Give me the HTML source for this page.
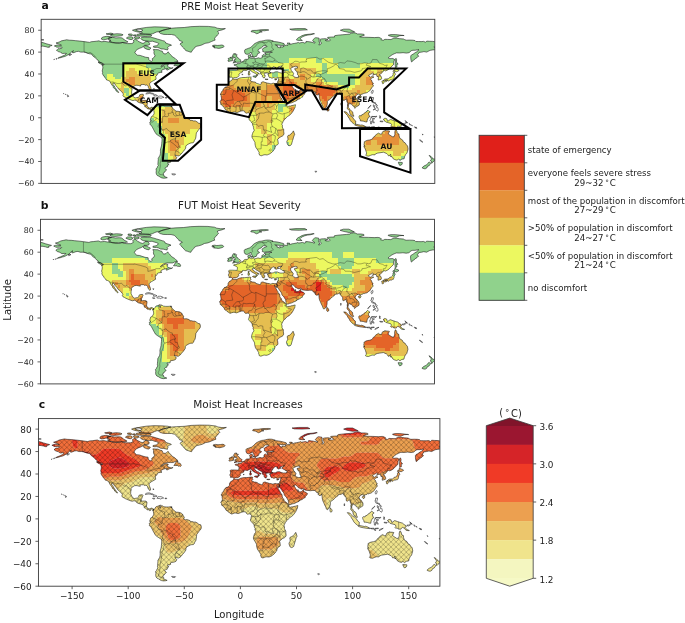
<!DOCTYPE html><html><head><meta charset="utf-8"><title>Moist Heat Severity</title><style>html,body{margin:0;padding:0;background:#fff;width:685px;height:623px;overflow:hidden}svg{display:block}text{font-family:"DejaVu Sans","Liberation Sans",sans-serif;fill:#1c1c1c}.tk{font-size:7.8px}.tk2{font-size:8.9px}.ti{font-size:10.2px}.pl{font-size:10.8px;font-weight:bold;fill:#111}.ax{font-size:10.1px}.lg{font-size:8.6px}.lg2{font-size:9.8px}.bx{font-size:7.6px;font-weight:bold;fill:#111}</style></head><body><svg width="685" height="623" viewBox="0 0 685 623"><defs><path id="land" d="M-168,65.6L-166.5,66.2L-164.5,66.6L-163.5,66.1L-161.5,66.3L-163,67L-164.5,67.6L-166.5,68.3L-164.5,68.9L-163,69.5L-161.5,70.3L-159,70.8L-156.8,71.3L-154.5,70.9L-152,70.8L-149,70.5L-145,70.1L-141,69.6L-138,69.2L-136,68.9L-134.5,69.5L-132,69.7L-129.5,70L-127.5,70.3L-125.5,69.5L-124,69.6L-122,69.8L-119,69.3L-116.5,69.2L-115,68.6L-112,68.3L-109,68L-107.5,68.2L-106,68.8L-104,68.1L-101.5,67.8L-98,67.8L-96.5,68.3L-95.5,69.5L-96.5,70.3L-95,71.5L-94,71.8L-93,71L-92,70L-90.5,69.3L-89,68.5L-87.5,68L-86,68.5L-85,69.8L-83,69.7L-82,69L-81.3,68.1L-81.5,66.8L-83.5,66.2L-86,66.3L-87,65.2L-88.5,64.2L-90.5,63.5L-92.5,62.5L-94,61.2L-94.8,59.5L-94.2,58.7L-92.5,57.2L-90,57L-88,56.3L-85,55.3L-82.3,55L-82.1,53.2L-81.2,52.2L-79.5,51.5L-78.8,52.5L-79,54L-77,55.5L-76.5,56.8L-77.3,58.3L-77.5,59.5L-77.3,60.8L-78,62.4L-76,62.3L-73.5,62.2L-71.5,61.2L-69.8,60.8L-69.3,59.3L-68.3,58.5L-67,58.4L-66,58.8L-64.5,60.3L-63.8,59.1L-62.5,57.8L-61.5,56.8L-60.7,55.7L-58.5,54.5L-57.3,53.3L-55.9,52.2L-56.9,51.4L-58.2,51.1L-60,50.2L-62.5,50.2L-65,50.2L-66.8,49.8L-68.5,49.2L-69.8,48.2L-71.2,46.9L-70,47.3L-68.2,48.5L-66.5,49.2L-64.5,48.9L-64.3,48.2L-65.3,47.8L-64.8,46.9L-64.3,46.3L-62.5,45.7L-61,45.3L-60,45.9L-61.2,45.2L-63.3,44.6L-65.3,43.6L-66.1,43.9L-65,45.2L-67,44.8L-68.5,44.3L-70.2,43.6L-70.8,42.8L-70.6,41.8L-69.9,41.8L-70.3,41.5L-71.5,41.4L-73,41.1L-74,40.6L-74.1,39.8L-74.9,38.9L-75.5,39.5L-75.1,38.4L-76,37.8L-75.7,36.9L-75.5,35.3L-76.5,34.7L-77.9,33.9L-79.2,33.2L-80.5,32.3L-81.3,31.3L-81.4,30.2L-81,29.1L-80.5,28L-80.1,26.8L-80.2,25.6L-80.9,25.2L-81.3,25.9L-81.8,26.3L-82.5,27.6L-82.7,28.7L-83.5,29.6L-84.3,30L-85.4,29.7L-86.3,30.4L-88,30.4L-89.3,30.3L-89.5,29.4L-89.2,29.1L-90.2,29.1L-91.5,29.5L-93,29.7L-94.5,29.5L-95.5,28.8L-96.8,28.1L-97.4,27.2L-97.4,25.8L-97.7,24.3L-97.8,22.5L-97.3,21.2L-96.5,19.8L-95.8,18.7L-94.6,18.1L-93.2,18.4L-91.8,18.6L-90.7,19.6L-90.4,21L-89,21.4L-87.3,21.5L-86.8,20.8L-87.4,19.6L-87.8,18.3L-88.3,17.6L-88.3,16.2L-88.8,15.8L-87.5,15.8L-85.8,15.9L-84.3,15.8L-83.3,15L-83.3,14L-83.6,12.3L-83.7,11L-83,10L-82.2,9.1L-81.4,8.8L-80.3,9.2L-79.5,9.6L-78.5,9.4L-77.4,8.7L-77.2,7.9L-77.9,7.2L-78.5,8.3L-79.5,8.9L-80.4,8.3L-80,7.5L-80.9,7.3L-81.7,8.1L-82.9,8.1L-83.6,8.6L-84.9,9.8L-85.7,9.9L-85.8,11.1L-86.6,12L-87.5,12.9L-88.5,13.2L-89.8,13.5L-91.3,13.9L-92.3,14.6L-93.5,15.7L-94.7,16.2L-96.5,15.7L-97.9,16.1L-99.4,16.7L-101.1,17.4L-102.5,18L-103.6,18.7L-105,19.3L-105.7,20.4L-105.2,21.6L-105.8,22.6L-106.9,23.8L-108,25L-109.4,26L-110.5,27.7L-111.3,28.6L-112.3,29.6L-113,31.1L-113.9,31.6L-114.8,31.8L-114.6,30.2L-113.5,29L-112.7,27.5L-111.5,25.9L-110.7,24.8L-110.2,24.2L-109.5,23.2L-110,22.9L-111,24.1L-112.1,24.8L-112.3,26L-113.5,26.8L-114.5,27.7L-114.2,28.2L-115.5,29.7L-116.3,30.9L-117.1,32.5L-117.4,33.3L-118.4,33.8L-119.2,34.2L-120.6,34.6L-120.9,35.5L-121.9,36.5L-122.4,37.2L-122.5,37.8L-123,38L-123.8,39.3L-124.3,40.3L-124.1,41.5L-124.5,42.8L-124.1,44.5L-123.9,46.2L-124.1,47L-124.7,48.4L-123.2,48.1L-122.8,49L-123.5,49.5L-124.9,50L-125.6,50.4L-127.5,51L-127.8,52.2L-129.1,53L-130.1,54.2L-130.6,54.8L-131.8,55.5L-133.3,56.8L-134.2,58.2L-135.8,58.4L-137.2,58.8L-139.5,59.7L-141.5,60L-144,60L-146,60.7L-147.8,60.5L-149.3,59.9L-151.2,59.3L-151.8,60.2L-150.5,61.2L-152,60.5L-153.3,59.3L-154,58.2L-155.5,57.6L-157,56.7L-158.5,56L-160.2,55.6L-162,55L-163.5,54.7L-164.8,54.4L-163.2,55.3L-161.6,55.9L-160.3,56.5L-158.5,57.3L-157.5,58.2L-157,58.8L-158.5,58.9L-160.5,58.7L-162,59.5L-162.5,60L-164.5,60.5L-165.3,61.2L-166.1,61.6L-165.2,62.4L-164.6,63.1L-163,63.1L-161.5,63.5L-160.8,64.2L-161.5,64.5L-163,64.6L-165,64.5L-166.3,64.6L-166.8,65.2L-168,65.6ZM-73,78.3L-70,79.8L-66,81L-62,81.8L-57,82.2L-50,82.5L-44,83.3L-36,83.6L-28,83.5L-22,82.8L-20,81.9L-16.5,81.4L-12.5,81.5L-15.5,80.3L-19,79.5L-19.5,78.4L-18.3,77.2L-19.5,76L-20.3,74.8L-21.8,73.5L-22.3,72.3L-21.8,71L-23.5,70.4L-25.3,69.6L-28,68.5L-31,68L-34,66.5L-36.5,65.8L-38.5,65.4L-40,64.7L-40.8,63.5L-42,62.2L-43,60.9L-43.5,59.9L-44.6,60.1L-46.5,60.8L-48.3,61.3L-49.5,62.5L-50.5,63.8L-51.6,64.8L-52.5,66L-53.6,67.2L-53,68.3L-51.2,69L-52.5,70L-54.3,70.6L-54.5,71.5L-55.8,72.5L-57,74L-58.6,75.4L-61.5,76.1L-65,76.1L-68.5,76.2L-71.5,77L-73,78.3ZM-65,62L-66.5,62.3L-68.5,62.8L-71,62.9L-72.7,63.8L-74.5,64.4L-76.5,64.3L-78,64.6L-77.8,65.4L-75,65.9L-73.7,66.7L-73,67.8L-74.5,68.7L-76.8,69.3L-78.7,70L-81,69.8L-84.2,70.2L-86.5,70.5L-88.5,71.4L-89.5,72.5L-88.5,73.5L-86,73.8L-83,73.6L-80.5,73.7L-77,72.8L-74.5,72L-72,71.3L-69.5,70.5L-68,70.1L-67,69.2L-66.8,68.3L-64.5,67.5L-62.2,66.8L-61.5,66.3L-63.3,65.7L-64.2,65.1L-65,64.2L-64.5,63.5L-65,62.8ZM-118.5,73.3L-115,73.5L-112,73L-108.5,73.2L-106.5,73L-105,72L-104.2,71L-102,70L-101,69.2L-103.5,68.8L-106.5,68.8L-109,68.6L-112,68.5L-115,68.9L-117.5,69.5L-118.4,70.3L-116.5,70.6L-117.5,71.2L-119,71.6L-118.5,72.5ZM-125.3,71.9L-124.8,73.2L-123.5,73.9L-120.5,74.4L-117.5,74.2L-115.5,73.5L-117.3,72.9L-119.2,72.2L-121.5,71.5L-123.5,71.2ZM-89.5,76.5L-85,76.3L-81,76.3L-78.5,76.8L-76.5,77.8L-75,78.4L-73,78.7L-71,79.3L-68.5,80.2L-65,80.9L-62,81.9L-65,82.6L-70,82.9L-77,83.1L-84,82.6L-89,81.8L-92.5,80.9L-94,80.2L-92,79.4L-89,78.6L-88,77.8L-90.5,77.2ZM-90.5,78.2L-93,78.6L-95.5,79.3L-97,80L-95,80.7L-92,81.3L-89.5,80.8L-87.5,80.2L-88.5,79.2ZM-80,74.6L-85,74.4L-89.5,74.6L-92,75L-93.2,75.6L-92.5,76.3L-89,76.6L-85,76.5L-81.5,76.3L-79.5,75.6ZM-117,75.5L-115.5,76.4L-111,76.8L-107.5,76.6L-105.5,75.9L-106.5,75.1L-109,74.7L-112.5,74.4L-115.5,74.6ZM-96.6,72L-98.2,71.4L-100.5,71.9L-102.5,72.8L-101,73.9L-98,74L-96.4,73.2ZM-90.6,73.8L-94.8,74.1L-95.4,73L-94,72.2L-92.2,72L-90.6,72.7ZM-97.2,75.1L-100.5,75.5L-100.5,76.5L-98,76.6L-96.8,75.8ZM-93.5,74.8L-96,75L-96.2,75.6L-94,75.8ZM-114.5,76.6L-116.5,77.4L-121,76.7L-119.5,76L-116.5,76.1ZM-81.5,62.2L-83.5,62.5L-86,63.6L-86.8,64.8L-85.8,65.9L-83.8,65.6L-82,64.6L-80.2,63.8ZM-24.5,65.5L-23.8,66.1L-22,66.4L-20,66.1L-18,66.2L-16,66.5L-14.5,66.2L-13.6,65.2L-14.6,64.4L-16.5,63.8L-18.5,63.4L-20.5,63.7L-22.7,63.9L-22,64.5L-23.8,64.8L-22.3,65.2ZM-59.3,47.6L-58.5,48.6L-57.6,50.2L-56.6,51.3L-55.6,51.6L-55.9,50.5L-55.3,49.8L-54,49.6L-53.4,49.2L-53,48.3L-52.7,47.5L-53.4,46.7L-53.9,47.1L-54.6,47.1L-55.4,46.9L-56,47.6L-57.7,47.6ZM-123.3,48.4L-124.7,48.6L-125.9,49.2L-127.5,50.1L-128.3,50.8L-127,50.7L-125.3,50.2L-124,49.3ZM-84.9,21.9L-84,22.7L-82.5,23.1L-81,23.1L-79.5,22.5L-78,22.2L-77,21.4L-75.7,21L-74.2,20.2L-75.5,19.9L-77.6,19.9L-77.2,20.6L-78.4,21.6L-80.3,22L-81.6,22.2L-83,22L-84,21.8ZM-74.4,18.4L-73.2,19.8L-72,19.8L-70.8,19.8L-69.5,19.3L-68.4,18.6L-69.9,18.3L-71.1,17.7L-71.8,18.1L-73.5,18.2ZM-78.3,18.4L-76.5,18.4L-76.2,17.9L-77.2,17.7L-78.3,18.2ZM-67.2,18.5L-65.6,18.4L-65.7,18L-67.2,18ZM-77.4,8.7L-76.8,8.6L-76,9.5L-75.5,10.5L-74.8,11L-73.5,11.3L-72.2,11.9L-71.3,12.4L-71.3,11.5L-71.9,10.8L-71.6,9.5L-71,9.7L-71.2,10.9L-70.2,11.4L-70.1,12L-69.4,11.5L-68.3,10.8L-66.3,10.6L-64.2,10.6L-63,10.7L-62,10.7L-61,9.8L-60.5,8.6L-59.3,7.7L-58.4,6.9L-57.3,6L-55.5,5.9L-54,5.6L-52.6,5L-51.6,4.2L-51,3L-50.3,1.8L-49.9,1L-50.7,0L-49,-0.8L-47.8,-0.6L-46.3,-1L-44.8,-1.6L-44.3,-2.6L-43,-2.4L-41.5,-2.9L-39.7,-2.9L-38,-4L-37,-4.9L-35.3,-5.3L-34.8,-7.3L-35.1,-9L-36.4,-10.5L-37.2,-11.5L-38.2,-13L-38.9,-13.8L-39.1,-15.5L-39.3,-17.5L-39.7,-19.3L-40.7,-20.8L-41,-22L-41.9,-22.9L-43.5,-23L-44.6,-23.3L-46,-24L-47.6,-24.9L-48.5,-26L-48.6,-27.8L-49.6,-29.3L-50.6,-30.7L-51.9,-32L-52.7,-33.2L-53.6,-34L-54.9,-34.9L-55.9,-34.8L-57,-34.5L-58.4,-34.1L-58.3,-34.6L-57.2,-35.6L-56.7,-36.4L-57.5,-37.9L-59,-38.5L-61.5,-38.9L-62.3,-39.3L-62.2,-40.6L-63.6,-41.1L-65,-40.9L-65.1,-41.7L-64.2,-42.3L-63.7,-42.8L-65,-43.2L-65.2,-44.8L-66.5,-45.1L-67.5,-46.3L-66.6,-47L-65.9,-47.8L-67.2,-48.7L-67.8,-49.9L-68.7,-50.3L-69.1,-51.6L-68.3,-52.3L-68.5,-53.3L-67.2,-54L-65.3,-54.8L-66.5,-55.1L-68.5,-55.3L-70.3,-55L-71.6,-54.4L-72.9,-53.5L-74.4,-52.8L-75.2,-51.7L-75.5,-50L-75.3,-48.5L-75.6,-46.8L-74.6,-45.8L-74.2,-44.5L-73.4,-43.8L-73.9,-42.7L-73.8,-41.4L-73.7,-39.8L-73.5,-38.3L-73.6,-37.2L-72.8,-35.8L-71.9,-34.2L-71.6,-32.8L-71.5,-31.1L-71.6,-29.6L-71.3,-28L-70.9,-26.8L-70.5,-25L-70.4,-23.5L-70.2,-21.5L-70.1,-19.8L-70.3,-18.3L-71.4,-17.6L-72.7,-16.8L-74.2,-15.8L-75.6,-14.7L-76.3,-13.5L-77.1,-12.1L-77.8,-10.8L-78.6,-9.2L-79.4,-7.8L-79.9,-6.9L-81.2,-6L-80.9,-5L-81.3,-4.1L-80.3,-3.4L-79.8,-2.6L-80.3,-2.7L-80.9,-2.2L-80.5,-1L-80.1,0.1L-80,0.8L-79,1.2L-78.6,1.8L-77.9,2.6L-77.3,3.8L-77.3,4.7L-77.5,6.3L-77.9,7.2L-77.3,7.9ZM-5.9,35.8L-5,35.3L-3.5,35.2L-2,35.1L-1,35.6L0.5,36.3L2,36.6L3.5,36.8L5.5,36.8L7.5,37L9.8,37.3L11.1,37L10.5,36.4L10.8,35.6L11.1,35.2L10.3,34.4L10.1,33.8L11.1,33.3L12.5,32.8L13.9,32.7L15.3,32.2L15.7,31.4L17.2,31.1L18.7,30.5L19.6,30.5L20.1,31.2L20,32.1L20.9,32.7L22,32.9L23.2,32.4L24.9,31.9L25.9,31.6L27.4,31.4L29,30.9L30,31.3L31,31.6L32.2,31.3L34.2,31.3L34.9,29.5L34.4,28.3L34.2,27.8L33.8,28.2L33.2,28.9L32.6,29.9L32.4,29.6L32.8,28.7L33.4,27.6L34,26.5L34.8,25.1L35.6,23.9L35.6,23.1L36.9,22L37.2,21L37.3,19.5L37.9,18.4L38.6,17.6L39.2,16L39.7,15.4L41.2,14.5L42.3,13.4L43.3,12.5L43.2,11.6L42.7,11.5L43.6,10.8L44.6,10.4L45.6,10.7L46.7,10.7L47.7,11.1L49,11.3L50.3,11.7L51.2,11.9L51,10.6L50.8,9.4L50,8L49.5,6.8L48.6,5.4L47.7,4.2L46.6,2.9L45.6,2.1L44.1,1.2L42.8,0L41.8,-1.2L41,-2L40.2,-2.8L39.6,-4.3L39.2,-4.9L38.8,-6.4L39.4,-7.1L39.2,-8.5L39.9,-10.1L40.5,-10.8L40.5,-12.5L40.8,-14.7L40.1,-16.1L39.4,-16.7L37.4,-17.6L36.3,-18.7L34.8,-19.8L35.3,-21.2L35.4,-22.1L35.6,-23.7L35.1,-24.5L33.8,-25.2L32.9,-26.1L32.6,-27.4L32.4,-28.5L31.5,-29.3L30.9,-30.4L30,-31.3L28.9,-32.2L27.5,-33.2L26.4,-33.6L25.8,-33.9L24.7,-34L23.6,-33.8L22.6,-33.9L21.5,-34.3L20,-34.8L19.2,-34.5L18.4,-34.1L18.4,-33.2L18,-32.6L18.2,-31.7L17.6,-30.7L17.1,-29.9L16.3,-28.6L15.6,-27.8L15.2,-27.1L14.7,-25.4L14.4,-23.9L14.4,-22.7L13.9,-21.7L13.4,-20.9L12.8,-19.7L12.2,-18.9L11.7,-17.8L11.6,-16.7L11.8,-15.8L12.2,-14.4L12.7,-13.1L13.6,-12L13.7,-11.3L13.2,-10.1L12.9,-9.2L13.2,-8.6L12.5,-7.3L12.2,-6.3L12.3,-5.7L11.9,-5L11.1,-3.9L10.1,-2.9L9.4,-2.1L8.8,-1.1L9.3,0L9.5,1L9.8,2.3L9.9,3.1L9.4,3.7L8.9,4.1L8.5,4.5L7.5,4.4L6.7,4.2L5.9,4.3L5.4,4.9L4.8,6.1L4.3,6.3L2.7,6.3L1.9,6.1L1.1,5.9L-0.5,5.3L-1.1,5L-2,4.7L-3.3,5L-4,5.2L-5,5.2L-6.6,4.7L-7.5,4.3L-8.4,4.5L-9.3,5.2L-10.8,6.2L-11.4,6.8L-12.1,7.3L-12.9,7.8L-13.2,8.9L-13.7,9.5L-14.5,10.2L-14.7,10.7L-15.1,11L-15.7,11.5L-16.1,11.6L-16.7,12.4L-16.8,13.2L-16.7,13.6L-17.1,14.4L-17.6,14.7L-17.2,14.9L-16.5,16.1L-16.1,17L-16.1,18.1L-16.3,19.1L-16.4,19.6L-16.3,20.1L-16.5,20.6L-17,21L-16.9,21.9L-16.3,22.7L-16.1,23.6L-15.4,24.4L-15.1,24.5L-14.8,25.1L-14.4,26.3L-13.8,26.6L-13.1,27.7L-12.6,28L-11.7,28.1L-10.9,28.8L-10.4,29.1L-9.6,29.9L-9.8,31.2L-9.4,32L-8.7,33.2L-7.7,33.7L-6.9,34.1L-6.2,35.1ZM49.3,-12L49.9,-13.5L50.5,-15.5L49.9,-16.5L49.5,-17.7L49,-19.5L48.5,-21L48,-22.8L47.5,-24.5L47,-25.1L45.4,-25.6L44.4,-25.1L43.7,-23.6L43.3,-22L43.5,-21.3L44.4,-19.8L44.3,-18.6L44,-17.2L44.5,-16.2L46,-15.8L47.1,-14.9L47.8,-14L48.3,-13.6L49,-12.5ZM-5.6,36L-6.3,36.5L-6.9,37.2L-7.9,37L-8.9,37L-8.8,38L-9.3,38.7L-9.4,39.4L-8.9,40.2L-8.7,41.3L-8.9,42.1L-9.3,43L-8.2,43.6L-7,43.6L-5.5,43.6L-3.8,43.5L-1.8,43.4L-1.4,44.2L-1.2,45.5L-1.2,46.2L-2.1,46.8L-2.5,47.3L-3.5,47.7L-4.5,47.9L-4.7,48.4L-4,48.7L-3,48.8L-1.9,48.7L-1.6,49.7L-1.1,49.4L0.2,49.5L1,49.9L1.6,50.3L1.7,50.9L2.5,51.1L3.5,51.5L4,51.9L4.7,52.5L4.9,53L5.8,53.4L7,53.4L8.1,53.5L8.6,53.9L8.6,55.4L8.1,56.5L8.6,57.1L9.9,57.6L10.6,57.7L10.5,57.2L10.3,56.6L10.9,56.4L10.2,55.9L9.8,55.3L9.9,54.8L10.9,54.4L11.5,54.1L12.5,54.4L13.6,54.6L14.3,53.9L16,54.3L17.5,54.8L18.7,54.4L19.6,54.4L21.2,55.2L21,56.2L21.1,57L21.6,57.5L22.6,57.8L23.5,57L24.1,57.1L24.4,58.3L23.5,58.5L23.4,59.2L24.6,59.5L26.5,59.6L28,59.5L30.2,59.9L29,60.2L27.8,60.5L26,60.4L23,59.9L22.8,60.2L21.4,60.6L21.5,61.6L21.2,62.5L21.5,63.2L22.5,63.8L24.5,64.8L25.4,65.1L25.2,65.6L24.1,65.8L22.4,65.9L21.4,65.3L21.2,64.7L20.3,63.9L19,63.4L18,62.7L17.4,62.3L17.2,61.2L17.3,60.6L18.6,60.2L18.8,59.6L18.3,59.2L16.7,58.5L16.5,57.5L16,56.6L15.8,56.1L14.5,56.1L14.2,55.4L12.9,55.4L12.7,56.1L12.4,56.6L11.9,57.5L11.5,58.3L11.1,59.1L10.6,59.8L10.2,59.2L9.3,58.8L8.3,58.1L7,58L5.6,58.6L5.3,59.3L5,60L5,61L5,61.8L5.5,62.4L7,62.9L8.5,63.5L10,64L11,64.8L12.3,65.8L13.2,67L14.5,68L15.7,68.6L17,69.2L18.8,69.9L20.5,70.1L22,70.4L24,70.9L26,71.1L28,71L29.6,70.6L31,70.2L30.2,69.8L32.5,69.6L35.5,69.2L38.5,68.5L40.8,67.8L41.2,66.8L40.3,66.3L38.5,66.1L35.5,66.4L34.2,66.6L32.7,66.8L33.3,66.2L34.8,65.9L34.8,64.6L36.5,64.2L37.2,63.8L37.7,64.4L37,65L38.5,64.8L40,64.6L40.5,65.1L39.8,65.5L41.5,66L43,66.4L44.1,66L44.3,67.2L43.8,68.4L46,68.2L46.5,67.8L45.3,67.5L46.5,67L48.5,67.7L50,67.9L52.5,68.4L53.8,68.9L54.5,68.3L56,68.6L58,68.9L59.5,68.3L61,68.9L60.8,69.8L63.5,69.5L65.3,69.2L67.2,68.8L68.3,68.2L69.2,68.8L68.2,69.3L67.2,70L66.8,70.7L67.3,71.5L68.5,72.6L69.5,73.2L71.5,73L72.7,72.7L72.6,71.3L72.8,70.2L72.6,69.2L73.6,68.4L73,67.4L72.4,66.6L73.8,66.8L74.7,67.7L74.5,68.8L73.6,69.8L73.8,71L73.3,71.5L74.8,72.1L76.8,72.2L78.5,72.3L80.7,71.6L79.5,71L78.2,70.9L79.2,70.3L82.3,70.3L83,71L82.2,72L80.6,72.6L80.5,73.5L84,73.8L86.8,73.8L86.5,74.6L87.1,75.1L90,75.5L94,75.9L98,76.2L100.5,76.5L102,77.3L104.3,77.7L106,77.4L107.5,76.6L111,76.6L113.5,76.2L113.8,75.4L112.5,75L110.5,74.3L109.5,74L112,73.6L114,73.6L118,73.5L123,73.3L126.5,73.5L128.5,73L129.5,72L128.8,71.4L131,70.8L132.5,71.7L135,71.6L138,71.5L140,72.5L141,72.8L143,72.7L146,72.3L149.5,72L150.5,71.4L152,70.9L155,71L158,70.9L159.8,70.6L160.7,69.7L163,69.7L165.5,69.6L167.8,69.8L169.5,69L170.5,70.1L173,69.9L176,69.8L178.5,69.4L180,69L180,65L177,64.7L178.7,63.5L179.2,62.3L176,62L173.5,61.6L170.5,60L168,60.5L166,60L164.5,59.8L163.5,59.8L163,58.5L162,57.8L163.2,56.2L162.5,56L161.8,55L160,54L159.5,53.2L158.5,52.8L158,52L156.7,51L156.3,52.5L156,54.5L156,56.5L156.8,57.5L158,58L160,59.5L161.5,60.3L163.5,62.3L160,61.7L158,61.7L156.5,61.3L154.5,59.5L152,59.1L149,59.5L146,59.2L143,59.3L141,58.5L139,57.5L137,56L135.5,54.7L137,54L138.5,54.2L139.7,54.2L141.3,53.3L141,52.3L140.5,51L140.5,50L140.3,48.5L139,47.3L138,46.3L136.8,45L135.3,43.8L133.2,42.8L132,43.2L131,42.6L130.7,42.3L129.8,41L128.5,40L127.5,39.7L127.5,39.2L128.4,38.6L129.3,37.2L129.5,35.8L129.2,35.2L128,34.9L126.5,34.4L126.4,35.3L126.6,36.8L126.1,37.7L125.3,37.7L125.1,38.5L124.7,39.6L123.5,39.8L122,39L121.2,38.8L121.8,39.4L122.3,40.4L121.5,40.9L120.5,40.3L119.5,39.8L118.5,39.2L117.7,38.8L118,38L118.9,37.5L119.3,37.1L120.5,37.7L121.5,37.5L122.6,37.3L122.2,36.9L121,36.6L120.2,36.1L119.3,35.1L120.3,34.4L120.8,33L120.9,32.3L121.9,31.7L121.9,30.9L121,30.6L122,29.8L121.8,28.8L121,28L120.5,27.2L119.7,26.1L119.3,25.4L118.7,24.6L117.6,24L116.5,23L115.2,22.7L114.2,22.3L113.5,22.6L113,22L111.8,21.6L110.5,21.2L110.2,20.3L109.8,21.4L108.5,21.6L107.4,21.3L106.6,20.5L105.8,19.3L105.7,18.6L106.6,17.4L107.5,16.4L108.7,15.2L109.3,13.5L109.2,11.6L108,10.8L106.8,10.3L106,9.3L105.1,8.6L104.8,9.5L105,10L104.5,10.5L103.5,10.6L102.9,11.7L102.3,12.3L101,12.7L100.9,13.5L100.1,13.4L99.9,12.5L99.2,10.8L99.3,9.3L100.3,8.3L100.5,7.2L101.3,6.9L102.2,6.2L103,5.5L103.4,4.4L103.4,3.3L103.9,2.5L104.3,1.4L103.5,1.3L102.6,2L101.3,2.9L100.7,3.9L100.4,5L100.3,6.3L99.7,6.8L99,7.8L98.3,8.3L98.4,9.5L98.7,10.5L98.5,12L98.8,13L98.1,14.5L97.7,16L97.4,16.9L96.5,16.6L95.4,15.8L94.5,16L94.3,17.5L94.4,18.8L93.5,19.6L92.8,20.6L92.2,21.3L91.9,22.3L91.3,22.6L90.6,22.3L89.7,21.9L89,21.8L88.2,21.7L86.9,21.3L86.7,20.3L85.8,19.8L85,19.3L84.1,18.3L82.3,16.6L81.5,16.3L80.7,15.6L80.2,15L80.2,13.3L80.1,12.3L79.8,11.3L79.8,10.3L79.2,10.2L78.9,9.3L78.2,8.9L77.5,8.1L77,8.4L76.6,9L76.2,10.2L75.7,11.3L75.2,12.2L74.6,13.6L74.1,14.9L73.5,16L73.1,17.5L72.9,18.9L72.8,20L72.7,21.2L72.5,22.3L72.2,21.2L71,20.8L70,21L69,22.3L69.6,22.5L70.3,22.9L68.8,23.1L68.2,23.7L67.4,24L67,24.8L66.6,25.4L65.5,25.3L64,25.3L62.4,25.1L61.5,25.2L59.6,25.4L58.4,25.6L57.3,25.8L57,26.8L56.4,27.2L55.6,26.9L54.7,26.5L53.5,26.9L52.3,27.6L51.5,27.9L50.8,28.8L50.2,29.6L49.5,30L48.9,30.3L48.4,29.9L48,29.9L47.9,29.4L48.4,28.5L48.8,27.7L49.6,26.9L50.1,26.3L50.2,25.7L50.6,25L51,24.6L51.3,26.1L51.6,25.3L51.6,24.5L52.5,24.2L53.8,24.1L54.6,24.5L55.5,25.3L56.1,26.1L56.4,26.3L56.3,25.3L56.4,24.8L57.2,23.9L58.6,23.6L59.4,22.6L59.8,22.5L59.3,21.4L58.5,20.5L57.8,19.9L57.7,18.9L56.6,18.6L55.7,17.9L55.2,17.3L53.9,16.9L52.4,16.2L52.2,15.6L49.6,14.5L48.7,14L47.5,13.6L45.9,13.3L45,12.8L43.5,12.7L43.2,13.3L42.8,14.3L42.8,15.3L42.6,16.5L41.8,17.8L40.9,19.4L39.8,20.4L39.1,21.5L38.9,22.5L38.2,24L37.5,24.5L37.1,25.2L36.6,25.9L36,26.9L35.1,28L34.6,28.1L34.8,28.9L35,29.5L34.2,31.3L34.5,31.6L34.9,32.5L35.1,33.1L35.5,33.9L35.9,34.6L35.8,35.5L36,35.9L36.2,36.6L35.6,36.6L34.7,36.8L34,36.3L33.2,36.1L32.4,36.2L31.5,36.7L30.6,36.7L30.4,36.2L29.6,36.2L28.7,36.7L27.6,36.7L27.2,37.7L26.4,38.2L26.8,38.7L26.7,39.3L26.1,39.5L26.2,40.1L27.5,40.4L29.1,41.1L30.5,41.1L31.4,41.2L32.5,41.8L33.4,42L35,42L35.5,41.7L36.9,41.2L38.3,40.9L39.5,41L40.4,41L41.5,41.5L41.7,42.1L41.5,42.7L40.3,43.1L39,44L37.6,44.7L37,45.3L38,46.2L39.2,47.2L37.5,47L35.5,46.5L35,45.7L36.5,45.4L35.5,45.1L34.5,44.6L33.6,44.4L33.5,45L32.5,45.4L33.6,45.9L32.5,46.1L31.6,46.6L30.8,46.5L30.2,45.8L29.6,45.3L28.8,44.6L28.6,43.7L27.9,43L27.9,42.6L27.5,42.4L28,41.8L28.5,41.3L29,41.2L27.5,41L26.4,40.6L26,40.8L25.5,40.9L24.5,40.9L23.7,40.7L22.9,40.6L22.6,40.2L23,39.3L22.7,38.9L24,38.2L23.1,37.4L23,36.5L22.4,36.5L21.7,36.8L21.1,37.8L21.5,38.3L20.8,38.8L20.2,39.6L19.4,40.3L19.5,41.2L19.4,41.9L18.5,42.4L17.5,43L16.4,43.5L15.5,44L14.9,44.6L14.5,45.2L13.8,44.9L13.6,45.6L13.1,45.7L12.4,45.4L12.3,44.8L12.4,44.2L13.5,43.6L14,42.7L14.8,42L16,41.9L16.2,41.6L17.3,40.9L18,40.6L18.5,40.1L18.3,39.8L17.2,40.4L16.6,40L16.5,39.6L17.1,39.1L16.6,38.4L16.1,38L15.7,37.9L15.7,38.7L16.2,38.9L15.7,40L15,40.2L14.6,40.6L14,40.9L13.1,41.3L12.2,41.8L11.3,42.4L10.6,42.9L10.3,43.7L9.7,44.1L8.8,44.4L8.1,43.9L7.5,43.8L6.6,43.2L5.5,43.2L4.5,43.4L3.4,43.3L3.1,42.5L3.2,42L2.2,41.3L0.9,40.9L0.2,40.2L-0.3,39.5L0.2,38.8L-0.5,38.3L-0.8,37.6L-1.6,37.2L-2.1,36.7L-3.4,36.7L-4.4,36.7L-5,36.4ZM-180,69L-178,68.6L-175.5,67.7L-173,67L-171.5,66.6L-170,66.2L-171.5,65.6L-172.8,65.3L-172.5,64.4L-174,64.4L-175.5,64.9L-177.5,65.3L-178.8,65.5L-180,65ZM-5.7,50.1L-4,50.4L-3,50.7L-1.5,50.7L0.5,50.8L1.4,51.2L0.9,51.8L1.7,52.6L1.3,53L0.3,53.4L-0.2,54L-0.6,54.5L-1.3,54.9L-1.6,55.6L-2.5,56L-2.8,56.4L-2.1,57.1L-1.8,57.6L-3.3,57.7L-4,57.6L-3.1,58.6L-5,58.6L-5.3,58L-5.8,57.3L-5.6,56.5L-6.3,56.3L-5.5,55.5L-4.9,55.7L-4.7,55L-5.1,54.8L-3.5,54.9L-3.3,54.3L-3,53.8L-3.1,53.3L-4.2,53.3L-4.6,52.8L-4.1,52.3L-5.2,51.8L-4.2,51.6L-3.2,51.4L-4,51.2L-4.5,50.9L-5.2,50.5ZM-6,52.2L-6,53.3L-6.1,54L-5.5,54.4L-6,55.2L-7.3,55.3L-8.3,55.1L-8.6,54.6L-10,54.2L-9.8,53.5L-9,53.2L-9.9,52.6L-10.3,51.9L-9.6,51.5L-8.2,51.8L-6.3,52.2ZM11,78.6L13.5,78.2L16,76.8L17.5,77.3L19,78.2L21,78.5L18.5,79.3L20,79.7L23,79.5L27,80.2L25,80.6L20,80.5L16,79.9L12,79.8L11,79.3ZM52,71.3L53,70.8L55.5,70.6L57.5,70.7L56,71.5L55.7,72.5L56.5,73.3L58,74.2L60,75L62.5,75.6L65,75.9L68.5,76.8L68,77L64,76.4L60,76L57,75L55.5,74L54,73.3L53,72.5L52.5,71.6ZM95,79L100,78L105,78.5L103,79.5L100,81L95,81L92,80ZM136,75L140,74L143,73.7L146,75L149,75.3L150,75.1L146,75.6L142,76L138,76L135.5,75.5ZM48,80.2L55,80L62,80.4L60,81.5L52,81.5L46,81ZM142,46L143.5,46.5L143.3,49L144.5,49L143,51L143.2,53L142.7,54.3L142.2,54L141.7,53.3L142,51.5L141.8,48.5L142,47L141.9,46ZM141,41.5L141.5,42.6L143.3,42L145.5,43.3L144.5,44.1L143,44.5L141.8,45.4L141.5,44.3L141.4,43.2L140.3,43.3L140,42.3L140.5,41.8ZM141.4,41.4L142,39.5L141,38.3L141,37L140.6,36L140.8,35.7L140,35L139.5,35.2L138.8,34.6L137.3,34.6L136.8,34.3L136,33.5L135,33.8L135,34.6L133.5,34.5L132,33.9L131,34L131.3,34.5L132.5,35.4L134,35.5L135.5,35.6L136.5,36.2L137,37L138.5,37.4L139.5,38.3L140,39.5L140,40.5L140.3,41.2ZM129.8,33.4L130.9,33.9L131.7,33.3L132,32.8L131.3,31.4L130.6,31L130.2,31.5L130.1,32.7L129.7,33ZM132.5,33.3L133,32.8L134.2,33.3L134.7,33.8L134.2,34.3L133,34.1L132.6,33.8ZM120.1,23L120.7,22L121.5,22.7L121.9,24.5L121.5,25.3L120.8,24.8L120.2,23.8ZM108.6,19.2L109.2,18.4L110.2,18.2L111,19.6L110.6,20.1L109.7,20L108.7,19.8ZM79.8,7L80,9.8L80.5,9.4L81.3,8.5L81.8,7.3L81.6,6.5L80.6,5.95L80.1,6.3ZM120.6,18.5L122.2,18.5L122.1,17L121.6,16L121.6,15.2L122,14L123.9,13.8L124.2,12.6L123.3,13L122.5,13.6L121.5,13.8L120.6,14.3L120.9,14.8L120,15.5L119.9,16.3L120.4,16.4ZM122,7L123.5,7.8L124.2,7.2L125.4,6L126.2,6.3L126.5,7.5L126,9.2L125.5,9.7L124.8,9L123.7,8.4L122.9,8.1L122.1,7.5ZM124.5,12.5L125.7,11.3L125,10.1L124.3,11.5ZM122,11.8L123.2,11L123.1,9.1L122.5,9.5L122,10.5ZM117.2,8.4L119.5,10.8L119.7,11.4L119.2,11L117.7,9.5ZM109,1.5L109.6,2L111,1.7L111.5,2.8L113,3.2L114,4.5L115.5,5.2L116.2,6.3L117,7L117.7,6.2L119.2,5.3L118.3,4.6L117.6,4.2L117.9,2.5L119,1L118,0.8L117.5,0L116.8,-1.2L116.4,-2.5L116.2,-3.9L114.6,-3.7L113.1,-3.2L111.8,-3L110.2,-2.9L110.1,-1.7L109.3,-0.5L109,0.5ZM119.4,-5.5L120.4,-5.6L120.5,-3L121.2,-2.6L121.5,-4.4L122.9,-4.7L122.2,-3.2L121.2,-1.6L123.3,-0.9L121,-0.6L120.2,0.5L121.5,1L123,0.9L124.5,0.5L125.2,1.5L124.5,1.2L122,1.1L120.6,1.3L120.1,0.6L119.8,0L119.4,-1.5L118.8,-2.8L119.4,-3.5ZM95.3,5.6L97.5,5.2L98.3,4.2L100.4,2.2L101.5,1.7L103.5,0.1L104,-1L104.5,-1.8L106,-3L105.8,-5.8L104.6,-5.9L102.3,-4L101,-2.5L100.3,-1L99,0.8L98.5,2L97,3.6L96,4.7ZM105.2,-6.8L106,-5.9L108.3,-6.3L110.5,-6.8L111.5,-6.6L112.6,-6.9L114.5,-7.8L114.3,-8.6L112,-8.3L110,-8L107.5,-7.5L106,-7ZM116.8,-8.4L119,-8.3L119,-8.8L116.8,-9ZM119.8,-8.5L123,-8.2L123,-8.6L119.8,-8.9ZM123.5,-10.3L125,-9.1L127.3,-8.4L126.5,-8.9L124.5,-10.1ZM131,-1.5L132.5,-0.4L134.2,-0.9L135,-3.3L137.5,-1.5L140,-2.4L142,-3.1L144.5,-3.8L145.8,-5L147.5,-6L147.9,-6.9L146.5,-7.5L147.2,-8.3L148.5,-9.5L150.6,-10.4L149.5,-10.5L147.5,-10.1L146,-8.2L144.3,-7.6L143.4,-8.5L143.2,-9.1L142.4,-9.2L141,-9.1L139.5,-8.1L138.4,-8.4L137.8,-7.6L138.7,-6.5L137.9,-5.2L135.3,-4.5L133.5,-4L132.8,-3.3L131.8,-2.8L132,-2ZM148.3,-5.6L150,-5.4L151.5,-4.2L152.3,-4.3L151.5,-5.5L150,-6.3L148.5,-6ZM113.7,-22L114.2,-21.8L115.5,-21L116.8,-20.6L118.8,-20.3L121,-19.5L122.3,-17.5L123.5,-17L123.6,-16.3L124.5,-15.5L125.9,-14.5L127,-14L128.1,-15L129.7,-14.9L130.2,-13.3L130.8,-12.4L132.6,-12.1L132.5,-11.5L133.7,-11.8L135.9,-12L136.8,-12.2L136.2,-13.3L135.5,-14.8L137.1,-15.9L139.2,-17.3L140.8,-17.4L141.6,-15.1L141.5,-13L142,-11L142.5,-10.7L143.5,-12.5L143.6,-14L145.3,-14.9L145.4,-16.5L146.1,-18.8L148.5,-20.3L149.5,-22.3L150.8,-22.8L151.9,-24.5L153.1,-25.8L153.6,-28.5L153.1,-30.5L152.5,-32.4L151.3,-33.7L150.4,-35.6L150,-37.5L148,-37.8L146.3,-39L144.9,-37.9L143.5,-38.8L141.6,-38.3L139.8,-37.3L139.6,-36.2L138.4,-35.7L138.5,-34.8L137.8,-35.7L137.5,-34.8L137.8,-33.2L136.4,-34.9L135.7,-34.8L135.2,-33.8L134.2,-32.8L131.3,-31.5L128,-32L126,-32.3L124,-33L123.5,-33.9L121,-33.8L119.5,-34.4L117.8,-35.1L116,-34.9L115,-34.3L115.7,-33.3L115.8,-32L115,-29.5L114.6,-28.5L113.4,-26.5L113.8,-25.5L114.2,-26.3L113.5,-24.5L113.8,-23ZM144.7,-40.7L148.3,-40.9L148.3,-42.1L147.5,-43.2L146,-43.6L145.2,-42.2ZM172.7,-34.4L174.3,-35.3L175.5,-36.5L176,-37.6L178.5,-37.7L177.9,-39.2L176.9,-39.5L176.3,-40.5L175.2,-41.6L174.6,-41.2L175,-39.9L173.8,-39.3L174.6,-38.3L174.6,-37L173.5,-35.5ZM172.7,-40.5L174,-41.3L174.2,-41.8L173.2,-43L172.8,-43.8L171.3,-44.3L170.6,-45.9L169.3,-46.6L168.3,-46.6L166.5,-46L166.7,-45.2L168.3,-44L170.5,-43L171.5,-41.8L172.1,-40.9ZM12.4,37.8L13.3,38.2L15.6,38.3L15.1,36.7L14.3,37L12.7,37.6ZM8.4,39L8.4,40.9L9.3,41.2L9.8,40.5L9.6,39.1L9,39ZM8.6,41.4L8.6,42.6L9.4,43L9.5,42L9.2,41.4ZM23.5,35.3L26.3,35.3L26.1,35L24.7,34.9L23.5,35.2ZM32.3,34.7L32.5,35.1L34,35.3L34.6,35.7L34,35L33.8,34.9L33,34.6ZM11,55.4L12.6,55.6L12.3,56.1L11.2,55.9ZM178.8,71.2L180,71.6L180,70.9ZM-180,71.6L-177.5,71.2L-180,70.9ZM-155.9,19.1L-155,19.5L-155.1,20.1L-155.9,20.2L-156,19.6ZM-156.7,20.9L-156,20.8L-156.3,20.6ZM-158.3,21.6L-157.7,21.3L-158.1,21.3ZM-159.8,22.1L-159.3,22.2L-159.4,21.9ZM-61.3,-51.3L-59.5,-51.3L-57.8,-51.5L-58.5,-52.3L-60.5,-52.2ZM68.8,-49.1L70.2,-48.8L70.5,-49.4L69.5,-49.7ZM164,-20.2L164.8,-20.4L167,-22.2L166.5,-22.4L164.4,-20.8ZM159.5,-8.3L160.8,-9.2L160.5,-9.5L159.3,-8.6ZM156.6,-6.6L157.5,-7.3L157.2,-7.5ZM160.8,-8.4L161.5,-9.7L161.2,-9.8L160.6,-8.8ZM166.6,-14.8L167.2,-15.6L166.8,-15.7ZM177.3,-17.4L178.5,-17.5L178.3,-18.2L177.4,-18ZM150.8,-2.6L152.4,-3.8L153.1,-4.8L152.7,-4.7L151.3,-3.2ZM154.6,-5.2L155.9,-6.4L155.3,-6.8L154.7,-5.8ZM127.6,1.8L128.5,1.5L128.2,0.5L128.7,-0.3L127.7,-0.4L127.9,1ZM128,-3L130.8,-3.2L130.5,-3.8L128.2,-3.5ZM119,-9.5L120.8,-9.9L120.6,-10.3L119.2,-9.8ZM114.4,-8.1L115.7,-8.3L115.2,-8.8ZM115.9,-8.3L116.7,-8.4L116.4,-8.9ZM92.7,13.6L93,12.3L92.6,11.5L92.4,12.5ZM2.4,39.5L3.4,39.8L3.2,39.3ZM-166.5,53.9L-165.5,54.1L-166.3,53.5ZM-168.5,53.2L-167.8,53.5L-168.3,52.9ZM-154.5,58L-152.3,57.9L-153.4,57.1L-154.4,56.8ZM-78,26.7L-77,26.6L-77.5,25.9ZM-61.9,10.8L-61,10.8L-61,10.1L-61.9,10.1ZM108.6,19.2L108.6,19.2L108.6,19.2Z"/><path id="water" d="M46.9,44.8L47.5,43L48.6,41.8L49.5,40.5L49.2,39.5L48.9,38.4L49.9,37.5L51.6,36.8L53.9,36.9L53.9,38.7L53,39.5L53,40.7L52.7,42L51.3,43.1L51,44.4L50.3,44.6L51.3,45.3L53,45.3L53,46.7L51.5,47.1L49.5,46.6L48.8,46.2L47.5,45.7Z"/><path id="bord" d="M-123,49L-95,49L-95,49.3L-89.5,48L-84.5,46.5L-82.5,45.3L-82.5,42.5L-79,43.3L-76.5,44.2L-75,45L-71.5,45L-70,46.5L-69.2,47.4L-68,47.3L-67.8,45.5L-67,44.8M-141,69.6L-141,60.3L-137.5,59L-135.5,59.7L-133.5,58.4L-131,56.2L-130,55M-117.1,32.5L-114.7,32.7L-111,31.3L-108.2,31.3L-106.5,31.8L-104.5,29.6L-103,29L-101.5,29.8L-99.5,27.5L-97.2,25.9M-92.2,14.5L-92,16L-91,16.1L-91.4,17.2L-89.1,17.8L-88.3,18.5M-89.1,17.8L-89.2,15.9L-88.2,15.7M-90,13.7L-89.3,14.4L-89.2,15.1M-87.3,13L-86,13.9L-85,14.9L-83.2,15M-85.7,11.1L-83.7,10.9M-82.9,8.1L-82.6,9.6M-77.9,7.2L-77.3,8.6M-72.2,11.9L-72.5,11.1L-73,9.3L-72.4,8L-72,7.4L-70,7L-67.5,6.2L-67.8,4.5L-67.3,3.3L-67.8,2L-67,1.2M-67,1.2L-69.5,1.1L-69.8,-4.2M-69.8,-4.2L-70.5,-3.8L-72,-2.4L-73.5,-1.2L-75.2,-0.1L-77,0.5L-78.8,1.4M-75.2,-0.1L-75.5,-1.5L-78.3,-3.4L-79.4,-4.4L-80.3,-3.4M-69.8,-4.2L-72.9,-5.3L-73.3,-7.3L-74,-7.5L-72.5,-9.5L-70.5,-9.5L-70.6,-11L-69.5,-11M-69.5,-11L-68.7,-12.5L-69,-14.5L-69.3,-15.5L-69.4,-17.4L-69.8,-17.9L-70.4,-18.3M-69.4,-17.4L-68.5,-19L-68.2,-21.5L-67.1,-22.9M-67.1,-22.9L-68.3,-24.5L-68.6,-27L-69.8,-30L-70.2,-33L-70.5,-36L-71.2,-39L-71.8,-42L-71.6,-44L-72,-46L-72.3,-48L-73.2,-50L-72.3,-51.8L-69,-52.3M-67.1,-22.9L-65,-22.1L-62.8,-22L-62.3,-20.5L-59,-19.3L-58.2,-19.8L-57.6,-18.2M-69.5,-11L-68,-10.7L-66,-9.8L-65.3,-10.9L-63,-12.6L-61.7,-13.5L-60.4,-13.6L-60.2,-15.5L-58.3,-16.3L-58.4,-17.3L-57.6,-18.2M-62.3,-22L-60,-23.5L-58,-25.3L-57.6,-25.4L-55.8,-27.5L-54.6,-25.6M-57.6,-18.2L-58,-20.4L-57.8,-22.1L-55.8,-22.3L-55.3,-24L-54.6,-25.6M-54.6,-25.6L-53.8,-27.1L-55.7,-28.5L-57.6,-30.2L-56,-30.9L-53.6,-32.5L-53.4,-33.7M-57.6,-30.2L-58.2,-32.5L-58.4,-34M-60.7,8.5L-61,7.3L-60.5,6.8L-61.1,5.9L-60.7,5.2L-60.2,5.2M-60.2,5.2L-62.8,4L-64.6,4.1L-64,2L-65.5,0.9L-67,1.2M-60.2,5.2L-59.9,4.3L-59.6,2.6L-58.2,1.5L-56.5,1.9M-57.1,5.9L-58,4L-56.5,1.9M-54,5.7L-54.5,4.3L-54,2.3M-56.5,1.9L-54,2.3L-52.5,2.2L-51.6,4.2M-1.8,35L-1.7,33.5L-3.5,31.6L-5.5,29.8L-8.7,28.7M-13.2,27.7L-8.7,27.7M-8.7,27.3L-8.7,26L-12,26L-12,23.5L-13,21.3L-17,21.3M-8.7,27.3L-4.8,25L1.2,21L3.2,19L4.3,19.1M8.6,36.9L8.2,35L7.5,33.5L9.5,30.3M9.5,30.3L10,27.5L9.7,26.5L10.5,24.5L11.9,23.5M4.3,19.1L7.5,20.8L11.9,23.5M9.5,30.3L11.5,33.1M25,31.7L25,22M25,22L25,20L24,20L24,19.5L15.5,23.4L14.2,22.6L11.9,23.5M25,22L31.3,22L36.9,22M-4.8,25L-6.5,21L-5.4,16.3L-11.5,15.6L-12.2,14.7M-16.5,16.2L-14.5,16.6L-12.2,14.7L-11.4,12.4M-16.7,12.4L-13.7,12.6L-11.4,12.4M-11.4,12.4L-10,11.7L-8.6,10.8L-8,10.2L-7.9,8.5M-5.4,10.4L-4.5,12L-2,14.8L0.2,15L1.3,15.3L3.6,15.6L4.3,16.9L4.3,19.1M-8.6,10.8L-8.5,7.7L-7.5,4.4M-11.5,6.9L-10.3,8.4L-9.5,8.5L-8,8.5M-13.2,9L-11.2,10L-10.3,8.4M-3.2,5.1L-2.8,7.5L-2.7,9.5L-5.4,10.4M1.2,6.1L0.5,8.5L0,11M1.6,6.2L1.6,9L0.8,11M2.7,6.4L2.8,9L3.6,11.7M-2.7,9.5L-2.8,11L0,11L2.4,11.9L0.9,13.5L0.2,15M3.6,11.7L4,13.5L7,13L10,13.3L12.5,13.1L13.6,13.5M13.6,13.5L15.5,16L15.5,20.8L15.5,23.4M8.5,4.6L9.2,6.5L11.7,7L12.9,8.7L13.8,11L14.6,12.2L14,13M14,13L15,10.5L15.5,9.9L14.5,8.5L15.5,7.5L18.5,8.8L21,9.5L22.9,10.9M22.9,10.9L22,13L22.6,14.9L23.9,15.6L24,19.5M15.5,7.5L14.5,5L16,2.2M9.8,2.3L11.3,2.2L13.3,2.2L16,2.2M16,2.2L17.5,3.7L18.6,4.2L20.5,4.3L22.5,4.2L24.5,5.1L27.4,5.2M22.9,10.9L23.6,8.7L24.2,8.7L25.3,7.7L27.4,5.2M23.6,8.7L26.5,9.6L28,9.4L30,10.3L32,12.2L33.2,12.2L34,10M38.6,18L36.5,14.3L35.2,12L34.6,10.9L34,10M34,10L34.1,8.6L33,7.8L35,5.1M35,5.1L34,4.2L30.8,3.5L27.4,5.2M36.5,14.3L38,14.5L40,14.5L42.3,12.5M42.3,12.5L41.8,11L42.8,11L43.7,9.3L47.9,8L45,5L42,4L41,3.9M41,3.9L41,-1.7M35,5.1L36,4.4L38.1,3.6L39.5,3.4L41,3.9M34,4.2L35,1.8L34.1,0.2L34,-1M34,-1L37.7,-3L39.2,-4.7M30.8,3.5L29.7,0.5L29.6,-1.4M29.6,-1.4L30.5,-1L34,-1M29,-2.8L30.5,-2.4L30.8,-3.4L29.3,-4.4M29.6,-1.4L29,-2.8L29.3,-4.4L29.5,-6.5L30.5,-8.2M30.5,-8.2L28.5,-8.5L28.9,-11.5L29.8,-13.4L27.4,-12.5L24,-11.3L22.2,-11M12.2,-6L16.2,-6L17.6,-8L19.5,-7L21.8,-7.3L22,-9.7L22.2,-11M12.2,-5L15,-4.2L16,-2.4L17.5,-0.7L18,2L18.6,4.2M13.3,2.2L13.2,1.2L14.4,-2.3L11.2,-3.9M22.2,-11L24,-13L22,-16.3L23.3,-17.5M11.8,-17.3L13.5,-17L18.5,-17.4L21,-18L23.3,-17.5L25.3,-17.8M30.5,-8.2L33,-9.4L33.2,-11L32.7,-13.7L30.2,-15.5M30.2,-15.5L28.5,-16.5L25.3,-17.8M40.5,-10.5L37.5,-11.6L35,-11.5L34.6,-11.5L35.3,-14.4L35.2,-16.5L33.2,-14L32.7,-13.7M33.5,-9.5L34.6,-11.5M30.2,-15.5L32.9,-16.6L32.8,-19L31.8,-22.3M25.3,-17.8L26,-19.5L27.5,-20.9L29,-22.2L31.3,-22.4M21,-18L21,-22L20,-22L20,-24.8M20,-24.8L23,-25.3L25.6,-25.5L27,-23.5L29,-22.2M20,-24.8L20,-28.4L16.5,-28.6M31.3,-22.4L32,-25L32.9,-26.8M27,-29.7L28.5,-28.6L29.5,-29.5L28,-30.7L27,-29.7M-1.8,43.4L0.5,42.7L3.2,42.4M-8.9,41.9L-6.6,41.9L-6.9,40.2L-7.3,38.9L-7.4,37.2M2.5,51.1L4.2,50L6.1,49.5L8.2,49L7.6,47.6L6.8,46.4L7.7,45.1L7.5,43.8M3.4,51.4L5.8,51.8L6.2,51.5L7,53.3M6.1,49.5L6,50.8L6.2,51.5M8.6,54.9L9.9,54.8M14.2,53.9L14.6,52.5L15,51M12.1,50.3L13.8,48.8L13,47.5L10.5,47.5L9.6,47.5M6.8,46.4L9,45.9L10.5,46.5L9.6,47.5L7.6,47.6M10.5,46.5L12.5,47L13.7,46.5L13.6,45.6M12.1,50.3L15,51L16.5,50.3L18.8,49.5L22.6,49.1M13.8,48.8L15,49L17,48.6L18.8,49.5M17,48.6L17,48L16.3,46.8M17,48L18.8,47.8L20.5,48.5L22.1,48.4M13.6,45.5L15.7,46.3L16.3,46.8L18.9,45.9M18.9,45.9L20.3,46.2L22.1,48.4M22.6,49.1L24,50.5L23.6,52L23.5,53.9L22.8,54.4M22.1,48.4L24.9,47.8L26.6,48.3L28.2,46.5L28.2,45.5L29.6,45.3M20.3,46.2L22.6,44.2L25,43.7L27.5,44L28.6,43.7M15.7,44.8L19,45L19.5,43.5L18.5,42.5M22.6,44.2L23,43L22.4,42.3L20.6,41.9L19.4,41.9M20.6,41.9L20.6,40.9L20.2,39.6M20.6,40.9L22.9,41.3L26.3,41.7L28,42M21,56.1L26.6,55.7M24.3,57.9L27.4,57.5M23.5,53.9L26.6,55.7L28.2,56.1M28,59.4L27.6,57.8L27.4,57.5L28.2,56.1M23.6,51.5L26,51.9L30.6,51.3L31.8,52.1M31.8,52.1L32.7,53.4L31,54.5L28.2,56.1M31.8,52.1L34.4,51.8L35.4,50.6L38,50L40,49.6L39.7,47.8L38.2,47.1M30,69.7L28.9,69.1L29.5,67.7L30,66L29.6,64.5L30.7,63L31.5,62.3L27.8,60.5M24.1,65.8L23.7,67.2L21,69M21,69L25,68.6L26.5,69.9L28.9,69.1M11.1,59.1L12.5,60.5L12.2,61.8L12,63.5L14,64.5L15.5,66.2L17,68L18.5,68.5L21,69M-7.3,55.3L-8.2,54.5L-6.3,54.1M41.5,41.5L43.5,41.1L44.8,39.7L44.2,37.2M36.2,36.6L36.7,36.8L38.2,36.9L40,36.8L42.3,37.1L44.2,37.2M42.3,37.1L41.3,36L41,34.4L38.8,33.4M38.8,33.4L36,32.7L35.5,32.7L35.5,31.2L35,29.5M35.1,33.1L36.5,34.6M38.8,33.4L39.3,32.2L37,31.5L38,30.5L36.5,29.5L35,29.4M39.3,32.2L42,31.1L44.7,29.2L46.5,29.1L47.7,28.5M46.5,29.1L47.9,30M44.2,37.2L45.5,35.9L46,35L45.4,34L46.1,33L47.4,32.4L48,30.5M42.8,16.4L44,17.4L46.5,17.3L49,18.6L52,19L55.7,22L55.2,22.7L52,23L51,24.6M52.2,15.6L53,17L52,19M55.2,22.7L56,24L56.3,24.9M44.8,39.7L46.5,38.9L48,38.6L48.9,38.4M53.9,37.3L56,38L57.3,38L59.4,37.5L61,36.6M61,36.6L61.2,35L60.6,33.7L60.9,31.5L61.8,31.3L62.7,29.4L61.5,28L62.8,27.2L61.8,25.5L61.6,25.2M62.7,29.4L66.5,29.9L67.3,31.3L69.3,31.9L70.1,33.7L71,34.5L71.5,36L74.5,37M61,36.6L62.3,35.3L64.5,37L65.7,37.6L67.8,37.2L70,37.6L71.5,37.9L74.5,37.3M68.2,23.7L70,24.3L71,24.5L70.5,26.5L69.6,27.2L71.8,28.6L73.3,29.9L74.6,31.1L75.3,32.4L74.5,34.5L77.8,35.5M77.8,35.5L79.5,32.6L78.8,31.2L80.2,30.3L81.1,30.2L84,28.5L86,27.9L88.1,27.9M80.2,28.8L83,27.4L85,26.6L88.1,26.5L88.1,27.9M88.8,27.1L92,27.8L94.5,29.2L97,28.3L97.4,28.3M88.1,26.5L89,25.3L88.2,24.3L88.7,23.2L89,21.8M89.9,25.2L92.4,25L92.4,24.2L91.5,23L92.6,22L92.2,21.2M92.6,22L93.3,24L94.5,25.5L95.1,26.6L97,27.6L97.4,28.3M97.4,28.3L98.5,27.5L98.3,25.5L97.7,24.1L98.9,24.1L99.5,22.1L101.2,21.4M101.2,21.4L100.1,20.4L98.3,19.7L97.3,18.5L98.6,16.3L98.2,15L99.1,13.8L98.5,10.5M100.1,20.4L101,17.5L102.7,17.8L104.7,16.5L105.5,14.5M105.5,14.3L103,14.3L102.6,12.5M105.5,14.5L107.5,14.5L106.2,11L104.5,10.4M101.2,21.4L102.1,22.4L104.1,20.9L105.2,18.6L107.5,16.2L107.5,14.5M102.1,22.4L103.9,22.5L106,22.8L108,21.6M87.8,49.1L90.8,46.5L91,45L95.5,44.3L96.5,42.7L100.8,42.6L105,41.5L110.4,42.8L111.8,43.7L112,45L115.5,45.4L118,46.5L119.7,46.7L117.4,47.7L116,47.7L115.5,48.1L116.7,49.8M87.8,49.1L92,50.5L96,49.9L98,52L102,51.5L106,50.3L108,49.3L111,49.4L114,50.2L116.7,49.8M116.7,49.8L117.9,49.5L119.8,50L121.3,53.3L125.5,53.1L127.5,49.8L130.7,48.9L132.5,47.7L134.7,48.3L134,47L133,45L131.2,44.9L131.1,42.9L130.6,42.4M130.6,42.4L129,42L128,41.5L126.5,41.6L124.4,40M126.1,37.7L127.5,38.3L128.4,38.6M87.8,49.1L85.8,47.3L82.5,45.5L80.2,44.9L80.2,42.2L76.5,40.5L73.5,39.5L74.9,37.4L75.5,36.9L77.8,35.5M87.8,49.1L85,49.5L81,50.8L77.8,53.2L76.5,54.2L73.5,53.5L70.5,55.2L65.5,54.6L61,53.9L61.4,52.9L60.5,52L61.5,51.3L59.9,51L57,51L55,50.6L53,51.5L50.8,51.7L48.6,50L47,49.2L46.8,48.5L47.2,47.6L49.1,46.4M52.9,42.1L56,41.3L56,45L58.5,45.6L61,44.4L62,43.5L64.9,43.7L66,42.9L66.5,41.9L68.1,40.7L69,41.4L70.9,42.2L73.5,42.5L76,43L79.2,42.8L80.2,42.2M56,41.3L57.9,42.2L59.5,42L61,41.2L62.4,39.9L64.4,38.9L66.5,37.4M68.1,40.7L70.5,41L73,40.3L73.5,39.5M67.8,37.2L68.5,39.5L70.5,41M40,43.4L42,43.2L44,42.7L46,41.8L48.5,41.8M43.5,41.1L46.5,41.1M141,-2.6L141,-9.1"/><clipPath id="landclip"><path d="M-168,65.6L-166.5,66.2L-164.5,66.6L-163.5,66.1L-161.5,66.3L-163,67L-164.5,67.6L-166.5,68.3L-164.5,68.9L-163,69.5L-161.5,70.3L-159,70.8L-156.8,71.3L-154.5,70.9L-152,70.8L-149,70.5L-145,70.1L-141,69.6L-138,69.2L-136,68.9L-134.5,69.5L-132,69.7L-129.5,70L-127.5,70.3L-125.5,69.5L-124,69.6L-122,69.8L-119,69.3L-116.5,69.2L-115,68.6L-112,68.3L-109,68L-107.5,68.2L-106,68.8L-104,68.1L-101.5,67.8L-98,67.8L-96.5,68.3L-95.5,69.5L-96.5,70.3L-95,71.5L-94,71.8L-93,71L-92,70L-90.5,69.3L-89,68.5L-87.5,68L-86,68.5L-85,69.8L-83,69.7L-82,69L-81.3,68.1L-81.5,66.8L-83.5,66.2L-86,66.3L-87,65.2L-88.5,64.2L-90.5,63.5L-92.5,62.5L-94,61.2L-94.8,59.5L-94.2,58.7L-92.5,57.2L-90,57L-88,56.3L-85,55.3L-82.3,55L-82.1,53.2L-81.2,52.2L-79.5,51.5L-78.8,52.5L-79,54L-77,55.5L-76.5,56.8L-77.3,58.3L-77.5,59.5L-77.3,60.8L-78,62.4L-76,62.3L-73.5,62.2L-71.5,61.2L-69.8,60.8L-69.3,59.3L-68.3,58.5L-67,58.4L-66,58.8L-64.5,60.3L-63.8,59.1L-62.5,57.8L-61.5,56.8L-60.7,55.7L-58.5,54.5L-57.3,53.3L-55.9,52.2L-56.9,51.4L-58.2,51.1L-60,50.2L-62.5,50.2L-65,50.2L-66.8,49.8L-68.5,49.2L-69.8,48.2L-71.2,46.9L-70,47.3L-68.2,48.5L-66.5,49.2L-64.5,48.9L-64.3,48.2L-65.3,47.8L-64.8,46.9L-64.3,46.3L-62.5,45.7L-61,45.3L-60,45.9L-61.2,45.2L-63.3,44.6L-65.3,43.6L-66.1,43.9L-65,45.2L-67,44.8L-68.5,44.3L-70.2,43.6L-70.8,42.8L-70.6,41.8L-69.9,41.8L-70.3,41.5L-71.5,41.4L-73,41.1L-74,40.6L-74.1,39.8L-74.9,38.9L-75.5,39.5L-75.1,38.4L-76,37.8L-75.7,36.9L-75.5,35.3L-76.5,34.7L-77.9,33.9L-79.2,33.2L-80.5,32.3L-81.3,31.3L-81.4,30.2L-81,29.1L-80.5,28L-80.1,26.8L-80.2,25.6L-80.9,25.2L-81.3,25.9L-81.8,26.3L-82.5,27.6L-82.7,28.7L-83.5,29.6L-84.3,30L-85.4,29.7L-86.3,30.4L-88,30.4L-89.3,30.3L-89.5,29.4L-89.2,29.1L-90.2,29.1L-91.5,29.5L-93,29.7L-94.5,29.5L-95.5,28.8L-96.8,28.1L-97.4,27.2L-97.4,25.8L-97.7,24.3L-97.8,22.5L-97.3,21.2L-96.5,19.8L-95.8,18.7L-94.6,18.1L-93.2,18.4L-91.8,18.6L-90.7,19.6L-90.4,21L-89,21.4L-87.3,21.5L-86.8,20.8L-87.4,19.6L-87.8,18.3L-88.3,17.6L-88.3,16.2L-88.8,15.8L-87.5,15.8L-85.8,15.9L-84.3,15.8L-83.3,15L-83.3,14L-83.6,12.3L-83.7,11L-83,10L-82.2,9.1L-81.4,8.8L-80.3,9.2L-79.5,9.6L-78.5,9.4L-77.4,8.7L-77.2,7.9L-77.9,7.2L-78.5,8.3L-79.5,8.9L-80.4,8.3L-80,7.5L-80.9,7.3L-81.7,8.1L-82.9,8.1L-83.6,8.6L-84.9,9.8L-85.7,9.9L-85.8,11.1L-86.6,12L-87.5,12.9L-88.5,13.2L-89.8,13.5L-91.3,13.9L-92.3,14.6L-93.5,15.7L-94.7,16.2L-96.5,15.7L-97.9,16.1L-99.4,16.7L-101.1,17.4L-102.5,18L-103.6,18.7L-105,19.3L-105.7,20.4L-105.2,21.6L-105.8,22.6L-106.9,23.8L-108,25L-109.4,26L-110.5,27.7L-111.3,28.6L-112.3,29.6L-113,31.1L-113.9,31.6L-114.8,31.8L-114.6,30.2L-113.5,29L-112.7,27.5L-111.5,25.9L-110.7,24.8L-110.2,24.2L-109.5,23.2L-110,22.9L-111,24.1L-112.1,24.8L-112.3,26L-113.5,26.8L-114.5,27.7L-114.2,28.2L-115.5,29.7L-116.3,30.9L-117.1,32.5L-117.4,33.3L-118.4,33.8L-119.2,34.2L-120.6,34.6L-120.9,35.5L-121.9,36.5L-122.4,37.2L-122.5,37.8L-123,38L-123.8,39.3L-124.3,40.3L-124.1,41.5L-124.5,42.8L-124.1,44.5L-123.9,46.2L-124.1,47L-124.7,48.4L-123.2,48.1L-122.8,49L-123.5,49.5L-124.9,50L-125.6,50.4L-127.5,51L-127.8,52.2L-129.1,53L-130.1,54.2L-130.6,54.8L-131.8,55.5L-133.3,56.8L-134.2,58.2L-135.8,58.4L-137.2,58.8L-139.5,59.7L-141.5,60L-144,60L-146,60.7L-147.8,60.5L-149.3,59.9L-151.2,59.3L-151.8,60.2L-150.5,61.2L-152,60.5L-153.3,59.3L-154,58.2L-155.5,57.6L-157,56.7L-158.5,56L-160.2,55.6L-162,55L-163.5,54.7L-164.8,54.4L-163.2,55.3L-161.6,55.9L-160.3,56.5L-158.5,57.3L-157.5,58.2L-157,58.8L-158.5,58.9L-160.5,58.7L-162,59.5L-162.5,60L-164.5,60.5L-165.3,61.2L-166.1,61.6L-165.2,62.4L-164.6,63.1L-163,63.1L-161.5,63.5L-160.8,64.2L-161.5,64.5L-163,64.6L-165,64.5L-166.3,64.6L-166.8,65.2L-168,65.6ZM-73,78.3L-70,79.8L-66,81L-62,81.8L-57,82.2L-50,82.5L-44,83.3L-36,83.6L-28,83.5L-22,82.8L-20,81.9L-16.5,81.4L-12.5,81.5L-15.5,80.3L-19,79.5L-19.5,78.4L-18.3,77.2L-19.5,76L-20.3,74.8L-21.8,73.5L-22.3,72.3L-21.8,71L-23.5,70.4L-25.3,69.6L-28,68.5L-31,68L-34,66.5L-36.5,65.8L-38.5,65.4L-40,64.7L-40.8,63.5L-42,62.2L-43,60.9L-43.5,59.9L-44.6,60.1L-46.5,60.8L-48.3,61.3L-49.5,62.5L-50.5,63.8L-51.6,64.8L-52.5,66L-53.6,67.2L-53,68.3L-51.2,69L-52.5,70L-54.3,70.6L-54.5,71.5L-55.8,72.5L-57,74L-58.6,75.4L-61.5,76.1L-65,76.1L-68.5,76.2L-71.5,77L-73,78.3ZM-65,62L-66.5,62.3L-68.5,62.8L-71,62.9L-72.7,63.8L-74.5,64.4L-76.5,64.3L-78,64.6L-77.8,65.4L-75,65.9L-73.7,66.7L-73,67.8L-74.5,68.7L-76.8,69.3L-78.7,70L-81,69.8L-84.2,70.2L-86.5,70.5L-88.5,71.4L-89.5,72.5L-88.5,73.5L-86,73.8L-83,73.6L-80.5,73.7L-77,72.8L-74.5,72L-72,71.3L-69.5,70.5L-68,70.1L-67,69.2L-66.8,68.3L-64.5,67.5L-62.2,66.8L-61.5,66.3L-63.3,65.7L-64.2,65.1L-65,64.2L-64.5,63.5L-65,62.8ZM-118.5,73.3L-115,73.5L-112,73L-108.5,73.2L-106.5,73L-105,72L-104.2,71L-102,70L-101,69.2L-103.5,68.8L-106.5,68.8L-109,68.6L-112,68.5L-115,68.9L-117.5,69.5L-118.4,70.3L-116.5,70.6L-117.5,71.2L-119,71.6L-118.5,72.5ZM-125.3,71.9L-124.8,73.2L-123.5,73.9L-120.5,74.4L-117.5,74.2L-115.5,73.5L-117.3,72.9L-119.2,72.2L-121.5,71.5L-123.5,71.2ZM-89.5,76.5L-85,76.3L-81,76.3L-78.5,76.8L-76.5,77.8L-75,78.4L-73,78.7L-71,79.3L-68.5,80.2L-65,80.9L-62,81.9L-65,82.6L-70,82.9L-77,83.1L-84,82.6L-89,81.8L-92.5,80.9L-94,80.2L-92,79.4L-89,78.6L-88,77.8L-90.5,77.2ZM-90.5,78.2L-93,78.6L-95.5,79.3L-97,80L-95,80.7L-92,81.3L-89.5,80.8L-87.5,80.2L-88.5,79.2ZM-80,74.6L-85,74.4L-89.5,74.6L-92,75L-93.2,75.6L-92.5,76.3L-89,76.6L-85,76.5L-81.5,76.3L-79.5,75.6ZM-117,75.5L-115.5,76.4L-111,76.8L-107.5,76.6L-105.5,75.9L-106.5,75.1L-109,74.7L-112.5,74.4L-115.5,74.6ZM-96.6,72L-98.2,71.4L-100.5,71.9L-102.5,72.8L-101,73.9L-98,74L-96.4,73.2ZM-90.6,73.8L-94.8,74.1L-95.4,73L-94,72.2L-92.2,72L-90.6,72.7ZM-97.2,75.1L-100.5,75.5L-100.5,76.5L-98,76.6L-96.8,75.8ZM-93.5,74.8L-96,75L-96.2,75.6L-94,75.8ZM-114.5,76.6L-116.5,77.4L-121,76.7L-119.5,76L-116.5,76.1ZM-81.5,62.2L-83.5,62.5L-86,63.6L-86.8,64.8L-85.8,65.9L-83.8,65.6L-82,64.6L-80.2,63.8ZM-24.5,65.5L-23.8,66.1L-22,66.4L-20,66.1L-18,66.2L-16,66.5L-14.5,66.2L-13.6,65.2L-14.6,64.4L-16.5,63.8L-18.5,63.4L-20.5,63.7L-22.7,63.9L-22,64.5L-23.8,64.8L-22.3,65.2ZM-59.3,47.6L-58.5,48.6L-57.6,50.2L-56.6,51.3L-55.6,51.6L-55.9,50.5L-55.3,49.8L-54,49.6L-53.4,49.2L-53,48.3L-52.7,47.5L-53.4,46.7L-53.9,47.1L-54.6,47.1L-55.4,46.9L-56,47.6L-57.7,47.6ZM-123.3,48.4L-124.7,48.6L-125.9,49.2L-127.5,50.1L-128.3,50.8L-127,50.7L-125.3,50.2L-124,49.3ZM-77.4,8.7L-76.8,8.6L-76,9.5L-75.5,10.5L-74.8,11L-73.5,11.3L-72.2,11.9L-71.3,12.4L-71.3,11.5L-71.9,10.8L-71.6,9.5L-71,9.7L-71.2,10.9L-70.2,11.4L-70.1,12L-69.4,11.5L-68.3,10.8L-66.3,10.6L-64.2,10.6L-63,10.7L-62,10.7L-61,9.8L-60.5,8.6L-59.3,7.7L-58.4,6.9L-57.3,6L-55.5,5.9L-54,5.6L-52.6,5L-51.6,4.2L-51,3L-50.3,1.8L-49.9,1L-50.7,0L-49,-0.8L-47.8,-0.6L-46.3,-1L-44.8,-1.6L-44.3,-2.6L-43,-2.4L-41.5,-2.9L-39.7,-2.9L-38,-4L-37,-4.9L-35.3,-5.3L-34.8,-7.3L-35.1,-9L-36.4,-10.5L-37.2,-11.5L-38.2,-13L-38.9,-13.8L-39.1,-15.5L-39.3,-17.5L-39.7,-19.3L-40.7,-20.8L-41,-22L-41.9,-22.9L-43.5,-23L-44.6,-23.3L-46,-24L-47.6,-24.9L-48.5,-26L-48.6,-27.8L-49.6,-29.3L-50.6,-30.7L-51.9,-32L-52.7,-33.2L-53.6,-34L-54.9,-34.9L-55.9,-34.8L-57,-34.5L-58.4,-34.1L-58.3,-34.6L-57.2,-35.6L-56.7,-36.4L-57.5,-37.9L-59,-38.5L-61.5,-38.9L-62.3,-39.3L-62.2,-40.6L-63.6,-41.1L-65,-40.9L-65.1,-41.7L-64.2,-42.3L-63.7,-42.8L-65,-43.2L-65.2,-44.8L-66.5,-45.1L-67.5,-46.3L-66.6,-47L-65.9,-47.8L-67.2,-48.7L-67.8,-49.9L-68.7,-50.3L-69.1,-51.6L-68.3,-52.3L-68.5,-53.3L-67.2,-54L-65.3,-54.8L-66.5,-55.1L-68.5,-55.3L-70.3,-55L-71.6,-54.4L-72.9,-53.5L-74.4,-52.8L-75.2,-51.7L-75.5,-50L-75.3,-48.5L-75.6,-46.8L-74.6,-45.8L-74.2,-44.5L-73.4,-43.8L-73.9,-42.7L-73.8,-41.4L-73.7,-39.8L-73.5,-38.3L-73.6,-37.2L-72.8,-35.8L-71.9,-34.2L-71.6,-32.8L-71.5,-31.1L-71.6,-29.6L-71.3,-28L-70.9,-26.8L-70.5,-25L-70.4,-23.5L-70.2,-21.5L-70.1,-19.8L-70.3,-18.3L-71.4,-17.6L-72.7,-16.8L-74.2,-15.8L-75.6,-14.7L-76.3,-13.5L-77.1,-12.1L-77.8,-10.8L-78.6,-9.2L-79.4,-7.8L-79.9,-6.9L-81.2,-6L-80.9,-5L-81.3,-4.1L-80.3,-3.4L-79.8,-2.6L-80.3,-2.7L-80.9,-2.2L-80.5,-1L-80.1,0.1L-80,0.8L-79,1.2L-78.6,1.8L-77.9,2.6L-77.3,3.8L-77.3,4.7L-77.5,6.3L-77.9,7.2L-77.3,7.9ZM-5.9,35.8L-5,35.3L-3.5,35.2L-2,35.1L-1,35.6L0.5,36.3L2,36.6L3.5,36.8L5.5,36.8L7.5,37L9.8,37.3L11.1,37L10.5,36.4L10.8,35.6L11.1,35.2L10.3,34.4L10.1,33.8L11.1,33.3L12.5,32.8L13.9,32.7L15.3,32.2L15.7,31.4L17.2,31.1L18.7,30.5L19.6,30.5L20.1,31.2L20,32.1L20.9,32.7L22,32.9L23.2,32.4L24.9,31.9L25.9,31.6L27.4,31.4L29,30.9L30,31.3L31,31.6L32.2,31.3L34.2,31.3L34.9,29.5L34.4,28.3L34.2,27.8L33.8,28.2L33.2,28.9L32.6,29.9L32.4,29.6L32.8,28.7L33.4,27.6L34,26.5L34.8,25.1L35.6,23.9L35.6,23.1L36.9,22L37.2,21L37.3,19.5L37.9,18.4L38.6,17.6L39.2,16L39.7,15.4L41.2,14.5L42.3,13.4L43.3,12.5L43.2,11.6L42.7,11.5L43.6,10.8L44.6,10.4L45.6,10.7L46.7,10.7L47.7,11.1L49,11.3L50.3,11.7L51.2,11.9L51,10.6L50.8,9.4L50,8L49.5,6.8L48.6,5.4L47.7,4.2L46.6,2.9L45.6,2.1L44.1,1.2L42.8,0L41.8,-1.2L41,-2L40.2,-2.8L39.6,-4.3L39.2,-4.9L38.8,-6.4L39.4,-7.1L39.2,-8.5L39.9,-10.1L40.5,-10.8L40.5,-12.5L40.8,-14.7L40.1,-16.1L39.4,-16.7L37.4,-17.6L36.3,-18.7L34.8,-19.8L35.3,-21.2L35.4,-22.1L35.6,-23.7L35.1,-24.5L33.8,-25.2L32.9,-26.1L32.6,-27.4L32.4,-28.5L31.5,-29.3L30.9,-30.4L30,-31.3L28.9,-32.2L27.5,-33.2L26.4,-33.6L25.8,-33.9L24.7,-34L23.6,-33.8L22.6,-33.9L21.5,-34.3L20,-34.8L19.2,-34.5L18.4,-34.1L18.4,-33.2L18,-32.6L18.2,-31.7L17.6,-30.7L17.1,-29.9L16.3,-28.6L15.6,-27.8L15.2,-27.1L14.7,-25.4L14.4,-23.9L14.4,-22.7L13.9,-21.7L13.4,-20.9L12.8,-19.7L12.2,-18.9L11.7,-17.8L11.6,-16.7L11.8,-15.8L12.2,-14.4L12.7,-13.1L13.6,-12L13.7,-11.3L13.2,-10.1L12.9,-9.2L13.2,-8.6L12.5,-7.3L12.2,-6.3L12.3,-5.7L11.9,-5L11.1,-3.9L10.1,-2.9L9.4,-2.1L8.8,-1.1L9.3,0L9.5,1L9.8,2.3L9.9,3.1L9.4,3.7L8.9,4.1L8.5,4.5L7.5,4.4L6.7,4.2L5.9,4.3L5.4,4.9L4.8,6.1L4.3,6.3L2.7,6.3L1.9,6.1L1.1,5.9L-0.5,5.3L-1.1,5L-2,4.7L-3.3,5L-4,5.2L-5,5.2L-6.6,4.7L-7.5,4.3L-8.4,4.5L-9.3,5.2L-10.8,6.2L-11.4,6.8L-12.1,7.3L-12.9,7.8L-13.2,8.9L-13.7,9.5L-14.5,10.2L-14.7,10.7L-15.1,11L-15.7,11.5L-16.1,11.6L-16.7,12.4L-16.8,13.2L-16.7,13.6L-17.1,14.4L-17.6,14.7L-17.2,14.9L-16.5,16.1L-16.1,17L-16.1,18.1L-16.3,19.1L-16.4,19.6L-16.3,20.1L-16.5,20.6L-17,21L-16.9,21.9L-16.3,22.7L-16.1,23.6L-15.4,24.4L-15.1,24.5L-14.8,25.1L-14.4,26.3L-13.8,26.6L-13.1,27.7L-12.6,28L-11.7,28.1L-10.9,28.8L-10.4,29.1L-9.6,29.9L-9.8,31.2L-9.4,32L-8.7,33.2L-7.7,33.7L-6.9,34.1L-6.2,35.1ZM49.3,-12L49.9,-13.5L50.5,-15.5L49.9,-16.5L49.5,-17.7L49,-19.5L48.5,-21L48,-22.8L47.5,-24.5L47,-25.1L45.4,-25.6L44.4,-25.1L43.7,-23.6L43.3,-22L43.5,-21.3L44.4,-19.8L44.3,-18.6L44,-17.2L44.5,-16.2L46,-15.8L47.1,-14.9L47.8,-14L48.3,-13.6L49,-12.5ZM-5.6,36L-6.3,36.5L-6.9,37.2L-7.9,37L-8.9,37L-8.8,38L-9.3,38.7L-9.4,39.4L-8.9,40.2L-8.7,41.3L-8.9,42.1L-9.3,43L-8.2,43.6L-7,43.6L-5.5,43.6L-3.8,43.5L-1.8,43.4L-1.4,44.2L-1.2,45.5L-1.2,46.2L-2.1,46.8L-2.5,47.3L-3.5,47.7L-4.5,47.9L-4.7,48.4L-4,48.7L-3,48.8L-1.9,48.7L-1.6,49.7L-1.1,49.4L0.2,49.5L1,49.9L1.6,50.3L1.7,50.9L2.5,51.1L3.5,51.5L4,51.9L4.7,52.5L4.9,53L5.8,53.4L7,53.4L8.1,53.5L8.6,53.9L8.6,55.4L8.1,56.5L8.6,57.1L9.9,57.6L10.6,57.7L10.5,57.2L10.3,56.6L10.9,56.4L10.2,55.9L9.8,55.3L9.9,54.8L10.9,54.4L11.5,54.1L12.5,54.4L13.6,54.6L14.3,53.9L16,54.3L17.5,54.8L18.7,54.4L19.6,54.4L21.2,55.2L21,56.2L21.1,57L21.6,57.5L22.6,57.8L23.5,57L24.1,57.1L24.4,58.3L23.5,58.5L23.4,59.2L24.6,59.5L26.5,59.6L28,59.5L30.2,59.9L29,60.2L27.8,60.5L26,60.4L23,59.9L22.8,60.2L21.4,60.6L21.5,61.6L21.2,62.5L21.5,63.2L22.5,63.8L24.5,64.8L25.4,65.1L25.2,65.6L24.1,65.8L22.4,65.9L21.4,65.3L21.2,64.7L20.3,63.9L19,63.4L18,62.7L17.4,62.3L17.2,61.2L17.3,60.6L18.6,60.2L18.8,59.6L18.3,59.2L16.7,58.5L16.5,57.5L16,56.6L15.8,56.1L14.5,56.1L14.2,55.4L12.9,55.4L12.7,56.1L12.4,56.6L11.9,57.5L11.5,58.3L11.1,59.1L10.6,59.8L10.2,59.2L9.3,58.8L8.3,58.1L7,58L5.6,58.6L5.3,59.3L5,60L5,61L5,61.8L5.5,62.4L7,62.9L8.5,63.5L10,64L11,64.8L12.3,65.8L13.2,67L14.5,68L15.7,68.6L17,69.2L18.8,69.9L20.5,70.1L22,70.4L24,70.9L26,71.1L28,71L29.6,70.6L31,70.2L30.2,69.8L32.5,69.6L35.5,69.2L38.5,68.5L40.8,67.8L41.2,66.8L40.3,66.3L38.5,66.1L35.5,66.4L34.2,66.6L32.7,66.8L33.3,66.2L34.8,65.9L34.8,64.6L36.5,64.2L37.2,63.8L37.7,64.4L37,65L38.5,64.8L40,64.6L40.5,65.1L39.8,65.5L41.5,66L43,66.4L44.1,66L44.3,67.2L43.8,68.4L46,68.2L46.5,67.8L45.3,67.5L46.5,67L48.5,67.7L50,67.9L52.5,68.4L53.8,68.9L54.5,68.3L56,68.6L58,68.9L59.5,68.3L61,68.9L60.8,69.8L63.5,69.5L65.3,69.2L67.2,68.8L68.3,68.2L69.2,68.8L68.2,69.3L67.2,70L66.8,70.7L67.3,71.5L68.5,72.6L69.5,73.2L71.5,73L72.7,72.7L72.6,71.3L72.8,70.2L72.6,69.2L73.6,68.4L73,67.4L72.4,66.6L73.8,66.8L74.7,67.7L74.5,68.8L73.6,69.8L73.8,71L73.3,71.5L74.8,72.1L76.8,72.2L78.5,72.3L80.7,71.6L79.5,71L78.2,70.9L79.2,70.3L82.3,70.3L83,71L82.2,72L80.6,72.6L80.5,73.5L84,73.8L86.8,73.8L86.5,74.6L87.1,75.1L90,75.5L94,75.9L98,76.2L100.5,76.5L102,77.3L104.3,77.7L106,77.4L107.5,76.6L111,76.6L113.5,76.2L113.8,75.4L112.5,75L110.5,74.3L109.5,74L112,73.6L114,73.6L118,73.5L123,73.3L126.5,73.5L128.5,73L129.5,72L128.8,71.4L131,70.8L132.5,71.7L135,71.6L138,71.5L140,72.5L141,72.8L143,72.7L146,72.3L149.5,72L150.5,71.4L152,70.9L155,71L158,70.9L159.8,70.6L160.7,69.7L163,69.7L165.5,69.6L167.8,69.8L169.5,69L170.5,70.1L173,69.9L176,69.8L178.5,69.4L180,69L180,65L177,64.7L178.7,63.5L179.2,62.3L176,62L173.5,61.6L170.5,60L168,60.5L166,60L164.5,59.8L163.5,59.8L163,58.5L162,57.8L163.2,56.2L162.5,56L161.8,55L160,54L159.5,53.2L158.5,52.8L158,52L156.7,51L156.3,52.5L156,54.5L156,56.5L156.8,57.5L158,58L160,59.5L161.5,60.3L163.5,62.3L160,61.7L158,61.7L156.5,61.3L154.5,59.5L152,59.1L149,59.5L146,59.2L143,59.3L141,58.5L139,57.5L137,56L135.5,54.7L137,54L138.5,54.2L139.7,54.2L141.3,53.3L141,52.3L140.5,51L140.5,50L140.3,48.5L139,47.3L138,46.3L136.8,45L135.3,43.8L133.2,42.8L132,43.2L131,42.6L130.7,42.3L129.8,41L128.5,40L127.5,39.7L127.5,39.2L128.4,38.6L129.3,37.2L129.5,35.8L129.2,35.2L128,34.9L126.5,34.4L126.4,35.3L126.6,36.8L126.1,37.7L125.3,37.7L125.1,38.5L124.7,39.6L123.5,39.8L122,39L121.2,38.8L121.8,39.4L122.3,40.4L121.5,40.9L120.5,40.3L119.5,39.8L118.5,39.2L117.7,38.8L118,38L118.9,37.5L119.3,37.1L120.5,37.7L121.5,37.5L122.6,37.3L122.2,36.9L121,36.6L120.2,36.1L119.3,35.1L120.3,34.4L120.8,33L120.9,32.3L121.9,31.7L121.9,30.9L121,30.6L122,29.8L121.8,28.8L121,28L120.5,27.2L119.7,26.1L119.3,25.4L118.7,24.6L117.6,24L116.5,23L115.2,22.7L114.2,22.3L113.5,22.6L113,22L111.8,21.6L110.5,21.2L110.2,20.3L109.8,21.4L108.5,21.6L107.4,21.3L106.6,20.5L105.8,19.3L105.7,18.6L106.6,17.4L107.5,16.4L108.7,15.2L109.3,13.5L109.2,11.6L108,10.8L106.8,10.3L106,9.3L105.1,8.6L104.8,9.5L105,10L104.5,10.5L103.5,10.6L102.9,11.7L102.3,12.3L101,12.7L100.9,13.5L100.1,13.4L99.9,12.5L99.2,10.8L99.3,9.3L100.3,8.3L100.5,7.2L101.3,6.9L102.2,6.2L103,5.5L103.4,4.4L103.4,3.3L103.9,2.5L104.3,1.4L103.5,1.3L102.6,2L101.3,2.9L100.7,3.9L100.4,5L100.3,6.3L99.7,6.8L99,7.8L98.3,8.3L98.4,9.5L98.7,10.5L98.5,12L98.8,13L98.1,14.5L97.7,16L97.4,16.9L96.5,16.6L95.4,15.8L94.5,16L94.3,17.5L94.4,18.8L93.5,19.6L92.8,20.6L92.2,21.3L91.9,22.3L91.3,22.6L90.6,22.3L89.7,21.9L89,21.8L88.2,21.7L86.9,21.3L86.7,20.3L85.8,19.8L85,19.3L84.1,18.3L82.3,16.6L81.5,16.3L80.7,15.6L80.2,15L80.2,13.3L80.1,12.3L79.8,11.3L79.8,10.3L79.2,10.2L78.9,9.3L78.2,8.9L77.5,8.1L77,8.4L76.6,9L76.2,10.2L75.7,11.3L75.2,12.2L74.6,13.6L74.1,14.9L73.5,16L73.1,17.5L72.9,18.9L72.8,20L72.7,21.2L72.5,22.3L72.2,21.2L71,20.8L70,21L69,22.3L69.6,22.5L70.3,22.9L68.8,23.1L68.2,23.7L67.4,24L67,24.8L66.6,25.4L65.5,25.3L64,25.3L62.4,25.1L61.5,25.2L59.6,25.4L58.4,25.6L57.3,25.8L57,26.8L56.4,27.2L55.6,26.9L54.7,26.5L53.5,26.9L52.3,27.6L51.5,27.9L50.8,28.8L50.2,29.6L49.5,30L48.9,30.3L48.4,29.9L48,29.9L47.9,29.4L48.4,28.5L48.8,27.7L49.6,26.9L50.1,26.3L50.2,25.7L50.6,25L51,24.6L51.3,26.1L51.6,25.3L51.6,24.5L52.5,24.2L53.8,24.1L54.6,24.5L55.5,25.3L56.1,26.1L56.4,26.3L56.3,25.3L56.4,24.8L57.2,23.9L58.6,23.6L59.4,22.6L59.8,22.5L59.3,21.4L58.5,20.5L57.8,19.9L57.7,18.9L56.6,18.6L55.7,17.9L55.2,17.3L53.9,16.9L52.4,16.2L52.2,15.6L49.6,14.5L48.7,14L47.5,13.6L45.9,13.3L45,12.8L43.5,12.7L43.2,13.3L42.8,14.3L42.8,15.3L42.6,16.5L41.8,17.8L40.9,19.4L39.8,20.4L39.1,21.5L38.9,22.5L38.2,24L37.5,24.5L37.1,25.2L36.6,25.9L36,26.9L35.1,28L34.6,28.1L34.8,28.9L35,29.5L34.2,31.3L34.5,31.6L34.9,32.5L35.1,33.1L35.5,33.9L35.9,34.6L35.8,35.5L36,35.9L36.2,36.6L35.6,36.6L34.7,36.8L34,36.3L33.2,36.1L32.4,36.2L31.5,36.7L30.6,36.7L30.4,36.2L29.6,36.2L28.7,36.7L27.6,36.7L27.2,37.7L26.4,38.2L26.8,38.7L26.7,39.3L26.1,39.5L26.2,40.1L27.5,40.4L29.1,41.1L30.5,41.1L31.4,41.2L32.5,41.8L33.4,42L35,42L35.5,41.7L36.9,41.2L38.3,40.9L39.5,41L40.4,41L41.5,41.5L41.7,42.1L41.5,42.7L40.3,43.1L39,44L37.6,44.7L37,45.3L38,46.2L39.2,47.2L37.5,47L35.5,46.5L35,45.7L36.5,45.4L35.5,45.1L34.5,44.6L33.6,44.4L33.5,45L32.5,45.4L33.6,45.9L32.5,46.1L31.6,46.6L30.8,46.5L30.2,45.8L29.6,45.3L28.8,44.6L28.6,43.7L27.9,43L27.9,42.6L27.5,42.4L28,41.8L28.5,41.3L29,41.2L27.5,41L26.4,40.6L26,40.8L25.5,40.9L24.5,40.9L23.7,40.7L22.9,40.6L22.6,40.2L23,39.3L22.7,38.9L24,38.2L23.1,37.4L23,36.5L22.4,36.5L21.7,36.8L21.1,37.8L21.5,38.3L20.8,38.8L20.2,39.6L19.4,40.3L19.5,41.2L19.4,41.9L18.5,42.4L17.5,43L16.4,43.5L15.5,44L14.9,44.6L14.5,45.2L13.8,44.9L13.6,45.6L13.1,45.7L12.4,45.4L12.3,44.8L12.4,44.2L13.5,43.6L14,42.7L14.8,42L16,41.9L16.2,41.6L17.3,40.9L18,40.6L18.5,40.1L18.3,39.8L17.2,40.4L16.6,40L16.5,39.6L17.1,39.1L16.6,38.4L16.1,38L15.7,37.9L15.7,38.7L16.2,38.9L15.7,40L15,40.2L14.6,40.6L14,40.9L13.1,41.3L12.2,41.8L11.3,42.4L10.6,42.9L10.3,43.7L9.7,44.1L8.8,44.4L8.1,43.9L7.5,43.8L6.6,43.2L5.5,43.2L4.5,43.4L3.4,43.3L3.1,42.5L3.2,42L2.2,41.3L0.9,40.9L0.2,40.2L-0.3,39.5L0.2,38.8L-0.5,38.3L-0.8,37.6L-1.6,37.2L-2.1,36.7L-3.4,36.7L-4.4,36.7L-5,36.4ZM-180,69L-178,68.6L-175.5,67.7L-173,67L-171.5,66.6L-170,66.2L-171.5,65.6L-172.8,65.3L-172.5,64.4L-174,64.4L-175.5,64.9L-177.5,65.3L-178.8,65.5L-180,65ZM-5.7,50.1L-4,50.4L-3,50.7L-1.5,50.7L0.5,50.8L1.4,51.2L0.9,51.8L1.7,52.6L1.3,53L0.3,53.4L-0.2,54L-0.6,54.5L-1.3,54.9L-1.6,55.6L-2.5,56L-2.8,56.4L-2.1,57.1L-1.8,57.6L-3.3,57.7L-4,57.6L-3.1,58.6L-5,58.6L-5.3,58L-5.8,57.3L-5.6,56.5L-6.3,56.3L-5.5,55.5L-4.9,55.7L-4.7,55L-5.1,54.8L-3.5,54.9L-3.3,54.3L-3,53.8L-3.1,53.3L-4.2,53.3L-4.6,52.8L-4.1,52.3L-5.2,51.8L-4.2,51.6L-3.2,51.4L-4,51.2L-4.5,50.9L-5.2,50.5ZM-6,52.2L-6,53.3L-6.1,54L-5.5,54.4L-6,55.2L-7.3,55.3L-8.3,55.1L-8.6,54.6L-10,54.2L-9.8,53.5L-9,53.2L-9.9,52.6L-10.3,51.9L-9.6,51.5L-8.2,51.8L-6.3,52.2ZM11,78.6L13.5,78.2L16,76.8L17.5,77.3L19,78.2L21,78.5L18.5,79.3L20,79.7L23,79.5L27,80.2L25,80.6L20,80.5L16,79.9L12,79.8L11,79.3ZM52,71.3L53,70.8L55.5,70.6L57.5,70.7L56,71.5L55.7,72.5L56.5,73.3L58,74.2L60,75L62.5,75.6L65,75.9L68.5,76.8L68,77L64,76.4L60,76L57,75L55.5,74L54,73.3L53,72.5L52.5,71.6ZM95,79L100,78L105,78.5L103,79.5L100,81L95,81L92,80ZM136,75L140,74L143,73.7L146,75L149,75.3L150,75.1L146,75.6L142,76L138,76L135.5,75.5ZM48,80.2L55,80L62,80.4L60,81.5L52,81.5L46,81ZM142,46L143.5,46.5L143.3,49L144.5,49L143,51L143.2,53L142.7,54.3L142.2,54L141.7,53.3L142,51.5L141.8,48.5L142,47L141.9,46ZM141,41.5L141.5,42.6L143.3,42L145.5,43.3L144.5,44.1L143,44.5L141.8,45.4L141.5,44.3L141.4,43.2L140.3,43.3L140,42.3L140.5,41.8ZM141.4,41.4L142,39.5L141,38.3L141,37L140.6,36L140.8,35.7L140,35L139.5,35.2L138.8,34.6L137.3,34.6L136.8,34.3L136,33.5L135,33.8L135,34.6L133.5,34.5L132,33.9L131,34L131.3,34.5L132.5,35.4L134,35.5L135.5,35.6L136.5,36.2L137,37L138.5,37.4L139.5,38.3L140,39.5L140,40.5L140.3,41.2ZM129.8,33.4L130.9,33.9L131.7,33.3L132,32.8L131.3,31.4L130.6,31L130.2,31.5L130.1,32.7L129.7,33ZM132.5,33.3L133,32.8L134.2,33.3L134.7,33.8L134.2,34.3L133,34.1L132.6,33.8ZM108.6,19.2L109.2,18.4L110.2,18.2L111,19.6L110.6,20.1L109.7,20L108.7,19.8ZM79.8,7L80,9.8L80.5,9.4L81.3,8.5L81.8,7.3L81.6,6.5L80.6,5.95L80.1,6.3ZM109,1.5L109.6,2L111,1.7L111.5,2.8L113,3.2L114,4.5L115.5,5.2L116.2,6.3L117,7L117.7,6.2L119.2,5.3L118.3,4.6L117.6,4.2L117.9,2.5L119,1L118,0.8L117.5,0L116.8,-1.2L116.4,-2.5L116.2,-3.9L114.6,-3.7L113.1,-3.2L111.8,-3L110.2,-2.9L110.1,-1.7L109.3,-0.5L109,0.5ZM95.3,5.6L97.5,5.2L98.3,4.2L100.4,2.2L101.5,1.7L103.5,0.1L104,-1L104.5,-1.8L106,-3L105.8,-5.8L104.6,-5.9L102.3,-4L101,-2.5L100.3,-1L99,0.8L98.5,2L97,3.6L96,4.7ZM105.2,-6.8L106,-5.9L108.3,-6.3L110.5,-6.8L111.5,-6.6L112.6,-6.9L114.5,-7.8L114.3,-8.6L112,-8.3L110,-8L107.5,-7.5L106,-7ZM131,-1.5L132.5,-0.4L134.2,-0.9L135,-3.3L137.5,-1.5L140,-2.4L142,-3.1L144.5,-3.8L145.8,-5L147.5,-6L147.9,-6.9L146.5,-7.5L147.2,-8.3L148.5,-9.5L150.6,-10.4L149.5,-10.5L147.5,-10.1L146,-8.2L144.3,-7.6L143.4,-8.5L143.2,-9.1L142.4,-9.2L141,-9.1L139.5,-8.1L138.4,-8.4L137.8,-7.6L138.7,-6.5L137.9,-5.2L135.3,-4.5L133.5,-4L132.8,-3.3L131.8,-2.8L132,-2ZM113.7,-22L114.2,-21.8L115.5,-21L116.8,-20.6L118.8,-20.3L121,-19.5L122.3,-17.5L123.5,-17L123.6,-16.3L124.5,-15.5L125.9,-14.5L127,-14L128.1,-15L129.7,-14.9L130.2,-13.3L130.8,-12.4L132.6,-12.1L132.5,-11.5L133.7,-11.8L135.9,-12L136.8,-12.2L136.2,-13.3L135.5,-14.8L137.1,-15.9L139.2,-17.3L140.8,-17.4L141.6,-15.1L141.5,-13L142,-11L142.5,-10.7L143.5,-12.5L143.6,-14L145.3,-14.9L145.4,-16.5L146.1,-18.8L148.5,-20.3L149.5,-22.3L150.8,-22.8L151.9,-24.5L153.1,-25.8L153.6,-28.5L153.1,-30.5L152.5,-32.4L151.3,-33.7L150.4,-35.6L150,-37.5L148,-37.8L146.3,-39L144.9,-37.9L143.5,-38.8L141.6,-38.3L139.8,-37.3L139.6,-36.2L138.4,-35.7L138.5,-34.8L137.8,-35.7L137.5,-34.8L137.8,-33.2L136.4,-34.9L135.7,-34.8L135.2,-33.8L134.2,-32.8L131.3,-31.5L128,-32L126,-32.3L124,-33L123.5,-33.9L121,-33.8L119.5,-34.4L117.8,-35.1L116,-34.9L115,-34.3L115.7,-33.3L115.8,-32L115,-29.5L114.6,-28.5L113.4,-26.5L113.8,-25.5L114.2,-26.3L113.5,-24.5L113.8,-23ZM144.7,-40.7L148.3,-40.9L148.3,-42.1L147.5,-43.2L146,-43.6L145.2,-42.2ZM172.7,-34.4L174.3,-35.3L175.5,-36.5L176,-37.6L178.5,-37.7L177.9,-39.2L176.9,-39.5L176.3,-40.5L175.2,-41.6L174.6,-41.2L175,-39.9L173.8,-39.3L174.6,-38.3L174.6,-37L173.5,-35.5ZM172.7,-40.5L174,-41.3L174.2,-41.8L173.2,-43L172.8,-43.8L171.3,-44.3L170.6,-45.9L169.3,-46.6L168.3,-46.6L166.5,-46L166.7,-45.2L168.3,-44L170.5,-43L171.5,-41.8L172.1,-40.9ZM12.4,37.8L13.3,38.2L15.6,38.3L15.1,36.7L14.3,37L12.7,37.6ZM8.4,39L8.4,40.9L9.3,41.2L9.8,40.5L9.6,39.1L9,39ZM8.6,41.4L8.6,42.6L9.4,43L9.5,42L9.2,41.4ZM23.5,35.3L26.3,35.3L26.1,35L24.7,34.9L23.5,35.2ZM32.3,34.7L32.5,35.1L34,35.3L34.6,35.7L34,35L33.8,34.9L33,34.6ZM11,55.4L12.6,55.6L12.3,56.1L11.2,55.9Z"/></clipPath><clipPath id="hclip"><path d="M-168,65.6L-166.5,66.2L-164.5,66.6L-163.5,66.1L-161.5,66.3L-163,67L-164.5,67.6L-166.5,68.3L-164.5,68.9L-163,69.5L-161.5,70.3L-159,70.8L-156.8,71.3L-154.5,70.9L-152,70.8L-149,70.5L-145,70.1L-141,69.6L-138,69.2L-136,68.9L-134.5,69.5L-132,69.7L-129.5,70L-127.5,70.3L-125.5,69.5L-124,69.6L-122,69.8L-119,69.3L-116.5,69.2L-115,68.6L-112,68.3L-109,68L-107.5,68.2L-106,68.8L-104,68.1L-101.5,67.8L-98,67.8L-96.5,68.3L-95.5,69.5L-96.5,70.3L-95,71.5L-94,71.8L-93,71L-92,70L-90.5,69.3L-89,68.5L-87.5,68L-86,68.5L-85,69.8L-83,69.7L-82,69L-81.3,68.1L-81.5,66.8L-83.5,66.2L-86,66.3L-87,65.2L-88.5,64.2L-90.5,63.5L-92.5,62.5L-94,61.2L-94.8,59.5L-94.2,58.7L-92.5,57.2L-90,57L-88,56.3L-85,55.3L-82.3,55L-82.1,53.2L-81.2,52.2L-79.5,51.5L-78.8,52.5L-79,54L-77,55.5L-76.5,56.8L-77.3,58.3L-77.5,59.5L-77.3,60.8L-78,62.4L-76,62.3L-73.5,62.2L-71.5,61.2L-69.8,60.8L-69.3,59.3L-68.3,58.5L-67,58.4L-66,58.8L-64.5,60.3L-63.8,59.1L-62.5,57.8L-61.5,56.8L-60.7,55.7L-58.5,54.5L-57.3,53.3L-55.9,52.2L-56.9,51.4L-58.2,51.1L-60,50.2L-62.5,50.2L-65,50.2L-66.8,49.8L-68.5,49.2L-69.8,48.2L-71.2,46.9L-70,47.3L-68.2,48.5L-66.5,49.2L-64.5,48.9L-64.3,48.2L-65.3,47.8L-64.8,46.9L-64.3,46.3L-62.5,45.7L-61,45.3L-60,45.9L-61.2,45.2L-63.3,44.6L-65.3,43.6L-66.1,43.9L-65,45.2L-67,44.8L-68.5,44.3L-70.2,43.6L-70.8,42.8L-70.6,41.8L-69.9,41.8L-70.3,41.5L-71.5,41.4L-73,41.1L-74,40.6L-74.1,39.8L-74.9,38.9L-75.5,39.5L-75.1,38.4L-76,37.8L-75.7,36.9L-75.5,35.3L-76.5,34.7L-77.9,33.9L-79.2,33.2L-80.5,32.3L-81.3,31.3L-81.4,30.2L-81,29.1L-80.5,28L-80.1,26.8L-80.2,25.6L-80.9,25.2L-81.3,25.9L-81.8,26.3L-82.5,27.6L-82.7,28.7L-83.5,29.6L-84.3,30L-85.4,29.7L-86.3,30.4L-88,30.4L-89.3,30.3L-89.5,29.4L-89.2,29.1L-90.2,29.1L-91.5,29.5L-93,29.7L-94.5,29.5L-95.5,28.8L-96.8,28.1L-97.4,27.2L-97.4,25.8L-97.7,24.3L-97.8,22.5L-97.3,21.2L-96.5,19.8L-95.8,18.7L-94.6,18.1L-93.2,18.4L-91.8,18.6L-90.7,19.6L-90.4,21L-89,21.4L-87.3,21.5L-86.8,20.8L-87.4,19.6L-87.8,18.3L-88.3,17.6L-88.3,16.2L-88.8,15.8L-87.5,15.8L-85.8,15.9L-84.3,15.8L-83.3,15L-83.3,14L-83.6,12.3L-83.7,11L-83,10L-82.2,9.1L-81.4,8.8L-80.3,9.2L-79.5,9.6L-78.5,9.4L-77.4,8.7L-77.2,7.9L-77.9,7.2L-78.5,8.3L-79.5,8.9L-80.4,8.3L-80,7.5L-80.9,7.3L-81.7,8.1L-82.9,8.1L-83.6,8.6L-84.9,9.8L-85.7,9.9L-85.8,11.1L-86.6,12L-87.5,12.9L-88.5,13.2L-89.8,13.5L-91.3,13.9L-92.3,14.6L-93.5,15.7L-94.7,16.2L-96.5,15.7L-97.9,16.1L-99.4,16.7L-101.1,17.4L-102.5,18L-103.6,18.7L-105,19.3L-105.7,20.4L-105.2,21.6L-105.8,22.6L-106.9,23.8L-108,25L-109.4,26L-110.5,27.7L-111.3,28.6L-112.3,29.6L-113,31.1L-113.9,31.6L-114.8,31.8L-114.6,30.2L-113.5,29L-112.7,27.5L-111.5,25.9L-110.7,24.8L-110.2,24.2L-109.5,23.2L-110,22.9L-111,24.1L-112.1,24.8L-112.3,26L-113.5,26.8L-114.5,27.7L-114.2,28.2L-115.5,29.7L-116.3,30.9L-117.1,32.5L-117.4,33.3L-118.4,33.8L-119.2,34.2L-120.6,34.6L-120.9,35.5L-121.9,36.5L-122.4,37.2L-122.5,37.8L-123,38L-123.8,39.3L-124.3,40.3L-124.1,41.5L-124.5,42.8L-124.1,44.5L-123.9,46.2L-124.1,47L-124.7,48.4L-123.2,48.1L-122.8,49L-123.5,49.5L-124.9,50L-125.6,50.4L-127.5,51L-127.8,52.2L-129.1,53L-130.1,54.2L-130.6,54.8L-131.8,55.5L-133.3,56.8L-134.2,58.2L-135.8,58.4L-137.2,58.8L-139.5,59.7L-141.5,60L-144,60L-146,60.7L-147.8,60.5L-149.3,59.9L-151.2,59.3L-151.8,60.2L-150.5,61.2L-152,60.5L-153.3,59.3L-154,58.2L-155.5,57.6L-157,56.7L-158.5,56L-160.2,55.6L-162,55L-163.5,54.7L-164.8,54.4L-163.2,55.3L-161.6,55.9L-160.3,56.5L-158.5,57.3L-157.5,58.2L-157,58.8L-158.5,58.9L-160.5,58.7L-162,59.5L-162.5,60L-164.5,60.5L-165.3,61.2L-166.1,61.6L-165.2,62.4L-164.6,63.1L-163,63.1L-161.5,63.5L-160.8,64.2L-161.5,64.5L-163,64.6L-165,64.5L-166.3,64.6L-166.8,65.2L-168,65.6ZM-73,78.3L-70,79.8L-66,81L-62,81.8L-57,82.2L-50,82.5L-44,83.3L-36,83.6L-28,83.5L-22,82.8L-20,81.9L-16.5,81.4L-12.5,81.5L-15.5,80.3L-19,79.5L-19.5,78.4L-18.3,77.2L-19.5,76L-20.3,74.8L-21.8,73.5L-22.3,72.3L-21.8,71L-23.5,70.4L-25.3,69.6L-28,68.5L-31,68L-34,66.5L-36.5,65.8L-38.5,65.4L-40,64.7L-40.8,63.5L-42,62.2L-43,60.9L-43.5,59.9L-44.6,60.1L-46.5,60.8L-48.3,61.3L-49.5,62.5L-50.5,63.8L-51.6,64.8L-52.5,66L-53.6,67.2L-53,68.3L-51.2,69L-52.5,70L-54.3,70.6L-54.5,71.5L-55.8,72.5L-57,74L-58.6,75.4L-61.5,76.1L-65,76.1L-68.5,76.2L-71.5,77L-73,78.3ZM-65,62L-66.5,62.3L-68.5,62.8L-71,62.9L-72.7,63.8L-74.5,64.4L-76.5,64.3L-78,64.6L-77.8,65.4L-75,65.9L-73.7,66.7L-73,67.8L-74.5,68.7L-76.8,69.3L-78.7,70L-81,69.8L-84.2,70.2L-86.5,70.5L-88.5,71.4L-89.5,72.5L-88.5,73.5L-86,73.8L-83,73.6L-80.5,73.7L-77,72.8L-74.5,72L-72,71.3L-69.5,70.5L-68,70.1L-67,69.2L-66.8,68.3L-64.5,67.5L-62.2,66.8L-61.5,66.3L-63.3,65.7L-64.2,65.1L-65,64.2L-64.5,63.5L-65,62.8ZM-118.5,73.3L-115,73.5L-112,73L-108.5,73.2L-106.5,73L-105,72L-104.2,71L-102,70L-101,69.2L-103.5,68.8L-106.5,68.8L-109,68.6L-112,68.5L-115,68.9L-117.5,69.5L-118.4,70.3L-116.5,70.6L-117.5,71.2L-119,71.6L-118.5,72.5ZM-125.3,71.9L-124.8,73.2L-123.5,73.9L-120.5,74.4L-117.5,74.2L-115.5,73.5L-117.3,72.9L-119.2,72.2L-121.5,71.5L-123.5,71.2ZM-89.5,76.5L-85,76.3L-81,76.3L-78.5,76.8L-76.5,77.8L-75,78.4L-73,78.7L-71,79.3L-68.5,80.2L-65,80.9L-62,81.9L-65,82.6L-70,82.9L-77,83.1L-84,82.6L-89,81.8L-92.5,80.9L-94,80.2L-92,79.4L-89,78.6L-88,77.8L-90.5,77.2ZM-90.5,78.2L-93,78.6L-95.5,79.3L-97,80L-95,80.7L-92,81.3L-89.5,80.8L-87.5,80.2L-88.5,79.2ZM-80,74.6L-85,74.4L-89.5,74.6L-92,75L-93.2,75.6L-92.5,76.3L-89,76.6L-85,76.5L-81.5,76.3L-79.5,75.6ZM-117,75.5L-115.5,76.4L-111,76.8L-107.5,76.6L-105.5,75.9L-106.5,75.1L-109,74.7L-112.5,74.4L-115.5,74.6ZM-96.6,72L-98.2,71.4L-100.5,71.9L-102.5,72.8L-101,73.9L-98,74L-96.4,73.2ZM-90.6,73.8L-94.8,74.1L-95.4,73L-94,72.2L-92.2,72L-90.6,72.7ZM-97.2,75.1L-100.5,75.5L-100.5,76.5L-98,76.6L-96.8,75.8ZM-93.5,74.8L-96,75L-96.2,75.6L-94,75.8ZM-114.5,76.6L-116.5,77.4L-121,76.7L-119.5,76L-116.5,76.1ZM-81.5,62.2L-83.5,62.5L-86,63.6L-86.8,64.8L-85.8,65.9L-83.8,65.6L-82,64.6L-80.2,63.8ZM-24.5,65.5L-23.8,66.1L-22,66.4L-20,66.1L-18,66.2L-16,66.5L-14.5,66.2L-13.6,65.2L-14.6,64.4L-16.5,63.8L-18.5,63.4L-20.5,63.7L-22.7,63.9L-22,64.5L-23.8,64.8L-22.3,65.2ZM-59.3,47.6L-58.5,48.6L-57.6,50.2L-56.6,51.3L-55.6,51.6L-55.9,50.5L-55.3,49.8L-54,49.6L-53.4,49.2L-53,48.3L-52.7,47.5L-53.4,46.7L-53.9,47.1L-54.6,47.1L-55.4,46.9L-56,47.6L-57.7,47.6ZM-123.3,48.4L-124.7,48.6L-125.9,49.2L-127.5,50.1L-128.3,50.8L-127,50.7L-125.3,50.2L-124,49.3ZM-77.4,8.7L-76.8,8.6L-76,9.5L-75.5,10.5L-74.8,11L-73.5,11.3L-72.2,11.9L-71.3,12.4L-71.3,11.5L-71.9,10.8L-71.6,9.5L-71,9.7L-71.2,10.9L-70.2,11.4L-70.1,12L-69.4,11.5L-68.3,10.8L-66.3,10.6L-64.2,10.6L-63,10.7L-62,10.7L-61,9.8L-60.5,8.6L-59.3,7.7L-58.4,6.9L-57.3,6L-55.5,5.9L-54,5.6L-52.6,5L-51.6,4.2L-51,3L-50.3,1.8L-49.9,1L-50.7,0L-49,-0.8L-47.8,-0.6L-46.3,-1L-44.8,-1.6L-44.3,-2.6L-43,-2.4L-41.5,-2.9L-39.7,-2.9L-38,-4L-37,-4.9L-35.3,-5.3L-34.8,-7.3L-35.1,-9L-36.4,-10.5L-37.2,-11.5L-38.2,-13L-38.9,-13.8L-39.1,-15.5L-39.3,-17.5L-39.7,-19.3L-40.7,-20.8L-41,-22L-41.9,-22.9L-43.5,-23L-44.6,-23.3L-46,-24L-47.6,-24.9L-48.5,-26L-48.6,-27.8L-49.6,-29.3L-50.6,-30.7L-51.9,-32L-52.7,-33.2L-53.6,-34L-54.9,-34.9L-55.9,-34.8L-57,-34.5L-58.4,-34.1L-58.3,-34.6L-57.2,-35.6L-56.7,-36.4L-57.5,-37.9L-59,-38.5L-61.5,-38.9L-62.3,-39.3L-62.2,-40.6L-63.6,-41.1L-65,-40.9L-65.1,-41.7L-64.2,-42.3L-63.7,-42.8L-65,-43.2L-65.2,-44.8L-66.5,-45.1L-67.5,-46.3L-66.6,-47L-65.9,-47.8L-67.2,-48.7L-67.8,-49.9L-68.7,-50.3L-69.1,-51.6L-68.3,-52.3L-68.5,-53.3L-67.2,-54L-65.3,-54.8L-66.5,-55.1L-68.5,-55.3L-70.3,-55L-71.6,-54.4L-72.9,-53.5L-74.4,-52.8L-75.2,-51.7L-75.5,-50L-75.3,-48.5L-75.6,-46.8L-74.6,-45.8L-74.2,-44.5L-73.4,-43.8L-73.9,-42.7L-73.8,-41.4L-73.7,-39.8L-73.5,-38.3L-73.6,-37.2L-72.8,-35.8L-71.9,-34.2L-71.6,-32.8L-71.5,-31.1L-71.6,-29.6L-71.3,-28L-70.9,-26.8L-70.5,-25L-70.4,-23.5L-70.2,-21.5L-70.1,-19.8L-70.3,-18.3L-71.4,-17.6L-72.7,-16.8L-74.2,-15.8L-75.6,-14.7L-76.3,-13.5L-77.1,-12.1L-77.8,-10.8L-78.6,-9.2L-79.4,-7.8L-79.9,-6.9L-81.2,-6L-80.9,-5L-81.3,-4.1L-80.3,-3.4L-79.8,-2.6L-80.3,-2.7L-80.9,-2.2L-80.5,-1L-80.1,0.1L-80,0.8L-79,1.2L-78.6,1.8L-77.9,2.6L-77.3,3.8L-77.3,4.7L-77.5,6.3L-77.9,7.2L-77.3,7.9ZM-5.9,35.8L-5,35.3L-3.5,35.2L-2,35.1L-1,35.6L0.5,36.3L2,36.6L3.5,36.8L5.5,36.8L7.5,37L9.8,37.3L11.1,37L10.5,36.4L10.8,35.6L11.1,35.2L10.3,34.4L10.1,33.8L11.1,33.3L12.5,32.8L13.9,32.7L15.3,32.2L15.7,31.4L17.2,31.1L18.7,30.5L19.6,30.5L20.1,31.2L20,32.1L20.9,32.7L22,32.9L23.2,32.4L24.9,31.9L25.9,31.6L27.4,31.4L29,30.9L30,31.3L31,31.6L32.2,31.3L34.2,31.3L34.9,29.5L34.4,28.3L34.2,27.8L33.8,28.2L33.2,28.9L32.6,29.9L32.4,29.6L32.8,28.7L33.4,27.6L34,26.5L34.8,25.1L35.6,23.9L35.6,23.1L36.9,22L37.2,21L37.3,19.5L37.9,18.4L38.6,17.6L39.2,16L39.7,15.4L41.2,14.5L42.3,13.4L43.3,12.5L43.2,11.6L42.7,11.5L43.6,10.8L44.6,10.4L45.6,10.7L46.7,10.7L47.7,11.1L49,11.3L50.3,11.7L51.2,11.9L51,10.6L50.8,9.4L50,8L49.5,6.8L48.6,5.4L47.7,4.2L46.6,2.9L45.6,2.1L44.1,1.2L42.8,0L41.8,-1.2L41,-2L40.2,-2.8L39.6,-4.3L39.2,-4.9L38.8,-6.4L39.4,-7.1L39.2,-8.5L39.9,-10.1L40.5,-10.8L40.5,-12.5L40.8,-14.7L40.1,-16.1L39.4,-16.7L37.4,-17.6L36.3,-18.7L34.8,-19.8L35.3,-21.2L35.4,-22.1L35.6,-23.7L35.1,-24.5L33.8,-25.2L32.9,-26.1L32.6,-27.4L32.4,-28.5L31.5,-29.3L30.9,-30.4L30,-31.3L28.9,-32.2L27.5,-33.2L26.4,-33.6L25.8,-33.9L24.7,-34L23.6,-33.8L22.6,-33.9L21.5,-34.3L20,-34.8L19.2,-34.5L18.4,-34.1L18.4,-33.2L18,-32.6L18.2,-31.7L17.6,-30.7L17.1,-29.9L16.3,-28.6L15.6,-27.8L15.2,-27.1L14.7,-25.4L14.4,-23.9L14.4,-22.7L13.9,-21.7L13.4,-20.9L12.8,-19.7L12.2,-18.9L11.7,-17.8L11.6,-16.7L11.8,-15.8L12.2,-14.4L12.7,-13.1L13.6,-12L13.7,-11.3L13.2,-10.1L12.9,-9.2L13.2,-8.6L12.5,-7.3L12.2,-6.3L12.3,-5.7L11.9,-5L11.1,-3.9L10.1,-2.9L9.4,-2.1L8.8,-1.1L9.3,0L9.5,1L9.8,2.3L9.9,3.1L9.4,3.7L8.9,4.1L8.5,4.5L7.5,4.4L6.7,4.2L5.9,4.3L5.4,4.9L4.8,6.1L4.3,6.3L2.7,6.3L1.9,6.1L1.1,5.9L-0.5,5.3L-1.1,5L-2,4.7L-3.3,5L-4,5.2L-5,5.2L-6.6,4.7L-7.5,4.3L-8.4,4.5L-9.3,5.2L-10.8,6.2L-11.4,6.8L-12.1,7.3L-12.9,7.8L-13.2,8.9L-13.7,9.5L-14.5,10.2L-14.7,10.7L-15.1,11L-15.7,11.5L-16.1,11.6L-16.7,12.4L-16.8,13.2L-16.7,13.6L-17.1,14.4L-17.6,14.7L-17.2,14.9L-16.5,16.1L-16.1,17L-16.1,18.1L-16.3,19.1L-16.4,19.6L-16.3,20.1L-16.5,20.6L-17,21L-16.9,21.9L-16.3,22.7L-16.1,23.6L-15.4,24.4L-15.1,24.5L-14.8,25.1L-14.4,26.3L-13.8,26.6L-13.1,27.7L-12.6,28L-11.7,28.1L-10.9,28.8L-10.4,29.1L-9.6,29.9L-9.8,31.2L-9.4,32L-8.7,33.2L-7.7,33.7L-6.9,34.1L-6.2,35.1ZM49.3,-12L49.9,-13.5L50.5,-15.5L49.9,-16.5L49.5,-17.7L49,-19.5L48.5,-21L48,-22.8L47.5,-24.5L47,-25.1L45.4,-25.6L44.4,-25.1L43.7,-23.6L43.3,-22L43.5,-21.3L44.4,-19.8L44.3,-18.6L44,-17.2L44.5,-16.2L46,-15.8L47.1,-14.9L47.8,-14L48.3,-13.6L49,-12.5ZM-5.6,36L-6.3,36.5L-6.9,37.2L-7.9,37L-8.9,37L-8.8,38L-9.3,38.7L-9.4,39.4L-8.9,40.2L-8.7,41.3L-8.9,42.1L-9.3,43L-8.2,43.6L-7,43.6L-5.5,43.6L-3.8,43.5L-1.8,43.4L-1.4,44.2L-1.2,45.5L-1.2,46.2L-2.1,46.8L-2.5,47.3L-3.5,47.7L-4.5,47.9L-4.7,48.4L-4,48.7L-3,48.8L-1.9,48.7L-1.6,49.7L-1.1,49.4L0.2,49.5L1,49.9L1.6,50.3L1.7,50.9L2.5,51.1L3.5,51.5L4,51.9L4.7,52.5L4.9,53L5.8,53.4L7,53.4L8.1,53.5L8.6,53.9L8.6,55.4L8.1,56.5L8.6,57.1L9.9,57.6L10.6,57.7L10.5,57.2L10.3,56.6L10.9,56.4L10.2,55.9L9.8,55.3L9.9,54.8L10.9,54.4L11.5,54.1L12.5,54.4L13.6,54.6L14.3,53.9L16,54.3L17.5,54.8L18.7,54.4L19.6,54.4L21.2,55.2L21,56.2L21.1,57L21.6,57.5L22.6,57.8L23.5,57L24.1,57.1L24.4,58.3L23.5,58.5L23.4,59.2L24.6,59.5L26.5,59.6L28,59.5L30.2,59.9L29,60.2L27.8,60.5L26,60.4L23,59.9L22.8,60.2L21.4,60.6L21.5,61.6L21.2,62.5L21.5,63.2L22.5,63.8L24.5,64.8L25.4,65.1L25.2,65.6L24.1,65.8L22.4,65.9L21.4,65.3L21.2,64.7L20.3,63.9L19,63.4L18,62.7L17.4,62.3L17.2,61.2L17.3,60.6L18.6,60.2L18.8,59.6L18.3,59.2L16.7,58.5L16.5,57.5L16,56.6L15.8,56.1L14.5,56.1L14.2,55.4L12.9,55.4L12.7,56.1L12.4,56.6L11.9,57.5L11.5,58.3L11.1,59.1L10.6,59.8L10.2,59.2L9.3,58.8L8.3,58.1L7,58L5.6,58.6L5.3,59.3L5,60L5,61L5,61.8L5.5,62.4L7,62.9L8.5,63.5L10,64L11,64.8L12.3,65.8L13.2,67L14.5,68L15.7,68.6L17,69.2L18.8,69.9L20.5,70.1L22,70.4L24,70.9L26,71.1L28,71L29.6,70.6L31,70.2L30.2,69.8L32.5,69.6L35.5,69.2L38.5,68.5L40.8,67.8L41.2,66.8L40.3,66.3L38.5,66.1L35.5,66.4L34.2,66.6L32.7,66.8L33.3,66.2L34.8,65.9L34.8,64.6L36.5,64.2L37.2,63.8L37.7,64.4L37,65L38.5,64.8L40,64.6L40.5,65.1L39.8,65.5L41.5,66L43,66.4L44.1,66L44.3,67.2L43.8,68.4L46,68.2L46.5,67.8L45.3,67.5L46.5,67L48.5,67.7L50,67.9L52.5,68.4L53.8,68.9L54.5,68.3L56,68.6L58,68.9L59.5,68.3L61,68.9L60.8,69.8L63.5,69.5L65.3,69.2L67.2,68.8L68.3,68.2L69.2,68.8L68.2,69.3L67.2,70L66.8,70.7L67.3,71.5L68.5,72.6L69.5,73.2L71.5,73L72.7,72.7L72.6,71.3L72.8,70.2L72.6,69.2L73.6,68.4L73,67.4L72.4,66.6L73.8,66.8L74.7,67.7L74.5,68.8L73.6,69.8L73.8,71L73.3,71.5L74.8,72.1L76.8,72.2L78.5,72.3L80.7,71.6L79.5,71L78.2,70.9L79.2,70.3L82.3,70.3L83,71L82.2,72L80.6,72.6L80.5,73.5L84,73.8L86.8,73.8L86.5,74.6L87.1,75.1L90,75.5L94,75.9L98,76.2L100.5,76.5L102,77.3L104.3,77.7L106,77.4L107.5,76.6L111,76.6L113.5,76.2L113.8,75.4L112.5,75L110.5,74.3L109.5,74L112,73.6L114,73.6L118,73.5L123,73.3L126.5,73.5L128.5,73L129.5,72L128.8,71.4L131,70.8L132.5,71.7L135,71.6L138,71.5L140,72.5L141,72.8L143,72.7L146,72.3L149.5,72L150.5,71.4L152,70.9L155,71L158,70.9L159.8,70.6L160.7,69.7L163,69.7L165.5,69.6L167.8,69.8L169.5,69L170.5,70.1L173,69.9L176,69.8L178.5,69.4L180,69L180,65L177,64.7L178.7,63.5L179.2,62.3L176,62L173.5,61.6L170.5,60L168,60.5L166,60L164.5,59.8L163.5,59.8L163,58.5L162,57.8L163.2,56.2L162.5,56L161.8,55L160,54L159.5,53.2L158.5,52.8L158,52L156.7,51L156.3,52.5L156,54.5L156,56.5L156.8,57.5L158,58L160,59.5L161.5,60.3L163.5,62.3L160,61.7L158,61.7L156.5,61.3L154.5,59.5L152,59.1L149,59.5L146,59.2L143,59.3L141,58.5L139,57.5L137,56L135.5,54.7L137,54L138.5,54.2L139.7,54.2L141.3,53.3L141,52.3L140.5,51L140.5,50L140.3,48.5L139,47.3L138,46.3L136.8,45L135.3,43.8L133.2,42.8L132,43.2L131,42.6L130.7,42.3L129.8,41L128.5,40L127.5,39.7L127.5,39.2L128.4,38.6L129.3,37.2L129.5,35.8L129.2,35.2L128,34.9L126.5,34.4L126.4,35.3L126.6,36.8L126.1,37.7L125.3,37.7L125.1,38.5L124.7,39.6L123.5,39.8L122,39L121.2,38.8L121.8,39.4L122.3,40.4L121.5,40.9L120.5,40.3L119.5,39.8L118.5,39.2L117.7,38.8L118,38L118.9,37.5L119.3,37.1L120.5,37.7L121.5,37.5L122.6,37.3L122.2,36.9L121,36.6L120.2,36.1L119.3,35.1L120.3,34.4L120.8,33L120.9,32.3L121.9,31.7L121.9,30.9L121,30.6L122,29.8L121.8,28.8L121,28L120.5,27.2L119.7,26.1L119.3,25.4L118.7,24.6L117.6,24L116.5,23L115.2,22.7L114.2,22.3L113.5,22.6L113,22L111.8,21.6L110.5,21.2L110.2,20.3L109.8,21.4L108.5,21.6L107.4,21.3L106.6,20.5L105.8,19.3L105.7,18.6L106.6,17.4L107.5,16.4L108.7,15.2L109.3,13.5L109.2,11.6L108,10.8L106.8,10.3L106,9.3L105.1,8.6L104.8,9.5L105,10L104.5,10.5L103.5,10.6L102.9,11.7L102.3,12.3L101,12.7L100.9,13.5L100.1,13.4L99.9,12.5L99.2,10.8L99.3,9.3L100.3,8.3L100.5,7.2L101.3,6.9L102.2,6.2L103,5.5L103.4,4.4L103.4,3.3L103.9,2.5L104.3,1.4L103.5,1.3L102.6,2L101.3,2.9L100.7,3.9L100.4,5L100.3,6.3L99.7,6.8L99,7.8L98.3,8.3L98.4,9.5L98.7,10.5L98.5,12L98.8,13L98.1,14.5L97.7,16L97.4,16.9L96.5,16.6L95.4,15.8L94.5,16L94.3,17.5L94.4,18.8L93.5,19.6L92.8,20.6L92.2,21.3L91.9,22.3L91.3,22.6L90.6,22.3L89.7,21.9L89,21.8L88.2,21.7L86.9,21.3L86.7,20.3L85.8,19.8L85,19.3L84.1,18.3L82.3,16.6L81.5,16.3L80.7,15.6L80.2,15L80.2,13.3L80.1,12.3L79.8,11.3L79.8,10.3L79.2,10.2L78.9,9.3L78.2,8.9L77.5,8.1L77,8.4L76.6,9L76.2,10.2L75.7,11.3L75.2,12.2L74.6,13.6L74.1,14.9L73.5,16L73.1,17.5L72.9,18.9L72.8,20L72.7,21.2L72.5,22.3L72.2,21.2L71,20.8L70,21L69,22.3L69.6,22.5L70.3,22.9L68.8,23.1L68.2,23.7L67.4,24L67,24.8L66.6,25.4L65.5,25.3L64,25.3L62.4,25.1L61.5,25.2L59.6,25.4L58.4,25.6L57.3,25.8L57,26.8L56.4,27.2L55.6,26.9L54.7,26.5L53.5,26.9L52.3,27.6L51.5,27.9L50.8,28.8L50.2,29.6L49.5,30L48.9,30.3L48.4,29.9L48,29.9L47.9,29.4L48.4,28.5L48.8,27.7L49.6,26.9L50.1,26.3L50.2,25.7L50.6,25L51,24.6L51.3,26.1L51.6,25.3L51.6,24.5L52.5,24.2L53.8,24.1L54.6,24.5L55.5,25.3L56.1,26.1L56.4,26.3L56.3,25.3L56.4,24.8L57.2,23.9L58.6,23.6L59.4,22.6L59.8,22.5L59.3,21.4L58.5,20.5L57.8,19.9L57.7,18.9L56.6,18.6L55.7,17.9L55.2,17.3L53.9,16.9L52.4,16.2L52.2,15.6L49.6,14.5L48.7,14L47.5,13.6L45.9,13.3L45,12.8L43.5,12.7L43.2,13.3L42.8,14.3L42.8,15.3L42.6,16.5L41.8,17.8L40.9,19.4L39.8,20.4L39.1,21.5L38.9,22.5L38.2,24L37.5,24.5L37.1,25.2L36.6,25.9L36,26.9L35.1,28L34.6,28.1L34.8,28.9L35,29.5L34.2,31.3L34.5,31.6L34.9,32.5L35.1,33.1L35.5,33.9L35.9,34.6L35.8,35.5L36,35.9L36.2,36.6L35.6,36.6L34.7,36.8L34,36.3L33.2,36.1L32.4,36.2L31.5,36.7L30.6,36.7L30.4,36.2L29.6,36.2L28.7,36.7L27.6,36.7L27.2,37.7L26.4,38.2L26.8,38.7L26.7,39.3L26.1,39.5L26.2,40.1L27.5,40.4L29.1,41.1L30.5,41.1L31.4,41.2L32.5,41.8L33.4,42L35,42L35.5,41.7L36.9,41.2L38.3,40.9L39.5,41L40.4,41L41.5,41.5L41.7,42.1L41.5,42.7L40.3,43.1L39,44L37.6,44.7L37,45.3L38,46.2L39.2,47.2L37.5,47L35.5,46.5L35,45.7L36.5,45.4L35.5,45.1L34.5,44.6L33.6,44.4L33.5,45L32.5,45.4L33.6,45.9L32.5,46.1L31.6,46.6L30.8,46.5L30.2,45.8L29.6,45.3L28.8,44.6L28.6,43.7L27.9,43L27.9,42.6L27.5,42.4L28,41.8L28.5,41.3L29,41.2L27.5,41L26.4,40.6L26,40.8L25.5,40.9L24.5,40.9L23.7,40.7L22.9,40.6L22.6,40.2L23,39.3L22.7,38.9L24,38.2L23.1,37.4L23,36.5L22.4,36.5L21.7,36.8L21.1,37.8L21.5,38.3L20.8,38.8L20.2,39.6L19.4,40.3L19.5,41.2L19.4,41.9L18.5,42.4L17.5,43L16.4,43.5L15.5,44L14.9,44.6L14.5,45.2L13.8,44.9L13.6,45.6L13.1,45.7L12.4,45.4L12.3,44.8L12.4,44.2L13.5,43.6L14,42.7L14.8,42L16,41.9L16.2,41.6L17.3,40.9L18,40.6L18.5,40.1L18.3,39.8L17.2,40.4L16.6,40L16.5,39.6L17.1,39.1L16.6,38.4L16.1,38L15.7,37.9L15.7,38.7L16.2,38.9L15.7,40L15,40.2L14.6,40.6L14,40.9L13.1,41.3L12.2,41.8L11.3,42.4L10.6,42.9L10.3,43.7L9.7,44.1L8.8,44.4L8.1,43.9L7.5,43.8L6.6,43.2L5.5,43.2L4.5,43.4L3.4,43.3L3.1,42.5L3.2,42L2.2,41.3L0.9,40.9L0.2,40.2L-0.3,39.5L0.2,38.8L-0.5,38.3L-0.8,37.6L-1.6,37.2L-2.1,36.7L-3.4,36.7L-4.4,36.7L-5,36.4ZM-180,69L-178,68.6L-175.5,67.7L-173,67L-171.5,66.6L-170,66.2L-171.5,65.6L-172.8,65.3L-172.5,64.4L-174,64.4L-175.5,64.9L-177.5,65.3L-178.8,65.5L-180,65ZM-5.7,50.1L-4,50.4L-3,50.7L-1.5,50.7L0.5,50.8L1.4,51.2L0.9,51.8L1.7,52.6L1.3,53L0.3,53.4L-0.2,54L-0.6,54.5L-1.3,54.9L-1.6,55.6L-2.5,56L-2.8,56.4L-2.1,57.1L-1.8,57.6L-3.3,57.7L-4,57.6L-3.1,58.6L-5,58.6L-5.3,58L-5.8,57.3L-5.6,56.5L-6.3,56.3L-5.5,55.5L-4.9,55.7L-4.7,55L-5.1,54.8L-3.5,54.9L-3.3,54.3L-3,53.8L-3.1,53.3L-4.2,53.3L-4.6,52.8L-4.1,52.3L-5.2,51.8L-4.2,51.6L-3.2,51.4L-4,51.2L-4.5,50.9L-5.2,50.5ZM-6,52.2L-6,53.3L-6.1,54L-5.5,54.4L-6,55.2L-7.3,55.3L-8.3,55.1L-8.6,54.6L-10,54.2L-9.8,53.5L-9,53.2L-9.9,52.6L-10.3,51.9L-9.6,51.5L-8.2,51.8L-6.3,52.2ZM11,78.6L13.5,78.2L16,76.8L17.5,77.3L19,78.2L21,78.5L18.5,79.3L20,79.7L23,79.5L27,80.2L25,80.6L20,80.5L16,79.9L12,79.8L11,79.3ZM52,71.3L53,70.8L55.5,70.6L57.5,70.7L56,71.5L55.7,72.5L56.5,73.3L58,74.2L60,75L62.5,75.6L65,75.9L68.5,76.8L68,77L64,76.4L60,76L57,75L55.5,74L54,73.3L53,72.5L52.5,71.6ZM113.7,-22L114.2,-21.8L115.5,-21L116.8,-20.6L118.8,-20.3L121,-19.5L122.3,-17.5L123.5,-17L123.6,-16.3L124.5,-15.5L125.9,-14.5L127,-14L128.1,-15L129.7,-14.9L130.2,-13.3L130.8,-12.4L132.6,-12.1L132.5,-11.5L133.7,-11.8L135.9,-12L136.8,-12.2L136.2,-13.3L135.5,-14.8L137.1,-15.9L139.2,-17.3L140.8,-17.4L141.6,-15.1L141.5,-13L142,-11L142.5,-10.7L143.5,-12.5L143.6,-14L145.3,-14.9L145.4,-16.5L146.1,-18.8L148.5,-20.3L149.5,-22.3L150.8,-22.8L151.9,-24.5L153.1,-25.8L153.6,-28.5L153.1,-30.5L152.5,-32.4L151.3,-33.7L150.4,-35.6L150,-37.5L148,-37.8L146.3,-39L144.9,-37.9L143.5,-38.8L141.6,-38.3L139.8,-37.3L139.6,-36.2L138.4,-35.7L138.5,-34.8L137.8,-35.7L137.5,-34.8L137.8,-33.2L136.4,-34.9L135.7,-34.8L135.2,-33.8L134.2,-32.8L131.3,-31.5L128,-32L126,-32.3L124,-33L123.5,-33.9L121,-33.8L119.5,-34.4L117.8,-35.1L116,-34.9L115,-34.3L115.7,-33.3L115.8,-32L115,-29.5L114.6,-28.5L113.4,-26.5L113.8,-25.5L114.2,-26.3L113.5,-24.5L113.8,-23ZM144.7,-40.7L148.3,-40.9L148.3,-42.1L147.5,-43.2L146,-43.6L145.2,-42.2ZM12.4,37.8L13.3,38.2L15.6,38.3L15.1,36.7L14.3,37L12.7,37.6ZM8.4,39L8.4,40.9L9.3,41.2L9.8,40.5L9.6,39.1L9,39ZM8.6,41.4L8.6,42.6L9.4,43L9.5,42L9.2,41.4ZM23.5,35.3L26.3,35.3L26.1,35L24.7,34.9L23.5,35.2ZM32.3,34.7L32.5,35.1L34,35.3L34.6,35.7L34,35L33.8,34.9L33,34.6ZM11,55.4L12.6,55.6L12.3,56.1L11.2,55.9Z"/></clipPath><pattern id="hatch" patternUnits="userSpaceOnUse" width="4.55" height="4.55"><path d="M-0.2,-0.2L4.75,4.75M-0.2,4.75L4.75,-0.2" stroke="#000" stroke-opacity="0.5" stroke-width="0.42" fill="none"/></pattern></defs><clipPath id="axa"><rect x="41.15" y="19.30" width="393.65" height="164.10"/></clipPath><g clip-path="url(#axa)"><g transform="translate(239.150,117.742) scale(1.1,-1.0938)"><g clip-path="url(#landclip)"><g shape-rendering="crispEdges"><path fill="#90d28c" d="M-85.05 84.95h20.1v2.6h-20.1zM-52.55 84.95h35.1v2.6h-35.1zM-100.05 82.45h90.1v2.6h-90.1zM14.95 82.45h15.1v2.6h-15.1zM42.45 82.45h22.6v2.6h-22.6zM89.95 82.45h15.1v2.6h-15.1zM-100.05 79.95h90.1v2.6h-90.1zM7.45 79.95h22.6v2.6h-22.6zM42.45 79.95h22.6v2.6h-22.6zM89.95 79.95h17.6v2.6h-17.6zM-125.05 77.45h115.1v2.6h-115.1zM7.45 77.45h22.6v2.6h-22.6zM42.45 77.45h30.1v2.6h-30.1zM84.95 77.45h32.6v2.6h-32.6zM132.45 77.45h20.1v2.6h-20.1zM-127.55 74.95h112.6v2.6h-112.6zM7.45 74.95h20.1v2.6h-20.1zM49.95 74.95h25.1v2.6h-25.1zM77.45 74.95h75.1v2.6h-75.1zM-180.05 72.45h5.1v2.6h-5.1zM-165.05 72.45h22.6v2.6h-22.6zM-132.55 72.45h117.6v2.6h-117.6zM12.45 72.45h22.6v2.6h-22.6zM47.45 72.45h115.1v2.6h-115.1zM174.95 72.45h5.1v2.6h-5.1zM-180.05 69.95h7.6v2.6h-7.6zM-170.05 69.95h152.6v2.6h-152.6zM9.95 69.95h170.1v2.6h-170.1zM-180.05 67.45h170.1v2.6h-170.1zM7.45 67.45h172.6v2.6h-172.6zM-180.05 64.95h170.1v2.6h-170.1zM2.45 64.95h177.6v2.6h-177.6zM-180.05 62.45h150.1v2.6h-150.1zM-27.55 62.45h17.6v2.6h-17.6zM2.45 62.45h177.6v2.6h-177.6zM-177.55 59.95h117.6v2.6h-117.6zM-55.05 59.95h17.6v2.6h-17.6zM-27.55 59.95h27.6v2.6h-27.6zM2.45 59.95h177.6v2.6h-177.6zM-170.05 57.45h112.6v2.6h-112.6zM-52.55 57.45h15.1v2.6h-15.1zM-10.05 57.45h190.1v2.6h-190.1zM-172.55 54.95h25.1v2.6h-25.1zM-142.55 54.95h90.1v2.6h-90.1zM-12.55 54.95h180.1v2.6h-180.1zM-172.55 52.45h22.6v2.6h-22.6zM-137.55 52.45h85.1v2.6h-85.1zM-12.55 52.45h57.6v2.6h-57.6zM69.95 52.45h5.1v2.6h-5.1zM84.95 52.45h62.6v2.6h-62.6zM152.45 52.45h15.1v2.6h-15.1zM-172.55 49.95h12.6v2.6h-12.6zM-135.05 49.95h85.1v2.6h-85.1zM-12.55 49.95h57.6v2.6h-57.6zM69.95 49.95h5.1v2.6h-5.1zM84.95 49.95h62.6v2.6h-62.6zM152.45 49.95h12.6v2.6h-12.6zM-132.55 47.45h27.6v2.6h-27.6zM-85.05 47.45h35.1v2.6h-35.1zM-12.55 47.45h37.6v2.6h-37.6zM74.95 47.45h5.1v2.6h-5.1zM89.95 47.45h20.1v2.6h-20.1zM139.95 47.45h7.6v2.6h-7.6zM152.45 47.45h10.1v2.6h-10.1zM-130.05 44.95h25.1v2.6h-25.1zM-85.05 44.95h35.1v2.6h-35.1zM-12.55 44.95h37.6v2.6h-37.6zM74.95 44.95h5.1v2.6h-5.1zM89.95 44.95h20.1v2.6h-20.1zM139.95 44.95h10.1v2.6h-10.1zM-127.55 42.45h22.6v2.6h-22.6zM-80.05 42.45h30.1v2.6h-30.1zM-12.55 42.45h10.1v2.6h-10.1zM29.95 42.45h5.1v2.6h-5.1zM39.95 42.45h5.1v2.6h-5.1zM74.95 42.45h5.1v2.6h-5.1zM144.95 42.45h5.1v2.6h-5.1zM-127.55 39.95h22.6v2.6h-22.6zM-80.05 39.95h20.1v2.6h-20.1zM29.95 39.95h5.1v2.6h-5.1zM74.95 39.95h5.1v2.6h-5.1zM144.95 39.95h5.1v2.6h-5.1zM-127.55 37.45h7.6v2.6h-7.6zM-115.05 37.45h10.1v2.6h-10.1zM-75.05 37.45h7.6v2.6h-7.6zM9.95 37.45h5.1v2.6h-5.1zM29.95 37.45h5.1v2.6h-5.1zM69.95 37.45h35.1v2.6h-35.1zM-127.55 34.95h7.6v2.6h-7.6zM-112.55 34.95h5.1v2.6h-5.1zM-75.05 34.95h5.1v2.6h-5.1zM74.95 34.95h30.1v2.6h-30.1zM-125.05 32.45h5.1v2.6h-5.1zM-77.55 32.45h5.1v2.6h-5.1zM77.45 32.45h27.6v2.6h-27.6zM-125.05 29.95h5.1v2.6h-5.1zM-77.55 29.95h5.1v2.6h-5.1zM89.95 29.95h15.1v2.6h-15.1zM-120.05 27.45h7.6v2.6h-7.6zM94.95 27.45h5.1v2.6h-5.1zM-120.05 24.95h10.1v2.6h-10.1zM-105.05 24.95h5.1v2.6h-5.1zM-160.05 22.45h7.6v2.6h-7.6zM-117.55 22.45h7.6v2.6h-7.6zM-105.05 22.45h5.1v2.6h-5.1zM-82.55 22.45h12.6v2.6h-12.6zM-160.05 19.95h7.6v2.6h-7.6zM-115.05 19.95h5.1v2.6h-5.1zM-102.55 19.95h2.6v2.6h-2.6zM-82.55 19.95h20.1v2.6h-20.1zM114.95 19.95h5.1v2.6h-5.1zM-160.05 17.45h7.6v2.6h-7.6zM-110.05 17.45h2.6v2.6h-2.6zM-80.05 17.45h17.6v2.6h-17.6zM112.45 17.45h7.6v2.6h-7.6zM-160.05 14.95h7.6v2.6h-7.6zM-110.05 14.95h5.1v2.6h-5.1zM-80.05 14.95h17.6v2.6h-17.6zM57.45 14.95h5.1v2.6h-5.1zM112.45 14.95h2.6v2.6h-2.6zM117.45 14.95h2.6v2.6h-2.6zM-80.05 12.45h22.6v2.6h-22.6zM54.95 12.45h2.6v2.6h-2.6zM114.95 12.45h5.1v2.6h-5.1zM-77.55 9.95h20.1v2.6h-20.1zM34.95 9.95h7.6v2.6h-7.6zM69.95 9.95h2.6v2.6h-2.6zM114.95 9.95h5.1v2.6h-5.1zM34.95 7.45h5.1v2.6h-5.1zM107.45 7.45h12.6v2.6h-12.6zM34.95 4.95h5.1v2.6h-5.1zM104.95 4.95h12.6v2.6h-12.6zM-7.55 2.45h5.1v2.6h-5.1zM104.95 2.45h5.1v2.6h-5.1zM-10.05 -0.05h7.6v2.6h-7.6zM-85.05 -2.55h7.6v2.6h-7.6zM149.95 -2.55h5.1v2.6h-5.1zM-85.05 -5.05h10.1v2.6h-10.1zM4.95 -5.05h5.1v2.6h-5.1zM149.95 -5.05h10.1v2.6h-10.1zM-85.05 -7.55h12.6v2.6h-12.6zM7.45 -7.55h2.6v2.6h-2.6zM154.95 -7.55h10.1v2.6h-10.1zM-85.05 -10.05h15.1v2.6h-15.1zM7.45 -10.05h2.6v2.6h-2.6zM99.95 -10.05h5.1v2.6h-5.1zM154.95 -10.05h10.1v2.6h-10.1zM-82.55 -12.55h12.6v2.6h-12.6zM122.45 -12.55h5.1v2.6h-5.1zM147.45 -12.55h5.1v2.6h-5.1zM154.95 -12.55h10.1v2.6h-10.1zM-82.55 -15.05h12.6v2.6h-12.6zM147.45 -15.05h5.1v2.6h-5.1zM162.45 -15.05h7.6v2.6h-7.6zM-80.05 -17.55h12.6v2.6h-12.6zM162.45 -17.55h7.6v2.6h-7.6zM174.95 -17.55h5.1v2.6h-5.1zM-77.55 -20.05h10.1v2.6h-10.1zM159.95 -20.05h10.1v2.6h-10.1zM174.95 -20.05h5.1v2.6h-5.1zM-75.05 -22.55h7.6v2.6h-7.6zM159.95 -22.55h10.1v2.6h-10.1zM174.95 -22.55h5.1v2.6h-5.1zM-75.05 -25.05h7.6v2.6h-7.6zM39.95 -25.05h5.1v2.6h-5.1zM159.95 -25.05h10.1v2.6h-10.1zM-75.05 -27.55h7.6v2.6h-7.6zM29.95 -27.55h22.6v2.6h-22.6zM-75.05 -30.05h7.6v2.6h-7.6zM29.95 -30.05h7.6v2.6h-7.6zM39.95 -30.05h10.1v2.6h-10.1zM-75.05 -32.55h7.6v2.6h-7.6zM169.95 -32.55h7.6v2.6h-7.6zM-77.55 -35.05h12.6v2.6h-12.6zM169.95 -35.05h10.1v2.6h-10.1zM-77.55 -37.55h12.6v2.6h-12.6zM147.45 -37.55h7.6v2.6h-7.6zM169.95 -37.55h10.1v2.6h-10.1zM-77.55 -40.05h12.6v2.6h-12.6zM144.95 -40.05h10.1v2.6h-10.1zM167.45 -40.05h12.6v2.6h-12.6zM-77.55 -42.55h20.1v2.6h-20.1zM139.95 -42.55h12.6v2.6h-12.6zM164.95 -42.55h15.1v2.6h-15.1zM-80.05 -45.05h22.6v2.6h-22.6zM139.95 -45.05h12.6v2.6h-12.6zM162.45 -45.05h17.6v2.6h-17.6zM-80.05 -47.55h20.1v2.6h-20.1zM64.95 -47.55h10.1v2.6h-10.1zM142.45 -47.55h10.1v2.6h-10.1zM162.45 -47.55h15.1v2.6h-15.1zM-80.05 -50.05h25.1v2.6h-25.1zM64.95 -50.05h10.1v2.6h-10.1zM162.45 -50.05h12.6v2.6h-12.6zM-80.05 -52.55h25.1v2.6h-25.1zM64.95 -52.55h10.1v2.6h-10.1zM-80.05 -55.05h25.1v2.6h-25.1zM-77.55 -57.55h15.1v2.6h-15.1zM-72.55 -60.05h7.6v2.6h-7.6z"/><path fill="#ecf860" d="M44.95 52.45h25.1v2.6h-25.1zM74.95 52.45h10.1v2.6h-10.1zM44.95 49.95h25.1v2.6h-25.1zM74.95 49.95h10.1v2.6h-10.1zM-105.05 47.45h20.1v2.6h-20.1zM24.95 47.45h20.1v2.6h-20.1zM54.95 47.45h20.1v2.6h-20.1zM79.95 47.45h10.1v2.6h-10.1zM109.95 47.45h30.1v2.6h-30.1zM-105.05 44.95h20.1v2.6h-20.1zM24.95 44.95h20.1v2.6h-20.1zM54.95 44.95h20.1v2.6h-20.1zM79.95 44.95h10.1v2.6h-10.1zM109.95 44.95h30.1v2.6h-30.1zM-105.05 42.45h5.1v2.6h-5.1zM-95.05 42.45h15.1v2.6h-15.1zM-2.55 42.45h32.6v2.6h-32.6zM34.95 42.45h5.1v2.6h-5.1zM44.95 42.45h5.1v2.6h-5.1zM69.95 42.45h5.1v2.6h-5.1zM79.95 42.45h35.1v2.6h-35.1zM119.95 42.45h5.1v2.6h-5.1zM129.95 42.45h15.1v2.6h-15.1zM-105.05 39.95h2.6v2.6h-2.6zM-92.55 39.95h12.6v2.6h-12.6zM-12.55 39.95h42.6v2.6h-42.6zM34.95 39.95h15.1v2.6h-15.1zM69.95 39.95h5.1v2.6h-5.1zM79.95 39.95h32.6v2.6h-32.6zM122.45 39.95h2.6v2.6h-2.6zM129.95 39.95h15.1v2.6h-15.1zM-120.05 37.45h5.1v2.6h-5.1zM-105.05 37.45h2.6v2.6h-2.6zM-80.05 37.45h5.1v2.6h-5.1zM-12.55 37.45h22.6v2.6h-22.6zM14.95 37.45h15.1v2.6h-15.1zM34.95 37.45h15.1v2.6h-15.1zM64.95 37.45h5.1v2.6h-5.1zM104.95 37.45h5.1v2.6h-5.1zM129.95 37.45h17.6v2.6h-17.6zM-120.05 34.95h7.6v2.6h-7.6zM-107.55 34.95h2.6v2.6h-2.6zM-80.05 34.95h5.1v2.6h-5.1zM-10.05 34.95h47.6v2.6h-47.6zM44.95 34.95h5.1v2.6h-5.1zM64.95 34.95h10.1v2.6h-10.1zM104.95 34.95h5.1v2.6h-5.1zM127.45 34.95h17.6v2.6h-17.6zM-120.05 32.45h15.1v2.6h-15.1zM-80.05 32.45h2.6v2.6h-2.6zM12.45 32.45h10.1v2.6h-10.1zM64.95 32.45h5.1v2.6h-5.1zM74.95 32.45h2.6v2.6h-2.6zM104.95 32.45h5.1v2.6h-5.1zM124.95 32.45h20.1v2.6h-20.1zM-120.05 29.95h12.6v2.6h-12.6zM-80.05 29.95h2.6v2.6h-2.6zM14.95 29.95h5.1v2.6h-5.1zM77.45 29.95h12.6v2.6h-12.6zM104.95 29.95h5.1v2.6h-5.1zM124.95 29.95h17.6v2.6h-17.6zM-112.55 27.45h5.1v2.6h-5.1zM-105.05 27.45h5.1v2.6h-5.1zM89.95 27.45h5.1v2.6h-5.1zM99.95 27.45h5.1v2.6h-5.1zM127.45 27.45h7.6v2.6h-7.6zM-100.05 24.95h2.6v2.6h-2.6zM92.45 24.95h10.1v2.6h-10.1zM-100.05 22.45h10.1v2.6h-10.1zM-85.05 22.45h2.6v2.6h-2.6zM114.95 22.45h5.1v2.6h-5.1zM-110.05 19.95h7.6v2.6h-7.6zM-100.05 19.95h10.1v2.6h-10.1zM-85.05 19.95h2.6v2.6h-2.6zM112.45 19.95h2.6v2.6h-2.6zM-107.55 17.45h15.1v2.6h-15.1zM-82.55 17.45h2.6v2.6h-2.6zM54.95 17.45h7.6v2.6h-7.6zM87.45 17.45h2.6v2.6h-2.6zM109.95 17.45h2.6v2.6h-2.6zM-105.05 14.95h10.1v2.6h-10.1zM54.95 14.95h2.6v2.6h-2.6zM84.95 14.95h7.6v2.6h-7.6zM109.95 14.95h2.6v2.6h-2.6zM-105.05 12.45h5.1v2.6h-5.1zM34.95 12.45h10.1v2.6h-10.1zM49.95 12.45h5.1v2.6h-5.1zM69.95 12.45h5.1v2.6h-5.1zM89.95 12.45h5.1v2.6h-5.1zM-80.05 9.95h2.6v2.6h-2.6zM-57.55 9.95h2.6v2.6h-2.6zM32.45 9.95h2.6v2.6h-2.6zM42.45 9.95h2.6v2.6h-2.6zM49.95 9.95h5.1v2.6h-5.1zM72.45 9.95h2.6v2.6h-2.6zM89.95 9.95h5.1v2.6h-5.1zM-80.05 7.45h12.6v2.6h-12.6zM32.45 7.45h2.6v2.6h-2.6zM39.95 7.45h5.1v2.6h-5.1zM72.45 7.45h2.6v2.6h-2.6zM89.95 7.45h5.1v2.6h-5.1zM104.95 7.45h2.6v2.6h-2.6zM-80.05 4.95h10.1v2.6h-10.1zM29.95 4.95h5.1v2.6h-5.1zM39.95 4.95h5.1v2.6h-5.1zM72.45 4.95h2.6v2.6h-2.6zM92.45 4.95h2.6v2.6h-2.6zM117.45 4.95h2.6v2.6h-2.6zM-80.05 2.45h10.1v2.6h-10.1zM-10.05 2.45h2.6v2.6h-2.6zM-2.55 2.45h2.6v2.6h-2.6zM9.95 2.45h5.1v2.6h-5.1zM29.95 2.45h15.1v2.6h-15.1zM109.95 2.45h2.6v2.6h-2.6zM-82.55 -0.05h12.6v2.6h-12.6zM-12.55 -0.05h2.6v2.6h-2.6zM7.45 -0.05h7.6v2.6h-7.6zM29.95 -0.05h15.1v2.6h-15.1zM104.95 -0.05h5.1v2.6h-5.1zM134.95 -0.05h7.6v2.6h-7.6zM-77.55 -2.55h5.1v2.6h-5.1zM4.95 -2.55h10.1v2.6h-10.1zM29.95 -2.55h10.1v2.6h-10.1zM129.95 -2.55h20.1v2.6h-20.1zM-75.05 -5.05h2.6v2.6h-2.6zM9.95 -5.05h5.1v2.6h-5.1zM29.95 -5.05h10.1v2.6h-10.1zM129.95 -5.05h20.1v2.6h-20.1zM-72.55 -7.55h2.6v2.6h-2.6zM-35.05 -7.55h2.6v2.6h-2.6zM9.95 -7.55h5.1v2.6h-5.1zM24.95 -7.55h15.1v2.6h-15.1zM99.95 -7.55h5.1v2.6h-5.1zM129.95 -7.55h25.1v2.6h-25.1zM-35.05 -10.05h2.6v2.6h-2.6zM9.95 -10.05h5.1v2.6h-5.1zM24.95 -10.05h15.1v2.6h-15.1zM142.45 -10.05h12.6v2.6h-12.6zM-45.05 -12.55h12.6v2.6h-12.6zM7.45 -12.55h12.6v2.6h-12.6zM24.95 -12.55h10.1v2.6h-10.1zM119.95 -12.55h2.6v2.6h-2.6zM127.45 -12.55h2.6v2.6h-2.6zM144.95 -12.55h2.6v2.6h-2.6zM-70.05 -15.05h2.6v2.6h-2.6zM-45.05 -15.05h12.6v2.6h-12.6zM7.45 -15.05h12.6v2.6h-12.6zM24.95 -15.05h10.1v2.6h-10.1zM119.95 -15.05h10.1v2.6h-10.1zM144.95 -15.05h2.6v2.6h-2.6zM-67.55 -17.55h2.6v2.6h-2.6zM-50.05 -17.55h15.1v2.6h-15.1zM7.45 -17.55h17.6v2.6h-17.6zM29.95 -17.55h5.1v2.6h-5.1zM-67.55 -20.05h2.6v2.6h-2.6zM-50.05 -20.05h15.1v2.6h-15.1zM7.45 -20.05h17.6v2.6h-17.6zM29.95 -20.05h5.1v2.6h-5.1zM-67.55 -22.55h2.6v2.6h-2.6zM-50.05 -22.55h15.1v2.6h-15.1zM7.45 -22.55h17.6v2.6h-17.6zM29.95 -22.55h5.1v2.6h-5.1zM39.95 -22.55h12.6v2.6h-12.6zM-67.55 -25.05h2.6v2.6h-2.6zM-50.05 -25.05h12.6v2.6h-12.6zM9.95 -25.05h15.1v2.6h-15.1zM29.95 -25.05h10.1v2.6h-10.1zM44.95 -25.05h7.6v2.6h-7.6zM-67.55 -27.55h2.6v2.6h-2.6zM-52.55 -27.55h15.1v2.6h-15.1zM9.95 -27.55h20.1v2.6h-20.1zM-67.55 -30.05h2.6v2.6h-2.6zM-55.05 -30.05h10.1v2.6h-10.1zM9.95 -30.05h20.1v2.6h-20.1zM-67.55 -32.55h2.6v2.6h-2.6zM-55.05 -32.55h10.1v2.6h-10.1zM12.45 -32.55h22.6v2.6h-22.6zM109.95 -32.55h30.1v2.6h-30.1zM149.95 -32.55h7.6v2.6h-7.6zM-65.05 -35.05h2.6v2.6h-2.6zM-55.05 -35.05h7.6v2.6h-7.6zM14.95 -35.05h20.1v2.6h-20.1zM112.45 -35.05h27.6v2.6h-27.6zM147.45 -35.05h10.1v2.6h-10.1zM-65.05 -37.55h5.1v2.6h-5.1zM14.95 -37.55h17.6v2.6h-17.6zM112.45 -37.55h15.1v2.6h-15.1zM129.95 -37.55h17.6v2.6h-17.6zM-65.05 -40.05h7.6v2.6h-7.6zM134.95 -40.05h10.1v2.6h-10.1zM-57.55 -42.55h2.6v2.6h-2.6zM137.45 -42.55h2.6v2.6h-2.6z"/><path fill="#e5be50" d="M44.95 47.45h10.1v2.6h-10.1zM44.95 44.95h10.1v2.6h-10.1zM-100.05 42.45h5.1v2.6h-5.1zM49.95 42.45h20.1v2.6h-20.1zM114.95 42.45h5.1v2.6h-5.1zM124.95 42.45h5.1v2.6h-5.1zM-102.55 39.95h10.1v2.6h-10.1zM49.95 39.95h20.1v2.6h-20.1zM112.45 39.95h10.1v2.6h-10.1zM124.95 39.95h5.1v2.6h-5.1zM-102.55 37.45h22.6v2.6h-22.6zM49.95 37.45h5.1v2.6h-5.1zM59.95 37.45h5.1v2.6h-5.1zM109.95 37.45h20.1v2.6h-20.1zM-105.05 34.95h5.1v2.6h-5.1zM-95.05 34.95h15.1v2.6h-15.1zM-12.55 34.95h2.6v2.6h-2.6zM37.45 34.95h7.6v2.6h-7.6zM49.95 34.95h5.1v2.6h-5.1zM59.95 34.95h5.1v2.6h-5.1zM109.95 34.95h5.1v2.6h-5.1zM119.95 34.95h7.6v2.6h-7.6zM-105.05 32.45h2.6v2.6h-2.6zM-95.05 32.45h15.1v2.6h-15.1zM-12.55 32.45h25.1v2.6h-25.1zM22.45 32.45h20.1v2.6h-20.1zM49.95 32.45h15.1v2.6h-15.1zM69.95 32.45h5.1v2.6h-5.1zM109.95 32.45h5.1v2.6h-5.1zM122.45 32.45h2.6v2.6h-2.6zM-107.55 29.95h7.6v2.6h-7.6zM-95.05 29.95h15.1v2.6h-15.1zM-15.05 29.95h30.1v2.6h-30.1zM19.95 29.95h20.1v2.6h-20.1zM52.45 29.95h17.6v2.6h-17.6zM74.95 29.95h2.6v2.6h-2.6zM109.95 29.95h5.1v2.6h-5.1zM122.45 29.95h2.6v2.6h-2.6zM-107.55 27.45h2.6v2.6h-2.6zM-100.05 27.45h22.6v2.6h-22.6zM-5.05 27.45h30.1v2.6h-30.1zM54.95 27.45h5.1v2.6h-5.1zM84.95 27.45h5.1v2.6h-5.1zM104.95 27.45h20.1v2.6h-20.1zM-110.05 24.95h5.1v2.6h-5.1zM-97.55 24.95h20.1v2.6h-20.1zM-2.55 24.95h27.6v2.6h-27.6zM57.45 24.95h2.6v2.6h-2.6zM89.95 24.95h2.6v2.6h-2.6zM102.45 24.95h22.6v2.6h-22.6zM-110.05 22.45h5.1v2.6h-5.1zM-90.05 22.45h5.1v2.6h-5.1zM9.95 22.45h10.1v2.6h-10.1zM89.95 22.45h17.6v2.6h-17.6zM109.95 22.45h5.1v2.6h-5.1zM119.95 22.45h5.1v2.6h-5.1zM-90.05 19.95h5.1v2.6h-5.1zM9.95 19.95h10.1v2.6h-10.1zM57.45 19.95h7.6v2.6h-7.6zM89.95 19.95h15.1v2.6h-15.1zM107.45 19.95h5.1v2.6h-5.1zM119.95 19.95h5.1v2.6h-5.1zM-92.55 17.45h2.6v2.6h-2.6zM-85.05 17.45h2.6v2.6h-2.6zM9.95 17.45h10.1v2.6h-10.1zM24.95 17.45h5.1v2.6h-5.1zM64.95 17.45h2.6v2.6h-2.6zM84.95 17.45h2.6v2.6h-2.6zM89.95 17.45h5.1v2.6h-5.1zM104.95 17.45h5.1v2.6h-5.1zM119.95 17.45h5.1v2.6h-5.1zM-95.05 14.95h5.1v2.6h-5.1zM-85.05 14.95h5.1v2.6h-5.1zM9.95 14.95h10.1v2.6h-10.1zM24.95 14.95h5.1v2.6h-5.1zM34.95 14.95h5.1v2.6h-5.1zM49.95 14.95h5.1v2.6h-5.1zM69.95 14.95h2.6v2.6h-2.6zM82.45 14.95h2.6v2.6h-2.6zM92.45 14.95h2.6v2.6h-2.6zM104.95 14.95h5.1v2.6h-5.1zM119.95 14.95h7.6v2.6h-7.6zM-100.05 12.45h20.1v2.6h-20.1zM-20.05 12.45h2.6v2.6h-2.6zM9.95 12.45h5.1v2.6h-5.1zM19.95 12.45h5.1v2.6h-5.1zM29.95 12.45h5.1v2.6h-5.1zM44.95 12.45h5.1v2.6h-5.1zM84.95 12.45h2.6v2.6h-2.6zM94.95 12.45h2.6v2.6h-2.6zM104.95 12.45h7.6v2.6h-7.6zM119.95 12.45h10.1v2.6h-10.1zM-95.05 9.95h15.1v2.6h-15.1zM-20.05 9.95h5.1v2.6h-5.1zM9.95 9.95h5.1v2.6h-5.1zM19.95 9.95h5.1v2.6h-5.1zM27.45 9.95h5.1v2.6h-5.1zM44.95 9.95h5.1v2.6h-5.1zM74.95 9.95h2.6v2.6h-2.6zM94.95 9.95h2.6v2.6h-2.6zM102.45 9.95h10.1v2.6h-10.1zM119.95 9.95h10.1v2.6h-10.1zM-90.05 7.45h10.1v2.6h-10.1zM-67.55 7.45h17.6v2.6h-17.6zM-20.05 7.45h52.6v2.6h-52.6zM44.95 7.45h2.6v2.6h-2.6zM49.95 7.45h5.1v2.6h-5.1zM74.95 7.45h2.6v2.6h-2.6zM94.95 7.45h10.1v2.6h-10.1zM119.95 7.45h10.1v2.6h-10.1zM-87.55 4.95h7.6v2.6h-7.6zM-70.05 4.95h22.6v2.6h-22.6zM-17.55 4.95h47.6v2.6h-47.6zM44.95 4.95h2.6v2.6h-2.6zM74.95 4.95h2.6v2.6h-2.6zM94.95 4.95h10.1v2.6h-10.1zM119.95 4.95h10.1v2.6h-10.1zM-82.55 2.45h2.6v2.6h-2.6zM-70.05 2.45h22.6v2.6h-22.6zM-15.05 2.45h5.1v2.6h-5.1zM-0.05 2.45h10.1v2.6h-10.1zM14.95 2.45h15.1v2.6h-15.1zM44.95 2.45h7.6v2.6h-7.6zM92.45 2.45h12.6v2.6h-12.6zM112.45 2.45h20.1v2.6h-20.1zM-85.05 -0.05h2.6v2.6h-2.6zM-70.05 -0.05h30.1v2.6h-30.1zM2.45 -0.05h5.1v2.6h-5.1zM14.95 -0.05h15.1v2.6h-15.1zM44.95 -0.05h7.6v2.6h-7.6zM92.45 -0.05h12.6v2.6h-12.6zM109.95 -0.05h25.1v2.6h-25.1zM-72.55 -2.55h7.6v2.6h-7.6zM-55.05 -2.55h22.6v2.6h-22.6zM14.95 -2.55h15.1v2.6h-15.1zM39.95 -2.55h10.1v2.6h-10.1zM94.95 -2.55h35.1v2.6h-35.1zM-72.55 -5.05h7.6v2.6h-7.6zM-55.05 -5.05h22.6v2.6h-22.6zM14.95 -5.05h15.1v2.6h-15.1zM39.95 -5.05h5.1v2.6h-5.1zM97.45 -5.05h32.6v2.6h-32.6zM-70.05 -7.55h35.1v2.6h-35.1zM14.95 -7.55h10.1v2.6h-10.1zM39.95 -7.55h5.1v2.6h-5.1zM97.45 -7.55h2.6v2.6h-2.6zM104.95 -7.55h25.1v2.6h-25.1zM-70.05 -10.05h35.1v2.6h-35.1zM14.95 -10.05h10.1v2.6h-10.1zM39.95 -10.05h12.6v2.6h-12.6zM104.95 -10.05h37.6v2.6h-37.6zM-70.05 -12.55h25.1v2.6h-25.1zM19.95 -12.55h5.1v2.6h-5.1zM34.95 -12.55h20.1v2.6h-20.1zM104.95 -12.55h15.1v2.6h-15.1zM129.95 -12.55h15.1v2.6h-15.1zM-67.55 -15.05h22.6v2.6h-22.6zM19.95 -15.05h5.1v2.6h-5.1zM34.95 -15.05h20.1v2.6h-20.1zM129.95 -15.05h2.6v2.6h-2.6zM142.45 -15.05h2.6v2.6h-2.6zM-65.05 -17.55h15.1v2.6h-15.1zM24.95 -17.55h5.1v2.6h-5.1zM34.95 -17.55h20.1v2.6h-20.1zM119.95 -17.55h10.1v2.6h-10.1zM144.95 -17.55h5.1v2.6h-5.1zM-65.05 -20.05h15.1v2.6h-15.1zM24.95 -20.05h5.1v2.6h-5.1zM34.95 -20.05h20.1v2.6h-20.1zM144.95 -20.05h7.6v2.6h-7.6zM-65.05 -22.55h2.6v2.6h-2.6zM-55.05 -22.55h5.1v2.6h-5.1zM24.95 -22.55h5.1v2.6h-5.1zM34.95 -22.55h5.1v2.6h-5.1zM109.95 -22.55h5.1v2.6h-5.1zM119.95 -22.55h5.1v2.6h-5.1zM144.95 -22.55h10.1v2.6h-10.1zM-65.05 -25.05h2.6v2.6h-2.6zM-55.05 -25.05h5.1v2.6h-5.1zM24.95 -25.05h5.1v2.6h-5.1zM109.95 -25.05h5.1v2.6h-5.1zM119.95 -25.05h5.1v2.6h-5.1zM144.95 -25.05h12.6v2.6h-12.6zM-65.05 -27.55h2.6v2.6h-2.6zM-55.05 -27.55h2.6v2.6h-2.6zM109.95 -27.55h47.6v2.6h-47.6zM-65.05 -30.05h2.6v2.6h-2.6zM-57.55 -30.05h2.6v2.6h-2.6zM109.95 -30.05h47.6v2.6h-47.6zM-65.05 -32.55h10.1v2.6h-10.1zM139.95 -32.55h10.1v2.6h-10.1zM-62.55 -35.05h7.6v2.6h-7.6zM139.95 -35.05h7.6v2.6h-7.6zM-60.05 -37.55h10.1v2.6h-10.1zM-57.55 -40.05h5.1v2.6h-5.1z"/><path fill="#e5903a" d="M54.95 37.45h5.1v2.6h-5.1zM-100.05 34.95h5.1v2.6h-5.1zM54.95 34.95h5.1v2.6h-5.1zM114.95 34.95h5.1v2.6h-5.1zM-102.55 32.45h7.6v2.6h-7.6zM42.45 32.45h7.6v2.6h-7.6zM114.95 32.45h7.6v2.6h-7.6zM-100.05 29.95h5.1v2.6h-5.1zM-17.55 29.95h2.6v2.6h-2.6zM39.95 29.95h5.1v2.6h-5.1zM49.95 29.95h2.6v2.6h-2.6zM69.95 29.95h5.1v2.6h-5.1zM114.95 29.95h7.6v2.6h-7.6zM-17.55 27.45h12.6v2.6h-12.6zM24.95 27.45h15.1v2.6h-15.1zM49.95 27.45h5.1v2.6h-5.1zM59.95 27.45h12.6v2.6h-12.6zM74.95 27.45h10.1v2.6h-10.1zM-20.05 24.95h17.6v2.6h-17.6zM24.95 24.95h15.1v2.6h-15.1zM52.45 24.95h5.1v2.6h-5.1zM59.95 24.95h10.1v2.6h-10.1zM84.95 24.95h5.1v2.6h-5.1zM-20.05 22.45h5.1v2.6h-5.1zM2.45 22.45h7.6v2.6h-7.6zM19.95 22.45h20.1v2.6h-20.1zM54.95 22.45h15.1v2.6h-15.1zM87.45 22.45h2.6v2.6h-2.6zM107.45 22.45h2.6v2.6h-2.6zM-20.05 19.95h5.1v2.6h-5.1zM4.95 19.95h5.1v2.6h-5.1zM19.95 19.95h20.1v2.6h-20.1zM54.95 19.95h2.6v2.6h-2.6zM64.95 19.95h5.1v2.6h-5.1zM84.95 19.95h5.1v2.6h-5.1zM104.95 19.95h2.6v2.6h-2.6zM-90.05 17.45h5.1v2.6h-5.1zM7.45 17.45h2.6v2.6h-2.6zM19.95 17.45h5.1v2.6h-5.1zM29.95 17.45h10.1v2.6h-10.1zM44.95 17.45h10.1v2.6h-10.1zM67.45 17.45h7.6v2.6h-7.6zM79.95 17.45h5.1v2.6h-5.1zM94.95 17.45h10.1v2.6h-10.1zM-90.05 14.95h5.1v2.6h-5.1zM-20.05 14.95h2.6v2.6h-2.6zM7.45 14.95h2.6v2.6h-2.6zM19.95 14.95h5.1v2.6h-5.1zM29.95 14.95h5.1v2.6h-5.1zM39.95 14.95h10.1v2.6h-10.1zM72.45 14.95h5.1v2.6h-5.1zM79.95 14.95h2.6v2.6h-2.6zM94.95 14.95h10.1v2.6h-10.1zM-17.55 12.45h2.6v2.6h-2.6zM-5.05 12.45h15.1v2.6h-15.1zM14.95 12.45h5.1v2.6h-5.1zM24.95 12.45h5.1v2.6h-5.1zM74.95 12.45h10.1v2.6h-10.1zM97.45 12.45h7.6v2.6h-7.6zM-15.05 9.95h2.6v2.6h-2.6zM-7.55 9.95h17.6v2.6h-17.6zM14.95 9.95h5.1v2.6h-5.1zM24.95 9.95h2.6v2.6h-2.6zM77.45 9.95h7.6v2.6h-7.6zM97.45 9.95h5.1v2.6h-5.1zM47.45 7.45h2.6v2.6h-2.6zM77.45 7.45h7.6v2.6h-7.6zM47.45 4.95h7.6v2.6h-7.6zM77.45 4.95h7.6v2.6h-7.6zM77.45 2.45h7.6v2.6h-7.6zM-65.05 -2.55h10.1v2.6h-10.1zM-65.05 -5.05h10.1v2.6h-10.1zM132.45 -15.05h10.1v2.6h-10.1zM117.45 -17.55h2.6v2.6h-2.6zM129.95 -17.55h15.1v2.6h-15.1zM109.95 -20.05h35.1v2.6h-35.1zM-62.55 -22.55h7.6v2.6h-7.6zM114.95 -22.55h5.1v2.6h-5.1zM124.95 -22.55h20.1v2.6h-20.1zM-62.55 -25.05h7.6v2.6h-7.6zM114.95 -25.05h5.1v2.6h-5.1zM124.95 -25.05h20.1v2.6h-20.1zM-62.55 -27.55h7.6v2.6h-7.6zM-62.55 -30.05h5.1v2.6h-5.1z"/><path fill="#e46428" d="M44.95 29.95h5.1v2.6h-5.1zM39.95 27.45h10.1v2.6h-10.1zM72.45 27.45h2.6v2.6h-2.6zM39.95 24.95h12.6v2.6h-12.6zM69.95 24.95h15.1v2.6h-15.1zM-15.05 22.45h17.6v2.6h-17.6zM39.95 22.45h15.1v2.6h-15.1zM69.95 22.45h17.6v2.6h-17.6zM-15.05 19.95h20.1v2.6h-20.1zM39.95 19.95h15.1v2.6h-15.1zM69.95 19.95h15.1v2.6h-15.1zM-20.05 17.45h27.6v2.6h-27.6zM39.95 17.45h5.1v2.6h-5.1zM74.95 17.45h5.1v2.6h-5.1zM-17.55 14.95h25.1v2.6h-25.1zM77.45 14.95h2.6v2.6h-2.6zM-15.05 12.45h10.1v2.6h-10.1zM-12.55 9.95h5.1v2.6h-5.1z"/></g></g><use href="#water" fill="#fff"/><use href="#bord" fill="none" stroke="#1a1a1a" stroke-width="0.382" stroke-opacity="0.85"/><use href="#land" fill="none" stroke="#111" stroke-width="0.500"/><use href="#water" fill="none" stroke="#111" stroke-width="0.500"/></g></g><clipPath id="axb"><rect x="40.50" y="219.30" width="394.00" height="164.60"/></clipPath><g clip-path="url(#axb)"><g transform="translate(238.752,318.012) scale(1.1014,-1.0968)"><g clip-path="url(#landclip)"><g shape-rendering="crispEdges"><path fill="#90d28c" d="M-85.05 84.95h20.1v2.6h-20.1zM-52.55 84.95h35.1v2.6h-35.1zM-100.05 82.45h90.1v2.6h-90.1zM14.95 82.45h15.1v2.6h-15.1zM42.45 82.45h22.6v2.6h-22.6zM89.95 82.45h15.1v2.6h-15.1zM-100.05 79.95h90.1v2.6h-90.1zM7.45 79.95h22.6v2.6h-22.6zM42.45 79.95h22.6v2.6h-22.6zM89.95 79.95h17.6v2.6h-17.6zM-125.05 77.45h115.1v2.6h-115.1zM7.45 77.45h22.6v2.6h-22.6zM42.45 77.45h30.1v2.6h-30.1zM84.95 77.45h32.6v2.6h-32.6zM132.45 77.45h20.1v2.6h-20.1zM-127.55 74.95h112.6v2.6h-112.6zM7.45 74.95h20.1v2.6h-20.1zM49.95 74.95h25.1v2.6h-25.1zM77.45 74.95h75.1v2.6h-75.1zM-180.05 72.45h5.1v2.6h-5.1zM-165.05 72.45h22.6v2.6h-22.6zM-132.55 72.45h117.6v2.6h-117.6zM12.45 72.45h22.6v2.6h-22.6zM47.45 72.45h115.1v2.6h-115.1zM174.95 72.45h5.1v2.6h-5.1zM-180.05 69.95h7.6v2.6h-7.6zM-170.05 69.95h152.6v2.6h-152.6zM9.95 69.95h170.1v2.6h-170.1zM-180.05 67.45h170.1v2.6h-170.1zM7.45 67.45h172.6v2.6h-172.6zM-180.05 64.95h170.1v2.6h-170.1zM2.45 64.95h177.6v2.6h-177.6zM-180.05 62.45h150.1v2.6h-150.1zM-27.55 62.45h17.6v2.6h-17.6zM2.45 62.45h177.6v2.6h-177.6zM-177.55 59.95h117.6v2.6h-117.6zM-55.05 59.95h17.6v2.6h-17.6zM-27.55 59.95h27.6v2.6h-27.6zM2.45 59.95h177.6v2.6h-177.6zM-170.05 57.45h112.6v2.6h-112.6zM-52.55 57.45h15.1v2.6h-15.1zM-10.05 57.45h55.1v2.6h-55.1zM84.95 57.45h10.1v2.6h-10.1zM104.95 57.45h75.1v2.6h-75.1zM-172.55 54.95h25.1v2.6h-25.1zM-142.55 54.95h90.1v2.6h-90.1zM-12.55 54.95h57.6v2.6h-57.6zM84.95 54.95h10.1v2.6h-10.1zM104.95 54.95h62.6v2.6h-62.6zM-172.55 52.45h22.6v2.6h-22.6zM-137.55 52.45h22.6v2.6h-22.6zM-85.05 52.45h32.6v2.6h-32.6zM-12.55 52.45h12.6v2.6h-12.6zM89.95 52.45h15.1v2.6h-15.1zM124.95 52.45h22.6v2.6h-22.6zM152.45 52.45h15.1v2.6h-15.1zM-172.55 49.95h12.6v2.6h-12.6zM-135.05 49.95h20.1v2.6h-20.1zM-82.55 49.95h32.6v2.6h-32.6zM-12.55 49.95h12.6v2.6h-12.6zM89.95 49.95h15.1v2.6h-15.1zM124.95 49.95h22.6v2.6h-22.6zM152.45 49.95h12.6v2.6h-12.6zM-132.55 47.45h7.6v2.6h-7.6zM-115.05 47.45h5.1v2.6h-5.1zM-65.05 47.45h15.1v2.6h-15.1zM-12.55 47.45h7.6v2.6h-7.6zM89.95 47.45h15.1v2.6h-15.1zM139.95 47.45h7.6v2.6h-7.6zM152.45 47.45h10.1v2.6h-10.1zM-130.05 44.95h5.1v2.6h-5.1zM-115.05 44.95h5.1v2.6h-5.1zM-65.05 44.95h15.1v2.6h-15.1zM-12.55 44.95h7.6v2.6h-7.6zM92.45 44.95h10.1v2.6h-10.1zM139.95 44.95h10.1v2.6h-10.1zM-127.55 42.45h2.6v2.6h-2.6zM-115.05 42.45h7.6v2.6h-7.6zM-65.05 42.45h15.1v2.6h-15.1zM139.95 42.45h10.1v2.6h-10.1zM-127.55 39.95h2.6v2.6h-2.6zM-115.05 39.95h10.1v2.6h-10.1zM-65.05 39.95h5.1v2.6h-5.1zM32.45 39.95h2.6v2.6h-2.6zM74.95 39.95h5.1v2.6h-5.1zM139.95 39.95h10.1v2.6h-10.1zM-110.05 37.45h5.1v2.6h-5.1zM-72.55 37.45h5.1v2.6h-5.1zM72.45 37.45h30.1v2.6h-30.1zM139.95 37.45h7.6v2.6h-7.6zM-72.55 34.95h2.6v2.6h-2.6zM79.95 34.95h25.1v2.6h-25.1zM142.45 34.95h2.6v2.6h-2.6zM-125.05 32.45h5.1v2.6h-5.1zM-75.05 32.45h2.6v2.6h-2.6zM82.45 32.45h22.6v2.6h-22.6zM-125.05 29.95h5.1v2.6h-5.1zM-75.05 29.95h2.6v2.6h-2.6zM84.95 29.95h17.6v2.6h-17.6zM-120.05 27.45h2.6v2.6h-2.6zM94.95 27.45h5.1v2.6h-5.1zM-120.05 24.95h5.1v2.6h-5.1zM-160.05 22.45h7.6v2.6h-7.6zM-117.55 22.45h5.1v2.6h-5.1zM-75.05 22.45h5.1v2.6h-5.1zM-160.05 19.95h7.6v2.6h-7.6zM-115.05 19.95h5.1v2.6h-5.1zM-102.55 19.95h2.6v2.6h-2.6zM-80.05 19.95h17.6v2.6h-17.6zM-160.05 17.45h7.6v2.6h-7.6zM-110.05 17.45h2.6v2.6h-2.6zM-77.55 17.45h15.1v2.6h-15.1zM-160.05 14.95h7.6v2.6h-7.6zM-110.05 14.95h5.1v2.6h-5.1zM-77.55 14.95h15.1v2.6h-15.1zM57.45 14.95h5.1v2.6h-5.1zM-77.55 12.45h20.1v2.6h-20.1zM54.95 12.45h2.6v2.6h-2.6zM-77.55 9.95h5.1v2.6h-5.1zM69.95 9.95h2.6v2.6h-2.6zM-10.05 -0.05h7.6v2.6h-7.6zM149.95 -2.55h5.1v2.6h-5.1zM-85.05 -5.05h5.1v2.6h-5.1zM7.45 -5.05h2.6v2.6h-2.6zM149.95 -5.05h10.1v2.6h-10.1zM-85.05 -7.55h10.1v2.6h-10.1zM7.45 -7.55h2.6v2.6h-2.6zM154.95 -7.55h10.1v2.6h-10.1zM-85.05 -10.05h12.6v2.6h-12.6zM154.95 -10.05h10.1v2.6h-10.1zM-82.55 -12.55h10.1v2.6h-10.1zM147.45 -12.55h5.1v2.6h-5.1zM154.95 -12.55h10.1v2.6h-10.1zM-82.55 -15.05h10.1v2.6h-10.1zM147.45 -15.05h5.1v2.6h-5.1zM162.45 -15.05h7.6v2.6h-7.6zM-80.05 -17.55h10.1v2.6h-10.1zM162.45 -17.55h7.6v2.6h-7.6zM174.95 -17.55h5.1v2.6h-5.1zM-77.55 -20.05h10.1v2.6h-10.1zM159.95 -20.05h10.1v2.6h-10.1zM174.95 -20.05h5.1v2.6h-5.1zM-75.05 -22.55h7.6v2.6h-7.6zM159.95 -22.55h10.1v2.6h-10.1zM174.95 -22.55h5.1v2.6h-5.1zM-75.05 -25.05h7.6v2.6h-7.6zM42.45 -25.05h2.6v2.6h-2.6zM159.95 -25.05h10.1v2.6h-10.1zM-75.05 -27.55h7.6v2.6h-7.6zM42.45 -27.55h10.1v2.6h-10.1zM-75.05 -30.05h7.6v2.6h-7.6zM29.95 -30.05h2.6v2.6h-2.6zM42.45 -30.05h7.6v2.6h-7.6zM-75.05 -32.55h5.1v2.6h-5.1zM169.95 -32.55h7.6v2.6h-7.6zM-77.55 -35.05h7.6v2.6h-7.6zM169.95 -35.05h10.1v2.6h-10.1zM-77.55 -37.55h7.6v2.6h-7.6zM152.45 -37.55h2.6v2.6h-2.6zM169.95 -37.55h10.1v2.6h-10.1zM-77.55 -40.05h7.6v2.6h-7.6zM149.95 -40.05h5.1v2.6h-5.1zM167.45 -40.05h12.6v2.6h-12.6zM-77.55 -42.55h20.1v2.6h-20.1zM139.95 -42.55h12.6v2.6h-12.6zM164.95 -42.55h15.1v2.6h-15.1zM-80.05 -45.05h22.6v2.6h-22.6zM139.95 -45.05h12.6v2.6h-12.6zM162.45 -45.05h17.6v2.6h-17.6zM-80.05 -47.55h20.1v2.6h-20.1zM64.95 -47.55h10.1v2.6h-10.1zM142.45 -47.55h10.1v2.6h-10.1zM162.45 -47.55h15.1v2.6h-15.1zM-80.05 -50.05h25.1v2.6h-25.1zM64.95 -50.05h10.1v2.6h-10.1zM162.45 -50.05h12.6v2.6h-12.6zM-80.05 -52.55h25.1v2.6h-25.1zM64.95 -52.55h10.1v2.6h-10.1zM-80.05 -55.05h25.1v2.6h-25.1zM-77.55 -57.55h15.1v2.6h-15.1zM-72.55 -60.05h7.6v2.6h-7.6z"/><path fill="#ecf860" d="M44.95 57.45h40.1v2.6h-40.1zM94.95 57.45h10.1v2.6h-10.1zM44.95 54.95h40.1v2.6h-40.1zM94.95 54.95h10.1v2.6h-10.1zM-115.05 52.45h30.1v2.6h-30.1zM-0.05 52.45h45.1v2.6h-45.1zM64.95 52.45h25.1v2.6h-25.1zM104.95 52.45h20.1v2.6h-20.1zM-115.05 49.95h32.6v2.6h-32.6zM-0.05 49.95h42.6v2.6h-42.6zM64.95 49.95h25.1v2.6h-25.1zM104.95 49.95h20.1v2.6h-20.1zM-125.05 47.45h10.1v2.6h-10.1zM-110.05 47.45h5.1v2.6h-5.1zM-82.55 47.45h17.6v2.6h-17.6zM-5.05 47.45h20.1v2.6h-20.1zM69.95 47.45h20.1v2.6h-20.1zM104.95 47.45h35.1v2.6h-35.1zM-125.05 44.95h10.1v2.6h-10.1zM-110.05 44.95h5.1v2.6h-5.1zM-80.05 44.95h15.1v2.6h-15.1zM-5.05 44.95h20.1v2.6h-20.1zM69.95 44.95h22.6v2.6h-22.6zM102.45 44.95h37.6v2.6h-37.6zM-125.05 42.45h10.1v2.6h-10.1zM-107.55 42.45h2.6v2.6h-2.6zM-75.05 42.45h10.1v2.6h-10.1zM-12.55 42.45h22.6v2.6h-22.6zM29.95 42.45h10.1v2.6h-10.1zM49.95 42.45h5.1v2.6h-5.1zM72.45 42.45h10.1v2.6h-10.1zM92.45 42.45h10.1v2.6h-10.1zM109.95 42.45h10.1v2.6h-10.1zM129.95 42.45h10.1v2.6h-10.1zM-125.05 39.95h10.1v2.6h-10.1zM-105.05 39.95h2.6v2.6h-2.6zM-75.05 39.95h10.1v2.6h-10.1zM2.45 39.95h7.6v2.6h-7.6zM29.95 39.95h2.6v2.6h-2.6zM34.95 39.95h5.1v2.6h-5.1zM49.95 39.95h5.1v2.6h-5.1zM72.45 39.95h2.6v2.6h-2.6zM79.95 39.95h2.6v2.6h-2.6zM92.45 39.95h10.1v2.6h-10.1zM109.95 39.95h7.6v2.6h-7.6zM129.95 39.95h10.1v2.6h-10.1zM-127.55 37.45h17.6v2.6h-17.6zM-105.05 37.45h2.6v2.6h-2.6zM-75.05 37.45h2.6v2.6h-2.6zM4.95 37.45h5.1v2.6h-5.1zM14.95 37.45h5.1v2.6h-5.1zM29.95 37.45h10.1v2.6h-10.1zM69.95 37.45h2.6v2.6h-2.6zM102.45 37.45h2.6v2.6h-2.6zM137.45 37.45h2.6v2.6h-2.6zM-127.55 34.95h25.1v2.6h-25.1zM-75.05 34.95h2.6v2.6h-2.6zM4.95 34.95h5.1v2.6h-5.1zM14.95 34.95h5.1v2.6h-5.1zM29.95 34.95h7.6v2.6h-7.6zM72.45 34.95h7.6v2.6h-7.6zM139.95 34.95h2.6v2.6h-2.6zM-120.05 32.45h5.1v2.6h-5.1zM-80.05 32.45h5.1v2.6h-5.1zM79.95 32.45h2.6v2.6h-2.6zM124.95 32.45h5.1v2.6h-5.1zM142.45 32.45h2.6v2.6h-2.6zM-120.05 29.95h5.1v2.6h-5.1zM-80.05 29.95h5.1v2.6h-5.1zM82.45 29.95h2.6v2.6h-2.6zM102.45 29.95h2.6v2.6h-2.6zM124.95 29.95h5.1v2.6h-5.1zM-117.55 27.45h2.6v2.6h-2.6zM84.95 27.45h10.1v2.6h-10.1zM99.95 27.45h5.1v2.6h-5.1zM-115.05 24.95h2.6v2.6h-2.6zM-105.05 24.95h5.1v2.6h-5.1zM87.45 24.95h15.1v2.6h-15.1zM-112.55 22.45h2.6v2.6h-2.6zM-105.05 22.45h15.1v2.6h-15.1zM-85.05 22.45h10.1v2.6h-10.1zM-110.05 19.95h7.6v2.6h-7.6zM-100.05 19.95h10.1v2.6h-10.1zM-85.05 19.95h5.1v2.6h-5.1zM-107.55 17.45h7.6v2.6h-7.6zM-80.05 17.45h2.6v2.6h-2.6zM57.45 17.45h5.1v2.6h-5.1zM87.45 17.45h2.6v2.6h-2.6zM109.95 17.45h10.1v2.6h-10.1zM-105.05 14.95h5.1v2.6h-5.1zM-80.05 14.95h2.6v2.6h-2.6zM54.95 14.95h2.6v2.6h-2.6zM87.45 14.95h2.6v2.6h-2.6zM109.95 14.95h5.1v2.6h-5.1zM117.45 14.95h2.6v2.6h-2.6zM-105.05 12.45h5.1v2.6h-5.1zM-80.05 12.45h2.6v2.6h-2.6zM49.95 12.45h5.1v2.6h-5.1zM69.95 12.45h2.6v2.6h-2.6zM89.95 12.45h5.1v2.6h-5.1zM114.95 12.45h5.1v2.6h-5.1zM-80.05 9.95h2.6v2.6h-2.6zM-72.55 9.95h17.6v2.6h-17.6zM39.95 9.95h5.1v2.6h-5.1zM49.95 9.95h5.1v2.6h-5.1zM72.45 9.95h2.6v2.6h-2.6zM89.95 9.95h5.1v2.6h-5.1zM114.95 9.95h5.1v2.6h-5.1zM-80.05 7.45h7.6v2.6h-7.6zM37.45 7.45h7.6v2.6h-7.6zM72.45 7.45h2.6v2.6h-2.6zM89.95 7.45h5.1v2.6h-5.1zM114.95 7.45h5.1v2.6h-5.1zM-77.55 4.95h2.6v2.6h-2.6zM34.95 4.95h7.6v2.6h-7.6zM72.45 4.95h2.6v2.6h-2.6zM92.45 4.95h2.6v2.6h-2.6zM114.95 4.95h5.1v2.6h-5.1zM-77.55 2.45h2.6v2.6h-2.6zM-10.05 2.45h10.1v2.6h-10.1zM34.95 2.45h5.1v2.6h-5.1zM-80.05 -0.05h5.1v2.6h-5.1zM-12.55 -0.05h2.6v2.6h-2.6zM34.95 -0.05h5.1v2.6h-5.1zM134.95 -0.05h7.6v2.6h-7.6zM-85.05 -2.55h10.1v2.6h-10.1zM4.95 -2.55h5.1v2.6h-5.1zM29.95 -2.55h10.1v2.6h-10.1zM132.45 -2.55h17.6v2.6h-17.6zM-80.05 -5.05h5.1v2.6h-5.1zM4.95 -5.05h2.6v2.6h-2.6zM29.95 -5.05h10.1v2.6h-10.1zM132.45 -5.05h17.6v2.6h-17.6zM-75.05 -7.55h5.1v2.6h-5.1zM29.95 -7.55h10.1v2.6h-10.1zM99.95 -7.55h5.1v2.6h-5.1zM132.45 -7.55h12.6v2.6h-12.6zM149.95 -7.55h5.1v2.6h-5.1zM-72.55 -10.05h2.6v2.6h-2.6zM7.45 -10.05h5.1v2.6h-5.1zM29.95 -10.05h10.1v2.6h-10.1zM99.95 -10.05h5.1v2.6h-5.1zM147.45 -10.05h7.6v2.6h-7.6zM-72.55 -12.55h2.6v2.6h-2.6zM7.45 -12.55h12.6v2.6h-12.6zM29.95 -12.55h5.1v2.6h-5.1zM119.95 -12.55h10.1v2.6h-10.1zM144.95 -12.55h2.6v2.6h-2.6zM-72.55 -15.05h2.6v2.6h-2.6zM7.45 -15.05h12.6v2.6h-12.6zM29.95 -15.05h5.1v2.6h-5.1zM122.45 -15.05h5.1v2.6h-5.1zM144.95 -15.05h2.6v2.6h-2.6zM-70.05 -17.55h2.6v2.6h-2.6zM7.45 -17.55h7.6v2.6h-7.6zM49.95 -17.55h5.1v2.6h-5.1zM-67.55 -20.05h2.6v2.6h-2.6zM7.45 -20.05h7.6v2.6h-7.6zM49.95 -20.05h5.1v2.6h-5.1zM-67.55 -22.55h2.6v2.6h-2.6zM7.45 -22.55h12.6v2.6h-12.6zM39.95 -22.55h12.6v2.6h-12.6zM-67.55 -25.05h2.6v2.6h-2.6zM9.95 -25.05h10.1v2.6h-10.1zM39.95 -25.05h2.6v2.6h-2.6zM44.95 -25.05h7.6v2.6h-7.6zM-67.55 -27.55h2.6v2.6h-2.6zM24.95 -27.55h10.1v2.6h-10.1zM39.95 -27.55h2.6v2.6h-2.6zM-67.55 -30.05h2.6v2.6h-2.6zM24.95 -30.05h5.1v2.6h-5.1zM32.45 -30.05h5.1v2.6h-5.1zM39.95 -30.05h2.6v2.6h-2.6zM-70.05 -32.55h5.1v2.6h-5.1zM12.45 -32.55h22.6v2.6h-22.6zM-70.05 -35.05h5.1v2.6h-5.1zM14.95 -35.05h20.1v2.6h-20.1zM112.45 -35.05h17.6v2.6h-17.6zM-70.05 -37.55h5.1v2.6h-5.1zM14.95 -37.55h17.6v2.6h-17.6zM112.45 -37.55h15.1v2.6h-15.1zM134.95 -37.55h17.6v2.6h-17.6zM-70.05 -40.05h7.6v2.6h-7.6zM134.95 -40.05h15.1v2.6h-15.1zM-57.55 -42.55h2.6v2.6h-2.6zM137.45 -42.55h2.6v2.6h-2.6z"/><path fill="#e5be50" d="M44.95 52.45h20.1v2.6h-20.1zM42.45 49.95h22.6v2.6h-22.6zM-105.05 47.45h22.6v2.6h-22.6zM14.95 47.45h32.6v2.6h-32.6zM49.95 47.45h20.1v2.6h-20.1zM-105.05 44.95h25.1v2.6h-25.1zM14.95 44.95h30.1v2.6h-30.1zM49.95 44.95h20.1v2.6h-20.1zM-105.05 42.45h5.1v2.6h-5.1zM-95.05 42.45h20.1v2.6h-20.1zM9.95 42.45h20.1v2.6h-20.1zM39.95 42.45h5.1v2.6h-5.1zM47.45 42.45h2.6v2.6h-2.6zM54.95 42.45h2.6v2.6h-2.6zM64.95 42.45h7.6v2.6h-7.6zM82.45 42.45h10.1v2.6h-10.1zM102.45 42.45h7.6v2.6h-7.6zM119.95 42.45h10.1v2.6h-10.1zM-102.55 39.95h2.6v2.6h-2.6zM-95.05 39.95h20.1v2.6h-20.1zM-12.55 39.95h15.1v2.6h-15.1zM9.95 39.95h20.1v2.6h-20.1zM39.95 39.95h10.1v2.6h-10.1zM54.95 39.95h2.6v2.6h-2.6zM64.95 39.95h7.6v2.6h-7.6zM82.45 39.95h10.1v2.6h-10.1zM102.45 39.95h7.6v2.6h-7.6zM117.45 39.95h12.6v2.6h-12.6zM-102.55 37.45h2.6v2.6h-2.6zM-85.05 37.45h5.1v2.6h-5.1zM-77.55 37.45h2.6v2.6h-2.6zM-12.55 37.45h17.6v2.6h-17.6zM9.95 37.45h5.1v2.6h-5.1zM19.95 37.45h10.1v2.6h-10.1zM39.95 37.45h20.1v2.6h-20.1zM64.95 37.45h5.1v2.6h-5.1zM104.95 37.45h32.6v2.6h-32.6zM-102.55 34.95h2.6v2.6h-2.6zM-85.05 34.95h10.1v2.6h-10.1zM2.45 34.95h2.6v2.6h-2.6zM9.95 34.95h5.1v2.6h-5.1zM19.95 34.95h10.1v2.6h-10.1zM37.45 34.95h12.6v2.6h-12.6zM54.95 34.95h5.1v2.6h-5.1zM64.95 34.95h7.6v2.6h-7.6zM104.95 34.95h10.1v2.6h-10.1zM119.95 34.95h20.1v2.6h-20.1zM-115.05 32.45h12.6v2.6h-12.6zM-82.55 32.45h2.6v2.6h-2.6zM4.95 32.45h5.1v2.6h-5.1zM14.95 32.45h5.1v2.6h-5.1zM24.95 32.45h12.6v2.6h-12.6zM77.45 32.45h2.6v2.6h-2.6zM104.95 32.45h5.1v2.6h-5.1zM122.45 32.45h2.6v2.6h-2.6zM129.95 32.45h12.6v2.6h-12.6zM-115.05 29.95h2.6v2.6h-2.6zM-110.05 29.95h7.6v2.6h-7.6zM-82.55 29.95h2.6v2.6h-2.6zM27.45 29.95h5.1v2.6h-5.1zM79.95 29.95h2.6v2.6h-2.6zM104.95 29.95h5.1v2.6h-5.1zM122.45 29.95h2.6v2.6h-2.6zM129.95 29.95h12.6v2.6h-12.6zM-115.05 27.45h5.1v2.6h-5.1zM-107.55 27.45h7.6v2.6h-7.6zM-80.05 27.45h2.6v2.6h-2.6zM82.45 27.45h2.6v2.6h-2.6zM104.95 27.45h10.1v2.6h-10.1zM119.95 27.45h5.1v2.6h-5.1zM127.45 27.45h7.6v2.6h-7.6zM-112.55 24.95h7.6v2.6h-7.6zM-100.05 24.95h10.1v2.6h-10.1zM-85.05 24.95h7.6v2.6h-7.6zM84.95 24.95h2.6v2.6h-2.6zM102.45 24.95h12.6v2.6h-12.6zM119.95 24.95h5.1v2.6h-5.1zM-110.05 22.45h5.1v2.6h-5.1zM-90.05 22.45h5.1v2.6h-5.1zM87.45 22.45h20.1v2.6h-20.1zM-90.05 19.95h5.1v2.6h-5.1zM87.45 19.95h17.6v2.6h-17.6zM109.95 19.95h10.1v2.6h-10.1zM-100.05 17.45h10.1v2.6h-10.1zM-85.05 17.45h5.1v2.6h-5.1zM54.95 17.45h2.6v2.6h-2.6zM84.95 17.45h2.6v2.6h-2.6zM89.95 17.45h2.6v2.6h-2.6zM107.45 17.45h2.6v2.6h-2.6zM119.95 17.45h2.6v2.6h-2.6zM-100.05 14.95h5.1v2.6h-5.1zM-82.55 14.95h2.6v2.6h-2.6zM49.95 14.95h5.1v2.6h-5.1zM84.95 14.95h2.6v2.6h-2.6zM89.95 14.95h5.1v2.6h-5.1zM107.45 14.95h2.6v2.6h-2.6zM119.95 14.95h2.6v2.6h-2.6zM-100.05 12.45h5.1v2.6h-5.1zM-82.55 12.45h2.6v2.6h-2.6zM37.45 12.45h7.6v2.6h-7.6zM47.45 12.45h2.6v2.6h-2.6zM72.45 12.45h2.6v2.6h-2.6zM84.95 12.45h2.6v2.6h-2.6zM94.95 12.45h2.6v2.6h-2.6zM109.95 12.45h2.6v2.6h-2.6zM119.95 12.45h2.6v2.6h-2.6zM-82.55 9.95h2.6v2.6h-2.6zM34.95 9.95h5.1v2.6h-5.1zM44.95 9.95h5.1v2.6h-5.1zM94.95 9.95h2.6v2.6h-2.6zM119.95 9.95h2.6v2.6h-2.6zM-82.55 7.45h2.6v2.6h-2.6zM-72.55 7.45h17.6v2.6h-17.6zM34.95 7.45h2.6v2.6h-2.6zM44.95 7.45h10.1v2.6h-10.1zM74.95 7.45h2.6v2.6h-2.6zM94.95 7.45h2.6v2.6h-2.6zM112.45 7.45h2.6v2.6h-2.6zM119.95 7.45h2.6v2.6h-2.6zM-82.55 4.95h5.1v2.6h-5.1zM-75.05 4.95h5.1v2.6h-5.1zM-15.05 4.95h15.1v2.6h-15.1zM32.45 4.95h2.6v2.6h-2.6zM42.45 4.95h7.6v2.6h-7.6zM74.95 4.95h2.6v2.6h-2.6zM94.95 4.95h2.6v2.6h-2.6zM112.45 4.95h2.6v2.6h-2.6zM119.95 4.95h2.6v2.6h-2.6zM-82.55 2.45h5.1v2.6h-5.1zM-75.05 2.45h5.1v2.6h-5.1zM-15.05 2.45h5.1v2.6h-5.1zM-0.05 2.45h2.6v2.6h-2.6zM4.95 2.45h30.1v2.6h-30.1zM39.95 2.45h7.6v2.6h-7.6zM92.45 2.45h2.6v2.6h-2.6zM114.95 2.45h5.1v2.6h-5.1zM-85.05 -0.05h5.1v2.6h-5.1zM-75.05 -0.05h5.1v2.6h-5.1zM4.95 -0.05h30.1v2.6h-30.1zM39.95 -0.05h5.1v2.6h-5.1zM132.45 -0.05h2.6v2.6h-2.6zM-75.05 -2.55h2.6v2.6h-2.6zM-40.05 -2.55h7.6v2.6h-7.6zM9.95 -2.55h20.1v2.6h-20.1zM39.95 -2.55h10.1v2.6h-10.1zM129.95 -2.55h2.6v2.6h-2.6zM-75.05 -5.05h5.1v2.6h-5.1zM-40.05 -5.05h7.6v2.6h-7.6zM9.95 -5.05h20.1v2.6h-20.1zM39.95 -5.05h5.1v2.6h-5.1zM99.95 -5.05h5.1v2.6h-5.1zM127.45 -5.05h5.1v2.6h-5.1zM-70.05 -7.55h2.6v2.6h-2.6zM-40.05 -7.55h7.6v2.6h-7.6zM9.95 -7.55h20.1v2.6h-20.1zM39.95 -7.55h5.1v2.6h-5.1zM97.45 -7.55h2.6v2.6h-2.6zM104.95 -7.55h2.6v2.6h-2.6zM127.45 -7.55h5.1v2.6h-5.1zM144.95 -7.55h5.1v2.6h-5.1zM-70.05 -10.05h2.6v2.6h-2.6zM-40.05 -10.05h7.6v2.6h-7.6zM12.45 -10.05h17.6v2.6h-17.6zM39.95 -10.05h12.6v2.6h-12.6zM104.95 -10.05h2.6v2.6h-2.6zM119.95 -10.05h27.6v2.6h-27.6zM-70.05 -12.55h2.6v2.6h-2.6zM-50.05 -12.55h17.6v2.6h-17.6zM19.95 -12.55h10.1v2.6h-10.1zM34.95 -12.55h20.1v2.6h-20.1zM104.95 -12.55h2.6v2.6h-2.6zM117.45 -12.55h2.6v2.6h-2.6zM129.95 -12.55h2.6v2.6h-2.6zM142.45 -12.55h2.6v2.6h-2.6zM-70.05 -15.05h5.1v2.6h-5.1zM-50.05 -15.05h17.6v2.6h-17.6zM19.95 -15.05h10.1v2.6h-10.1zM34.95 -15.05h20.1v2.6h-20.1zM119.95 -15.05h2.6v2.6h-2.6zM127.45 -15.05h2.6v2.6h-2.6zM-67.55 -17.55h2.6v2.6h-2.6zM-50.05 -17.55h15.1v2.6h-15.1zM14.95 -17.55h35.1v2.6h-35.1zM144.95 -17.55h5.1v2.6h-5.1zM-50.05 -20.05h15.1v2.6h-15.1zM14.95 -20.05h35.1v2.6h-35.1zM144.95 -20.05h7.6v2.6h-7.6zM-50.05 -22.55h15.1v2.6h-15.1zM19.95 -22.55h15.1v2.6h-15.1zM37.45 -22.55h2.6v2.6h-2.6zM144.95 -22.55h10.1v2.6h-10.1zM-50.05 -25.05h12.6v2.6h-12.6zM19.95 -25.05h20.1v2.6h-20.1zM144.95 -25.05h12.6v2.6h-12.6zM-65.05 -27.55h2.6v2.6h-2.6zM-50.05 -27.55h12.6v2.6h-12.6zM9.95 -27.55h15.1v2.6h-15.1zM34.95 -27.55h5.1v2.6h-5.1zM144.95 -27.55h12.6v2.6h-12.6zM-65.05 -30.05h2.6v2.6h-2.6zM-50.05 -30.05h5.1v2.6h-5.1zM9.95 -30.05h15.1v2.6h-15.1zM109.95 -30.05h12.6v2.6h-12.6zM144.95 -30.05h12.6v2.6h-12.6zM-65.05 -32.55h2.6v2.6h-2.6zM-55.05 -32.55h10.1v2.6h-10.1zM109.95 -32.55h47.6v2.6h-47.6zM-65.05 -35.05h2.6v2.6h-2.6zM-55.05 -35.05h7.6v2.6h-7.6zM129.95 -35.05h27.6v2.6h-27.6zM-65.05 -37.55h15.1v2.6h-15.1zM129.95 -37.55h5.1v2.6h-5.1zM-62.55 -40.05h10.1v2.6h-10.1z"/><path fill="#e5903a" d="M47.45 47.45h2.6v2.6h-2.6zM44.95 44.95h5.1v2.6h-5.1zM-100.05 42.45h5.1v2.6h-5.1zM44.95 42.45h2.6v2.6h-2.6zM57.45 42.45h7.6v2.6h-7.6zM-100.05 39.95h5.1v2.6h-5.1zM57.45 39.95h7.6v2.6h-7.6zM-100.05 37.45h2.6v2.6h-2.6zM-95.05 37.45h10.1v2.6h-10.1zM-80.05 37.45h2.6v2.6h-2.6zM59.95 37.45h5.1v2.6h-5.1zM-100.05 34.95h2.6v2.6h-2.6zM-95.05 34.95h10.1v2.6h-10.1zM-12.55 34.95h15.1v2.6h-15.1zM49.95 34.95h5.1v2.6h-5.1zM59.95 34.95h5.1v2.6h-5.1zM114.95 34.95h5.1v2.6h-5.1zM-102.55 32.45h2.6v2.6h-2.6zM-90.05 32.45h7.6v2.6h-7.6zM-12.55 32.45h17.6v2.6h-17.6zM9.95 32.45h5.1v2.6h-5.1zM19.95 32.45h5.1v2.6h-5.1zM37.45 32.45h32.6v2.6h-32.6zM72.45 32.45h5.1v2.6h-5.1zM109.95 32.45h12.6v2.6h-12.6zM-112.55 29.95h2.6v2.6h-2.6zM-102.55 29.95h5.1v2.6h-5.1zM-90.05 29.95h7.6v2.6h-7.6zM-17.55 29.95h45.1v2.6h-45.1zM32.45 29.95h10.1v2.6h-10.1zM52.45 29.95h15.1v2.6h-15.1zM77.45 29.95h2.6v2.6h-2.6zM109.95 29.95h12.6v2.6h-12.6zM-110.05 27.45h2.6v2.6h-2.6zM-100.05 27.45h20.1v2.6h-20.1zM-17.55 27.45h7.6v2.6h-7.6zM32.45 27.45h7.6v2.6h-7.6zM59.95 27.45h5.1v2.6h-5.1zM79.95 27.45h2.6v2.6h-2.6zM114.95 27.45h5.1v2.6h-5.1zM-90.05 24.95h5.1v2.6h-5.1zM-20.05 24.95h10.1v2.6h-10.1zM34.95 24.95h5.1v2.6h-5.1zM82.45 24.95h2.6v2.6h-2.6zM114.95 24.95h5.1v2.6h-5.1zM34.95 22.45h7.6v2.6h-7.6zM84.95 22.45h2.6v2.6h-2.6zM107.45 22.45h17.6v2.6h-17.6zM34.95 19.95h10.1v2.6h-10.1zM84.95 19.95h2.6v2.6h-2.6zM104.95 19.95h5.1v2.6h-5.1zM119.95 19.95h5.1v2.6h-5.1zM-90.05 17.45h5.1v2.6h-5.1zM34.95 17.45h5.1v2.6h-5.1zM44.95 17.45h10.1v2.6h-10.1zM64.95 17.45h2.6v2.6h-2.6zM82.45 17.45h2.6v2.6h-2.6zM92.45 17.45h15.1v2.6h-15.1zM122.45 17.45h2.6v2.6h-2.6zM-95.05 14.95h12.6v2.6h-12.6zM34.95 14.95h15.1v2.6h-15.1zM69.95 14.95h5.1v2.6h-5.1zM82.45 14.95h2.6v2.6h-2.6zM94.95 14.95h12.6v2.6h-12.6zM122.45 14.95h5.1v2.6h-5.1zM-95.05 12.45h12.6v2.6h-12.6zM-20.05 12.45h5.1v2.6h-5.1zM34.95 12.45h2.6v2.6h-2.6zM44.95 12.45h2.6v2.6h-2.6zM74.95 12.45h2.6v2.6h-2.6zM79.95 12.45h5.1v2.6h-5.1zM97.45 12.45h12.6v2.6h-12.6zM122.45 12.45h7.6v2.6h-7.6zM-95.05 9.95h12.6v2.6h-12.6zM-20.05 9.95h7.6v2.6h-7.6zM32.45 9.95h2.6v2.6h-2.6zM74.95 9.95h2.6v2.6h-2.6zM79.95 9.95h5.1v2.6h-5.1zM97.45 9.95h15.1v2.6h-15.1zM122.45 9.95h7.6v2.6h-7.6zM-90.05 7.45h7.6v2.6h-7.6zM-55.05 7.45h5.1v2.6h-5.1zM-20.05 7.45h55.1v2.6h-55.1zM77.45 7.45h7.6v2.6h-7.6zM97.45 7.45h15.1v2.6h-15.1zM122.45 7.45h7.6v2.6h-7.6zM-87.55 4.95h5.1v2.6h-5.1zM-70.05 4.95h22.6v2.6h-22.6zM-17.55 4.95h2.6v2.6h-2.6zM-0.05 4.95h32.6v2.6h-32.6zM49.95 4.95h5.1v2.6h-5.1zM77.45 4.95h7.6v2.6h-7.6zM97.45 4.95h15.1v2.6h-15.1zM122.45 4.95h7.6v2.6h-7.6zM-70.05 2.45h22.6v2.6h-22.6zM2.45 2.45h2.6v2.6h-2.6zM47.45 2.45h5.1v2.6h-5.1zM77.45 2.45h7.6v2.6h-7.6zM94.95 2.45h20.1v2.6h-20.1zM119.95 2.45h12.6v2.6h-12.6zM-70.05 -0.05h30.1v2.6h-30.1zM2.45 -0.05h2.6v2.6h-2.6zM44.95 -0.05h7.6v2.6h-7.6zM92.45 -0.05h40.1v2.6h-40.1zM-72.55 -2.55h7.6v2.6h-7.6zM-50.05 -2.55h10.1v2.6h-10.1zM94.95 -2.55h35.1v2.6h-35.1zM-70.05 -5.05h5.1v2.6h-5.1zM-50.05 -5.05h10.1v2.6h-10.1zM97.45 -5.05h2.6v2.6h-2.6zM104.95 -5.05h22.6v2.6h-22.6zM-67.55 -7.55h7.6v2.6h-7.6zM-55.05 -7.55h15.1v2.6h-15.1zM107.45 -7.55h20.1v2.6h-20.1zM-67.55 -10.05h7.6v2.6h-7.6zM-55.05 -10.05h15.1v2.6h-15.1zM107.45 -10.05h12.6v2.6h-12.6zM-67.55 -12.55h17.6v2.6h-17.6zM107.45 -12.55h10.1v2.6h-10.1zM132.45 -12.55h10.1v2.6h-10.1zM-65.05 -15.05h15.1v2.6h-15.1zM129.95 -15.05h5.1v2.6h-5.1zM139.95 -15.05h5.1v2.6h-5.1zM-65.05 -17.55h2.6v2.6h-2.6zM-55.05 -17.55h5.1v2.6h-5.1zM119.95 -17.55h10.1v2.6h-10.1zM142.45 -17.55h2.6v2.6h-2.6zM-65.05 -20.05h2.6v2.6h-2.6zM-55.05 -20.05h5.1v2.6h-5.1zM109.95 -20.05h5.1v2.6h-5.1zM-65.05 -22.55h2.6v2.6h-2.6zM-55.05 -22.55h5.1v2.6h-5.1zM34.95 -22.55h2.6v2.6h-2.6zM109.95 -22.55h5.1v2.6h-5.1zM-65.05 -25.05h2.6v2.6h-2.6zM-55.05 -25.05h5.1v2.6h-5.1zM109.95 -25.05h5.1v2.6h-5.1zM142.45 -25.05h2.6v2.6h-2.6zM-62.55 -27.55h2.6v2.6h-2.6zM-55.05 -27.55h5.1v2.6h-5.1zM109.95 -27.55h15.1v2.6h-15.1zM139.95 -27.55h5.1v2.6h-5.1zM-62.55 -30.05h2.6v2.6h-2.6zM-55.05 -30.05h5.1v2.6h-5.1zM122.45 -30.05h10.1v2.6h-10.1zM137.45 -30.05h7.6v2.6h-7.6zM-62.55 -32.55h7.6v2.6h-7.6zM-62.55 -35.05h7.6v2.6h-7.6z"/><path fill="#e46428" d="M-97.55 37.45h2.6v2.6h-2.6zM-97.55 34.95h2.6v2.6h-2.6zM-100.05 32.45h10.1v2.6h-10.1zM69.95 32.45h2.6v2.6h-2.6zM-97.55 29.95h7.6v2.6h-7.6zM42.45 29.95h10.1v2.6h-10.1zM67.45 29.95h2.6v2.6h-2.6zM74.95 29.95h2.6v2.6h-2.6zM-10.05 27.45h42.6v2.6h-42.6zM39.95 27.45h20.1v2.6h-20.1zM64.95 27.45h5.1v2.6h-5.1zM74.95 27.45h5.1v2.6h-5.1zM-10.05 24.95h45.1v2.6h-45.1zM39.95 24.95h7.6v2.6h-7.6zM49.95 24.95h20.1v2.6h-20.1zM74.95 24.95h7.6v2.6h-7.6zM-20.05 22.45h55.1v2.6h-55.1zM42.45 22.45h7.6v2.6h-7.6zM62.45 22.45h22.6v2.6h-22.6zM-20.05 19.95h55.1v2.6h-55.1zM44.95 19.95h40.1v2.6h-40.1zM-20.05 17.45h55.1v2.6h-55.1zM39.95 17.45h5.1v2.6h-5.1zM67.45 17.45h15.1v2.6h-15.1zM-20.05 14.95h55.1v2.6h-55.1zM74.95 14.95h7.6v2.6h-7.6zM-15.05 12.45h50.1v2.6h-50.1zM77.45 12.45h2.6v2.6h-2.6zM-12.55 9.95h45.1v2.6h-45.1zM77.45 9.95h2.6v2.6h-2.6zM-65.05 -2.55h15.1v2.6h-15.1zM-65.05 -5.05h15.1v2.6h-15.1zM-60.05 -7.55h5.1v2.6h-5.1zM-60.05 -10.05h5.1v2.6h-5.1zM134.95 -15.05h5.1v2.6h-5.1zM-62.55 -17.55h7.6v2.6h-7.6zM117.45 -17.55h2.6v2.6h-2.6zM129.95 -17.55h12.6v2.6h-12.6zM-62.55 -20.05h7.6v2.6h-7.6zM114.95 -20.05h30.1v2.6h-30.1zM-62.55 -22.55h7.6v2.6h-7.6zM114.95 -22.55h30.1v2.6h-30.1zM-62.55 -25.05h7.6v2.6h-7.6zM114.95 -25.05h27.6v2.6h-27.6zM-60.05 -27.55h5.1v2.6h-5.1zM124.95 -27.55h15.1v2.6h-15.1zM-60.05 -30.05h5.1v2.6h-5.1zM132.45 -30.05h5.1v2.6h-5.1z"/><path fill="#e0201a" d="M69.95 29.95h5.1v2.6h-5.1zM69.95 27.45h5.1v2.6h-5.1zM47.45 24.95h2.6v2.6h-2.6zM69.95 24.95h5.1v2.6h-5.1zM49.95 22.45h12.6v2.6h-12.6z"/></g></g><use href="#water" fill="#fff"/><use href="#bord" fill="none" stroke="#1a1a1a" stroke-width="0.381" stroke-opacity="0.85"/><use href="#land" fill="none" stroke="#111" stroke-width="0.499"/><use href="#water" fill="none" stroke="#111" stroke-width="0.499"/></g></g><clipPath id="axc"><rect x="38.44" y="418.60" width="401.46" height="167.60"/></clipPath><g clip-path="url(#axc)"><g transform="translate(240.400,518.880) scale(1.122,-1.122)"><g clip-path="url(#landclip)"><path d="M-148.0,-60.0L-147.0,-60.0L-146.0,-60.0L-145.0,-60.0L-144.0,-60.0L-143.0,-60.0L-142.0,-60.0L-141.0,-60.0L-140.0,-60.0L-139.0,-60.0L-138.0,-60.0L-137.0,-60.0L-136.0,-60.0L-135.0,-60.0L-134.0,-60.0L-133.0,-60.0L-132.0,-60.0L-131.0,-60.0L-130.0,-60.0L-129.0,-60.0L-128.0,-60.0L-127.0,-60.0L-126.0,-60.0L-125.0,-60.0L-124.0,-60.0L-123.0,-60.0L-122.0,-60.0L-121.0,-60.0L-120.0,-60.0L-119.0,-60.0L-118.0,-60.0L-117.0,-60.0L-116.0,-60.0L-115.0,-60.0L-114.0,-60.0L-113.0,-60.0L-112.0,-60.0L-111.0,-60.0L-110.0,-60.0L-109.0,-60.0L-108.0,-60.0L-107.0,-60.0L-106.0,-60.0L-105.0,-60.0L-104.0,-60.0L-103.0,-60.0L-102.0,-60.0L-101.0,-60.0L-100.0,-60.0L-99.0,-60.0L-98.0,-60.0L-97.0,-60.0L-96.0,-60.0L-95.0,-60.0L-94.0,-60.0L-93.0,-60.0L-92.0,-60.0L-91.0,-60.0L-90.0,-60.0L-89.0,-60.0L-88.0,-60.0L-87.0,-60.0L-86.0,-60.0L-85.0,-60.0L-84.0,-60.0L-83.0,-60.0L-82.0,-60.0L-81.0,-60.0L-80.0,-60.0L-79.0,-60.0L-78.0,-60.0L-77.0,-60.0L-76.0,-60.0L-75.0,-60.0L-74.0,-60.0L-73.0,-60.0L-72.0,-60.0L-71.0,-60.0L-70.0,-60.0L-69.0,-60.0L-68.0,-60.0L-67.0,-60.0L-66.0,-60.0L-65.0,-60.0L-64.0,-60.0L-63.0,-60.0L-62.0,-60.0L-61.0,-60.0L-60.0,-60.0L-59.0,-60.0L-58.0,-60.0L-57.0,-60.0L-56.0,-60.0L-55.0,-60.0L-54.0,-60.0L-53.0,-60.0L-52.0,-60.0L-51.0,-60.0L-50.0,-60.0L-49.0,-60.0L-48.0,-60.0L-47.0,-60.0L-46.0,-60.0L-45.0,-60.0L-44.0,-60.0L-43.0,-60.0L-42.0,-60.0L-41.0,-60.0L-40.0,-60.0L-39.0,-60.0L-38.0,-60.0L-37.0,-60.0L-36.0,-60.0L-35.0,-60.0L-34.0,-60.0L-33.0,-60.0L-32.0,-60.0L-31.0,-60.0L-30.0,-60.0L-29.0,-60.0L-28.0,-60.0L-27.0,-60.0L-27.0,-60.0L-27.0,-59.0L-27.0,-58.0L-27.0,-57.0L-27.0,-57.0L-28.0,-57.0L-29.0,-57.0L-30.0,-57.0L-31.0,-57.0L-32.0,-57.0L-33.0,-57.0L-34.0,-57.0L-35.0,-57.0L-36.0,-57.0L-37.0,-57.0L-38.0,-57.0L-39.0,-57.0L-40.0,-57.0L-41.0,-57.0L-42.0,-56.0L-42.0,-55.0L-42.0,-54.0L-42.0,-53.0L-42.0,-52.0L-42.0,-52.0L-43.0,-52.0L-44.0,-52.0L-45.0,-52.0L-46.0,-52.0L-47.0,-52.0L-48.0,-52.0L-48.0,-52.0L-48.0,-53.0L-48.0,-54.0L-48.0,-55.0L-48.0,-56.0L-49.0,-57.0L-50.0,-57.0L-51.0,-57.0L-52.0,-57.0L-53.0,-57.0L-54.0,-57.0L-55.0,-57.0L-56.0,-57.0L-57.0,-57.0L-58.0,-57.0L-59.0,-57.0L-60.0,-57.0L-61.0,-57.0L-62.0,-57.0L-63.0,-57.0L-64.0,-57.0L-65.0,-57.0L-66.0,-57.0L-67.0,-57.0L-68.0,-57.0L-69.0,-57.0L-70.0,-57.0L-71.0,-57.0L-72.0,-56.0L-72.0,-55.0L-72.0,-54.0L-72.0,-53.0L-72.0,-52.0L-72.0,-52.0L-73.0,-52.0L-74.0,-52.0L-75.0,-52.0L-76.0,-52.0L-77.0,-52.0L-78.0,-52.0L-79.0,-52.0L-80.0,-52.0L-81.0,-52.0L-82.0,-52.0L-83.0,-52.0L-84.0,-52.0L-85.0,-52.0L-86.0,-52.0L-87.0,-52.0L-88.0,-52.0L-89.0,-52.0L-90.0,-52.0L-91.0,-52.0L-92.0,-52.0L-93.0,-52.0L-94.0,-52.0L-95.0,-52.0L-96.0,-52.0L-97.0,-52.0L-98.0,-52.0L-99.0,-52.0L-100.0,-52.0L-101.0,-52.0L-102.0,-52.0L-103.0,-52.0L-104.0,-52.0L-105.0,-52.0L-106.0,-52.0L-107.0,-52.0L-108.0,-52.0L-109.0,-52.0L-110.0,-52.0L-111.0,-52.0L-112.0,-52.0L-113.0,-52.0L-114.0,-52.0L-115.0,-52.0L-116.0,-52.0L-117.0,-52.0L-118.0,-52.0L-119.0,-52.0L-120.0,-52.0L-121.0,-52.0L-122.0,-52.0L-123.0,-52.0L-123.0,-52.0L-123.0,-53.0L-123.0,-54.0L-123.0,-55.0L-123.0,-56.0L-124.0,-57.0L-125.0,-57.0L-126.0,-57.0L-127.0,-57.0L-128.0,-57.0L-129.0,-57.0L-130.0,-57.0L-131.0,-57.0L-132.0,-57.0L-133.0,-57.0L-134.0,-57.0L-135.0,-57.0L-136.0,-57.0L-137.0,-57.0L-138.0,-57.0L-139.0,-57.0L-140.0,-57.0L-141.0,-57.0L-142.0,-57.0L-143.0,-57.0L-144.0,-57.0L-145.0,-57.0L-146.0,-57.0L-147.0,-57.0L-148.0,-57.0L-148.0,-57.0L-148.0,-58.0L-148.0,-59.0L-148.0,-60.0Z" fill="#f4f6c0" stroke="#f4f6c0" stroke-width="0.15"/><path d="M-179.0,-60.0L-178.0,-60.0L-177.0,-60.0L-176.0,-60.0L-175.0,-60.0L-174.0,-60.0L-173.0,-60.0L-172.0,-60.0L-171.0,-60.0L-170.0,-60.0L-169.0,-60.0L-168.0,-60.0L-167.0,-60.0L-166.0,-60.0L-165.0,-60.0L-164.0,-60.0L-163.0,-60.0L-162.0,-60.0L-161.0,-60.0L-160.0,-60.0L-159.0,-60.0L-158.0,-60.0L-157.0,-60.0L-156.0,-60.0L-155.0,-60.0L-154.0,-60.0L-153.0,-60.0L-152.0,-60.0L-151.0,-60.0L-150.0,-60.0L-149.0,-60.0L-148.0,-60.0L-148.0,-59.0L-148.0,-58.0L-148.0,-57.0L-148.0,-57.0L-147.0,-57.0L-146.0,-57.0L-145.0,-57.0L-144.0,-57.0L-143.0,-57.0L-142.0,-57.0L-141.0,-57.0L-140.0,-57.0L-139.0,-57.0L-138.0,-57.0L-137.0,-57.0L-136.0,-57.0L-135.0,-57.0L-134.0,-57.0L-133.0,-57.0L-132.0,-57.0L-131.0,-57.0L-130.0,-57.0L-129.0,-57.0L-128.0,-57.0L-127.0,-57.0L-126.0,-57.0L-125.0,-57.0L-124.0,-57.0L-123.0,-56.0L-123.0,-55.0L-123.0,-54.0L-123.0,-53.0L-123.0,-52.0L-123.0,-52.0L-122.0,-52.0L-121.0,-52.0L-120.0,-52.0L-119.0,-52.0L-118.0,-52.0L-117.0,-52.0L-116.0,-52.0L-115.0,-52.0L-114.0,-52.0L-113.0,-52.0L-112.0,-52.0L-111.0,-52.0L-110.0,-52.0L-109.0,-52.0L-108.0,-52.0L-107.0,-52.0L-106.0,-52.0L-105.0,-52.0L-104.0,-52.0L-103.0,-52.0L-102.0,-52.0L-101.0,-52.0L-100.0,-52.0L-99.0,-52.0L-98.0,-52.0L-97.0,-52.0L-96.0,-52.0L-95.0,-52.0L-94.0,-52.0L-93.0,-52.0L-92.0,-52.0L-91.0,-52.0L-90.0,-52.0L-89.0,-52.0L-88.0,-52.0L-87.0,-52.0L-86.0,-52.0L-85.0,-52.0L-84.0,-52.0L-83.0,-52.0L-82.0,-52.0L-81.0,-52.0L-80.0,-52.0L-79.0,-52.0L-78.0,-52.0L-77.0,-52.0L-76.0,-52.0L-75.0,-52.0L-74.0,-52.0L-73.0,-52.0L-72.0,-52.0L-72.0,-52.0L-72.0,-53.0L-72.0,-54.0L-72.0,-55.0L-72.0,-56.0L-71.0,-57.0L-70.0,-57.0L-69.0,-57.0L-68.0,-57.0L-67.0,-57.0L-66.0,-57.0L-65.0,-57.0L-64.0,-57.0L-63.0,-57.0L-62.0,-57.0L-61.0,-57.0L-60.0,-57.0L-59.0,-57.0L-58.0,-57.0L-57.0,-57.0L-56.0,-57.0L-55.0,-57.0L-54.0,-57.0L-53.0,-57.0L-52.0,-57.0L-51.0,-57.0L-50.0,-57.0L-49.0,-57.0L-48.0,-56.0L-48.0,-55.0L-48.0,-54.0L-48.0,-53.0L-48.0,-52.0L-48.0,-52.0L-47.0,-52.0L-46.0,-52.0L-45.0,-52.0L-44.0,-52.0L-43.0,-52.0L-42.0,-52.0L-42.0,-52.0L-42.0,-53.0L-42.0,-54.0L-42.0,-55.0L-42.0,-56.0L-41.0,-57.0L-40.0,-57.0L-39.0,-57.0L-38.0,-57.0L-37.0,-57.0L-36.0,-57.0L-35.0,-57.0L-34.0,-57.0L-33.0,-57.0L-32.0,-57.0L-31.0,-57.0L-30.0,-57.0L-29.0,-57.0L-28.0,-57.0L-27.0,-57.0L-27.0,-57.0L-27.0,-58.0L-27.0,-59.0L-27.0,-60.0L-26.0,-60.0L-25.0,-60.0L-24.0,-60.0L-23.0,-60.0L-22.0,-60.0L-21.0,-60.0L-20.0,-60.0L-19.0,-60.0L-18.0,-60.0L-17.0,-60.0L-16.0,-60.0L-15.0,-60.0L-14.0,-60.0L-13.1,-60.0L-13.2,-59.0L-13.2,-58.0L-13.3,-57.0L-13.5,-56.0L-13.9,-55.0L-14.0,-54.7L-14.4,-54.0L-15.0,-53.2L-15.2,-53.0L-15.7,-52.0L-15.3,-51.0L-15.0,-50.6L-14.7,-50.0L-14.3,-49.0L-14.1,-48.0L-14.0,-47.5L-13.9,-47.0L-13.9,-46.0L-13.9,-45.0L-13.9,-44.0L-13.9,-43.0L-13.9,-42.0L-13.9,-41.0L-13.9,-40.0L-13.8,-39.0L-13.7,-38.0L-13.2,-37.0L-13.0,-36.8L-12.2,-36.0L-12.0,-35.8L-11.3,-35.0L-11.0,-34.5L-10.8,-34.0L-10.6,-33.0L-10.5,-32.0L-10.4,-31.0L-10.4,-30.0L-10.4,-29.0L-10.5,-28.0L-10.6,-27.0L-10.9,-26.0L-11.0,-25.6L-11.2,-25.0L-11.7,-24.0L-12.0,-23.3L-12.2,-23.0L-12.6,-22.0L-12.8,-21.0L-12.9,-20.0L-13.0,-19.6L-13.2,-19.0L-13.7,-18.0L-14.0,-17.6L-15.0,-17.1L-15.4,-17.0L-16.0,-16.7L-17.0,-16.3L-17.9,-16.0L-18.0,-15.9L-19.0,-15.1L-19.6,-15.0L-20.0,-14.0L-20.0,-13.8L-20.1,-13.0L-20.4,-12.0L-20.8,-11.0L-21.0,-10.6L-22.0,-10.0L-22.1,-10.0L-23.0,-9.7L-24.0,-9.1L-24.7,-9.0L-25.0,-8.6L-26.0,-8.0L-27.0,-8.0L-27.0,-7.0L-27.0,-7.0L-28.0,-7.0L-28.0,-7.0L-28.0,-8.0L-29.0,-8.7L-29.0,-9.0L-30.0,-9.6L-30.1,-10.0L-31.0,-10.4L-31.4,-11.0L-32.0,-11.1L-33.0,-11.6L-34.0,-12.0L-34.0,-12.0L-35.0,-12.2L-36.0,-12.4L-37.0,-12.7L-37.6,-13.0L-38.0,-13.2L-39.0,-14.0L-39.0,-14.0L-40.0,-15.0L-40.0,-15.0L-41.0,-16.0L-41.0,-16.0L-41.8,-17.0L-42.0,-17.2L-42.5,-18.0L-43.0,-18.6L-43.3,-19.0L-44.0,-19.8L-44.1,-20.0L-45.0,-20.9L-45.1,-21.0L-46.0,-21.8L-46.2,-22.0L-47.0,-23.0L-47.0,-23.0L-47.4,-24.0L-47.5,-25.0L-47.6,-26.0L-48.0,-26.5L-49.0,-27.0L-49.0,-27.0L-50.0,-27.2L-51.0,-27.3L-52.0,-27.4L-53.0,-27.6L-54.0,-27.7L-55.0,-27.8L-56.0,-28.0L-56.0,-28.0L-57.0,-28.4L-58.0,-28.9L-58.6,-29.0L-59.0,-29.6L-60.0,-30.0L-60.0,-30.0L-61.0,-30.1L-62.0,-30.2L-63.0,-30.2L-64.0,-30.1L-64.4,-30.0L-65.0,-29.9L-65.5,-29.0L-66.0,-28.7L-66.2,-28.0L-66.6,-27.0L-67.0,-26.1L-67.0,-26.0L-67.2,-25.0L-67.4,-24.0L-67.8,-23.0L-68.0,-22.8L-68.5,-22.0L-69.0,-21.4L-69.3,-21.0L-69.9,-20.0L-70.0,-19.7L-70.3,-19.0L-70.7,-18.0L-71.0,-17.5L-71.3,-17.0L-72.0,-16.0L-72.0,-16.0L-73.0,-15.3L-74.0,-15.1L-75.0,-15.0L-76.0,-15.0L-77.0,-15.0L-78.0,-15.0L-79.0,-15.0L-80.0,-15.0L-81.0,-15.0L-82.0,-15.1L-83.0,-15.4L-83.8,-16.0L-84.0,-16.1L-84.7,-17.0L-85.0,-17.5L-85.3,-18.0L-86.0,-18.9L-86.2,-19.0L-87.0,-19.6L-88.0,-19.9L-89.0,-20.0L-90.0,-20.0L-90.0,-20.0L-91.0,-20.0L-92.0,-20.1L-93.0,-20.4L-93.8,-21.0L-94.0,-21.1L-94.7,-22.0L-95.0,-22.5L-95.3,-23.0L-96.0,-23.9L-96.2,-24.0L-97.0,-24.6L-98.0,-24.9L-99.0,-25.0L-100.0,-25.0L-101.0,-25.0L-102.0,-25.0L-103.0,-25.0L-104.0,-25.0L-105.0,-25.0L-106.0,-25.0L-107.0,-25.0L-108.0,-25.0L-109.0,-25.0L-110.0,-24.0L-109.8,-23.0L-109.5,-22.0L-109.0,-21.2L-108.8,-21.0L-108.0,-20.3L-107.5,-20.0L-107.0,-19.7L-106.1,-19.0L-106.0,-18.9L-105.3,-18.0L-105.0,-17.5L-104.7,-17.0L-104.0,-16.1L-103.9,-16.0L-103.0,-15.3L-102.5,-15.0L-102.0,-14.7L-101.1,-14.0L-101.0,-13.9L-100.3,-13.0L-100.0,-12.5L-99.7,-12.0L-99.0,-11.1L-98.9,-11.0L-98.0,-10.3L-97.5,-10.0L-97.0,-9.7L-96.1,-9.0L-96.0,-8.9L-95.3,-8.0L-95.0,-7.5L-94.7,-7.0L-94.0,-6.1L-93.9,-6.0L-93.0,-5.3L-92.7,-5.0L-92.0,-4.4L-91.7,-4.0L-91.1,-3.0L-91.0,-2.8L-90.6,-2.0L-90.1,-1.0L-90.0,-0.9L-89.1,0.0L-89.0,0.1L-88.0,0.6L-87.0,0.8L-86.0,0.9L-85.0,0.9L-84.0,0.9L-83.0,1.0L-82.8,1.0L-82.0,1.3L-81.0,1.9L-80.8,2.0L-80.0,3.0L-80.0,3.1L-79.6,4.0L-79.2,5.0L-79.0,5.3L-78.6,6.0L-78.0,6.9L-77.9,7.0L-77.1,8.0L-77.0,8.1L-76.4,9.0L-76.0,9.7L-75.9,10.0L-75.4,11.0L-75.1,12.0L-75.0,12.2L-74.6,13.0L-74.0,13.8L-73.8,14.0L-73.0,14.5L-72.0,14.9L-71.0,15.0L-70.0,15.0L-69.0,15.0L-68.0,15.0L-67.0,15.0L-66.0,14.9L-65.0,14.4L-64.0,14.0L-63.6,14.0L-63.0,13.0L-63.0,12.0L-63.0,12.0L-62.0,12.0L-61.0,12.0L-60.0,12.0L-59.0,12.0L-58.0,12.0L-57.0,12.0L-56.0,12.0L-55.0,12.0L-54.0,12.0L-53.0,12.0L-52.0,12.0L-51.0,12.0L-50.0,12.0L-49.0,12.0L-48.0,12.0L-47.0,12.0L-46.0,12.0L-45.0,12.0L-44.0,12.0L-43.0,11.0L-43.0,10.0L-43.0,9.0L-43.0,8.0L-43.0,7.0L-43.0,7.0L-42.0,7.0L-42.0,7.0L-42.0,8.0L-42.0,9.0L-42.0,10.0L-42.0,11.0L-42.0,12.0L-42.0,13.0L-42.0,13.0L-43.0,13.0L-44.0,13.0L-45.0,13.0L-46.0,13.0L-47.0,14.0L-47.0,15.0L-47.0,16.0L-47.0,17.0L-47.0,18.0L-47.0,19.0L-47.0,20.0L-47.0,21.0L-47.0,22.0L-47.0,23.0L-47.0,23.0L-48.0,23.0L-49.0,23.0L-50.0,23.0L-51.0,23.0L-52.0,23.0L-53.0,23.0L-54.0,23.1L-54.3,24.0L-55.0,24.1L-55.4,25.0L-56.0,25.1L-56.6,26.0L-57.0,26.1L-58.0,26.9L-58.0,27.0L-59.0,27.5L-59.7,28.0L-60.0,28.1L-61.0,28.5L-62.0,28.9L-62.2,29.0L-63.0,29.3L-64.0,29.9L-64.2,30.0L-65.0,30.8L-65.1,31.0L-65.8,32.0L-66.0,32.3L-66.5,33.0L-67.0,33.5L-67.8,34.0L-68.0,34.1L-69.0,34.5L-70.0,35.0L-70.0,35.0L-71.0,35.6L-71.6,36.0L-72.0,36.4L-73.0,37.0L-73.2,37.0L-74.0,37.2L-75.0,37.2L-76.0,37.2L-77.0,37.2L-78.0,37.2L-79.0,37.1L-80.0,37.1L-81.0,37.1L-82.0,37.0L-83.0,37.0L-84.0,37.0L-84.2,37.0L-85.0,37.0L-86.0,36.9L-87.0,36.8L-88.0,36.6L-89.0,36.2L-89.5,36.0L-90.0,35.8L-91.0,35.4L-92.0,35.1L-92.2,35.0L-93.0,34.7L-94.0,34.2L-94.4,34.0L-95.0,33.7L-96.0,33.1L-96.3,33.0L-97.0,32.6L-98.0,32.3L-99.0,32.2L-100.0,32.1L-101.0,32.1L-101.5,32.0L-102.0,31.9L-103.0,31.5L-103.9,31.0L-104.0,30.9L-105.0,30.0L-105.0,30.0L-106.0,29.0L-106.0,29.0L-107.0,28.2L-107.3,28.0L-108.0,27.6L-109.0,27.4L-110.0,27.2L-110.9,27.0L-111.0,26.9L-112.0,26.1L-112.1,26.0L-112.5,25.0L-112.9,24.0L-113.0,23.9L-113.9,23.0L-114.0,22.9L-115.0,22.5L-116.0,22.1L-116.1,22.0L-117.0,21.1L-117.1,21.0L-117.5,20.0L-117.9,19.0L-118.0,18.9L-118.9,18.0L-119.0,17.9L-120.0,17.5L-121.0,17.1L-121.1,17.0L-122.0,16.1L-122.1,16.0L-122.5,15.0L-122.9,14.0L-123.0,13.9L-123.9,13.0L-124.0,12.9L-125.0,12.5L-126.0,12.1L-126.1,12.0L-127.0,11.1L-127.1,11.0L-127.5,10.0L-127.9,9.0L-128.0,8.9L-128.9,8.0L-129.0,7.9L-130.0,7.5L-131.0,7.1L-131.1,7.0L-132.0,6.1L-132.1,6.0L-132.5,5.0L-132.9,4.0L-133.0,3.9L-133.9,3.0L-134.0,2.9L-135.0,2.5L-136.0,2.1L-136.1,2.0L-137.0,1.1L-137.1,1.0L-137.5,0.0L-137.9,-1.0L-138.0,-1.1L-138.9,-2.0L-139.0,-2.1L-140.0,-2.5L-141.0,-2.9L-141.1,-3.0L-142.0,-3.9L-142.1,-4.0L-142.5,-5.0L-142.9,-6.0L-143.0,-6.1L-143.9,-7.0L-144.0,-7.1L-145.0,-7.5L-146.0,-7.9L-146.1,-8.0L-147.0,-8.9L-147.1,-9.0L-147.5,-10.0L-147.9,-11.0L-148.0,-11.1L-148.9,-12.0L-149.0,-12.1L-150.0,-12.5L-151.0,-12.9L-151.1,-13.0L-152.0,-13.9L-152.1,-14.0L-152.5,-15.0L-152.9,-16.0L-153.0,-16.1L-153.9,-17.0L-154.0,-17.1L-155.0,-17.5L-156.0,-17.9L-156.1,-18.0L-157.0,-18.9L-157.1,-19.0L-157.5,-20.0L-157.9,-21.0L-158.0,-21.1L-158.9,-22.0L-159.0,-22.1L-160.0,-22.5L-161.0,-22.9L-161.1,-23.0L-162.0,-23.9L-162.1,-24.0L-162.5,-25.0L-162.9,-26.0L-163.0,-26.1L-163.9,-27.0L-164.0,-27.1L-165.0,-27.5L-166.0,-27.9L-166.1,-28.0L-167.0,-28.9L-167.1,-29.0L-167.5,-30.0L-167.9,-31.0L-168.0,-31.1L-168.9,-32.0L-169.0,-32.1L-170.0,-32.5L-171.0,-32.9L-171.1,-33.0L-172.0,-33.9L-172.1,-34.0L-172.5,-35.0L-172.9,-36.0L-173.0,-36.1L-173.9,-37.0L-174.0,-37.1L-175.0,-37.5L-176.0,-37.8L-177.0,-37.7L-177.7,-37.0L-178.0,-36.8L-178.6,-36.0L-179.0,-35.4L-179.3,-35.0L-180.0,-34.0L-180.0,-33.9L-180.0,-34.0L-180.0,-35.0L-180.0,-36.0L-180.0,-37.0L-180.0,-38.0L-180.0,-39.0L-180.0,-40.0L-180.0,-41.0L-180.0,-42.0L-180.0,-43.0L-180.0,-44.0L-180.0,-45.0L-180.0,-46.0L-180.0,-47.0L-180.0,-48.0L-180.0,-49.0L-180.0,-50.0L-180.0,-51.0L-180.0,-52.0L-180.0,-53.0L-180.0,-54.0L-180.0,-55.0L-180.0,-56.0L-180.0,-57.0L-180.0,-58.0L-180.0,-59.0L-180.0,-60.0ZM-113.7,-29.0L-114.0,-28.7L-114.4,-28.0L-114.4,-27.0L-114.0,-26.3L-113.7,-26.0L-113.0,-25.5L-112.0,-25.2L-111.0,-25.1L-110.1,-26.0L-110.2,-27.0L-110.5,-28.0L-111.0,-28.7L-111.3,-29.0L-112.0,-29.4L-113.0,-29.4ZM60.0,-60.0L61.0,-60.0L62.0,-60.0L63.0,-60.0L64.0,-60.0L65.0,-60.0L66.0,-60.0L67.0,-60.0L68.0,-60.0L69.0,-60.0L70.0,-60.0L71.0,-60.0L72.0,-60.0L73.0,-60.0L74.0,-60.0L75.0,-60.0L76.0,-60.0L77.0,-60.0L78.0,-60.0L79.0,-60.0L79.4,-60.0L79.4,-59.0L79.4,-58.0L79.4,-57.0L79.4,-56.0L79.4,-55.0L79.4,-54.0L79.4,-53.0L79.4,-52.0L79.4,-51.0L79.4,-50.0L79.4,-49.0L79.4,-48.0L79.4,-47.0L79.4,-46.0L79.4,-45.0L79.4,-44.0L79.4,-43.0L79.4,-42.0L79.4,-41.0L79.4,-40.0L79.4,-39.0L79.4,-38.0L79.4,-37.0L79.4,-36.0L79.4,-35.0L79.4,-34.0L79.5,-33.0L79.8,-32.0L80.0,-31.7L80.6,-31.0L81.0,-30.7L82.0,-30.2L82.6,-30.0L83.0,-29.9L84.0,-29.5L85.0,-29.1L85.3,-29.0L86.0,-28.6L87.0,-28.1L87.2,-28.0L88.0,-27.7L89.0,-27.5L90.0,-27.5L91.0,-27.5L92.0,-27.5L93.0,-27.5L94.0,-27.5L95.0,-27.5L96.0,-27.5L97.0,-27.5L98.0,-27.5L99.0,-27.5L100.0,-27.5L101.0,-27.5L102.0,-27.5L103.0,-27.5L104.0,-27.5L105.0,-27.5L106.0,-27.5L107.0,-27.5L108.0,-27.5L109.0,-27.5L110.0,-27.5L111.0,-27.5L112.0,-27.5L113.0,-27.5L114.0,-27.5L115.0,-27.5L116.0,-27.5L117.0,-27.7L117.6,-28.0L118.0,-28.2L119.0,-29.0L119.0,-29.0L120.0,-30.0L120.0,-30.0L121.0,-31.0L121.0,-31.0L121.8,-32.0L122.0,-32.4L122.3,-33.0L122.5,-34.0L122.5,-35.0L122.5,-36.0L122.5,-37.0L122.5,-38.0L122.5,-39.0L122.5,-40.0L122.5,-41.0L122.5,-42.0L122.5,-43.0L122.5,-44.0L122.5,-45.0L122.5,-46.0L122.3,-47.0L122.0,-47.8L121.9,-48.0L121.4,-49.0L121.0,-49.7L120.9,-50.0L120.5,-51.0L120.2,-52.0L120.1,-53.0L120.0,-54.0L120.0,-55.0L120.0,-56.0L120.0,-57.0L120.0,-57.0L120.0,-58.0L120.0,-59.0L120.0,-60.0L120.0,-60.0L121.0,-60.0L122.0,-60.0L123.0,-60.0L124.0,-60.0L125.0,-60.0L126.0,-60.0L127.0,-60.0L128.0,-60.0L129.0,-60.0L130.0,-60.0L131.0,-60.0L132.0,-60.0L133.0,-60.0L134.0,-60.0L135.0,-60.0L136.0,-60.0L137.0,-60.0L138.0,-60.0L139.0,-60.0L140.0,-60.0L141.0,-60.0L142.0,-60.0L143.0,-60.0L144.0,-60.0L145.0,-60.0L146.0,-60.0L147.0,-60.0L148.0,-60.0L149.0,-60.0L150.0,-60.0L151.0,-60.0L152.0,-60.0L153.0,-60.0L154.0,-60.0L155.0,-60.0L156.0,-60.0L157.0,-60.0L158.0,-60.0L159.0,-60.0L160.0,-60.0L161.0,-60.0L162.0,-60.0L163.0,-60.0L164.0,-60.0L165.0,-60.0L166.0,-60.0L167.0,-60.0L168.0,-60.0L169.0,-60.0L170.0,-60.0L171.0,-60.0L172.0,-60.0L173.0,-60.0L174.0,-60.0L175.0,-60.0L176.0,-60.0L177.0,-60.0L178.0,-60.0L179.0,-60.0L180.0,-60.0L180.0,-59.0L180.0,-58.0L180.0,-57.0L180.0,-56.0L180.0,-55.0L180.0,-54.0L180.0,-53.0L180.0,-52.0L180.0,-51.0L180.0,-50.0L180.0,-49.0L180.0,-48.0L180.0,-47.0L180.0,-46.0L180.0,-45.0L180.0,-44.0L180.0,-43.0L180.0,-42.0L180.0,-41.0L180.0,-40.0L180.0,-39.0L180.0,-38.0L180.0,-37.0L180.0,-36.0L180.0,-35.0L180.0,-34.0L180.0,-33.0L180.0,-32.0L180.0,-31.0L180.0,-30.0L180.0,-29.0L180.0,-28.0L180.0,-27.0L180.0,-26.0L180.0,-25.0L180.0,-24.0L180.0,-23.0L180.0,-22.0L180.0,-21.0L180.0,-20.0L180.0,-19.0L180.0,-18.0L180.0,-17.4L179.8,-17.0L179.1,-16.0L179.0,-15.8L178.7,-15.0L178.4,-14.0L178.3,-13.0L178.2,-12.0L178.2,-11.0L178.2,-10.0L178.2,-9.0L178.2,-8.0L178.2,-7.0L178.2,-6.0L178.2,-5.0L178.2,-4.0L178.2,-3.0L178.2,-2.0L178.2,-1.0L178.2,0.0L178.2,1.0L178.2,2.0L178.2,3.0L178.2,4.0L178.2,5.0L178.2,6.0L178.2,7.0L178.2,8.0L178.2,9.0L178.2,10.0L178.2,11.0L178.2,12.0L178.2,13.0L178.2,14.0L178.2,15.0L178.1,16.0L178.0,16.6L177.9,17.0L177.0,17.8L176.4,18.0L176.0,18.1L175.0,18.1L174.0,18.1L173.0,18.1L172.0,18.2L171.0,18.4L170.0,18.6L169.0,19.0L168.9,19.0L168.0,19.4L167.0,19.8L166.0,20.0L165.0,20.0L164.0,20.0L163.0,20.0L162.0,20.0L161.0,20.0L160.0,20.0L159.0,20.0L158.0,20.0L157.0,20.0L156.0,20.0L155.0,20.0L154.0,20.0L153.0,19.9L152.0,19.6L151.2,19.0L151.0,18.9L150.3,18.0L150.0,17.5L149.7,17.0L149.0,16.2L148.7,16.0L148.0,15.6L147.0,15.6L146.3,16.0L146.0,16.2L145.3,17.0L145.0,17.5L144.7,18.0L144.0,18.9L143.8,19.0L143.0,19.6L142.0,19.9L141.0,20.0L140.0,20.0L139.9,20.0L139.0,20.0L138.0,20.1L137.0,20.2L136.0,20.5L135.0,20.9L134.7,21.0L134.0,21.4L133.0,21.9L132.8,22.0L132.0,22.4L131.0,22.6L130.0,22.8L129.0,23.0L129.0,23.0L128.0,23.4L127.0,23.9L126.4,24.0L126.0,24.6L125.0,24.9L124.0,24.4L123.9,24.0L123.0,23.3L122.9,23.0L122.0,22.3L121.8,22.0L121.0,21.5L120.3,21.0L120.0,20.9L119.0,20.5L118.0,20.1L117.5,20.0L117.0,19.9L116.0,19.5L115.0,19.1L114.7,19.0L114.0,18.6L113.1,18.0L113.0,17.8L112.0,17.0L112.0,17.0L111.0,16.0L111.0,16.0L110.0,15.0L109.6,15.0L109.0,14.9L108.0,14.7L107.0,14.4L106.0,14.1L105.2,14.0L105.0,13.7L104.0,13.0L103.0,13.0L102.0,13.0L101.0,13.0L100.0,13.0L99.0,13.0L98.0,13.0L97.0,13.0L96.0,13.0L95.0,13.0L94.0,13.0L93.0,13.0L92.0,13.0L91.0,13.0L90.0,13.0L89.0,13.0L88.0,13.0L87.0,13.0L86.0,13.0L85.0,13.0L84.0,13.0L83.0,14.0L83.0,15.0L83.0,16.0L83.0,17.0L83.0,18.0L83.0,18.0L82.0,18.0L81.0,18.0L80.0,18.0L79.0,18.0L78.0,18.0L77.0,18.0L77.0,18.0L77.0,17.0L77.0,16.0L77.0,15.0L77.0,14.0L77.0,13.0L77.0,12.0L77.0,11.0L77.0,10.0L77.0,9.0L76.0,8.0L75.0,8.0L74.0,8.0L73.0,8.0L72.0,8.0L72.0,8.0L72.0,7.0L72.0,6.0L72.0,5.0L72.0,4.0L72.0,3.0L72.0,2.0L71.0,1.1L71.0,1.0L70.0,0.8L69.0,0.5L68.0,0.5L67.0,0.5L66.0,0.5L65.0,0.5L64.0,0.5L63.0,0.5L62.0,0.5L61.0,0.5L60.0,0.5L59.0,0.5L58.0,0.5L57.0,0.5L56.0,0.5L55.0,0.5L54.0,0.5L53.0,0.7L52.1,1.0L52.0,1.0L51.0,1.9L51.0,2.0L50.3,3.0L50.0,3.5L49.6,4.0L49.0,4.6L48.3,5.0L48.0,5.2L47.0,5.4L46.0,5.5L45.0,5.5L44.0,5.5L43.0,5.5L42.0,5.5L41.0,5.5L40.0,5.5L39.0,5.5L38.0,5.6L37.0,6.0L37.0,6.0L36.0,6.7L35.7,7.0L35.0,7.5L34.4,8.0L34.0,8.2L33.0,8.6L32.0,8.9L31.0,9.0L30.0,9.0L29.0,9.0L28.8,9.0L28.0,9.1L27.0,9.2L26.0,9.5L25.0,9.7L24.0,9.9L23.1,10.0L23.0,10.0L22.0,10.0L21.9,10.0L21.0,9.9L20.0,9.7L19.0,9.5L18.0,9.3L17.0,9.4L16.0,9.8L15.5,10.0L15.0,10.2L14.0,10.7L13.2,11.0L13.0,11.1L12.0,11.2L11.0,11.2L10.0,11.1L9.4,11.0L9.0,10.9L8.0,10.6L7.0,10.2L6.5,10.0L6.0,9.8L5.0,9.5L4.0,9.2L3.0,9.0L2.8,9.0L2.0,8.8L1.0,8.4L0.3,8.0L0.0,7.6L-0.3,7.0L-0.5,6.0L-0.5,5.0L-0.5,4.0L-0.7,3.0L-1.0,2.1L-1.0,2.0L-1.9,1.0L-2.0,1.0L-3.0,0.3L-3.5,0.0L-4.0,-0.4L-4.6,-1.0L-5.0,-1.5L-5.3,-2.0L-5.9,-3.0L-6.0,-3.1L-6.9,-4.0L-7.0,-4.1L-8.0,-4.7L-8.5,-5.0L-9.0,-5.4L-9.6,-6.0L-10.0,-6.6L-10.2,-7.0L-10.4,-8.0L-10.5,-9.0L-10.5,-10.0L-10.5,-11.0L-10.4,-12.0L-10.0,-12.8L-9.9,-13.0L-9.0,-13.5L-8.0,-13.7L-7.0,-13.6L-6.0,-13.2L-5.6,-13.0L-5.0,-12.5L-4.3,-12.0L-4.0,-11.7L-3.0,-11.0L-3.0,-11.0L-2.0,-10.6L-1.0,-10.5L0.0,-10.5L1.0,-10.5L2.0,-10.5L3.0,-10.5L4.0,-10.5L5.0,-10.5L6.0,-10.5L7.0,-10.5L8.0,-10.5L9.0,-10.5L10.0,-10.5L11.0,-10.5L12.0,-10.5L13.0,-10.5L14.0,-10.5L15.0,-10.5L16.0,-10.5L17.0,-10.7L17.7,-11.0L18.0,-11.1L19.0,-11.7L19.4,-12.0L20.0,-12.3L21.0,-12.7L22.0,-13.0L22.0,-13.0L23.0,-13.1L24.0,-13.2L25.0,-13.2L26.0,-13.2L27.0,-13.2L28.0,-13.1L29.0,-13.1L30.0,-13.1L31.0,-13.2L32.0,-13.2L33.0,-13.3L34.0,-13.6L34.8,-14.0L35.0,-14.1L35.9,-15.0L36.0,-15.2L36.4,-16.0L36.8,-17.0L37.0,-17.9L37.0,-18.0L37.5,-19.0L38.0,-19.8L38.3,-20.0L39.0,-20.4L40.0,-20.5L41.0,-20.5L42.0,-20.7L42.9,-21.0L43.0,-21.0L44.0,-22.0L44.0,-22.1L44.3,-23.0L44.5,-24.0L44.5,-25.0L44.5,-26.0L44.5,-27.0L44.5,-28.0L44.5,-29.0L44.5,-30.0L44.5,-31.0L44.5,-32.0L44.5,-33.0L44.5,-34.0L44.5,-35.0L44.5,-36.0L44.6,-37.0L44.8,-38.0L45.0,-38.4L45.4,-39.0L46.0,-39.6L46.5,-40.0L47.0,-40.3L48.0,-40.9L48.1,-41.0L49.0,-41.9L49.1,-42.0L49.7,-43.0L50.0,-43.5L50.4,-44.0L51.0,-44.6L51.5,-45.0L52.0,-45.3L53.0,-46.0L53.1,-46.0L54.0,-47.0L54.0,-47.1L54.3,-48.0L54.5,-49.0L54.5,-50.0L54.5,-51.0L54.6,-52.0L54.8,-53.0L55.0,-53.4L55.4,-54.0L56.0,-54.6L56.5,-55.0L57.0,-55.3L58.0,-56.0L58.1,-56.0L59.0,-57.0L59.0,-57.1L59.3,-58.0L59.5,-59.0L59.5,-60.0ZM-53.0,56.9L-52.0,56.5L-51.0,56.4L-50.0,56.3L-49.0,56.4L-48.0,56.4L-47.0,56.6L-46.0,57.0L-46.0,57.0L-45.2,58.0L-45.0,59.0L-45.0,60.0L-45.0,61.0L-45.2,62.0L-45.9,63.0L-46.0,63.1L-47.0,63.8L-47.3,64.0L-48.0,64.3L-49.0,64.9L-49.2,65.0L-50.0,65.9L-50.1,66.0L-50.6,67.0L-50.8,68.0L-50.9,69.0L-50.9,70.0L-50.9,71.0L-50.8,72.0L-50.8,73.0L-50.7,74.0L-50.5,75.0L-50.3,76.0L-50.2,77.0L-50.1,78.0L-50.0,79.0L-50.0,80.0L-50.0,81.0L-50.0,82.0L-50.0,82.0L-50.0,83.0L-50.0,84.0L-50.0,85.0L-50.0,86.0L-49.0,87.0L-48.0,87.0L-47.0,87.0L-46.0,87.0L-45.0,87.0L-44.0,87.0L-43.0,87.0L-42.0,87.0L-42.0,87.0L-42.0,88.0L-42.0,89.0L-42.0,90.0L-42.0,90.0L-43.0,90.0L-44.0,90.0L-45.0,90.0L-46.0,90.0L-47.0,90.0L-48.0,90.0L-49.0,90.0L-50.0,90.0L-51.0,90.0L-52.0,90.0L-53.0,90.0L-54.0,90.0L-55.0,90.0L-56.0,90.0L-57.0,90.0L-58.0,90.0L-59.0,90.0L-60.0,90.0L-61.0,90.0L-62.0,90.0L-63.0,90.0L-64.0,90.0L-65.0,90.0L-66.0,90.0L-67.0,90.0L-68.0,90.0L-68.0,90.0L-68.0,89.0L-68.0,88.0L-68.0,87.0L-68.0,87.0L-67.2,86.0L-67.2,85.0L-67.2,84.0L-67.2,83.0L-67.2,82.0L-67.2,81.0L-67.2,80.0L-67.0,79.0L-67.0,79.0L-66.2,78.0L-66.0,77.9L-65.0,77.1L-64.9,77.0L-64.0,76.0L-64.0,75.9L-63.5,75.0L-63.2,74.0L-63.0,73.0L-63.0,72.4L-63.0,72.0L-63.0,71.7L-63.0,71.0L-63.1,70.0L-63.3,69.0L-63.5,68.0L-63.6,67.0L-63.8,66.0L-63.9,65.0L-63.9,64.0L-63.9,63.0L-63.5,62.0L-63.0,61.5L-62.0,61.0L-61.9,61.0L-61.0,60.9L-60.0,60.9L-59.0,60.9L-58.0,60.8L-57.0,60.6L-56.0,60.1L-55.9,60.0L-55.0,59.2L-54.9,59.0L-54.2,58.0L-54.0,57.8L-53.2,57.0ZM-27.0,76.0L-26.0,75.9L-25.0,75.9L-24.0,75.9L-23.1,76.0L-23.0,76.0L-22.0,76.5L-21.4,77.0L-21.0,77.6L-20.7,78.0L-20.1,79.0L-20.0,79.2L-19.2,80.0L-19.0,80.1L-18.0,80.7L-17.6,81.0L-17.0,81.4L-16.4,82.0L-16.0,82.6L-15.7,83.0L-15.1,84.0L-15.0,84.2L-14.2,85.0L-14.0,85.1L-13.0,85.8L-12.7,86.0L-12.0,86.7L-11.8,87.0L-11.5,88.0L-11.4,89.0L-11.3,90.0L-12.0,90.0L-13.0,90.0L-14.0,90.0L-15.0,90.0L-16.0,90.0L-17.0,90.0L-18.0,90.0L-19.0,90.0L-20.0,90.0L-21.0,90.0L-22.0,90.0L-23.0,90.0L-24.0,90.0L-25.0,90.0L-26.0,90.0L-27.0,90.0L-28.0,90.0L-29.0,90.0L-30.0,90.0L-30.0,90.0L-30.0,89.0L-30.0,88.0L-30.0,87.0L-30.0,86.0L-30.0,85.0L-30.0,84.0L-30.0,83.0L-30.0,82.0L-30.0,81.0L-30.0,80.8L-30.0,80.0L-30.0,79.0L-29.7,78.0L-29.0,77.0L-29.0,77.0L-28.0,76.3L-27.0,76.0Z" fill="#f0e48c" stroke="#f0e48c" stroke-width="0.15"/><path d="M-13.0,-60.0L-12.0,-60.0L-11.0,-60.0L-10.0,-60.0L-9.0,-60.0L-8.0,-60.0L-7.0,-60.0L-6.0,-60.0L-5.0,-60.0L-4.0,-60.0L-3.0,-60.0L-2.0,-60.0L-1.0,-60.0L0.0,-60.0L1.0,-60.0L2.0,-60.0L3.0,-60.0L4.0,-60.0L5.0,-60.0L6.0,-60.0L7.0,-60.0L8.0,-60.0L9.0,-60.0L10.0,-60.0L11.0,-60.0L12.0,-60.0L13.0,-60.0L14.0,-60.0L15.0,-60.0L16.0,-60.0L17.0,-60.0L18.0,-60.0L19.0,-60.0L20.0,-60.0L21.0,-60.0L22.0,-60.0L23.0,-60.0L24.0,-60.0L25.0,-60.0L26.0,-60.0L27.0,-60.0L28.0,-60.0L29.0,-60.0L30.0,-60.0L31.0,-60.0L32.0,-60.0L33.0,-60.0L34.0,-60.0L35.0,-60.0L36.0,-60.0L37.0,-60.0L38.0,-60.0L39.0,-60.0L40.0,-60.0L41.0,-60.0L42.0,-60.0L43.0,-60.0L44.0,-60.0L45.0,-60.0L46.0,-60.0L47.0,-60.0L48.0,-60.0L49.0,-60.0L50.0,-60.0L51.0,-60.0L52.0,-60.0L53.0,-60.0L54.0,-60.0L55.0,-60.0L56.0,-60.0L57.0,-60.0L58.0,-60.0L59.0,-60.0L59.5,-60.0L59.5,-59.0L59.3,-58.0L59.0,-57.1L59.0,-57.0L58.1,-56.0L58.0,-56.0L57.0,-55.3L56.5,-55.0L56.0,-54.6L55.4,-54.0L55.0,-53.4L54.8,-53.0L54.6,-52.0L54.5,-51.0L54.5,-50.0L54.5,-49.0L54.3,-48.0L54.0,-47.1L54.0,-47.0L53.1,-46.0L53.0,-46.0L52.0,-45.3L51.5,-45.0L51.0,-44.6L50.4,-44.0L50.0,-43.5L49.7,-43.0L49.1,-42.0L49.0,-41.9L48.1,-41.0L48.0,-40.9L47.0,-40.3L46.5,-40.0L46.0,-39.6L45.4,-39.0L45.0,-38.4L44.8,-38.0L44.6,-37.0L44.5,-36.0L44.5,-35.0L44.5,-34.0L44.5,-33.0L44.5,-32.0L44.5,-31.0L44.5,-30.0L44.5,-29.0L44.5,-28.0L44.5,-27.0L44.5,-26.0L44.5,-25.0L44.5,-24.0L44.3,-23.0L44.0,-22.1L44.0,-22.0L43.0,-21.0L42.9,-21.0L42.0,-20.7L41.0,-20.5L40.0,-20.5L39.0,-20.4L38.3,-20.0L38.0,-19.8L37.5,-19.0L37.0,-18.0L37.0,-17.9L36.8,-17.0L36.4,-16.0L36.0,-15.2L35.9,-15.0L35.0,-14.1L34.8,-14.0L34.0,-13.6L33.0,-13.3L32.0,-13.2L31.0,-13.2L30.0,-13.1L29.0,-13.1L28.0,-13.1L27.0,-13.2L26.0,-13.2L25.0,-13.2L24.0,-13.2L23.0,-13.1L22.0,-13.0L22.0,-13.0L21.0,-12.7L20.0,-12.3L19.4,-12.0L19.0,-11.7L18.0,-11.1L17.7,-11.0L17.0,-10.7L16.0,-10.5L15.0,-10.5L14.0,-10.5L13.0,-10.5L12.0,-10.5L11.0,-10.5L10.0,-10.5L9.0,-10.5L8.0,-10.5L7.0,-10.5L6.0,-10.5L5.0,-10.5L4.0,-10.5L3.0,-10.5L2.0,-10.5L1.0,-10.5L0.0,-10.5L-1.0,-10.5L-2.0,-10.6L-3.0,-11.0L-3.0,-11.0L-4.0,-11.7L-4.3,-12.0L-5.0,-12.5L-5.6,-13.0L-6.0,-13.2L-7.0,-13.6L-8.0,-13.7L-9.0,-13.5L-9.9,-13.0L-10.0,-12.8L-10.4,-12.0L-10.5,-11.0L-10.5,-10.0L-10.5,-9.0L-10.4,-8.0L-10.2,-7.0L-10.0,-6.6L-9.6,-6.0L-9.0,-5.4L-8.5,-5.0L-8.0,-4.7L-7.0,-4.1L-6.9,-4.0L-6.0,-3.1L-5.9,-3.0L-5.3,-2.0L-5.0,-1.5L-4.6,-1.0L-4.0,-0.4L-3.5,0.0L-3.0,0.3L-2.0,1.0L-1.9,1.0L-1.0,2.0L-1.0,2.1L-0.7,3.0L-0.5,4.0L-0.5,5.0L-0.5,6.0L-0.3,7.0L0.0,7.6L0.3,8.0L1.0,8.4L2.0,8.8L2.8,9.0L3.0,9.0L4.0,9.2L5.0,9.5L6.0,9.8L6.5,10.0L7.0,10.2L8.0,10.6L9.0,10.9L9.4,11.0L10.0,11.1L11.0,11.2L12.0,11.2L13.0,11.1L13.2,11.0L14.0,10.7L15.0,10.2L15.5,10.0L16.0,9.8L17.0,9.4L18.0,9.3L19.0,9.5L20.0,9.7L21.0,9.9L21.9,10.0L22.0,10.0L23.0,10.0L23.1,10.0L24.0,9.9L25.0,9.7L26.0,9.5L27.0,9.2L28.0,9.1L28.8,9.0L29.0,9.0L30.0,9.0L31.0,9.0L32.0,8.9L33.0,8.6L34.0,8.2L34.4,8.0L35.0,7.5L35.7,7.0L36.0,6.7L37.0,6.0L37.0,6.0L38.0,5.6L39.0,5.5L40.0,5.5L41.0,5.5L42.0,5.5L43.0,5.5L44.0,5.5L45.0,5.5L46.0,5.5L47.0,5.4L48.0,5.2L48.3,5.0L49.0,4.6L49.6,4.0L50.0,3.5L50.3,3.0L51.0,2.0L51.0,1.9L52.0,1.0L52.1,1.0L53.0,0.7L54.0,0.5L55.0,0.5L56.0,0.5L57.0,0.5L58.0,0.5L59.0,0.5L60.0,0.5L61.0,0.5L62.0,0.5L63.0,0.5L64.0,0.5L65.0,0.5L66.0,0.5L67.0,0.5L68.0,0.5L69.0,0.5L70.0,0.8L71.0,1.0L71.0,1.1L72.0,2.0L72.0,3.0L72.0,4.0L72.0,5.0L72.0,6.0L72.0,7.0L72.0,8.0L72.0,8.0L73.0,8.0L74.0,8.0L75.0,8.0L76.0,8.0L77.0,9.0L77.0,10.0L77.0,11.0L77.0,12.0L77.0,13.0L77.0,14.0L77.0,15.0L77.0,16.0L77.0,17.0L77.0,18.0L77.0,18.0L78.0,18.0L79.0,18.0L80.0,18.0L81.0,18.0L82.0,18.0L83.0,18.0L83.0,18.0L83.0,17.0L83.0,16.0L83.0,15.0L83.0,14.0L84.0,13.0L85.0,13.0L86.0,13.0L87.0,13.0L88.0,13.0L89.0,13.0L90.0,13.0L91.0,13.0L92.0,13.0L93.0,13.0L94.0,13.0L95.0,13.0L96.0,13.0L97.0,13.0L98.0,13.0L99.0,13.0L100.0,13.0L101.0,13.0L102.0,13.0L103.0,13.0L104.0,13.0L105.0,13.7L105.2,14.0L106.0,14.1L107.0,14.4L108.0,14.7L109.0,14.9L109.6,15.0L110.0,15.0L111.0,16.0L111.0,16.0L112.0,17.0L112.0,17.0L113.0,17.8L113.1,18.0L114.0,18.6L114.7,19.0L115.0,19.1L116.0,19.5L117.0,19.9L117.5,20.0L118.0,20.1L119.0,20.5L120.0,20.9L120.3,21.0L121.0,21.5L121.8,22.0L122.0,22.3L122.9,23.0L123.0,23.3L123.9,24.0L124.0,24.4L125.0,24.9L126.0,24.6L126.4,24.0L127.0,23.9L128.0,23.4L129.0,23.0L129.0,23.0L130.0,22.8L131.0,22.6L132.0,22.4L132.8,22.0L133.0,21.9L134.0,21.4L134.7,21.0L135.0,20.9L136.0,20.5L137.0,20.2L138.0,20.1L139.0,20.0L139.9,20.0L140.0,20.0L141.0,20.0L142.0,19.9L143.0,19.6L143.8,19.0L144.0,18.9L144.7,18.0L145.0,17.5L145.3,17.0L146.0,16.2L146.3,16.0L147.0,15.6L148.0,15.6L148.7,16.0L149.0,16.2L149.7,17.0L150.0,17.5L150.3,18.0L151.0,18.9L151.2,19.0L152.0,19.6L153.0,19.9L154.0,20.0L155.0,20.0L156.0,20.0L157.0,20.0L158.0,20.0L159.0,20.0L160.0,20.0L161.0,20.0L162.0,20.0L163.0,20.0L164.0,20.0L165.0,20.0L166.0,20.0L167.0,19.8L168.0,19.4L168.9,19.0L169.0,19.0L170.0,18.6L171.0,18.4L172.0,18.2L173.0,18.1L174.0,18.1L175.0,18.1L176.0,18.1L176.4,18.0L177.0,17.8L177.9,17.0L178.0,16.6L178.1,16.0L178.2,15.0L178.2,14.0L178.2,13.0L178.2,12.0L178.2,11.0L178.2,10.0L178.2,9.0L178.2,8.0L178.2,7.0L178.2,6.0L178.2,5.0L178.2,4.0L178.2,3.0L178.2,2.0L178.2,1.0L178.2,0.0L178.2,-1.0L178.2,-2.0L178.2,-3.0L178.2,-4.0L178.2,-5.0L178.2,-6.0L178.2,-7.0L178.2,-8.0L178.2,-9.0L178.2,-10.0L178.2,-11.0L178.2,-12.0L178.3,-13.0L178.4,-14.0L178.7,-15.0L179.0,-15.8L179.1,-16.0L179.8,-17.0L180.0,-17.4L180.0,-17.0L180.0,-16.0L180.0,-15.0L180.0,-14.0L180.0,-13.0L180.0,-12.0L180.0,-11.0L180.0,-10.0L180.0,-9.0L180.0,-8.0L180.0,-7.0L180.0,-6.0L180.0,-5.0L180.0,-4.0L180.0,-3.0L180.0,-2.0L180.0,-1.0L180.0,0.0L180.0,1.0L180.0,2.0L180.0,3.0L180.0,4.0L180.0,5.0L180.0,6.0L180.0,7.0L180.0,8.0L180.0,9.0L180.0,10.0L180.0,11.0L180.0,12.0L180.0,13.0L180.0,14.0L180.0,15.0L180.0,16.0L180.0,17.0L180.0,18.0L180.0,18.0L179.0,18.8L178.8,19.0L178.0,19.5L177.0,19.8L176.0,19.9L175.0,19.9L174.0,19.9L173.0,20.0L172.7,20.0L172.0,20.1L171.0,20.5L170.2,21.0L170.0,21.1L169.0,22.0L169.0,22.0L168.0,23.0L168.0,23.0L167.0,23.5L166.0,23.8L165.3,24.0L165.0,24.1L164.0,24.4L163.0,24.7L162.4,25.0L162.0,25.3L161.0,26.0L161.0,26.0L160.1,27.0L160.0,27.2L159.3,28.0L159.0,28.3L158.3,29.0L158.0,29.2L157.0,29.8L156.0,30.0L155.0,30.0L154.9,30.0L154.0,30.0L153.0,30.1L152.0,30.4L151.2,31.0L151.0,31.1L150.3,32.0L150.0,32.5L149.7,33.0L149.0,33.9L148.9,34.0L148.0,34.6L147.2,35.0L147.0,35.1L146.0,35.4L145.0,35.9L144.7,36.0L144.0,36.4L143.0,36.9L142.8,37.0L142.0,37.3L141.0,37.4L140.0,37.3L139.0,37.3L138.0,37.2L137.0,37.2L136.0,37.2L135.0,37.2L134.0,37.2L133.0,37.1L132.7,37.0L132.0,36.8L131.0,36.3L130.4,36.0L130.0,35.8L129.0,35.5L128.0,35.2L127.0,35.1L126.0,35.0L125.0,35.0L125.0,35.0L124.0,35.0L123.0,35.0L122.0,35.0L121.0,35.0L120.0,35.0L119.0,35.0L118.0,34.9L117.0,34.6L116.0,34.2L115.6,34.0L115.0,33.7L114.0,33.2L113.6,33.0L113.0,32.7L112.0,32.3L111.0,32.1L110.4,32.0L110.0,31.9L109.0,31.6L108.0,31.0L108.0,31.0L107.5,30.0L107.1,29.0L107.0,28.9L106.0,28.1L105.9,28.0L105.0,27.8L104.0,27.7L103.0,27.5L102.0,27.5L101.0,27.4L100.0,27.3L99.0,27.3L98.0,27.2L97.0,27.2L96.0,27.2L95.0,27.2L94.0,27.2L93.0,27.3L92.0,27.6L91.1,28.0L91.0,28.0L90.0,28.4L89.0,28.7L88.0,29.0L88.0,29.0L87.0,29.2L86.0,29.3L85.0,29.5L84.0,29.7L83.0,29.8L82.0,29.9L81.0,30.0L80.0,30.0L79.0,30.0L78.0,30.0L77.0,30.0L76.0,30.0L75.0,30.0L74.0,30.0L73.0,29.9L72.0,29.6L71.1,29.0L71.0,28.9L70.2,28.0L70.0,27.7L69.5,27.0L69.0,26.4L68.6,26.0L68.0,25.4L67.5,25.0L67.0,24.6L66.4,24.0L66.0,23.6L65.6,23.0L65.2,22.0L65.0,21.0L65.0,20.0L65.0,19.8L65.0,19.0L64.9,18.0L64.8,17.0L64.7,16.0L64.5,15.0L64.4,14.0L64.3,13.0L64.3,12.0L64.5,11.0L64.6,10.0L64.8,9.0L64.8,8.0L64.6,7.0L64.0,6.0L64.0,6.0L63.0,5.3L62.0,5.3L61.0,5.8L60.8,6.0L60.0,7.0L60.0,7.0L59.4,8.0L59.0,8.6L58.6,9.0L58.0,9.4L57.0,9.9L56.7,10.0L56.0,10.4L55.0,11.0L55.0,11.0L54.0,11.9L53.9,12.0L53.0,12.9L52.9,13.0L52.0,13.4L51.0,13.6L50.0,13.6L49.0,13.6L48.0,13.6L47.0,13.6L46.0,13.6L45.0,13.6L44.0,13.6L43.0,13.6L42.0,13.7L41.0,13.8L40.0,13.9L39.4,14.0L39.0,14.1L38.0,14.2L37.0,14.3L36.0,14.4L35.0,14.4L34.0,14.4L33.0,14.3L32.0,14.2L31.0,14.1L30.5,14.0L30.0,13.9L29.0,13.8L28.0,13.7L27.0,13.7L26.0,13.6L25.0,13.7L24.0,13.7L23.0,13.7L22.0,13.7L21.0,13.7L20.0,13.7L19.0,13.7L18.0,13.7L17.0,13.8L16.3,14.0L16.0,14.0L15.0,14.3L14.0,14.5L13.0,14.6L12.0,14.7L11.0,14.7L10.0,14.7L9.0,14.7L8.0,14.7L7.0,14.6L6.0,14.5L5.0,14.3L4.0,14.1L3.6,14.0L3.0,13.9L2.0,13.9L1.3,14.0L1.0,14.1L0.0,14.3L-1.0,14.5L-2.0,14.6L-3.0,14.8L-4.0,14.9L-4.5,15.0L-5.0,15.1L-6.0,15.3L-7.0,15.5L-8.0,15.7L-9.0,16.0L-9.1,16.0L-10.0,16.3L-11.0,16.6L-11.9,17.0L-12.0,17.0L-13.0,17.3L-14.0,17.5L-15.0,17.5L-16.0,17.6L-17.0,17.7L-18.0,17.7L-19.0,17.7L-20.0,17.7L-21.0,17.7L-22.0,17.7L-23.0,17.7L-24.0,17.7L-25.0,17.7L-26.0,17.7L-27.0,17.7L-28.0,17.7L-29.0,17.7L-30.0,17.7L-31.0,17.8L-32.0,18.0L-32.0,18.0L-33.0,18.6L-33.4,19.0L-34.0,19.4L-35.0,20.0L-35.0,20.0L-36.0,20.4L-37.0,20.8L-37.3,21.0L-38.0,21.5L-38.5,22.0L-39.0,23.0L-39.0,23.1L-39.1,24.0L-39.1,25.0L-39.1,26.0L-39.2,27.0L-39.4,28.0L-39.9,29.0L-40.0,29.1L-40.9,30.0L-41.0,30.1L-42.0,30.6L-43.0,30.8L-44.0,30.9L-45.0,30.9L-46.0,30.9L-47.0,30.9L-48.0,30.9L-49.0,30.9L-50.0,30.9L-51.0,30.9L-52.0,30.9L-53.0,30.9L-54.0,30.9L-55.0,30.9L-56.0,30.9L-57.0,30.9L-57.4,31.0L-58.0,31.1L-59.0,31.4L-60.0,31.8L-60.5,32.0L-61.0,32.3L-62.0,32.9L-62.1,33.0L-62.9,34.0L-63.0,34.1L-63.7,35.0L-64.0,35.4L-64.6,36.0L-65.0,36.3L-65.8,37.0L-66.0,37.2L-66.8,38.0L-67.0,38.4L-67.3,39.0L-67.5,40.0L-67.8,41.0L-68.0,41.4L-68.7,42.0L-69.0,42.1L-70.0,42.3L-71.0,42.4L-72.0,42.5L-73.0,42.5L-74.0,42.5L-75.0,42.5L-76.0,42.5L-77.0,42.4L-78.0,42.2L-78.6,42.0L-79.0,41.9L-80.0,41.5L-81.0,41.2L-81.8,41.0L-82.0,41.0L-83.0,40.7L-84.0,40.5L-85.0,40.4L-86.0,40.2L-87.0,40.1L-87.5,40.0L-88.0,39.9L-89.0,39.8L-90.0,39.6L-91.0,39.5L-92.0,39.2L-92.9,39.0L-93.0,39.0L-94.0,38.6L-95.0,38.3L-95.8,38.0L-96.0,37.9L-97.0,37.5L-98.0,37.2L-98.4,37.0L-99.0,36.8L-100.0,36.5L-101.0,36.2L-101.7,36.0L-102.0,35.9L-103.0,35.6L-104.0,35.3L-105.0,35.0L-105.0,35.0L-106.0,34.7L-107.0,34.4L-108.0,34.2L-109.0,34.2L-110.0,34.1L-111.0,34.1L-112.0,34.1L-113.0,34.1L-114.0,34.1L-115.0,34.1L-116.0,34.1L-117.0,34.1L-117.9,34.0L-118.0,34.0L-119.0,33.8L-120.0,33.7L-121.0,33.5L-122.0,33.4L-123.0,33.4L-124.0,33.4L-125.0,33.3L-126.0,33.3L-127.0,33.1L-127.3,33.0L-128.0,32.4L-128.3,32.0L-128.8,31.0L-129.0,30.7L-129.5,30.0L-130.0,29.5L-130.8,29.0L-131.0,28.9L-132.0,28.6L-133.0,28.4L-134.0,28.4L-135.0,28.3L-136.0,28.3L-137.0,28.1L-137.3,28.0L-138.0,27.4L-138.3,27.0L-138.8,26.0L-139.0,25.7L-139.5,25.0L-140.0,24.5L-140.8,24.0L-141.0,23.9L-142.0,23.6L-143.0,23.4L-144.0,23.4L-145.0,23.3L-146.0,23.3L-147.0,23.2L-147.5,23.0L-148.0,22.7L-148.6,22.0L-149.0,21.4L-149.2,21.0L-150.0,20.0L-150.0,20.0L-151.0,19.2L-151.4,19.0L-152.0,18.7L-153.0,18.0L-153.0,18.0L-153.7,17.0L-154.0,16.4L-154.2,16.0L-155.0,15.0L-155.0,15.0L-156.0,14.2L-156.4,14.0L-157.0,13.7L-157.9,13.0L-158.0,12.9L-158.5,12.0L-158.6,11.0L-158.7,10.0L-158.7,9.0L-158.7,8.0L-158.9,7.0L-159.0,6.7L-159.3,6.0L-160.0,5.0L-160.0,5.0L-161.0,4.2L-161.4,4.0L-162.0,3.7L-163.0,3.0L-163.0,3.0L-163.7,2.0L-164.0,1.4L-164.2,1.0L-165.0,0.0L-165.0,-0.0L-166.0,-0.8L-166.4,-1.0L-167.0,-1.3L-167.9,-2.0L-168.0,-2.1L-168.5,-3.0L-168.6,-4.0L-168.7,-5.0L-168.7,-6.0L-168.7,-7.0L-168.9,-8.0L-169.0,-8.3L-169.3,-9.0L-170.0,-10.0L-170.0,-10.0L-171.0,-10.8L-171.4,-11.0L-172.0,-11.3L-173.0,-12.0L-173.0,-12.0L-173.7,-13.0L-174.0,-13.6L-174.2,-14.0L-175.0,-15.0L-175.0,-15.0L-176.0,-15.7L-177.0,-15.9L-178.0,-15.6L-178.7,-15.0L-179.0,-14.7L-179.6,-14.0L-180.0,-13.5L-180.0,-14.0L-180.0,-15.0L-180.0,-16.0L-180.0,-17.0L-180.0,-18.0L-180.0,-19.0L-180.0,-20.0L-180.0,-21.0L-180.0,-22.0L-180.0,-23.0L-180.0,-24.0L-180.0,-25.0L-180.0,-26.0L-180.0,-27.0L-180.0,-28.0L-180.0,-29.0L-180.0,-30.0L-180.0,-31.0L-180.0,-32.0L-180.0,-33.0L-180.0,-33.9L-180.0,-34.0L-179.3,-35.0L-179.0,-35.4L-178.6,-36.0L-178.0,-36.8L-177.7,-37.0L-177.0,-37.7L-176.0,-37.8L-175.0,-37.5L-174.0,-37.1L-173.9,-37.0L-173.0,-36.1L-172.9,-36.0L-172.5,-35.0L-172.1,-34.0L-172.0,-33.9L-171.1,-33.0L-171.0,-32.9L-170.0,-32.5L-169.0,-32.1L-168.9,-32.0L-168.0,-31.1L-167.9,-31.0L-167.5,-30.0L-167.1,-29.0L-167.0,-28.9L-166.1,-28.0L-166.0,-27.9L-165.0,-27.5L-164.0,-27.1L-163.9,-27.0L-163.0,-26.1L-162.9,-26.0L-162.5,-25.0L-162.1,-24.0L-162.0,-23.9L-161.1,-23.0L-161.0,-22.9L-160.0,-22.5L-159.0,-22.1L-158.9,-22.0L-158.0,-21.1L-157.9,-21.0L-157.5,-20.0L-157.1,-19.0L-157.0,-18.9L-156.1,-18.0L-156.0,-17.9L-155.0,-17.5L-154.0,-17.1L-153.9,-17.0L-153.0,-16.1L-152.9,-16.0L-152.5,-15.0L-152.1,-14.0L-152.0,-13.9L-151.1,-13.0L-151.0,-12.9L-150.0,-12.5L-149.0,-12.1L-148.9,-12.0L-148.0,-11.1L-147.9,-11.0L-147.5,-10.0L-147.1,-9.0L-147.0,-8.9L-146.1,-8.0L-146.0,-7.9L-145.0,-7.5L-144.0,-7.1L-143.9,-7.0L-143.0,-6.1L-142.9,-6.0L-142.5,-5.0L-142.1,-4.0L-142.0,-3.9L-141.1,-3.0L-141.0,-2.9L-140.0,-2.5L-139.0,-2.1L-138.9,-2.0L-138.0,-1.1L-137.9,-1.0L-137.5,0.0L-137.1,1.0L-137.0,1.1L-136.1,2.0L-136.0,2.1L-135.0,2.5L-134.0,2.9L-133.9,3.0L-133.0,3.9L-132.9,4.0L-132.5,5.0L-132.1,6.0L-132.0,6.1L-131.1,7.0L-131.0,7.1L-130.0,7.5L-129.0,7.9L-128.9,8.0L-128.0,8.9L-127.9,9.0L-127.5,10.0L-127.1,11.0L-127.0,11.1L-126.1,12.0L-126.0,12.1L-125.0,12.5L-124.0,12.9L-123.9,13.0L-123.0,13.9L-122.9,14.0L-122.5,15.0L-122.1,16.0L-122.0,16.1L-121.1,17.0L-121.0,17.1L-120.0,17.5L-119.0,17.9L-118.9,18.0L-118.0,18.9L-117.9,19.0L-117.5,20.0L-117.1,21.0L-117.0,21.1L-116.1,22.0L-116.0,22.1L-115.0,22.5L-114.0,22.9L-113.9,23.0L-113.0,23.9L-112.9,24.0L-112.5,25.0L-112.1,26.0L-112.0,26.1L-111.0,26.9L-110.9,27.0L-110.0,27.2L-109.0,27.4L-108.0,27.6L-107.3,28.0L-107.0,28.2L-106.0,29.0L-106.0,29.0L-105.0,30.0L-105.0,30.0L-104.0,30.9L-103.9,31.0L-103.0,31.5L-102.0,31.9L-101.5,32.0L-101.0,32.1L-100.0,32.1L-99.0,32.2L-98.0,32.3L-97.0,32.6L-96.3,33.0L-96.0,33.1L-95.0,33.7L-94.4,34.0L-94.0,34.2L-93.0,34.7L-92.2,35.0L-92.0,35.1L-91.0,35.4L-90.0,35.8L-89.5,36.0L-89.0,36.2L-88.0,36.6L-87.0,36.8L-86.0,36.9L-85.0,37.0L-84.2,37.0L-84.0,37.0L-83.0,37.0L-82.0,37.0L-81.0,37.1L-80.0,37.1L-79.0,37.1L-78.0,37.2L-77.0,37.2L-76.0,37.2L-75.0,37.2L-74.0,37.2L-73.2,37.0L-73.0,37.0L-72.0,36.4L-71.6,36.0L-71.0,35.6L-70.0,35.0L-70.0,35.0L-69.0,34.5L-68.0,34.1L-67.8,34.0L-67.0,33.5L-66.5,33.0L-66.0,32.3L-65.8,32.0L-65.1,31.0L-65.0,30.8L-64.2,30.0L-64.0,29.9L-63.0,29.3L-62.2,29.0L-62.0,28.9L-61.0,28.5L-60.0,28.1L-59.7,28.0L-59.0,27.5L-58.0,27.0L-58.0,26.9L-57.0,26.1L-56.6,26.0L-56.0,25.1L-55.4,25.0L-55.0,24.1L-54.3,24.0L-54.0,23.1L-53.0,23.0L-52.0,23.0L-51.0,23.0L-50.0,23.0L-49.0,23.0L-48.0,23.0L-47.0,23.0L-47.0,23.0L-47.0,22.0L-47.0,21.0L-47.0,20.0L-47.0,19.0L-47.0,18.0L-47.0,17.0L-47.0,16.0L-47.0,15.0L-47.0,14.0L-46.0,13.0L-45.0,13.0L-44.0,13.0L-43.0,13.0L-42.0,13.0L-42.0,13.0L-42.0,12.0L-42.0,11.0L-42.0,10.0L-42.0,9.0L-42.0,8.0L-42.0,7.0L-42.0,7.0L-43.0,7.0L-43.0,7.0L-43.0,8.0L-43.0,9.0L-43.0,10.0L-43.0,11.0L-44.0,12.0L-45.0,12.0L-46.0,12.0L-47.0,12.0L-48.0,12.0L-49.0,12.0L-50.0,12.0L-51.0,12.0L-52.0,12.0L-53.0,12.0L-54.0,12.0L-55.0,12.0L-56.0,12.0L-57.0,12.0L-58.0,12.0L-59.0,12.0L-60.0,12.0L-61.0,12.0L-62.0,12.0L-63.0,12.0L-63.0,12.0L-63.0,13.0L-63.6,14.0L-64.0,14.0L-65.0,14.4L-66.0,14.9L-67.0,15.0L-68.0,15.0L-69.0,15.0L-70.0,15.0L-71.0,15.0L-72.0,14.9L-73.0,14.5L-73.8,14.0L-74.0,13.8L-74.6,13.0L-75.0,12.2L-75.1,12.0L-75.4,11.0L-75.9,10.0L-76.0,9.7L-76.4,9.0L-77.0,8.1L-77.1,8.0L-77.9,7.0L-78.0,6.9L-78.6,6.0L-79.0,5.3L-79.2,5.0L-79.6,4.0L-80.0,3.1L-80.0,3.0L-80.8,2.0L-81.0,1.9L-82.0,1.3L-82.8,1.0L-83.0,1.0L-84.0,0.9L-85.0,0.9L-86.0,0.9L-87.0,0.8L-88.0,0.6L-89.0,0.1L-89.1,0.0L-90.0,-0.9L-90.1,-1.0L-90.6,-2.0L-91.0,-2.8L-91.1,-3.0L-91.7,-4.0L-92.0,-4.4L-92.7,-5.0L-93.0,-5.3L-93.9,-6.0L-94.0,-6.1L-94.7,-7.0L-95.0,-7.5L-95.3,-8.0L-96.0,-8.9L-96.1,-9.0L-97.0,-9.7L-97.5,-10.0L-98.0,-10.3L-98.9,-11.0L-99.0,-11.1L-99.7,-12.0L-100.0,-12.5L-100.3,-13.0L-101.0,-13.9L-101.1,-14.0L-102.0,-14.7L-102.5,-15.0L-103.0,-15.3L-103.9,-16.0L-104.0,-16.1L-104.7,-17.0L-105.0,-17.5L-105.3,-18.0L-106.0,-18.9L-106.1,-19.0L-107.0,-19.7L-107.5,-20.0L-108.0,-20.3L-108.8,-21.0L-109.0,-21.2L-109.5,-22.0L-109.8,-23.0L-110.0,-24.0L-109.0,-25.0L-108.0,-25.0L-107.0,-25.0L-106.0,-25.0L-105.0,-25.0L-104.0,-25.0L-103.0,-25.0L-102.0,-25.0L-101.0,-25.0L-100.0,-25.0L-99.0,-25.0L-98.0,-24.9L-97.0,-24.6L-96.2,-24.0L-96.0,-23.9L-95.3,-23.0L-95.0,-22.5L-94.7,-22.0L-94.0,-21.1L-93.8,-21.0L-93.0,-20.4L-92.0,-20.1L-91.0,-20.0L-90.0,-20.0L-90.0,-20.0L-89.0,-20.0L-88.0,-19.9L-87.0,-19.6L-86.2,-19.0L-86.0,-18.9L-85.3,-18.0L-85.0,-17.5L-84.7,-17.0L-84.0,-16.1L-83.8,-16.0L-83.0,-15.4L-82.0,-15.1L-81.0,-15.0L-80.0,-15.0L-79.0,-15.0L-78.0,-15.0L-77.0,-15.0L-76.0,-15.0L-75.0,-15.0L-74.0,-15.1L-73.0,-15.3L-72.0,-16.0L-72.0,-16.0L-71.3,-17.0L-71.0,-17.5L-70.7,-18.0L-70.3,-19.0L-70.0,-19.7L-69.9,-20.0L-69.3,-21.0L-69.0,-21.4L-68.5,-22.0L-68.0,-22.8L-67.8,-23.0L-67.4,-24.0L-67.2,-25.0L-67.0,-26.0L-67.0,-26.1L-66.6,-27.0L-66.2,-28.0L-66.0,-28.7L-65.5,-29.0L-65.0,-29.9L-64.4,-30.0L-64.0,-30.1L-63.0,-30.2L-62.0,-30.2L-61.0,-30.1L-60.0,-30.0L-60.0,-30.0L-59.0,-29.6L-58.6,-29.0L-58.0,-28.9L-57.0,-28.4L-56.0,-28.0L-56.0,-28.0L-55.0,-27.8L-54.0,-27.7L-53.0,-27.6L-52.0,-27.4L-51.0,-27.3L-50.0,-27.2L-49.0,-27.0L-49.0,-27.0L-48.0,-26.5L-47.6,-26.0L-47.5,-25.0L-47.4,-24.0L-47.0,-23.0L-47.0,-23.0L-46.2,-22.0L-46.0,-21.8L-45.1,-21.0L-45.0,-20.9L-44.1,-20.0L-44.0,-19.8L-43.3,-19.0L-43.0,-18.6L-42.5,-18.0L-42.0,-17.2L-41.8,-17.0L-41.0,-16.0L-41.0,-16.0L-40.0,-15.0L-40.0,-15.0L-39.0,-14.0L-39.0,-14.0L-38.0,-13.2L-37.6,-13.0L-37.0,-12.7L-36.0,-12.4L-35.0,-12.2L-34.0,-12.0L-34.0,-12.0L-33.0,-11.6L-32.0,-11.1L-31.4,-11.0L-31.0,-10.4L-30.1,-10.0L-30.0,-9.6L-29.0,-9.0L-29.0,-8.7L-28.0,-8.0L-28.0,-7.0L-28.0,-7.0L-27.0,-7.0L-27.0,-7.0L-27.0,-8.0L-26.0,-8.0L-25.0,-8.6L-24.7,-9.0L-24.0,-9.1L-23.0,-9.7L-22.1,-10.0L-22.0,-10.0L-21.0,-10.6L-20.8,-11.0L-20.4,-12.0L-20.1,-13.0L-20.0,-13.8L-20.0,-14.0L-19.6,-15.0L-19.0,-15.1L-18.0,-15.9L-17.9,-16.0L-17.0,-16.3L-16.0,-16.7L-15.4,-17.0L-15.0,-17.1L-14.0,-17.6L-13.7,-18.0L-13.2,-19.0L-13.0,-19.6L-12.9,-20.0L-12.8,-21.0L-12.6,-22.0L-12.2,-23.0L-12.0,-23.3L-11.7,-24.0L-11.2,-25.0L-11.0,-25.6L-10.9,-26.0L-10.6,-27.0L-10.5,-28.0L-10.4,-29.0L-10.4,-30.0L-10.4,-31.0L-10.5,-32.0L-10.6,-33.0L-10.8,-34.0L-11.0,-34.5L-11.3,-35.0L-12.0,-35.8L-12.2,-36.0L-13.0,-36.8L-13.2,-37.0L-13.7,-38.0L-13.8,-39.0L-13.9,-40.0L-13.9,-41.0L-13.9,-42.0L-13.9,-43.0L-13.9,-44.0L-13.9,-45.0L-13.9,-46.0L-13.9,-47.0L-14.0,-47.5L-14.1,-48.0L-14.3,-49.0L-14.7,-50.0L-15.0,-50.6L-15.3,-51.0L-15.7,-52.0L-15.2,-53.0L-15.0,-53.2L-14.4,-54.0L-14.0,-54.7L-13.9,-55.0L-13.5,-56.0L-13.3,-57.0L-13.2,-58.0L-13.2,-59.0L-13.1,-60.0ZM15.9,-27.0L15.0,-26.6L14.5,-26.0L14.4,-25.0L14.4,-24.0L14.4,-23.0L14.4,-22.0L14.4,-21.0L14.4,-20.0L14.4,-19.0L14.6,-18.0L15.0,-17.3L15.2,-17.0L16.0,-16.4L16.8,-16.0L17.0,-15.9L18.0,-15.8L19.0,-15.8L20.0,-15.9L20.8,-16.0L21.0,-16.0L22.0,-16.1L23.0,-16.2L24.0,-16.2L25.0,-16.2L26.0,-16.2L27.0,-16.2L28.0,-16.2L29.0,-16.2L30.0,-16.2L31.0,-16.2L32.0,-16.4L33.0,-16.9L33.1,-17.0L33.7,-18.0L34.0,-19.0L34.0,-19.3L34.1,-20.0L34.2,-21.0L34.2,-22.0L34.0,-22.6L33.9,-23.0L33.0,-24.0L33.0,-24.0L32.0,-24.6L31.3,-25.0L31.0,-25.2L30.0,-25.8L29.6,-26.0L29.0,-26.4L28.0,-27.0L28.0,-27.0L27.0,-27.4L26.0,-27.5L25.0,-27.5L24.0,-27.4L23.0,-27.3L22.0,-27.3L21.0,-27.3L20.0,-27.3L19.0,-27.3L18.0,-27.3L17.0,-27.2L16.0,-27.0ZM-63.3,-21.0L-64.0,-20.7L-65.0,-20.1L-65.1,-20.0L-66.0,-19.2L-66.2,-19.0L-66.9,-18.0L-67.0,-17.9L-67.6,-17.0L-68.0,-16.3L-68.2,-16.0L-68.9,-15.0L-69.0,-14.9L-69.6,-14.0L-70.0,-13.4L-70.3,-13.0L-70.8,-12.0L-71.0,-11.3L-71.1,-11.0L-71.5,-10.0L-71.9,-9.0L-72.0,-8.8L-72.5,-8.0L-73.0,-7.2L-73.2,-7.0L-74.0,-6.0L-74.0,-6.0L-75.0,-5.0L-75.0,-5.0L-76.0,-4.0L-76.0,-3.9L-76.7,-3.0L-76.7,-2.0L-76.0,-1.1L-75.9,-1.0L-75.0,-0.0L-75.0,0.0L-74.0,1.0L-73.9,1.0L-73.0,1.6L-72.0,1.8L-71.0,1.5L-70.0,1.2L-69.1,1.0L-69.0,1.0L-68.0,0.8L-67.0,0.8L-66.0,0.7L-65.0,0.7L-64.0,0.7L-63.0,0.7L-62.0,0.7L-61.0,0.7L-60.0,0.7L-59.0,0.7L-58.0,0.7L-57.0,0.7L-56.0,0.7L-55.0,0.7L-54.0,0.7L-53.0,0.6L-52.0,0.4L-51.1,0.0L-51.0,-0.1L-50.0,-0.6L-49.5,-1.0L-49.0,-1.3L-48.1,-2.0L-48.0,-2.2L-47.0,-3.0L-47.0,-3.0L-46.0,-4.0L-46.0,-4.0L-45.0,-5.0L-45.0,-5.0L-44.1,-6.0L-44.0,-6.1L-43.4,-7.0L-43.3,-8.0L-43.7,-9.0L-44.0,-9.6L-44.2,-10.0L-44.6,-11.0L-44.9,-12.0L-45.0,-12.2L-45.3,-13.0L-45.8,-14.0L-46.0,-14.5L-46.3,-15.0L-46.8,-16.0L-47.0,-16.3L-47.4,-17.0L-48.0,-17.7L-48.3,-18.0L-49.0,-18.6L-49.5,-19.0L-50.0,-19.4L-51.0,-19.9L-51.1,-20.0L-52.0,-20.4L-53.0,-20.7L-54.0,-20.9L-54.9,-21.0L-55.0,-21.0L-56.0,-21.1L-57.0,-21.2L-58.0,-21.3L-59.0,-21.3L-60.0,-21.4L-61.0,-21.4L-62.0,-21.3L-63.0,-21.1ZM80.0,-60.0L81.0,-60.0L82.0,-60.0L83.0,-60.0L84.0,-60.0L85.0,-60.0L86.0,-60.0L87.0,-60.0L88.0,-60.0L89.0,-60.0L90.0,-60.0L91.0,-60.0L92.0,-60.0L93.0,-60.0L94.0,-60.0L95.0,-60.0L96.0,-60.0L97.0,-60.0L98.0,-60.0L99.0,-60.0L100.0,-60.0L101.0,-60.0L102.0,-60.0L103.0,-60.0L104.0,-60.0L105.0,-60.0L106.0,-60.0L107.0,-60.0L108.0,-60.0L109.0,-60.0L110.0,-60.0L111.0,-60.0L112.0,-60.0L113.0,-60.0L114.0,-60.0L115.0,-60.0L116.0,-60.0L117.0,-60.0L118.0,-60.0L119.0,-60.0L120.0,-60.0L120.0,-59.0L120.0,-58.0L120.0,-57.0L120.0,-57.0L120.0,-56.0L120.0,-55.0L120.0,-54.0L120.1,-53.0L120.2,-52.0L120.5,-51.0L120.9,-50.0L121.0,-49.7L121.4,-49.0L121.9,-48.0L122.0,-47.8L122.3,-47.0L122.5,-46.0L122.5,-45.0L122.5,-44.0L122.5,-43.0L122.5,-42.0L122.5,-41.0L122.5,-40.0L122.5,-39.0L122.5,-38.0L122.5,-37.0L122.5,-36.0L122.5,-35.0L122.5,-34.0L122.3,-33.0L122.0,-32.4L121.8,-32.0L121.0,-31.0L121.0,-31.0L120.0,-30.0L120.0,-30.0L119.0,-29.0L119.0,-29.0L118.0,-28.2L117.6,-28.0L117.0,-27.7L116.0,-27.5L115.0,-27.5L114.0,-27.5L113.0,-27.5L112.0,-27.5L111.0,-27.5L110.0,-27.5L109.0,-27.5L108.0,-27.5L107.0,-27.5L106.0,-27.5L105.0,-27.5L104.0,-27.5L103.0,-27.5L102.0,-27.5L101.0,-27.5L100.0,-27.5L99.0,-27.5L98.0,-27.5L97.0,-27.5L96.0,-27.5L95.0,-27.5L94.0,-27.5L93.0,-27.5L92.0,-27.5L91.0,-27.5L90.0,-27.5L89.0,-27.5L88.0,-27.7L87.2,-28.0L87.0,-28.1L86.0,-28.6L85.3,-29.0L85.0,-29.1L84.0,-29.5L83.0,-29.9L82.6,-30.0L82.0,-30.2L81.0,-30.7L80.6,-31.0L80.0,-31.7L79.8,-32.0L79.5,-33.0L79.4,-34.0L79.4,-35.0L79.4,-36.0L79.4,-37.0L79.4,-38.0L79.4,-39.0L79.4,-40.0L79.4,-41.0L79.4,-42.0L79.4,-43.0L79.4,-44.0L79.4,-45.0L79.4,-46.0L79.4,-47.0L79.4,-48.0L79.4,-49.0L79.4,-50.0L79.4,-51.0L79.4,-52.0L79.4,-53.0L79.4,-54.0L79.4,-55.0L79.4,-56.0L79.4,-57.0L79.4,-58.0L79.4,-59.0L79.4,-60.0ZM-113.0,-29.4L-112.0,-29.4L-111.3,-29.0L-111.0,-28.7L-110.5,-28.0L-110.2,-27.0L-110.1,-26.0L-111.0,-25.1L-112.0,-25.2L-113.0,-25.5L-113.7,-26.0L-114.0,-26.3L-114.4,-27.0L-114.4,-28.0L-114.0,-28.7L-113.7,-29.0ZM-38.0,40.5L-37.0,40.3L-36.0,40.4L-35.0,40.5L-34.0,40.7L-33.0,40.9L-32.6,41.0L-32.0,41.2L-31.0,41.8L-30.8,42.0L-30.0,42.8L-29.8,43.0L-29.0,43.9L-28.9,44.0L-28.0,44.7L-27.5,45.0L-27.0,45.3L-26.1,46.0L-26.0,46.1L-25.4,47.0L-25.0,47.8L-24.9,48.0L-24.6,49.0L-24.1,50.0L-24.0,50.3L-23.6,51.0L-23.1,52.0L-23.0,52.2L-22.6,53.0L-22.4,54.0L-22.2,55.0L-22.0,56.0L-22.0,56.0L-21.6,57.0L-21.1,58.0L-21.0,58.6L-20.4,59.0L-20.1,60.0L-21.0,60.5L-21.2,61.0L-22.0,61.4L-22.4,62.0L-23.0,62.3L-23.7,63.0L-24.0,63.2L-24.8,64.0L-25.0,64.1L-25.9,65.0L-26.0,65.2L-26.8,66.0L-27.0,66.4L-27.6,67.0L-28.0,67.6L-29.0,67.9L-30.0,67.8L-31.0,67.7L-32.0,67.6L-33.0,67.5L-34.0,67.5L-35.0,67.5L-36.0,67.5L-37.0,67.5L-38.0,67.6L-39.0,67.7L-40.0,67.8L-41.0,68.0L-41.0,68.0L-42.0,68.4L-43.0,68.9L-43.3,69.0L-44.0,69.8L-44.4,70.0L-44.0,70.5L-43.9,71.0L-43.0,71.7L-42.9,72.0L-42.0,72.7L-41.8,73.0L-41.0,73.5L-40.3,74.0L-40.0,74.1L-39.0,74.5L-38.0,74.8L-37.0,74.9L-36.0,75.0L-35.0,75.0L-34.0,75.0L-33.0,74.8L-32.0,74.5L-31.1,74.0L-31.0,73.9L-30.0,73.3L-29.4,73.0L-29.0,72.6L-28.0,72.0L-27.8,72.0L-27.0,71.7L-26.0,71.8L-25.3,72.0L-25.0,72.0L-24.0,72.2L-23.0,72.3L-22.0,72.4L-21.0,72.5L-20.0,72.6L-19.0,72.8L-18.3,73.0L-18.0,73.1L-17.0,73.7L-16.1,74.0L-16.0,74.2L-15.0,74.9L-14.0,75.0L-13.0,75.0L-12.5,75.0L-12.0,75.1L-11.0,75.6L-10.9,76.0L-10.5,77.0L-10.2,78.0L-10.1,79.0L-10.0,79.4L-10.0,80.0L-9.5,81.0L-9.0,81.8L-9.0,82.0L-8.8,83.0L-8.7,84.0L-8.7,85.0L-8.7,86.0L-8.7,87.0L-8.7,88.0L-8.7,89.0L-8.7,90.0L-9.0,90.0L-10.0,90.0L-11.0,90.0L-11.3,90.0L-11.4,89.0L-11.5,88.0L-11.8,87.0L-12.0,86.7L-12.7,86.0L-13.0,85.8L-14.0,85.1L-14.2,85.0L-15.0,84.2L-15.1,84.0L-15.7,83.0L-16.0,82.6L-16.4,82.0L-17.0,81.4L-17.6,81.0L-18.0,80.7L-19.0,80.1L-19.2,80.0L-20.0,79.2L-20.1,79.0L-20.7,78.0L-21.0,77.6L-21.4,77.0L-22.0,76.5L-23.0,76.0L-23.1,76.0L-24.0,75.9L-25.0,75.9L-26.0,75.9L-27.0,76.0L-27.0,76.0L-28.0,76.3L-29.0,77.0L-29.0,77.0L-29.7,78.0L-30.0,79.0L-30.0,80.0L-30.0,80.8L-30.0,81.0L-30.0,82.0L-30.0,83.0L-30.0,84.0L-30.0,85.0L-30.0,86.0L-30.0,87.0L-30.0,88.0L-30.0,89.0L-30.0,90.0L-31.0,90.0L-32.0,90.0L-33.0,90.0L-34.0,90.0L-35.0,90.0L-36.0,90.0L-37.0,90.0L-38.0,90.0L-39.0,90.0L-40.0,90.0L-41.0,90.0L-42.0,90.0L-42.0,89.0L-42.0,88.0L-42.0,87.0L-42.0,87.0L-43.0,87.0L-44.0,87.0L-45.0,87.0L-46.0,87.0L-47.0,87.0L-48.0,87.0L-49.0,87.0L-50.0,86.0L-50.0,85.0L-50.0,84.0L-50.0,83.0L-50.0,82.0L-50.0,82.0L-50.0,81.0L-50.0,80.0L-50.0,79.0L-50.1,78.0L-50.2,77.0L-50.3,76.0L-50.5,75.0L-50.7,74.0L-50.8,73.0L-50.8,72.0L-50.9,71.0L-50.9,70.0L-50.9,69.0L-50.8,68.0L-50.6,67.0L-50.1,66.0L-50.0,65.9L-49.2,65.0L-49.0,64.9L-48.0,64.3L-47.3,64.0L-47.0,63.8L-46.0,63.1L-45.9,63.0L-45.2,62.0L-45.0,61.0L-45.0,60.0L-45.0,59.0L-45.2,58.0L-46.0,57.0L-46.0,57.0L-47.0,56.6L-48.0,56.4L-49.0,56.4L-50.0,56.3L-51.0,56.4L-52.0,56.5L-53.0,56.9L-53.2,57.0L-54.0,57.8L-54.2,58.0L-54.9,59.0L-55.0,59.2L-55.9,60.0L-56.0,60.1L-57.0,60.6L-58.0,60.8L-59.0,60.9L-60.0,60.9L-61.0,60.9L-61.9,61.0L-62.0,61.0L-63.0,61.5L-63.5,62.0L-63.9,63.0L-63.9,64.0L-63.9,65.0L-63.8,66.0L-63.6,67.0L-63.5,68.0L-63.3,69.0L-63.1,70.0L-63.0,71.0L-63.0,71.7L-63.0,72.0L-63.0,72.4L-63.0,73.0L-63.2,74.0L-63.5,75.0L-64.0,75.9L-64.0,76.0L-64.9,77.0L-65.0,77.1L-66.0,77.9L-66.2,78.0L-67.0,79.0L-67.0,79.0L-67.2,80.0L-67.2,81.0L-67.2,82.0L-67.2,83.0L-67.2,84.0L-67.2,85.0L-67.2,86.0L-68.0,87.0L-68.0,87.0L-68.0,88.0L-68.0,89.0L-68.0,90.0L-69.0,90.0L-70.0,90.0L-71.0,90.0L-72.0,90.0L-73.0,90.0L-74.0,90.0L-75.0,90.0L-76.0,90.0L-77.0,90.0L-78.0,90.0L-79.0,90.0L-80.0,90.0L-81.0,90.0L-82.0,90.0L-83.0,90.0L-84.0,90.0L-85.0,90.0L-86.0,90.0L-87.0,90.0L-88.0,90.0L-89.0,90.0L-90.0,90.0L-91.0,90.0L-92.0,90.0L-93.0,90.0L-94.0,90.0L-95.0,90.0L-96.0,90.0L-97.0,90.0L-98.0,90.0L-99.0,90.0L-100.0,90.0L-101.0,90.0L-102.0,90.0L-103.0,90.0L-104.0,90.0L-105.0,90.0L-106.0,90.0L-106.1,90.0L-106.0,89.9L-105.9,89.0L-105.4,88.0L-105.1,87.0L-105.0,86.0L-105.0,86.0L-104.8,85.0L-104.0,84.4L-103.8,84.0L-103.0,83.4L-102.7,83.0L-102.0,82.3L-101.6,82.0L-101.0,81.2L-100.6,81.0L-100.0,80.2L-99.7,80.0L-99.0,79.8L-98.0,79.0L-98.0,79.0L-97.0,78.7L-96.0,78.3L-95.0,78.1L-94.5,78.0L-94.0,77.9L-93.0,77.9L-92.0,77.8L-91.0,77.8L-90.0,77.8L-89.0,77.8L-88.0,77.8L-87.0,77.8L-86.0,77.7L-85.0,77.7L-84.0,77.6L-83.0,77.6L-82.0,77.6L-81.0,77.7L-80.0,77.8L-79.0,77.9L-78.0,77.9L-77.0,77.9L-76.0,77.9L-75.0,77.9L-74.0,77.9L-73.0,77.8L-72.0,77.6L-71.0,77.2L-70.6,77.0L-70.0,76.8L-69.0,76.5L-68.0,76.2L-67.5,76.0L-67.0,75.8L-66.0,75.1L-65.9,75.0L-65.1,74.0L-65.0,73.8L-64.7,73.0L-64.6,72.0L-64.7,71.0L-65.0,70.0L-65.0,70.0L-65.4,69.0L-65.8,68.0L-66.0,67.6L-66.3,67.0L-66.7,66.0L-67.0,65.0L-67.0,64.8L-67.3,64.0L-67.6,63.0L-67.8,62.0L-67.8,61.0L-67.7,60.0L-67.4,59.0L-67.0,58.2L-66.9,58.0L-66.0,57.4L-65.0,57.0L-64.8,57.0L-64.0,56.7L-63.0,56.3L-62.0,56.3L-61.0,56.5L-60.0,56.7L-59.0,56.8L-58.0,56.6L-57.1,56.0L-57.0,55.9L-56.0,55.1L-55.9,55.0L-55.0,54.5L-54.0,54.1L-53.6,54.0L-53.0,53.8L-52.0,53.7L-51.0,53.7L-50.0,53.7L-49.0,53.6L-48.0,53.6L-47.0,53.4L-46.0,53.0L-46.0,53.0L-45.2,52.0L-45.0,51.0L-45.0,50.0L-45.0,49.9L-45.0,49.0L-44.9,48.0L-44.6,47.0L-44.0,46.2L-43.9,46.0L-43.0,45.3L-42.5,45.0L-42.0,44.7L-41.1,44.0L-41.0,43.9L-40.3,43.0L-40.0,42.5L-39.7,42.0L-39.0,41.1L-38.8,41.0Z" fill="#ecc66c" stroke="#ecc66c" stroke-width="0.15"/><path d="M16.0,-27.0L17.0,-27.2L18.0,-27.3L19.0,-27.3L20.0,-27.3L21.0,-27.3L22.0,-27.3L23.0,-27.3L24.0,-27.4L25.0,-27.5L26.0,-27.5L27.0,-27.4L28.0,-27.0L28.0,-27.0L29.0,-26.4L29.6,-26.0L30.0,-25.8L31.0,-25.2L31.3,-25.0L32.0,-24.6L33.0,-24.0L33.0,-24.0L33.9,-23.0L34.0,-22.6L34.2,-22.0L34.2,-21.0L34.1,-20.0L34.0,-19.3L34.0,-19.0L33.7,-18.0L33.1,-17.0L33.0,-16.9L32.0,-16.4L31.0,-16.2L30.0,-16.2L29.0,-16.2L28.0,-16.2L27.0,-16.2L26.0,-16.2L25.0,-16.2L24.0,-16.2L23.0,-16.2L22.0,-16.1L21.0,-16.0L20.8,-16.0L20.0,-15.9L19.0,-15.8L18.0,-15.8L17.0,-15.9L16.8,-16.0L16.0,-16.4L15.2,-17.0L15.0,-17.3L14.6,-18.0L14.4,-19.0L14.4,-20.0L14.4,-21.0L14.4,-22.0L14.4,-23.0L14.4,-24.0L14.4,-25.0L14.5,-26.0L15.0,-26.6L15.9,-27.0ZM-63.0,-21.1L-62.0,-21.3L-61.0,-21.4L-60.0,-21.4L-59.0,-21.3L-58.0,-21.3L-57.0,-21.2L-56.0,-21.1L-55.0,-21.0L-54.9,-21.0L-54.0,-20.9L-53.0,-20.7L-52.0,-20.4L-51.1,-20.0L-51.0,-19.9L-50.0,-19.4L-49.5,-19.0L-49.0,-18.6L-48.3,-18.0L-48.0,-17.7L-47.4,-17.0L-47.0,-16.3L-46.8,-16.0L-46.3,-15.0L-46.0,-14.5L-45.8,-14.0L-45.3,-13.0L-45.0,-12.2L-44.9,-12.0L-44.6,-11.0L-44.2,-10.0L-44.0,-9.6L-43.7,-9.0L-43.3,-8.0L-43.4,-7.0L-44.0,-6.1L-44.1,-6.0L-45.0,-5.0L-45.0,-5.0L-46.0,-4.0L-46.0,-4.0L-47.0,-3.0L-47.0,-3.0L-48.0,-2.2L-48.1,-2.0L-49.0,-1.3L-49.5,-1.0L-50.0,-0.6L-51.0,-0.1L-51.1,0.0L-52.0,0.4L-53.0,0.6L-54.0,0.7L-55.0,0.7L-56.0,0.7L-57.0,0.7L-58.0,0.7L-59.0,0.7L-60.0,0.7L-61.0,0.7L-62.0,0.7L-63.0,0.7L-64.0,0.7L-65.0,0.7L-66.0,0.7L-67.0,0.8L-68.0,0.8L-69.0,1.0L-69.1,1.0L-70.0,1.2L-71.0,1.5L-72.0,1.8L-73.0,1.6L-73.9,1.0L-74.0,1.0L-75.0,0.0L-75.0,-0.0L-75.9,-1.0L-76.0,-1.1L-76.7,-2.0L-76.7,-3.0L-76.0,-3.9L-76.0,-4.0L-75.0,-5.0L-75.0,-5.0L-74.0,-6.0L-74.0,-6.0L-73.2,-7.0L-73.0,-7.2L-72.5,-8.0L-72.0,-8.8L-71.9,-9.0L-71.5,-10.0L-71.1,-11.0L-71.0,-11.3L-70.8,-12.0L-70.3,-13.0L-70.0,-13.4L-69.6,-14.0L-69.0,-14.9L-68.9,-15.0L-68.2,-16.0L-68.0,-16.3L-67.6,-17.0L-67.0,-17.9L-66.9,-18.0L-66.2,-19.0L-66.0,-19.2L-65.1,-20.0L-65.0,-20.1L-64.0,-20.7L-63.3,-21.0ZM-63.6,-18.0L-64.0,-17.4L-64.3,-17.0L-64.6,-16.0L-64.9,-15.0L-65.0,-14.6L-65.2,-14.0L-65.7,-13.0L-66.0,-12.3L-66.1,-12.0L-66.3,-11.0L-66.4,-10.0L-66.4,-9.0L-66.4,-8.0L-66.3,-7.0L-66.0,-6.0L-66.0,-6.0L-65.5,-5.0L-65.0,-4.6L-64.0,-4.0L-63.9,-4.0L-63.0,-3.8L-62.0,-3.7L-61.0,-3.7L-60.0,-3.7L-59.0,-3.7L-58.0,-3.7L-57.0,-3.8L-56.1,-4.0L-56.0,-4.0L-55.0,-4.6L-54.5,-5.0L-54.0,-5.9L-54.0,-6.0L-53.7,-7.0L-53.5,-8.0L-53.5,-9.0L-53.5,-10.0L-53.5,-11.0L-53.5,-12.0L-53.5,-13.0L-53.5,-14.0L-53.5,-15.0L-53.7,-16.0L-54.0,-16.7L-54.2,-17.0L-55.0,-17.5L-56.0,-18.0L-56.0,-18.0L-57.0,-18.3L-58.0,-18.5L-59.0,-18.6L-60.0,-18.8L-61.0,-18.9L-62.0,-18.8L-63.0,-18.4ZM-178.0,-15.6L-177.0,-15.9L-176.0,-15.7L-175.0,-15.0L-175.0,-15.0L-174.2,-14.0L-174.0,-13.6L-173.7,-13.0L-173.0,-12.0L-173.0,-12.0L-172.0,-11.3L-171.4,-11.0L-171.0,-10.8L-170.0,-10.0L-170.0,-10.0L-169.3,-9.0L-169.0,-8.3L-168.9,-8.0L-168.7,-7.0L-168.7,-6.0L-168.7,-5.0L-168.6,-4.0L-168.5,-3.0L-168.0,-2.1L-167.9,-2.0L-167.0,-1.3L-166.4,-1.0L-166.0,-0.8L-165.0,-0.0L-165.0,0.0L-164.2,1.0L-164.0,1.4L-163.7,2.0L-163.0,3.0L-163.0,3.0L-162.0,3.7L-161.4,4.0L-161.0,4.2L-160.0,5.0L-160.0,5.0L-159.3,6.0L-159.0,6.7L-158.9,7.0L-158.7,8.0L-158.7,9.0L-158.7,10.0L-158.6,11.0L-158.5,12.0L-158.0,12.9L-157.9,13.0L-157.0,13.7L-156.4,14.0L-156.0,14.2L-155.0,15.0L-155.0,15.0L-154.2,16.0L-154.0,16.4L-153.7,17.0L-153.0,18.0L-153.0,18.0L-152.0,18.7L-151.4,19.0L-151.0,19.2L-150.0,20.0L-150.0,20.0L-149.2,21.0L-149.0,21.4L-148.6,22.0L-148.0,22.7L-147.5,23.0L-147.0,23.2L-146.0,23.3L-145.0,23.3L-144.0,23.4L-143.0,23.4L-142.0,23.6L-141.0,23.9L-140.8,24.0L-140.0,24.5L-139.5,25.0L-139.0,25.7L-138.8,26.0L-138.3,27.0L-138.0,27.4L-137.3,28.0L-137.0,28.1L-136.0,28.3L-135.0,28.3L-134.0,28.4L-133.0,28.4L-132.0,28.6L-131.0,28.9L-130.8,29.0L-130.0,29.5L-129.5,30.0L-129.0,30.7L-128.8,31.0L-128.3,32.0L-128.0,32.4L-127.3,33.0L-127.0,33.1L-126.0,33.3L-125.0,33.3L-124.0,33.4L-123.0,33.4L-122.0,33.4L-121.0,33.5L-120.0,33.7L-119.0,33.8L-118.0,34.0L-117.9,34.0L-117.0,34.1L-116.0,34.1L-115.0,34.1L-114.0,34.1L-113.0,34.1L-112.0,34.1L-111.0,34.1L-110.0,34.1L-109.0,34.2L-108.0,34.2L-107.0,34.4L-106.0,34.7L-105.0,35.0L-105.0,35.0L-104.0,35.3L-103.0,35.6L-102.0,35.9L-101.7,36.0L-101.0,36.2L-100.0,36.5L-99.0,36.8L-98.4,37.0L-98.0,37.2L-97.0,37.5L-96.0,37.9L-95.8,38.0L-95.0,38.3L-94.0,38.6L-93.0,39.0L-92.9,39.0L-92.0,39.2L-91.0,39.5L-90.0,39.6L-89.0,39.8L-88.0,39.9L-87.5,40.0L-87.0,40.1L-86.0,40.2L-85.0,40.4L-84.0,40.5L-83.0,40.7L-82.0,41.0L-81.8,41.0L-81.0,41.2L-80.0,41.5L-79.0,41.9L-78.6,42.0L-78.0,42.2L-77.0,42.4L-76.0,42.5L-75.0,42.5L-74.0,42.5L-73.0,42.5L-72.0,42.5L-71.0,42.4L-70.0,42.3L-69.0,42.1L-68.7,42.0L-68.0,41.4L-67.8,41.0L-67.5,40.0L-67.3,39.0L-67.0,38.4L-66.8,38.0L-66.0,37.2L-65.8,37.0L-65.0,36.3L-64.6,36.0L-64.0,35.4L-63.7,35.0L-63.0,34.1L-62.9,34.0L-62.1,33.0L-62.0,32.9L-61.0,32.3L-60.5,32.0L-60.0,31.8L-59.0,31.4L-58.0,31.1L-57.4,31.0L-57.0,30.9L-56.0,30.9L-55.0,30.9L-54.0,30.9L-53.0,30.9L-52.0,30.9L-51.0,30.9L-50.0,30.9L-49.0,30.9L-48.0,30.9L-47.0,30.9L-46.0,30.9L-45.0,30.9L-44.0,30.9L-43.0,30.8L-42.0,30.6L-41.0,30.1L-40.9,30.0L-40.0,29.1L-39.9,29.0L-39.4,28.0L-39.2,27.0L-39.1,26.0L-39.1,25.0L-39.1,24.0L-39.0,23.1L-39.0,23.0L-38.5,22.0L-38.0,21.5L-37.3,21.0L-37.0,20.8L-36.0,20.4L-35.0,20.0L-35.0,20.0L-34.0,19.4L-33.4,19.0L-33.0,18.6L-32.0,18.0L-32.0,18.0L-31.0,17.8L-30.0,17.7L-29.0,17.7L-28.0,17.7L-27.0,17.7L-26.0,17.7L-25.0,17.7L-24.0,17.7L-23.0,17.7L-22.0,17.7L-21.0,17.7L-20.0,17.7L-19.0,17.7L-18.0,17.7L-17.0,17.7L-16.0,17.6L-15.0,17.5L-14.0,17.5L-13.0,17.3L-12.0,17.0L-11.9,17.0L-11.0,16.6L-10.0,16.3L-9.1,16.0L-9.0,16.0L-8.0,15.7L-7.0,15.5L-6.0,15.3L-5.0,15.1L-4.5,15.0L-4.0,14.9L-3.0,14.8L-2.0,14.6L-1.0,14.5L0.0,14.3L1.0,14.1L1.3,14.0L2.0,13.9L3.0,13.9L3.6,14.0L4.0,14.1L5.0,14.3L6.0,14.5L7.0,14.6L8.0,14.7L9.0,14.7L10.0,14.7L11.0,14.7L12.0,14.7L13.0,14.6L14.0,14.5L15.0,14.3L16.0,14.0L16.3,14.0L17.0,13.8L18.0,13.7L19.0,13.7L20.0,13.7L21.0,13.7L22.0,13.7L23.0,13.7L24.0,13.7L25.0,13.7L26.0,13.6L27.0,13.7L28.0,13.7L29.0,13.8L30.0,13.9L30.5,14.0L31.0,14.1L32.0,14.2L33.0,14.3L34.0,14.4L35.0,14.4L36.0,14.4L37.0,14.3L38.0,14.2L39.0,14.1L39.4,14.0L40.0,13.9L41.0,13.8L42.0,13.7L43.0,13.6L44.0,13.6L45.0,13.6L46.0,13.6L47.0,13.6L48.0,13.6L49.0,13.6L50.0,13.6L51.0,13.6L52.0,13.4L52.9,13.0L53.0,12.9L53.9,12.0L54.0,11.9L55.0,11.0L55.0,11.0L56.0,10.4L56.7,10.0L57.0,9.9L58.0,9.4L58.6,9.0L59.0,8.6L59.4,8.0L60.0,7.0L60.0,7.0L60.8,6.0L61.0,5.8L62.0,5.3L63.0,5.3L64.0,6.0L64.0,6.0L64.6,7.0L64.8,8.0L64.8,9.0L64.6,10.0L64.5,11.0L64.3,12.0L64.3,13.0L64.4,14.0L64.5,15.0L64.7,16.0L64.8,17.0L64.9,18.0L65.0,19.0L65.0,19.8L65.0,20.0L65.0,21.0L65.2,22.0L65.6,23.0L66.0,23.6L66.4,24.0L67.0,24.6L67.5,25.0L68.0,25.4L68.6,26.0L69.0,26.4L69.5,27.0L70.0,27.7L70.2,28.0L71.0,28.9L71.1,29.0L72.0,29.6L73.0,29.9L74.0,30.0L75.0,30.0L76.0,30.0L77.0,30.0L78.0,30.0L79.0,30.0L80.0,30.0L81.0,30.0L82.0,29.9L83.0,29.8L84.0,29.7L85.0,29.5L86.0,29.3L87.0,29.2L88.0,29.0L88.0,29.0L89.0,28.7L90.0,28.4L91.0,28.0L91.1,28.0L92.0,27.6L93.0,27.3L94.0,27.2L95.0,27.2L96.0,27.2L97.0,27.2L98.0,27.2L99.0,27.3L100.0,27.3L101.0,27.4L102.0,27.5L103.0,27.5L104.0,27.7L105.0,27.8L105.9,28.0L106.0,28.1L107.0,28.9L107.1,29.0L107.5,30.0L108.0,31.0L108.0,31.0L109.0,31.6L110.0,31.9L110.4,32.0L111.0,32.1L112.0,32.3L113.0,32.7L113.6,33.0L114.0,33.2L115.0,33.7L115.6,34.0L116.0,34.2L117.0,34.6L118.0,34.9L119.0,35.0L120.0,35.0L121.0,35.0L122.0,35.0L123.0,35.0L124.0,35.0L125.0,35.0L125.0,35.0L126.0,35.0L127.0,35.1L128.0,35.2L129.0,35.5L130.0,35.8L130.4,36.0L131.0,36.3L132.0,36.8L132.7,37.0L133.0,37.1L134.0,37.2L135.0,37.2L136.0,37.2L137.0,37.2L138.0,37.2L139.0,37.3L140.0,37.3L141.0,37.4L142.0,37.3L142.8,37.0L143.0,36.9L144.0,36.4L144.7,36.0L145.0,35.9L146.0,35.4L147.0,35.1L147.2,35.0L148.0,34.6L148.9,34.0L149.0,33.9L149.7,33.0L150.0,32.5L150.3,32.0L151.0,31.1L151.2,31.0L152.0,30.4L153.0,30.1L154.0,30.0L154.9,30.0L155.0,30.0L156.0,30.0L157.0,29.8L158.0,29.2L158.3,29.0L159.0,28.3L159.3,28.0L160.0,27.2L160.1,27.0L161.0,26.0L161.0,26.0L162.0,25.3L162.4,25.0L163.0,24.7L164.0,24.4L165.0,24.1L165.3,24.0L166.0,23.8L167.0,23.5L168.0,23.0L168.0,23.0L169.0,22.0L169.0,22.0L170.0,21.1L170.2,21.0L171.0,20.5L172.0,20.1L172.7,20.0L173.0,20.0L174.0,19.9L175.0,19.9L176.0,19.9L177.0,19.8L178.0,19.5L178.8,19.0L179.0,18.8L180.0,18.0L180.0,18.0L180.0,18.0L180.0,19.0L180.0,20.0L180.0,20.9L179.8,21.0L179.0,21.2L178.0,21.5L177.0,21.6L176.0,21.6L175.0,21.6L174.0,21.6L173.0,21.8L172.3,22.0L172.0,22.2L171.1,23.0L171.0,23.1L170.4,24.0L170.0,24.5L169.5,25.0L169.0,25.3L168.0,25.9L167.6,26.0L167.0,26.3L166.0,26.8L165.7,27.0L165.0,27.6L164.5,28.0L164.0,28.5L163.5,29.0L163.0,29.4L162.3,30.0L162.0,30.3L161.2,31.0L161.0,31.2L160.3,32.0L160.0,32.3L159.4,33.0L159.0,33.5L158.4,34.0L158.0,34.3L157.0,34.9L156.9,35.0L156.0,35.6L155.6,36.0L155.0,37.0L155.0,37.1L154.8,38.0L154.7,39.0L154.7,40.0L154.6,41.0L154.5,42.0L154.2,43.0L154.0,43.3L153.3,44.0L153.0,44.2L152.0,44.6L151.0,44.7L150.0,44.8L149.0,44.9L148.0,44.9L147.0,45.0L146.0,45.0L145.1,45.0L145.0,45.0L145.0,45.0L144.0,45.0L143.0,44.9L142.0,44.8L141.0,44.5L140.0,44.2L139.6,44.0L139.0,43.7L138.0,43.2L137.3,43.0L137.0,42.9L136.0,42.8L135.0,42.8L134.0,42.8L133.0,42.8L132.0,42.8L131.0,42.7L130.0,42.7L129.0,42.6L128.0,42.4L127.1,42.0L127.0,42.0L126.0,41.4L125.3,41.0L125.0,40.9L124.0,40.5L123.0,40.2L122.0,40.1L121.0,40.0L120.0,40.0L119.8,40.0L119.0,40.0L118.0,39.9L117.0,39.8L116.0,39.6L115.0,39.2L114.6,39.0L114.0,38.7L113.0,38.3L112.2,38.0L112.0,37.9L111.0,37.8L110.0,37.8L109.0,37.8L108.0,37.8L107.0,37.7L106.0,37.6L105.0,37.5L104.0,37.4L103.0,37.1L102.6,37.0L102.0,36.7L101.1,36.0L101.0,36.0L100.0,35.0L100.0,35.0L99.0,34.1L98.9,34.0L98.0,33.3L97.2,33.0L97.0,32.9L96.0,32.8L95.0,32.8L94.0,32.8L93.0,32.8L92.0,32.8L91.0,32.9L90.0,32.9L89.0,32.9L88.4,33.0L88.0,33.1L87.0,33.3L86.0,33.8L85.4,34.0L85.0,34.2L84.0,34.5L83.0,34.7L82.0,34.6L81.0,34.4L80.0,34.2L79.2,34.0L79.0,34.0L78.0,33.9L77.0,33.9L76.0,34.0L75.8,34.0L75.0,34.2L74.0,34.4L73.0,34.8L72.5,35.0L72.0,35.3L71.1,36.0L71.0,36.2L70.5,37.0L70.3,38.0L70.5,39.0L70.8,40.0L71.0,40.5L71.2,41.0L71.4,42.0L71.3,43.0L71.0,43.8L70.9,44.0L70.0,45.0L70.0,45.0L69.0,46.0L69.0,46.0L68.2,47.0L68.0,48.0L68.0,48.0L68.0,48.0L68.5,49.0L69.0,49.7L69.2,50.0L69.9,51.0L70.0,51.1L70.7,52.0L71.0,52.4L71.6,53.0L72.0,53.3L73.0,53.7L74.0,53.8L75.0,53.8L76.0,53.8L77.0,53.8L78.0,53.8L79.0,53.9L80.0,53.9L81.0,53.9L82.0,53.9L83.0,53.9L84.0,53.9L85.0,53.9L86.0,53.9L86.9,54.0L87.0,54.0L88.0,54.3L89.0,54.7L90.0,55.0L90.0,55.0L91.0,55.3L92.0,55.5L93.0,55.6L94.0,55.6L95.0,55.6L96.0,55.6L97.0,55.7L98.0,55.9L98.4,56.0L99.0,56.3L100.0,56.8L100.3,57.0L101.0,57.6L101.5,58.0L102.0,58.4L103.0,58.8L104.0,59.0L105.0,59.0L106.0,59.0L106.0,59.0L107.0,59.0L108.0,59.0L109.0,59.0L110.0,59.0L111.0,59.0L112.0,59.0L113.0,59.0L114.0,59.0L115.0,59.0L116.0,59.0L117.0,59.0L118.0,59.0L119.0,59.0L119.1,59.0L120.0,59.0L121.0,59.0L122.0,58.8L123.0,58.4L123.6,58.0L124.0,57.6L124.6,57.0L125.0,56.6L125.5,56.0L126.0,55.5L126.7,55.0L127.0,54.7L128.0,54.2L129.0,54.0L129.8,54.0L130.0,54.0L131.0,54.0L132.0,54.0L133.0,54.0L134.0,54.0L135.0,54.0L136.0,54.0L137.0,54.0L138.0,54.0L139.0,54.0L140.0,54.0L140.6,54.0L141.0,54.0L142.0,54.1L143.0,54.3L144.0,54.6L145.0,54.9L145.4,55.0L146.0,55.2L147.0,55.3L148.0,55.5L149.0,55.6L150.0,55.6L151.0,55.7L152.0,55.8L152.9,56.0L153.0,56.0L154.0,56.5L154.9,57.0L155.0,57.1L155.7,58.0L156.0,59.0L156.0,59.3L156.0,60.0L156.0,61.0L156.0,61.1L155.9,62.0L155.6,63.0L155.2,64.0L155.0,64.5L154.8,65.0L154.5,66.0L154.3,67.0L154.0,68.0L154.0,68.0L153.6,69.0L153.0,69.9L152.9,70.0L152.0,70.7L151.0,71.0L150.7,71.0L150.0,71.0L149.0,71.0L148.0,71.0L147.0,71.0L146.0,71.0L145.0,71.0L144.0,71.0L143.0,71.0L142.0,71.0L141.0,71.0L140.0,71.0L139.0,71.0L138.0,71.0L137.0,71.0L136.0,71.0L135.0,71.0L134.0,71.0L133.0,71.0L132.0,71.0L131.0,71.0L130.0,71.0L129.0,71.0L128.6,71.0L128.0,71.0L127.0,70.8L126.0,70.3L125.5,70.0L125.0,69.5L124.6,69.0L124.0,68.0L124.0,67.9L123.3,67.0L123.0,66.7L122.0,66.2L121.0,66.1L120.0,66.0L119.0,66.0L118.0,66.0L117.0,66.0L116.0,66.1L115.0,66.1L114.0,66.1L113.0,66.1L112.0,66.1L111.0,66.1L110.0,66.1L109.0,66.1L108.0,66.3L107.0,67.0L107.0,68.0L108.0,68.7L109.0,68.9L110.0,68.9L111.0,68.9L112.0,69.0L112.0,69.0L113.0,69.2L114.0,69.6L114.5,70.0L115.0,70.5L115.3,71.0L115.8,72.0L116.0,73.0L116.0,73.6L116.0,74.0L116.0,75.0L116.0,75.1L115.8,76.0L115.0,76.7L114.6,77.0L114.0,77.1L113.0,77.1L112.8,77.0L112.0,76.2L111.9,76.0L111.4,75.0L111.0,74.4L110.5,74.0L110.0,73.6L109.0,73.2L108.3,73.0L108.0,72.9L107.0,72.7L106.0,72.7L105.0,72.7L104.0,72.8L103.0,72.8L102.0,72.8L101.0,72.7L100.0,72.7L99.0,72.7L98.0,72.7L97.0,72.6L96.0,72.6L95.0,72.6L94.0,72.6L93.0,72.7L92.0,72.8L91.3,73.0L91.0,73.1L90.0,73.4L89.2,74.0L89.0,74.2L88.4,75.0L88.0,76.0L88.0,76.0L87.4,77.0L87.0,77.4L86.0,78.0L86.0,78.0L85.0,78.4L84.1,79.0L84.0,79.1L83.0,79.6L82.7,79.0L82.5,78.0L82.2,77.0L82.0,76.2L82.0,76.0L81.6,75.0L81.0,74.2L80.8,74.0L80.0,73.4L79.0,73.1L78.7,73.0L78.0,72.8L77.0,72.7L76.0,72.6L75.0,72.6L74.0,72.6L73.0,72.6L72.0,72.6L71.0,72.6L70.0,72.6L69.0,72.6L68.0,72.3L67.5,72.0L67.0,71.4L66.8,71.0L66.3,70.0L66.0,69.6L65.3,69.0L65.0,68.8L64.0,68.3L63.0,68.1L62.0,68.0L62.0,68.0L61.0,67.9L60.0,67.9L59.0,67.9L58.0,67.9L57.1,68.0L57.0,68.0L56.0,68.2L55.0,68.6L54.5,69.0L54.0,69.5L53.6,70.0L53.2,71.0L53.0,71.3L52.5,72.0L52.0,72.4L51.0,73.0L51.0,73.0L50.0,73.4L49.2,74.0L49.0,74.2L48.4,75.0L48.0,76.0L48.0,76.0L47.4,77.0L47.0,77.4L46.0,78.0L46.0,78.0L45.0,78.4L44.2,79.0L44.0,79.2L43.4,80.0L43.1,81.0L43.0,81.3L42.8,82.0L42.8,83.0L42.8,84.0L42.8,85.0L42.9,86.0L43.0,87.0L43.0,88.0L43.0,89.0L43.0,89.4L43.0,90.0L43.0,90.0L42.0,90.0L41.0,90.0L40.0,90.0L39.0,90.0L38.0,90.0L37.0,90.0L36.0,90.0L35.0,90.0L34.0,90.0L33.0,90.0L32.0,90.0L31.0,90.0L30.0,90.0L29.0,90.0L28.0,90.0L27.0,90.0L26.0,90.0L25.0,90.0L24.0,90.0L23.0,90.0L22.0,90.0L21.0,90.0L20.0,90.0L19.0,90.0L18.0,90.0L17.0,90.0L16.0,90.0L15.0,90.0L14.0,90.0L13.0,90.0L12.0,90.0L11.0,90.0L10.0,90.0L9.0,90.0L8.0,90.0L7.0,90.0L6.0,90.0L5.0,90.0L4.0,90.0L3.0,90.0L2.0,90.0L1.0,90.0L0.0,90.0L-1.0,90.0L-2.0,90.0L-3.0,90.0L-4.0,90.0L-5.0,90.0L-6.0,90.0L-7.0,90.0L-8.0,90.0L-8.7,90.0L-8.7,89.0L-8.7,88.0L-8.7,87.0L-8.7,86.0L-8.7,85.0L-8.7,84.0L-8.8,83.0L-9.0,82.0L-9.0,81.8L-9.5,81.0L-10.0,80.0L-10.0,79.4L-10.1,79.0L-10.2,78.0L-10.5,77.0L-10.9,76.0L-11.0,75.6L-12.0,75.1L-12.5,75.0L-13.0,75.0L-14.0,75.0L-15.0,74.9L-16.0,74.2L-16.1,74.0L-17.0,73.7L-18.0,73.1L-18.3,73.0L-19.0,72.8L-20.0,72.6L-21.0,72.5L-22.0,72.4L-23.0,72.3L-24.0,72.2L-25.0,72.0L-25.3,72.0L-26.0,71.8L-27.0,71.7L-27.8,72.0L-28.0,72.0L-29.0,72.6L-29.4,73.0L-30.0,73.3L-31.0,73.9L-31.1,74.0L-32.0,74.5L-33.0,74.8L-34.0,75.0L-35.0,75.0L-36.0,75.0L-37.0,74.9L-38.0,74.8L-39.0,74.5L-40.0,74.1L-40.3,74.0L-41.0,73.5L-41.8,73.0L-42.0,72.7L-42.9,72.0L-43.0,71.7L-43.9,71.0L-44.0,70.5L-44.4,70.0L-44.0,69.8L-43.3,69.0L-43.0,68.9L-42.0,68.4L-41.0,68.0L-41.0,68.0L-40.0,67.8L-39.0,67.7L-38.0,67.6L-37.0,67.5L-36.0,67.5L-35.0,67.5L-34.0,67.5L-33.0,67.5L-32.0,67.6L-31.0,67.7L-30.0,67.8L-29.0,67.9L-28.0,67.6L-27.6,67.0L-27.0,66.4L-26.8,66.0L-26.0,65.2L-25.9,65.0L-25.0,64.1L-24.8,64.0L-24.0,63.2L-23.7,63.0L-23.0,62.3L-22.4,62.0L-22.0,61.4L-21.2,61.0L-21.0,60.5L-20.1,60.0L-20.4,59.0L-21.0,58.6L-21.1,58.0L-21.6,57.0L-22.0,56.0L-22.0,56.0L-22.2,55.0L-22.4,54.0L-22.6,53.0L-23.0,52.2L-23.1,52.0L-23.6,51.0L-24.0,50.3L-24.1,50.0L-24.6,49.0L-24.9,48.0L-25.0,47.8L-25.4,47.0L-26.0,46.1L-26.1,46.0L-27.0,45.3L-27.5,45.0L-28.0,44.7L-28.9,44.0L-29.0,43.9L-29.8,43.0L-30.0,42.8L-30.8,42.0L-31.0,41.8L-32.0,41.2L-32.6,41.0L-33.0,40.9L-34.0,40.7L-35.0,40.5L-36.0,40.4L-37.0,40.3L-38.0,40.5L-38.8,41.0L-39.0,41.1L-39.7,42.0L-40.0,42.5L-40.3,43.0L-41.0,43.9L-41.1,44.0L-42.0,44.7L-42.5,45.0L-43.0,45.3L-43.9,46.0L-44.0,46.2L-44.6,47.0L-44.9,48.0L-45.0,49.0L-45.0,49.9L-45.0,50.0L-45.0,51.0L-45.2,52.0L-46.0,53.0L-46.0,53.0L-47.0,53.4L-48.0,53.6L-49.0,53.6L-50.0,53.7L-51.0,53.7L-52.0,53.7L-53.0,53.8L-53.6,54.0L-54.0,54.1L-55.0,54.5L-55.9,55.0L-56.0,55.1L-57.0,55.9L-57.1,56.0L-58.0,56.6L-59.0,56.8L-60.0,56.7L-61.0,56.5L-62.0,56.3L-63.0,56.3L-64.0,56.7L-64.8,57.0L-65.0,57.0L-66.0,57.4L-66.9,58.0L-67.0,58.2L-67.4,59.0L-67.7,60.0L-67.8,61.0L-67.8,62.0L-67.6,63.0L-67.3,64.0L-67.0,64.8L-67.0,65.0L-66.7,66.0L-66.3,67.0L-66.0,67.6L-65.8,68.0L-65.4,69.0L-65.0,70.0L-65.0,70.0L-64.7,71.0L-64.6,72.0L-64.7,73.0L-65.0,73.8L-65.1,74.0L-65.9,75.0L-66.0,75.1L-67.0,75.8L-67.5,76.0L-68.0,76.2L-69.0,76.5L-70.0,76.8L-70.6,77.0L-71.0,77.2L-72.0,77.6L-73.0,77.8L-74.0,77.9L-75.0,77.9L-76.0,77.9L-77.0,77.9L-78.0,77.9L-79.0,77.9L-80.0,77.8L-81.0,77.7L-82.0,77.6L-83.0,77.6L-84.0,77.6L-85.0,77.7L-86.0,77.7L-87.0,77.8L-88.0,77.8L-89.0,77.8L-90.0,77.8L-91.0,77.8L-92.0,77.8L-93.0,77.9L-94.0,77.9L-94.5,78.0L-95.0,78.1L-96.0,78.3L-97.0,78.7L-98.0,79.0L-98.0,79.0L-99.0,79.8L-99.7,80.0L-100.0,80.2L-100.6,81.0L-101.0,81.2L-101.6,82.0L-102.0,82.3L-102.7,83.0L-103.0,83.4L-103.8,84.0L-104.0,84.4L-104.8,85.0L-105.0,86.0L-105.0,86.0L-105.1,87.0L-105.4,88.0L-105.9,89.0L-106.0,89.9L-106.1,90.0L-107.0,90.0L-108.0,90.0L-109.0,90.0L-110.0,90.0L-111.0,90.0L-112.0,90.0L-113.0,90.0L-114.0,90.0L-115.0,90.0L-116.0,90.0L-117.0,90.0L-117.8,90.0L-117.8,89.0L-117.8,88.0L-117.7,87.0L-117.7,86.0L-117.5,85.0L-117.2,84.0L-117.0,83.5L-116.6,83.0L-116.0,82.6L-115.0,82.2L-114.5,82.0L-114.0,81.7L-113.3,81.0L-113.0,80.5L-112.8,80.0L-112.4,79.0L-112.0,78.4L-111.6,78.0L-111.0,77.6L-110.0,77.2L-109.5,77.0L-109.0,76.7L-108.3,76.0L-108.0,75.5L-107.8,75.0L-107.4,74.0L-107.0,73.4L-106.5,73.0L-106.0,72.8L-105.0,72.5L-104.0,72.3L-103.0,72.3L-102.0,72.2L-101.0,72.2L-100.0,72.2L-99.0,72.2L-98.0,72.2L-97.0,72.1L-96.0,72.1L-95.5,72.0L-95.0,71.9L-94.0,71.7L-93.0,71.3L-92.0,71.0L-92.0,71.0L-91.0,70.2L-90.3,70.0L-90.0,69.1L-89.9,69.0L-89.7,68.0L-89.4,67.0L-89.1,66.0L-89.0,65.1L-88.9,65.0L-88.1,64.0L-88.0,63.0L-88.0,62.0L-88.0,62.0L-87.0,62.0L-86.2,61.0L-86.0,61.0L-85.4,60.0L-85.0,59.9L-84.6,59.0L-84.0,58.6L-83.8,58.0L-83.3,57.0L-83.0,56.5L-82.9,56.0L-82.5,55.0L-82.1,54.0L-82.0,53.9L-81.1,53.0L-81.0,52.9L-80.0,52.5L-79.0,52.1L-78.9,52.0L-78.0,51.1L-77.9,51.0L-77.5,50.0L-77.3,49.0L-77.7,48.0L-78.0,47.8L-78.9,47.0L-79.0,47.0L-80.0,46.4L-80.6,46.0L-81.0,45.8L-82.0,45.3L-82.5,45.0L-83.0,44.8L-84.0,44.3L-84.5,44.0L-85.0,43.8L-86.0,43.4L-87.0,43.0L-87.1,43.0L-88.0,42.8L-89.0,42.7L-90.0,42.7L-91.0,42.6L-92.0,42.5L-93.0,42.3L-94.0,42.0L-94.0,42.0L-95.0,41.7L-96.0,41.3L-97.0,41.0L-97.0,41.0L-98.0,40.7L-99.0,40.3L-100.0,40.0L-100.0,40.0L-101.0,39.7L-102.0,39.3L-103.0,39.0L-103.0,39.0L-104.0,38.7L-105.0,38.3L-106.0,38.0L-106.0,38.0L-107.0,37.7L-108.0,37.6L-109.0,37.5L-110.0,37.5L-111.0,37.5L-112.0,37.5L-113.0,37.5L-114.0,37.5L-115.0,37.5L-116.0,37.5L-117.0,37.4L-118.0,37.1L-118.3,37.0L-119.0,36.7L-120.0,36.3L-120.8,36.0L-121.0,35.9L-122.0,35.7L-123.0,35.6L-124.0,35.5L-125.0,35.5L-126.0,35.5L-127.0,35.4L-128.0,35.2L-128.4,35.0L-129.0,34.6L-129.6,34.0L-130.0,33.5L-130.3,33.0L-131.0,32.0L-131.0,31.9L-132.0,31.0L-132.1,31.0L-133.0,30.7L-134.0,30.5L-135.0,30.5L-136.0,30.5L-137.0,30.4L-138.0,30.2L-138.4,30.0L-139.0,29.6L-139.6,29.0L-140.0,28.5L-140.3,28.0L-141.0,27.0L-141.0,26.9L-142.0,26.0L-142.1,26.0L-143.0,25.7L-144.0,25.5L-145.0,25.5L-146.0,25.5L-147.0,25.5L-148.0,25.3L-149.0,25.1L-149.1,25.0L-150.0,24.5L-150.5,24.0L-151.0,23.4L-151.2,23.0L-152.0,22.0L-152.0,22.0L-153.0,21.3L-153.6,21.0L-154.0,20.8L-155.0,20.0L-155.0,20.0L-155.8,19.0L-156.0,18.6L-156.3,18.0L-157.0,17.0L-157.0,17.0L-158.0,16.3L-158.6,16.0L-159.0,15.8L-160.0,15.0L-160.0,15.0L-160.7,14.0L-161.0,13.3L-161.1,13.0L-161.3,12.0L-161.3,11.0L-161.3,10.0L-161.4,9.0L-161.5,8.0L-162.0,7.1L-162.1,7.0L-163.0,6.3L-163.6,6.0L-164.0,5.8L-165.0,5.0L-165.0,5.0L-165.8,4.0L-166.0,3.6L-166.3,3.0L-167.0,2.0L-167.0,2.0L-168.0,1.3L-168.6,1.0L-169.0,0.8L-170.0,0.0L-170.0,0.0L-170.7,-1.0L-171.0,-1.7L-171.1,-2.0L-171.3,-3.0L-171.3,-4.0L-171.3,-5.0L-171.4,-6.0L-171.5,-7.0L-172.0,-7.9L-172.1,-8.0L-173.0,-8.7L-173.6,-9.0L-174.0,-9.2L-175.0,-10.0L-175.0,-10.0L-175.8,-11.0L-176.0,-11.3L-176.6,-12.0L-177.0,-12.3L-177.5,-12.0L-178.0,-11.1L-178.0,-11.0L-178.1,-10.0L-178.1,-9.0L-178.1,-8.0L-178.2,-7.0L-178.2,-6.0L-178.2,-5.0L-178.2,-4.0L-178.2,-3.0L-178.2,-2.0L-178.2,-1.0L-178.2,0.0L-178.2,1.0L-178.2,2.0L-178.2,3.0L-178.2,4.0L-178.2,5.0L-178.2,6.0L-178.2,7.0L-178.2,8.0L-178.2,9.0L-178.2,10.0L-178.2,11.0L-178.2,12.0L-178.2,13.0L-178.2,14.0L-178.2,15.0L-178.2,16.0L-178.2,17.0L-178.4,18.0L-178.7,19.0L-179.0,19.5L-179.5,20.0L-180.0,20.4L-180.0,20.0L-180.0,19.0L-180.0,18.0L-180.0,17.0L-180.0,16.0L-180.0,15.0L-180.0,14.0L-180.0,13.0L-180.0,12.0L-180.0,11.0L-180.0,10.0L-180.0,9.0L-180.0,8.0L-180.0,7.0L-180.0,6.0L-180.0,5.0L-180.0,4.0L-180.0,3.0L-180.0,2.0L-180.0,1.0L-180.0,0.0L-180.0,-1.0L-180.0,-2.0L-180.0,-3.0L-180.0,-4.0L-180.0,-5.0L-180.0,-6.0L-180.0,-7.0L-180.0,-8.0L-180.0,-9.0L-180.0,-10.0L-180.0,-11.0L-180.0,-12.0L-180.0,-13.0L-180.0,-13.5L-179.6,-14.0L-179.0,-14.7L-178.7,-15.0ZM-4.2,18.0L-5.0,18.2L-6.0,18.4L-7.0,18.7L-8.0,19.0L-8.0,19.0L-9.0,19.4L-10.0,20.0L-10.0,20.0L-11.0,20.8L-11.3,21.0L-12.0,21.9L-12.2,22.0L-12.7,23.0L-12.8,24.0L-12.8,25.0L-12.7,26.0L-12.6,27.0L-12.6,28.0L-12.7,29.0L-12.8,30.0L-13.0,31.0L-13.0,31.0L-13.4,32.0L-13.9,33.0L-14.0,33.6L-14.6,34.0L-15.0,34.8L-16.0,35.0L-17.0,35.0L-17.2,35.0L-18.0,35.0L-19.0,35.1L-19.9,36.0L-20.0,37.0L-20.0,38.0L-20.0,39.0L-20.0,40.0L-20.0,41.0L-19.9,42.0L-19.5,43.0L-19.0,43.8L-18.8,44.0L-18.0,44.6L-17.0,44.9L-16.0,45.0L-15.0,45.0L-14.9,45.0L-14.0,45.0L-13.0,45.1L-12.0,45.4L-11.2,46.0L-11.0,46.1L-10.3,47.0L-10.0,47.5L-9.7,48.0L-9.0,48.9L-8.9,49.0L-8.0,49.6L-7.2,50.0L-7.0,50.1L-6.0,50.3L-5.0,50.5L-4.0,50.7L-3.0,50.9L-2.7,51.0L-2.0,51.3L-1.0,52.0L-1.0,52.0L-0.1,53.0L0.0,53.2L0.4,54.0L0.9,55.0L1.0,55.3L1.4,56.0L2.0,56.9L2.2,57.0L3.0,58.0L3.0,58.0L4.0,59.0L4.0,59.0L5.0,60.0L5.0,60.0L6.0,61.0L6.0,61.0L7.0,62.0L8.0,62.0L9.0,62.0L10.0,62.0L11.0,62.0L12.0,62.0L13.0,62.0L14.0,62.0L15.0,62.0L16.0,62.0L17.0,62.0L18.0,62.0L18.0,62.0L18.0,63.0L19.0,63.0L20.0,63.7L20.2,64.0L21.0,64.1L22.0,64.4L23.0,64.7L24.0,64.9L25.0,64.9L26.0,65.0L27.0,65.0L27.5,65.0L28.0,65.0L29.0,65.0L30.0,65.1L31.0,65.1L32.0,65.3L33.0,65.6L34.0,65.9L35.0,65.3L35.0,65.0L36.0,64.3L36.1,64.0L37.0,63.4L37.2,63.0L38.0,62.4L38.4,62.0L39.0,61.6L39.7,61.0L40.0,60.8L41.0,60.1L41.1,60.0L42.0,59.5L43.0,59.1L43.9,59.0L44.0,59.0L45.0,59.0L46.0,59.0L47.0,59.0L48.0,59.0L49.0,58.9L50.0,58.9L51.0,58.9L52.0,58.7L53.0,58.0L53.0,58.0L53.0,57.0L53.0,57.0L52.0,56.0L52.0,56.0L51.0,55.4L50.5,55.0L50.0,54.5L49.7,54.0L49.2,53.0L49.0,52.0L49.0,51.3L49.0,51.0L49.0,50.0L48.8,49.0L48.0,48.3L47.5,48.0L47.0,47.9L46.0,47.0L46.0,47.0L45.9,46.0L45.9,45.0L45.9,44.0L45.8,43.0L45.8,42.0L45.7,41.0L45.5,40.0L45.4,39.0L45.3,38.0L45.4,37.0L45.8,36.0L46.0,35.6L46.3,35.0L47.0,34.0L47.0,34.0L48.0,33.1L48.3,33.0L49.0,32.8L50.0,32.7L51.0,32.6L52.0,32.5L53.0,32.5L54.0,32.3L55.0,32.2L55.9,32.0L56.0,31.9L57.0,31.1L57.1,31.0L57.5,30.0L57.9,29.0L58.0,28.8L58.7,28.0L59.0,27.7L59.7,27.0L60.0,26.0L60.0,25.0L60.0,24.0L59.9,23.0L59.8,22.0L59.5,21.0L59.1,20.0L59.0,19.7L58.6,19.0L58.0,18.2L57.8,18.0L57.0,17.4L56.0,17.4L55.0,17.6L54.0,17.8L53.0,17.8L52.0,17.8L51.0,17.8L50.0,17.7L49.0,17.7L48.0,17.7L47.0,17.7L46.0,17.7L45.0,17.7L44.0,17.8L43.0,17.9L42.7,18.0L42.0,18.2L41.0,18.5L40.0,18.8L39.0,18.9L38.5,19.0L38.0,19.0L37.0,19.1L36.2,19.0L36.0,19.0L35.0,18.9L34.0,18.8L33.0,18.7L32.0,18.6L31.0,18.4L30.0,18.1L29.4,18.0L29.0,17.9L28.0,17.6L27.0,17.5L26.0,17.4L25.0,17.4L24.0,17.4L23.0,17.4L22.0,17.4L21.0,17.4L20.0,17.4L19.0,17.4L18.0,17.4L17.0,17.5L16.0,17.5L15.0,17.5L14.0,17.5L13.0,17.6L12.0,17.6L11.0,17.6L10.0,17.6L9.0,17.6L8.0,17.6L7.0,17.6L6.0,17.5L5.0,17.5L4.0,17.5L3.0,17.5L2.0,17.5L1.0,17.5L0.0,17.5L-1.0,17.6L-2.0,17.6L-3.0,17.8L-4.0,18.0ZM-74.3,69.0L-75.0,69.1L-76.0,69.4L-77.0,69.7L-77.8,70.0L-78.0,70.1L-79.0,70.8L-79.2,71.0L-79.5,72.0L-79.0,73.0L-79.0,73.0L-78.0,73.8L-77.7,74.0L-77.0,74.3L-76.0,74.7L-75.0,75.0L-75.0,75.0L-74.0,75.2L-73.0,75.3L-72.0,75.3L-71.0,75.2L-70.0,75.0L-70.0,75.0L-69.0,74.8L-68.0,74.5L-67.0,74.0L-67.0,74.0L-66.2,73.0L-66.0,72.0L-66.3,71.0L-66.9,70.0L-67.0,69.8L-68.0,69.0L-68.0,69.0L-69.0,68.7L-70.0,68.7L-71.0,68.7L-72.0,68.7L-73.0,68.8L-74.0,68.9Z" fill="#eca050" stroke="#eca050" stroke-width="0.15"/><path d="M-63.0,-18.4L-62.0,-18.8L-61.0,-18.9L-60.0,-18.8L-59.0,-18.6L-58.0,-18.5L-57.0,-18.3L-56.0,-18.0L-56.0,-18.0L-55.0,-17.5L-54.2,-17.0L-54.0,-16.7L-53.7,-16.0L-53.5,-15.0L-53.5,-14.0L-53.5,-13.0L-53.5,-12.0L-53.5,-11.0L-53.5,-10.0L-53.5,-9.0L-53.5,-8.0L-53.7,-7.0L-54.0,-6.0L-54.0,-5.9L-54.5,-5.0L-55.0,-4.6L-56.0,-4.0L-56.1,-4.0L-57.0,-3.8L-58.0,-3.7L-59.0,-3.7L-60.0,-3.7L-61.0,-3.7L-62.0,-3.7L-63.0,-3.8L-63.9,-4.0L-64.0,-4.0L-65.0,-4.6L-65.5,-5.0L-66.0,-6.0L-66.0,-6.0L-66.3,-7.0L-66.4,-8.0L-66.4,-9.0L-66.4,-10.0L-66.3,-11.0L-66.1,-12.0L-66.0,-12.3L-65.7,-13.0L-65.2,-14.0L-65.0,-14.6L-64.9,-15.0L-64.6,-16.0L-64.3,-17.0L-64.0,-17.4L-63.6,-18.0ZM-177.0,-12.3L-176.6,-12.0L-176.0,-11.3L-175.8,-11.0L-175.0,-10.0L-175.0,-10.0L-174.0,-9.2L-173.6,-9.0L-173.0,-8.7L-172.1,-8.0L-172.0,-7.9L-171.5,-7.0L-171.4,-6.0L-171.3,-5.0L-171.3,-4.0L-171.3,-3.0L-171.1,-2.0L-171.0,-1.7L-170.7,-1.0L-170.0,0.0L-170.0,0.0L-169.0,0.8L-168.6,1.0L-168.0,1.3L-167.0,2.0L-167.0,2.0L-166.3,3.0L-166.0,3.6L-165.8,4.0L-165.0,5.0L-165.0,5.0L-164.0,5.8L-163.6,6.0L-163.0,6.3L-162.1,7.0L-162.0,7.1L-161.5,8.0L-161.4,9.0L-161.3,10.0L-161.3,11.0L-161.3,12.0L-161.1,13.0L-161.0,13.3L-160.7,14.0L-160.0,15.0L-160.0,15.0L-159.0,15.8L-158.6,16.0L-158.0,16.3L-157.0,17.0L-157.0,17.0L-156.3,18.0L-156.0,18.6L-155.8,19.0L-155.0,20.0L-155.0,20.0L-154.0,20.8L-153.6,21.0L-153.0,21.3L-152.0,22.0L-152.0,22.0L-151.2,23.0L-151.0,23.4L-150.5,24.0L-150.0,24.5L-149.1,25.0L-149.0,25.1L-148.0,25.3L-147.0,25.5L-146.0,25.5L-145.0,25.5L-144.0,25.5L-143.0,25.7L-142.1,26.0L-142.0,26.0L-141.0,26.9L-141.0,27.0L-140.3,28.0L-140.0,28.5L-139.6,29.0L-139.0,29.6L-138.4,30.0L-138.0,30.2L-137.0,30.4L-136.0,30.5L-135.0,30.5L-134.0,30.5L-133.0,30.7L-132.1,31.0L-132.0,31.0L-131.0,31.9L-131.0,32.0L-130.3,33.0L-130.0,33.5L-129.6,34.0L-129.0,34.6L-128.4,35.0L-128.0,35.2L-127.0,35.4L-126.0,35.5L-125.0,35.5L-124.0,35.5L-123.0,35.6L-122.0,35.7L-121.0,35.9L-120.8,36.0L-120.0,36.3L-119.0,36.7L-118.3,37.0L-118.0,37.1L-117.0,37.4L-116.0,37.5L-115.0,37.5L-114.0,37.5L-113.0,37.5L-112.0,37.5L-111.0,37.5L-110.0,37.5L-109.0,37.5L-108.0,37.6L-107.0,37.7L-106.0,38.0L-106.0,38.0L-105.0,38.3L-104.0,38.7L-103.0,39.0L-103.0,39.0L-102.0,39.3L-101.0,39.7L-100.0,40.0L-100.0,40.0L-99.0,40.3L-98.0,40.7L-97.0,41.0L-97.0,41.0L-96.0,41.3L-95.0,41.7L-94.0,42.0L-94.0,42.0L-93.0,42.3L-92.0,42.5L-91.0,42.6L-90.0,42.7L-89.0,42.7L-88.0,42.8L-87.1,43.0L-87.0,43.0L-86.0,43.4L-85.0,43.8L-84.5,44.0L-84.0,44.3L-83.0,44.8L-82.5,45.0L-82.0,45.3L-81.0,45.8L-80.6,46.0L-80.0,46.4L-79.0,47.0L-78.9,47.0L-78.0,47.8L-77.7,48.0L-77.3,49.0L-77.5,50.0L-77.9,51.0L-78.0,51.1L-78.9,52.0L-79.0,52.1L-80.0,52.5L-81.0,52.9L-81.1,53.0L-82.0,53.9L-82.1,54.0L-82.5,55.0L-82.9,56.0L-83.0,56.5L-83.3,57.0L-83.8,58.0L-84.0,58.6L-84.6,59.0L-85.0,59.9L-85.4,60.0L-86.0,61.0L-86.2,61.0L-87.0,62.0L-88.0,62.0L-88.0,62.0L-88.0,63.0L-88.1,64.0L-88.9,65.0L-89.0,65.1L-89.1,66.0L-89.4,67.0L-89.7,68.0L-89.9,69.0L-90.0,69.1L-90.3,70.0L-91.0,70.2L-92.0,71.0L-92.0,71.0L-93.0,71.3L-94.0,71.7L-95.0,71.9L-95.5,72.0L-96.0,72.1L-97.0,72.1L-98.0,72.2L-99.0,72.2L-100.0,72.2L-101.0,72.2L-102.0,72.2L-103.0,72.3L-104.0,72.3L-105.0,72.5L-106.0,72.8L-106.5,73.0L-107.0,73.4L-107.4,74.0L-107.8,75.0L-108.0,75.5L-108.3,76.0L-109.0,76.7L-109.5,77.0L-110.0,77.2L-111.0,77.6L-111.6,78.0L-112.0,78.4L-112.4,79.0L-112.8,80.0L-113.0,80.5L-113.3,81.0L-114.0,81.7L-114.5,82.0L-115.0,82.2L-116.0,82.6L-116.6,83.0L-117.0,83.5L-117.2,84.0L-117.5,85.0L-117.7,86.0L-117.7,87.0L-117.8,88.0L-117.8,89.0L-117.8,90.0L-118.0,90.0L-119.0,90.0L-120.0,90.0L-121.0,90.0L-122.0,90.0L-123.0,90.0L-124.0,90.0L-125.0,90.0L-126.0,90.0L-127.0,90.0L-128.0,90.0L-129.0,90.0L-130.0,90.0L-131.0,90.0L-132.0,90.0L-133.0,90.0L-134.0,90.0L-135.0,90.0L-136.0,90.0L-137.0,90.0L-138.0,90.0L-139.0,90.0L-140.0,90.0L-141.0,90.0L-142.0,90.0L-143.0,90.0L-144.0,90.0L-145.0,90.0L-145.0,90.0L-145.0,89.0L-145.0,88.0L-145.0,87.0L-145.0,86.0L-145.0,85.0L-145.0,84.0L-145.0,83.0L-145.0,82.0L-145.0,81.0L-145.0,80.0L-145.0,79.0L-145.0,78.0L-145.0,77.0L-145.0,76.0L-145.0,75.0L-145.0,74.0L-145.0,73.0L-145.0,72.0L-145.0,71.0L-145.0,70.0L-145.0,69.0L-145.0,68.0L-145.0,67.0L-145.0,66.0L-145.0,65.0L-145.0,64.0L-145.6,63.0L-146.0,62.8L-147.0,62.9L-147.2,63.0L-148.0,63.4L-148.5,64.0L-149.0,64.8L-149.1,65.0L-149.5,66.0L-149.8,67.0L-149.9,68.0L-150.0,69.0L-150.0,70.0L-150.0,71.0L-150.0,72.0L-150.0,73.0L-150.0,74.0L-150.0,75.0L-150.0,76.0L-150.0,77.0L-150.0,78.0L-150.0,79.0L-150.0,80.0L-150.0,81.0L-150.0,82.0L-150.0,83.0L-150.0,84.0L-150.0,85.0L-150.0,86.0L-150.0,87.0L-150.0,88.0L-150.0,89.0L-150.0,90.0L-150.0,90.0L-151.0,90.0L-152.0,90.0L-153.0,90.0L-154.0,90.0L-155.0,90.0L-156.0,90.0L-157.0,90.0L-158.0,90.0L-159.0,90.0L-160.0,90.0L-161.0,90.0L-162.0,90.0L-163.0,90.0L-164.0,90.0L-165.0,90.0L-165.0,90.0L-165.0,89.0L-165.0,88.0L-165.0,87.0L-165.0,86.0L-165.0,85.0L-165.0,84.0L-165.0,83.0L-165.0,82.0L-165.0,81.0L-165.0,80.0L-165.0,79.0L-165.0,78.0L-165.0,77.0L-165.0,76.0L-165.0,75.0L-165.0,74.0L-165.0,73.0L-165.0,72.0L-165.0,71.0L-165.0,70.0L-165.0,69.0L-165.0,68.0L-165.0,67.0L-165.0,66.0L-165.0,65.0L-165.0,64.0L-165.1,63.0L-165.4,62.0L-166.0,61.2L-166.1,61.0L-167.0,60.3L-167.5,60.0L-168.0,59.7L-168.9,59.0L-169.0,58.9L-169.7,58.0L-170.0,57.5L-170.3,57.0L-171.0,56.1L-171.1,56.0L-172.0,55.3L-172.5,55.0L-173.0,54.7L-173.9,54.0L-174.0,53.8L-174.6,53.0L-174.9,52.0L-175.0,51.0L-175.0,50.1L-175.0,50.0L-175.0,49.0L-175.0,48.0L-175.0,47.0L-175.0,46.0L-175.0,45.0L-175.0,44.0L-175.1,43.0L-175.5,42.0L-176.0,41.2L-176.3,41.0L-177.0,40.6L-178.0,40.7L-178.3,41.0L-179.0,41.8L-179.1,42.0L-179.5,43.0L-179.6,44.0L-179.6,45.0L-179.6,46.0L-179.6,47.0L-179.6,48.0L-179.6,49.0L-179.6,50.0L-179.6,51.0L-179.6,52.0L-179.6,53.0L-179.6,54.0L-179.6,55.0L-179.6,56.0L-179.6,57.0L-179.6,58.0L-179.6,59.0L-179.6,60.0L-179.6,61.0L-179.7,62.0L-179.8,63.0L-180.0,63.9L-180.0,63.0L-180.0,62.0L-180.0,61.0L-180.0,60.0L-180.0,59.0L-180.0,58.0L-180.0,57.0L-180.0,56.0L-180.0,55.0L-180.0,54.0L-180.0,53.0L-180.0,52.0L-180.0,51.0L-180.0,50.0L-180.0,49.0L-180.0,48.0L-180.0,47.0L-180.0,46.0L-180.0,45.0L-180.0,44.0L-180.0,43.0L-180.0,42.0L-180.0,41.0L-180.0,40.0L-180.0,39.0L-180.0,38.0L-180.0,37.0L-180.0,36.0L-180.0,35.0L-180.0,34.0L-180.0,33.0L-180.0,32.0L-180.0,31.0L-180.0,30.0L-180.0,29.0L-180.0,28.0L-180.0,27.0L-180.0,26.0L-180.0,25.0L-180.0,24.0L-180.0,23.0L-180.0,22.0L-180.0,21.0L-180.0,20.4L-179.5,20.0L-179.0,19.5L-178.7,19.0L-178.4,18.0L-178.2,17.0L-178.2,16.0L-178.2,15.0L-178.2,14.0L-178.2,13.0L-178.2,12.0L-178.2,11.0L-178.2,10.0L-178.2,9.0L-178.2,8.0L-178.2,7.0L-178.2,6.0L-178.2,5.0L-178.2,4.0L-178.2,3.0L-178.2,2.0L-178.2,1.0L-178.2,0.0L-178.2,-1.0L-178.2,-2.0L-178.2,-3.0L-178.2,-4.0L-178.2,-5.0L-178.2,-6.0L-178.2,-7.0L-178.1,-8.0L-178.1,-9.0L-178.1,-10.0L-178.0,-11.0L-178.0,-11.1L-177.5,-12.0ZM-142.6,33.0L-143.0,33.2L-143.5,34.0L-144.0,34.7L-144.1,35.0L-144.5,36.0L-144.8,37.0L-144.9,38.0L-145.0,39.0L-145.0,40.0L-145.0,41.0L-145.0,42.0L-145.0,43.0L-145.0,44.0L-145.0,45.0L-145.0,46.0L-145.0,47.0L-145.0,48.0L-145.0,49.0L-145.0,50.0L-145.0,51.0L-144.9,52.0L-144.8,53.0L-144.5,54.0L-144.1,55.0L-144.0,55.3L-143.6,56.0L-143.1,57.0L-143.0,57.2L-142.6,58.0L-142.3,59.0L-142.0,59.6L-141.0,60.0L-140.0,60.0L-139.0,60.0L-138.0,59.9L-137.0,59.8L-136.0,59.5L-135.0,59.1L-134.7,59.0L-134.0,58.6L-133.1,58.0L-133.0,57.8L-132.0,57.2L-131.0,57.1L-130.0,57.2L-129.0,57.4L-128.0,57.6L-127.3,58.0L-127.0,58.2L-126.0,59.0L-126.0,59.0L-125.0,60.0L-125.0,60.0L-124.0,61.0L-124.0,61.0L-123.0,61.8L-122.6,62.0L-122.0,62.3L-121.0,62.5L-120.0,62.5L-119.0,62.5L-118.0,62.5L-117.0,62.5L-116.0,62.5L-115.0,62.5L-114.0,62.5L-113.0,62.5L-112.0,62.5L-111.0,62.5L-110.0,62.5L-109.0,62.5L-108.0,62.3L-107.4,62.0L-107.0,61.8L-106.0,61.0L-106.0,61.0L-105.0,60.0L-105.0,60.0L-104.0,59.0L-104.0,59.0L-103.0,58.2L-102.8,58.0L-102.0,57.5L-101.3,57.0L-101.0,56.8L-100.0,56.3L-99.5,56.0L-99.0,55.8L-98.0,55.3L-97.5,55.0L-97.0,54.7L-96.0,54.2L-95.5,54.0L-95.0,53.7L-94.0,53.2L-93.7,53.0L-93.0,52.5L-92.2,52.0L-92.0,51.8L-91.0,51.0L-91.0,51.0L-90.0,50.0L-90.0,50.0L-89.1,49.0L-89.0,48.7L-88.7,48.0L-89.0,47.6L-89.4,47.0L-90.0,46.7L-91.0,46.3L-91.9,46.0L-92.0,46.0L-93.0,45.7L-94.0,45.3L-95.0,45.0L-95.0,45.0L-96.0,44.7L-97.0,44.3L-98.0,44.0L-98.0,44.0L-99.0,43.7L-100.0,43.3L-101.0,43.0L-101.0,43.0L-102.0,42.7L-103.0,42.4L-104.0,42.0L-104.1,42.0L-105.0,41.7L-106.0,41.4L-107.0,41.1L-107.5,41.0L-108.0,40.9L-109.0,40.9L-110.0,40.8L-111.0,40.8L-112.0,40.8L-113.0,40.8L-114.0,40.8L-115.0,40.8L-116.0,40.8L-117.0,40.9L-118.0,40.9L-119.0,40.8L-120.0,40.8L-121.0,40.8L-122.0,40.8L-123.0,40.7L-124.0,40.4L-125.0,40.2L-126.0,40.2L-127.0,40.2L-128.0,40.2L-129.0,40.1L-130.0,40.1L-130.1,40.0L-131.0,39.7L-131.5,39.0L-132.0,38.7L-132.7,38.0L-133.0,37.7L-133.7,37.0L-134.0,36.5L-134.7,36.0L-135.0,35.5L-135.7,35.0L-136.0,35.0L-137.0,34.5L-137.6,34.0L-138.0,33.9L-139.0,33.6L-140.0,33.2L-140.6,33.0L-141.0,32.9L-142.0,32.7ZM-4.0,18.0L-3.0,17.8L-2.0,17.6L-1.0,17.6L0.0,17.5L1.0,17.5L2.0,17.5L3.0,17.5L4.0,17.5L5.0,17.5L6.0,17.5L7.0,17.6L8.0,17.6L9.0,17.6L10.0,17.6L11.0,17.6L12.0,17.6L13.0,17.6L14.0,17.5L15.0,17.5L16.0,17.5L17.0,17.5L18.0,17.4L19.0,17.4L20.0,17.4L21.0,17.4L22.0,17.4L23.0,17.4L24.0,17.4L25.0,17.4L26.0,17.4L27.0,17.5L28.0,17.6L29.0,17.9L29.4,18.0L30.0,18.1L31.0,18.4L32.0,18.6L33.0,18.7L34.0,18.8L35.0,18.9L36.0,19.0L36.2,19.0L37.0,19.1L38.0,19.0L38.5,19.0L39.0,18.9L40.0,18.8L41.0,18.5L42.0,18.2L42.7,18.0L43.0,17.9L44.0,17.8L45.0,17.7L46.0,17.7L47.0,17.7L48.0,17.7L49.0,17.7L50.0,17.7L51.0,17.8L52.0,17.8L53.0,17.8L54.0,17.8L55.0,17.6L56.0,17.4L57.0,17.4L57.8,18.0L58.0,18.2L58.6,19.0L59.0,19.7L59.1,20.0L59.5,21.0L59.8,22.0L59.9,23.0L60.0,24.0L60.0,25.0L60.0,26.0L59.7,27.0L59.0,27.7L58.7,28.0L58.0,28.8L57.9,29.0L57.5,30.0L57.1,31.0L57.0,31.1L56.0,31.9L55.9,32.0L55.0,32.2L54.0,32.3L53.0,32.5L52.0,32.5L51.0,32.6L50.0,32.7L49.0,32.8L48.3,33.0L48.0,33.1L47.0,34.0L47.0,34.0L46.3,35.0L46.0,35.6L45.8,36.0L45.4,37.0L45.3,38.0L45.4,39.0L45.5,40.0L45.7,41.0L45.8,42.0L45.8,43.0L45.9,44.0L45.9,45.0L45.9,46.0L46.0,47.0L46.0,47.0L47.0,47.9L47.5,48.0L48.0,48.3L48.8,49.0L49.0,50.0L49.0,51.0L49.0,51.3L49.0,52.0L49.2,53.0L49.7,54.0L50.0,54.5L50.5,55.0L51.0,55.4L52.0,56.0L52.0,56.0L53.0,57.0L53.0,57.0L53.0,58.0L53.0,58.0L52.0,58.7L51.0,58.9L50.0,58.9L49.0,58.9L48.0,59.0L47.0,59.0L46.0,59.0L45.0,59.0L44.0,59.0L43.9,59.0L43.0,59.1L42.0,59.5L41.1,60.0L41.0,60.1L40.0,60.8L39.7,61.0L39.0,61.6L38.4,62.0L38.0,62.4L37.2,63.0L37.0,63.4L36.1,64.0L36.0,64.3L35.0,65.0L35.0,65.3L34.0,65.9L33.0,65.6L32.0,65.3L31.0,65.1L30.0,65.1L29.0,65.0L28.0,65.0L27.5,65.0L27.0,65.0L26.0,65.0L25.0,64.9L24.0,64.9L23.0,64.7L22.0,64.4L21.0,64.1L20.2,64.0L20.0,63.7L19.0,63.0L18.0,63.0L18.0,62.0L18.0,62.0L17.0,62.0L16.0,62.0L15.0,62.0L14.0,62.0L13.0,62.0L12.0,62.0L11.0,62.0L10.0,62.0L9.0,62.0L8.0,62.0L7.0,62.0L6.0,61.0L6.0,61.0L5.0,60.0L5.0,60.0L4.0,59.0L4.0,59.0L3.0,58.0L3.0,58.0L2.2,57.0L2.0,56.9L1.4,56.0L1.0,55.3L0.9,55.0L0.4,54.0L0.0,53.2L-0.1,53.0L-1.0,52.0L-1.0,52.0L-2.0,51.3L-2.7,51.0L-3.0,50.9L-4.0,50.7L-5.0,50.5L-6.0,50.3L-7.0,50.1L-7.2,50.0L-8.0,49.6L-8.9,49.0L-9.0,48.9L-9.7,48.0L-10.0,47.5L-10.3,47.0L-11.0,46.1L-11.2,46.0L-12.0,45.4L-13.0,45.1L-14.0,45.0L-14.9,45.0L-15.0,45.0L-16.0,45.0L-17.0,44.9L-18.0,44.6L-18.8,44.0L-19.0,43.8L-19.5,43.0L-19.9,42.0L-20.0,41.0L-20.0,40.0L-20.0,39.0L-20.0,38.0L-20.0,37.0L-19.9,36.0L-19.0,35.1L-18.0,35.0L-17.2,35.0L-17.0,35.0L-16.0,35.0L-15.0,34.8L-14.6,34.0L-14.0,33.6L-13.9,33.0L-13.4,32.0L-13.0,31.0L-13.0,31.0L-12.8,30.0L-12.7,29.0L-12.6,28.0L-12.6,27.0L-12.7,26.0L-12.8,25.0L-12.8,24.0L-12.7,23.0L-12.2,22.0L-12.0,21.9L-11.3,21.0L-11.0,20.8L-10.0,20.0L-10.0,20.0L-9.0,19.4L-8.0,19.0L-8.0,19.0L-7.0,18.7L-6.0,18.4L-5.0,18.2L-4.2,18.0ZM-3.4,21.0L-4.0,21.1L-5.0,21.2L-6.0,21.3L-7.0,21.5L-7.9,22.0L-8.0,22.1L-8.4,23.0L-8.1,24.0L-8.0,24.1L-7.0,24.7L-6.0,25.0L-5.0,25.0L-4.0,25.0L-3.0,25.0L-2.0,25.0L-1.0,25.0L0.0,25.0L1.0,25.0L2.0,25.0L3.0,25.0L4.0,25.0L5.0,25.0L6.0,25.0L7.0,25.0L8.0,25.0L9.0,25.0L10.0,25.0L11.0,25.0L12.0,25.0L13.0,25.0L14.0,25.0L15.0,25.0L16.0,25.0L17.0,25.0L18.0,25.0L19.0,25.0L20.0,25.0L20.4,25.0L21.0,25.0L22.0,25.1L23.0,25.2L24.0,25.5L25.0,25.9L25.3,26.0L26.0,26.4L27.0,26.9L27.2,27.0L28.0,27.4L29.0,27.6L30.0,27.8L31.0,28.0L31.1,28.0L32.0,28.4L33.0,28.8L33.7,29.0L34.0,29.4L35.0,29.9L35.1,30.0L36.0,30.4L36.4,31.0L37.0,31.1L38.0,31.6L39.0,32.0L39.0,32.0L40.0,32.2L41.0,32.3L42.0,32.0L42.0,32.0L43.0,31.2L43.2,31.0L44.0,30.1L44.1,30.0L45.0,29.1L45.1,29.0L46.0,28.1L46.2,28.0L46.9,27.0L47.0,26.0L47.0,26.0L47.0,26.0L46.0,25.1L45.0,25.0L44.0,25.0L43.0,25.0L42.0,25.0L41.0,25.0L40.0,25.0L39.7,25.0L39.0,25.0L38.0,24.7L37.6,24.0L37.0,23.4L36.8,23.0L36.0,22.6L35.0,22.1L34.9,22.0L34.0,21.8L33.0,21.5L32.0,21.4L31.0,21.3L30.0,21.2L29.0,21.0L28.6,21.0L28.0,21.0L27.0,20.9L26.0,20.9L25.0,20.9L24.0,20.9L23.0,20.9L22.0,20.9L21.0,20.9L20.0,20.9L19.0,20.9L18.0,20.9L17.0,20.9L16.0,20.9L15.0,20.9L14.0,20.9L13.0,20.9L12.0,20.9L11.0,20.9L10.0,20.9L9.0,20.9L8.0,20.9L7.0,20.9L6.0,20.9L5.0,20.9L4.0,20.9L3.0,20.9L2.0,20.9L1.0,20.9L0.0,20.9L-1.0,20.9L-2.0,20.9L-3.0,21.0ZM19.6,36.0L19.0,36.2L18.0,36.7L17.0,36.9L16.6,37.0L16.0,37.1L15.0,37.1L14.0,37.1L13.0,37.2L12.0,37.2L11.0,37.3L10.0,37.3L9.0,37.4L8.0,37.6L7.3,38.0L7.0,38.2L6.0,39.0L6.0,39.0L5.0,40.0L5.0,40.0L4.0,41.0L4.0,41.0L3.0,42.0L3.0,42.0L2.0,43.0L2.0,43.0L1.0,44.0L1.0,44.0L0.0,45.0L0.0,45.0L-0.9,46.0L-1.0,46.3L-1.2,47.0L-1.0,47.3L-0.4,48.0L0.0,48.3L1.0,49.0L1.1,49.0L2.0,49.5L3.0,50.0L3.0,50.0L4.0,50.3L5.0,50.5L6.0,50.7L7.0,50.8L8.0,50.8L9.0,50.8L10.0,50.9L11.0,50.9L12.0,50.9L13.0,50.9L13.8,51.0L14.0,51.0L15.0,51.1L16.0,51.2L17.0,51.2L18.0,51.2L19.0,51.2L20.0,51.1L21.0,51.0L21.2,51.0L22.0,50.9L23.0,50.9L24.0,50.9L25.0,50.9L26.0,50.9L27.0,50.8L28.0,50.8L29.0,50.7L30.0,50.5L31.0,50.3L32.0,50.1L32.5,50.0L33.0,49.9L34.0,49.6L35.0,49.1L35.3,49.0L36.0,48.5L36.6,48.0L37.0,47.3L37.2,47.0L37.4,46.0L37.7,45.0L37.9,44.0L38.0,43.0L37.5,42.0L37.0,41.5L36.5,41.0L36.0,40.6L35.0,40.0L35.0,40.0L34.0,39.6L33.0,39.3L32.0,39.0L32.0,39.0L31.0,38.7L30.0,38.3L29.1,38.0L29.0,38.0L28.0,37.4L27.2,37.0L27.0,36.9L26.0,36.3L25.4,36.0L25.0,35.8L24.0,35.5L23.0,35.3L22.0,35.3L21.0,35.5L20.0,35.8ZM180.0,20.9L180.0,21.0L180.0,22.0L180.0,23.0L180.0,24.0L180.0,25.0L180.0,26.0L180.0,27.0L180.0,28.0L180.0,29.0L180.0,30.0L180.0,31.0L180.0,32.0L180.0,33.0L180.0,34.0L180.0,35.0L180.0,36.0L180.0,37.0L180.0,38.0L180.0,39.0L180.0,40.0L180.0,41.0L180.0,42.0L180.0,43.0L180.0,44.0L180.0,45.0L180.0,46.0L180.0,47.0L180.0,48.0L180.0,49.0L180.0,50.0L180.0,51.0L180.0,52.0L180.0,53.0L180.0,54.0L180.0,55.0L180.0,56.0L180.0,57.0L180.0,58.0L180.0,59.0L180.0,60.0L180.0,61.0L180.0,62.0L180.0,63.0L180.0,64.0L180.0,65.0L180.0,66.0L180.0,67.0L180.0,68.0L180.0,68.9L180.0,69.0L180.0,70.0L180.0,71.0L180.0,72.0L180.0,73.0L180.0,74.0L180.0,75.0L180.0,76.0L180.0,77.0L180.0,78.0L180.0,79.0L180.0,80.0L180.0,81.0L180.0,82.0L180.0,83.0L180.0,84.0L180.0,85.0L180.0,86.0L180.0,87.0L180.0,88.0L180.0,89.0L180.0,90.0L179.0,90.0L178.0,90.0L177.0,90.0L176.0,90.0L175.0,90.0L174.0,90.0L173.0,90.0L172.0,90.0L171.0,90.0L170.0,90.0L169.0,90.0L168.0,90.0L167.0,90.0L166.0,90.0L165.0,90.0L164.0,90.0L163.0,90.0L162.0,90.0L161.0,90.0L160.0,90.0L159.0,90.0L158.0,90.0L157.0,90.0L156.0,90.0L155.0,90.0L154.0,90.0L153.0,90.0L152.0,90.0L151.0,90.0L150.0,90.0L149.0,90.0L148.0,90.0L147.0,90.0L146.0,90.0L145.0,90.0L144.0,90.0L143.0,90.0L142.0,90.0L141.0,90.0L140.0,90.0L139.0,90.0L138.0,90.0L137.0,90.0L136.0,90.0L135.0,90.0L134.0,90.0L133.0,90.0L132.0,90.0L131.0,90.0L130.0,90.0L129.0,90.0L128.0,90.0L127.0,90.0L126.0,90.0L125.0,90.0L124.0,90.0L123.0,90.0L122.0,90.0L121.1,90.0L121.1,89.0L121.1,88.0L121.1,87.0L121.1,86.0L121.1,85.0L121.0,84.0L121.0,83.4L121.0,83.0L120.8,82.0L120.4,81.0L120.0,80.5L119.5,80.0L119.0,79.6L118.0,79.2L117.0,79.1L116.0,79.2L115.0,79.2L114.0,79.3L113.0,79.3L112.0,79.0L111.9,79.0L111.0,78.4L110.6,78.0L110.0,77.1L109.9,77.0L109.1,76.0L109.0,75.9L108.0,75.3L107.1,75.0L107.0,75.0L106.0,74.9L105.0,74.9L104.0,74.9L103.0,74.8L102.0,74.8L101.0,74.7L100.0,74.7L99.0,74.6L98.0,74.5L97.0,74.5L96.0,74.5L95.0,74.5L94.0,74.5L93.0,74.6L92.0,74.8L91.7,75.0L91.0,75.4L90.4,76.0L90.0,76.5L89.7,77.0L89.1,78.0L89.0,78.1L88.1,79.0L88.0,79.1L87.0,79.7L86.5,80.0L86.0,80.4L85.4,81.0L85.0,81.5L84.7,82.0L84.0,83.0L84.0,83.0L83.0,83.8L82.0,83.8L81.1,83.0L81.0,82.9L80.7,82.0L80.5,81.0L80.5,80.0L80.5,79.0L80.4,78.0L80.2,77.0L80.0,76.7L79.6,76.0L79.0,75.4L78.3,75.0L78.0,74.8L77.0,74.6L76.0,74.5L75.0,74.5L74.0,74.5L73.0,74.5L72.0,74.5L71.0,74.5L70.0,74.5L69.0,74.5L68.0,74.4L67.0,74.1L66.9,74.0L66.0,73.4L65.6,73.0L65.0,72.2L64.9,72.0L64.0,71.0L64.0,71.0L63.0,70.3L62.0,70.0L61.9,70.0L61.0,69.9L60.0,69.9L59.0,69.9L58.0,70.0L57.9,70.0L57.0,70.3L56.0,70.9L55.9,71.0L55.1,72.0L55.0,72.1L54.4,73.0L54.0,73.4L53.2,74.0L53.0,74.2L52.0,74.7L51.5,75.0L51.0,75.4L50.4,76.0L50.0,76.5L49.7,77.0L49.1,78.0L49.0,78.1L48.1,79.0L48.0,79.1L47.0,79.7L46.5,80.0L46.0,80.4L45.4,81.0L45.0,81.7L44.9,82.0L44.6,83.0L44.6,84.0L44.6,85.0L44.6,86.0L44.6,87.0L44.6,88.0L44.6,89.0L44.6,90.0L44.0,90.0L43.0,90.0L43.0,89.4L43.0,89.0L43.0,88.0L43.0,87.0L42.9,86.0L42.8,85.0L42.8,84.0L42.8,83.0L42.8,82.0L43.0,81.3L43.1,81.0L43.4,80.0L44.0,79.2L44.2,79.0L45.0,78.4L46.0,78.0L46.0,78.0L47.0,77.4L47.4,77.0L48.0,76.0L48.0,76.0L48.4,75.0L49.0,74.2L49.2,74.0L50.0,73.4L51.0,73.0L51.0,73.0L52.0,72.4L52.5,72.0L53.0,71.3L53.2,71.0L53.6,70.0L54.0,69.5L54.5,69.0L55.0,68.6L56.0,68.2L57.0,68.0L57.1,68.0L58.0,67.9L59.0,67.9L60.0,67.9L61.0,67.9L62.0,68.0L62.0,68.0L63.0,68.1L64.0,68.3L65.0,68.8L65.3,69.0L66.0,69.6L66.3,70.0L66.8,71.0L67.0,71.4L67.5,72.0L68.0,72.3L69.0,72.6L70.0,72.6L71.0,72.6L72.0,72.6L73.0,72.6L74.0,72.6L75.0,72.6L76.0,72.6L77.0,72.7L78.0,72.8L78.7,73.0L79.0,73.1L80.0,73.4L80.8,74.0L81.0,74.2L81.6,75.0L82.0,76.0L82.0,76.2L82.2,77.0L82.5,78.0L82.7,79.0L83.0,79.6L84.0,79.1L84.1,79.0L85.0,78.4L86.0,78.0L86.0,78.0L87.0,77.4L87.4,77.0L88.0,76.0L88.0,76.0L88.4,75.0L89.0,74.2L89.2,74.0L90.0,73.4L91.0,73.1L91.3,73.0L92.0,72.8L93.0,72.7L94.0,72.6L95.0,72.6L96.0,72.6L97.0,72.6L98.0,72.7L99.0,72.7L100.0,72.7L101.0,72.7L102.0,72.8L103.0,72.8L104.0,72.8L105.0,72.7L106.0,72.7L107.0,72.7L108.0,72.9L108.3,73.0L109.0,73.2L110.0,73.6L110.5,74.0L111.0,74.4L111.4,75.0L111.9,76.0L112.0,76.2L112.8,77.0L113.0,77.1L114.0,77.1L114.6,77.0L115.0,76.7L115.8,76.0L116.0,75.1L116.0,75.0L116.0,74.0L116.0,73.6L116.0,73.0L115.8,72.0L115.3,71.0L115.0,70.5L114.5,70.0L114.0,69.6L113.0,69.2L112.0,69.0L112.0,69.0L111.0,68.9L110.0,68.9L109.0,68.9L108.0,68.7L107.0,68.0L107.0,67.0L108.0,66.3L109.0,66.1L110.0,66.1L111.0,66.1L112.0,66.1L113.0,66.1L114.0,66.1L115.0,66.1L116.0,66.1L117.0,66.0L118.0,66.0L119.0,66.0L120.0,66.0L121.0,66.1L122.0,66.2L123.0,66.7L123.3,67.0L124.0,67.9L124.0,68.0L124.6,69.0L125.0,69.5L125.5,70.0L126.0,70.3L127.0,70.8L128.0,71.0L128.6,71.0L129.0,71.0L130.0,71.0L131.0,71.0L132.0,71.0L133.0,71.0L134.0,71.0L135.0,71.0L136.0,71.0L137.0,71.0L138.0,71.0L139.0,71.0L140.0,71.0L141.0,71.0L142.0,71.0L143.0,71.0L144.0,71.0L145.0,71.0L146.0,71.0L147.0,71.0L148.0,71.0L149.0,71.0L150.0,71.0L150.7,71.0L151.0,71.0L152.0,70.7L152.9,70.0L153.0,69.9L153.6,69.0L154.0,68.0L154.0,68.0L154.3,67.0L154.5,66.0L154.8,65.0L155.0,64.5L155.2,64.0L155.6,63.0L155.9,62.0L156.0,61.1L156.0,61.0L156.0,60.0L156.0,59.3L156.0,59.0L155.7,58.0L155.0,57.1L154.9,57.0L154.0,56.5L153.0,56.0L152.9,56.0L152.0,55.8L151.0,55.7L150.0,55.6L149.0,55.6L148.0,55.5L147.0,55.3L146.0,55.2L145.4,55.0L145.0,54.9L144.0,54.6L143.0,54.3L142.0,54.1L141.0,54.0L140.6,54.0L140.0,54.0L139.0,54.0L138.0,54.0L137.0,54.0L136.0,54.0L135.0,54.0L134.0,54.0L133.0,54.0L132.0,54.0L131.0,54.0L130.0,54.0L129.8,54.0L129.0,54.0L128.0,54.2L127.0,54.7L126.7,55.0L126.0,55.5L125.5,56.0L125.0,56.6L124.6,57.0L124.0,57.6L123.6,58.0L123.0,58.4L122.0,58.8L121.0,59.0L120.0,59.0L119.1,59.0L119.0,59.0L118.0,59.0L117.0,59.0L116.0,59.0L115.0,59.0L114.0,59.0L113.0,59.0L112.0,59.0L111.0,59.0L110.0,59.0L109.0,59.0L108.0,59.0L107.0,59.0L106.0,59.0L106.0,59.0L105.0,59.0L104.0,59.0L103.0,58.8L102.0,58.4L101.5,58.0L101.0,57.6L100.3,57.0L100.0,56.8L99.0,56.3L98.4,56.0L98.0,55.9L97.0,55.7L96.0,55.6L95.0,55.6L94.0,55.6L93.0,55.6L92.0,55.5L91.0,55.3L90.0,55.0L90.0,55.0L89.0,54.7L88.0,54.3L87.0,54.0L86.9,54.0L86.0,53.9L85.0,53.9L84.0,53.9L83.0,53.9L82.0,53.9L81.0,53.9L80.0,53.9L79.0,53.9L78.0,53.8L77.0,53.8L76.0,53.8L75.0,53.8L74.0,53.8L73.0,53.7L72.0,53.3L71.6,53.0L71.0,52.4L70.7,52.0L70.0,51.1L69.9,51.0L69.2,50.0L69.0,49.7L68.5,49.0L68.0,48.0L68.0,48.0L68.0,48.0L68.2,47.0L69.0,46.0L69.0,46.0L70.0,45.0L70.0,45.0L70.9,44.0L71.0,43.8L71.3,43.0L71.4,42.0L71.2,41.0L71.0,40.5L70.8,40.0L70.5,39.0L70.3,38.0L70.5,37.0L71.0,36.2L71.1,36.0L72.0,35.3L72.5,35.0L73.0,34.8L74.0,34.4L75.0,34.2L75.8,34.0L76.0,34.0L77.0,33.9L78.0,33.9L79.0,34.0L79.2,34.0L80.0,34.2L81.0,34.4L82.0,34.6L83.0,34.7L84.0,34.5L85.0,34.2L85.4,34.0L86.0,33.8L87.0,33.3L88.0,33.1L88.4,33.0L89.0,32.9L90.0,32.9L91.0,32.9L92.0,32.8L93.0,32.8L94.0,32.8L95.0,32.8L96.0,32.8L97.0,32.9L97.2,33.0L98.0,33.3L98.9,34.0L99.0,34.1L100.0,35.0L100.0,35.0L101.0,36.0L101.1,36.0L102.0,36.7L102.6,37.0L103.0,37.1L104.0,37.4L105.0,37.5L106.0,37.6L107.0,37.7L108.0,37.8L109.0,37.8L110.0,37.8L111.0,37.8L112.0,37.9L112.2,38.0L113.0,38.3L114.0,38.7L114.6,39.0L115.0,39.2L116.0,39.6L117.0,39.8L118.0,39.9L119.0,40.0L119.8,40.0L120.0,40.0L121.0,40.0L122.0,40.1L123.0,40.2L124.0,40.5L125.0,40.9L125.3,41.0L126.0,41.4L127.0,42.0L127.1,42.0L128.0,42.4L129.0,42.6L130.0,42.7L131.0,42.7L132.0,42.8L133.0,42.8L134.0,42.8L135.0,42.8L136.0,42.8L137.0,42.9L137.3,43.0L138.0,43.2L139.0,43.7L139.6,44.0L140.0,44.2L141.0,44.5L142.0,44.8L143.0,44.9L144.0,45.0L145.0,45.0L145.0,45.0L145.1,45.0L146.0,45.0L147.0,45.0L148.0,44.9L149.0,44.9L150.0,44.8L151.0,44.7L152.0,44.6L153.0,44.2L153.3,44.0L154.0,43.3L154.2,43.0L154.5,42.0L154.6,41.0L154.7,40.0L154.7,39.0L154.8,38.0L155.0,37.1L155.0,37.0L155.6,36.0L156.0,35.6L156.9,35.0L157.0,34.9L158.0,34.3L158.4,34.0L159.0,33.5L159.4,33.0L160.0,32.3L160.3,32.0L161.0,31.2L161.2,31.0L162.0,30.3L162.3,30.0L163.0,29.4L163.5,29.0L164.0,28.5L164.5,28.0L165.0,27.6L165.7,27.0L166.0,26.8L167.0,26.3L167.6,26.0L168.0,25.9L169.0,25.3L169.5,25.0L170.0,24.5L170.4,24.0L171.0,23.1L171.1,23.0L172.0,22.2L172.3,22.0L173.0,21.8L174.0,21.6L175.0,21.6L176.0,21.6L177.0,21.6L178.0,21.5L179.0,21.2L179.8,21.0ZM76.3,37.0L76.0,37.1L75.1,38.0L75.0,38.3L74.8,39.0L74.6,40.0L74.6,41.0L74.6,42.0L74.7,43.0L74.9,44.0L75.0,44.1L75.5,45.0L76.0,45.5L77.0,46.0L77.0,46.0L78.0,46.3L79.0,46.4L80.0,46.6L81.0,46.7L82.0,47.0L82.3,47.0L83.0,47.1L84.0,47.1L84.9,47.0L85.0,47.0L86.0,46.7L87.0,46.4L88.0,46.0L88.3,46.0L89.0,45.2L89.8,45.0L89.0,44.5L88.9,44.0L88.0,43.3L87.9,43.0L87.0,42.3L86.8,42.0L86.0,41.5L85.3,41.0L85.0,40.9L84.0,40.4L83.1,40.0L83.0,40.0L82.0,39.3L81.6,39.0L81.0,38.5L80.4,38.0L80.0,37.7L79.0,37.0L78.9,37.0L78.0,36.7L77.0,36.7ZM94.0,43.0L93.0,43.4L92.0,43.9L91.4,44.0L91.0,44.7L90.2,45.0L91.0,45.5L91.1,46.0L92.0,47.0L92.0,47.0L92.9,48.0L93.0,48.1L94.0,49.0L94.0,49.0L95.0,49.6L96.0,50.0L96.1,50.0L97.0,50.2L98.0,50.4L99.0,50.4L100.0,50.4L101.0,50.4L102.0,50.4L103.0,50.4L104.0,50.4L105.0,50.4L106.0,50.4L107.0,50.4L108.0,50.3L108.9,50.0L109.0,50.0L110.0,49.5L110.9,49.0L111.0,48.9L111.8,48.0L111.6,47.0L111.0,46.6L110.2,46.0L110.0,45.9L109.0,45.5L108.0,45.2L107.5,45.0L107.0,44.9L106.0,44.6L105.0,44.2L104.6,44.0L104.0,43.7L103.0,43.2L102.3,43.0L102.0,42.9L101.0,42.8L100.0,42.7L99.0,42.6L98.0,42.6L97.0,42.6L96.0,42.7L95.0,42.8L94.0,43.0ZM-74.0,68.9L-73.0,68.8L-72.0,68.7L-71.0,68.7L-70.0,68.7L-69.0,68.7L-68.0,69.0L-68.0,69.0L-67.0,69.8L-66.9,70.0L-66.3,71.0L-66.0,72.0L-66.2,73.0L-67.0,74.0L-67.0,74.0L-68.0,74.5L-69.0,74.8L-70.0,75.0L-70.0,75.0L-71.0,75.2L-72.0,75.3L-73.0,75.3L-74.0,75.2L-75.0,75.0L-75.0,75.0L-76.0,74.7L-77.0,74.3L-77.7,74.0L-78.0,73.8L-79.0,73.0L-79.0,73.0L-79.5,72.0L-79.2,71.0L-79.0,70.8L-78.0,70.1L-77.8,70.0L-77.0,69.7L-76.0,69.4L-75.0,69.1L-74.3,69.0ZM-72.9,72.0L-72.0,73.0L-72.0,73.0L-71.0,73.0L-70.6,73.0L-70.0,72.8L-69.0,72.5L-68.6,72.0L-69.0,71.7L-70.0,71.6L-71.0,71.6L-72.0,71.7Z" fill="#f26e3a" stroke="#f26e3a" stroke-width="0.15"/><path d="M-3.0,21.0L-2.0,20.9L-1.0,20.9L0.0,20.9L1.0,20.9L2.0,20.9L3.0,20.9L4.0,20.9L5.0,20.9L6.0,20.9L7.0,20.9L8.0,20.9L9.0,20.9L10.0,20.9L11.0,20.9L12.0,20.9L13.0,20.9L14.0,20.9L15.0,20.9L16.0,20.9L17.0,20.9L18.0,20.9L19.0,20.9L20.0,20.9L21.0,20.9L22.0,20.9L23.0,20.9L24.0,20.9L25.0,20.9L26.0,20.9L27.0,20.9L28.0,21.0L28.6,21.0L29.0,21.0L30.0,21.2L31.0,21.3L32.0,21.4L33.0,21.5L34.0,21.8L34.9,22.0L35.0,22.1L36.0,22.6L36.8,23.0L37.0,23.4L37.6,24.0L38.0,24.7L39.0,25.0L39.7,25.0L40.0,25.0L41.0,25.0L42.0,25.0L43.0,25.0L44.0,25.0L45.0,25.0L46.0,25.1L47.0,26.0L47.0,26.0L47.0,26.0L46.9,27.0L46.2,28.0L46.0,28.1L45.1,29.0L45.0,29.1L44.1,30.0L44.0,30.1L43.2,31.0L43.0,31.2L42.0,32.0L42.0,32.0L41.0,32.3L40.0,32.2L39.0,32.0L39.0,32.0L38.0,31.6L37.0,31.1L36.4,31.0L36.0,30.4L35.1,30.0L35.0,29.9L34.0,29.4L33.7,29.0L33.0,28.8L32.0,28.4L31.1,28.0L31.0,28.0L30.0,27.8L29.0,27.6L28.0,27.4L27.2,27.0L27.0,26.9L26.0,26.4L25.3,26.0L25.0,25.9L24.0,25.5L23.0,25.2L22.0,25.1L21.0,25.0L20.4,25.0L20.0,25.0L19.0,25.0L18.0,25.0L17.0,25.0L16.0,25.0L15.0,25.0L14.0,25.0L13.0,25.0L12.0,25.0L11.0,25.0L10.0,25.0L9.0,25.0L8.0,25.0L7.0,25.0L6.0,25.0L5.0,25.0L4.0,25.0L3.0,25.0L2.0,25.0L1.0,25.0L0.0,25.0L-1.0,25.0L-2.0,25.0L-3.0,25.0L-4.0,25.0L-5.0,25.0L-6.0,25.0L-7.0,24.7L-8.0,24.1L-8.1,24.0L-8.4,23.0L-8.0,22.1L-7.9,22.0L-7.0,21.5L-6.0,21.3L-5.0,21.2L-4.0,21.1L-3.4,21.0ZM-142.0,32.7L-141.0,32.9L-140.6,33.0L-140.0,33.2L-139.0,33.6L-138.0,33.9L-137.6,34.0L-137.0,34.5L-136.0,35.0L-135.7,35.0L-135.0,35.5L-134.7,36.0L-134.0,36.5L-133.7,37.0L-133.0,37.7L-132.7,38.0L-132.0,38.7L-131.5,39.0L-131.0,39.7L-130.1,40.0L-130.0,40.1L-129.0,40.1L-128.0,40.2L-127.0,40.2L-126.0,40.2L-125.0,40.2L-124.0,40.4L-123.0,40.7L-122.0,40.8L-121.0,40.8L-120.0,40.8L-119.0,40.8L-118.0,40.9L-117.0,40.9L-116.0,40.8L-115.0,40.8L-114.0,40.8L-113.0,40.8L-112.0,40.8L-111.0,40.8L-110.0,40.8L-109.0,40.9L-108.0,40.9L-107.5,41.0L-107.0,41.1L-106.0,41.4L-105.0,41.7L-104.1,42.0L-104.0,42.0L-103.0,42.4L-102.0,42.7L-101.0,43.0L-101.0,43.0L-100.0,43.3L-99.0,43.7L-98.0,44.0L-98.0,44.0L-97.0,44.3L-96.0,44.7L-95.0,45.0L-95.0,45.0L-94.0,45.3L-93.0,45.7L-92.0,46.0L-91.9,46.0L-91.0,46.3L-90.0,46.7L-89.4,47.0L-89.0,47.6L-88.7,48.0L-89.0,48.7L-89.1,49.0L-90.0,50.0L-90.0,50.0L-91.0,51.0L-91.0,51.0L-92.0,51.8L-92.2,52.0L-93.0,52.5L-93.7,53.0L-94.0,53.2L-95.0,53.7L-95.5,54.0L-96.0,54.2L-97.0,54.7L-97.5,55.0L-98.0,55.3L-99.0,55.8L-99.5,56.0L-100.0,56.3L-101.0,56.8L-101.3,57.0L-102.0,57.5L-102.8,58.0L-103.0,58.2L-104.0,59.0L-104.0,59.0L-105.0,60.0L-105.0,60.0L-106.0,61.0L-106.0,61.0L-107.0,61.8L-107.4,62.0L-108.0,62.3L-109.0,62.5L-110.0,62.5L-111.0,62.5L-112.0,62.5L-113.0,62.5L-114.0,62.5L-115.0,62.5L-116.0,62.5L-117.0,62.5L-118.0,62.5L-119.0,62.5L-120.0,62.5L-121.0,62.5L-122.0,62.3L-122.6,62.0L-123.0,61.8L-124.0,61.0L-124.0,61.0L-125.0,60.0L-125.0,60.0L-126.0,59.0L-126.0,59.0L-127.0,58.2L-127.3,58.0L-128.0,57.6L-129.0,57.4L-130.0,57.2L-131.0,57.1L-132.0,57.2L-133.0,57.8L-133.1,58.0L-134.0,58.6L-134.7,59.0L-135.0,59.1L-136.0,59.5L-137.0,59.8L-138.0,59.9L-139.0,60.0L-140.0,60.0L-141.0,60.0L-142.0,59.6L-142.3,59.0L-142.6,58.0L-143.0,57.2L-143.1,57.0L-143.6,56.0L-144.0,55.3L-144.1,55.0L-144.5,54.0L-144.8,53.0L-144.9,52.0L-145.0,51.0L-145.0,50.0L-145.0,49.0L-145.0,48.0L-145.0,47.0L-145.0,46.0L-145.0,45.0L-145.0,44.0L-145.0,43.0L-145.0,42.0L-145.0,41.0L-145.0,40.0L-145.0,39.0L-144.9,38.0L-144.8,37.0L-144.5,36.0L-144.1,35.0L-144.0,34.7L-143.5,34.0L-143.0,33.2L-142.6,33.0ZM-115.3,46.0L-116.0,46.5L-116.6,47.0L-117.0,47.7L-117.2,48.0L-117.3,49.0L-117.2,50.0L-117.0,50.8L-116.9,51.0L-116.0,51.9L-115.8,52.0L-115.0,52.2L-114.0,52.4L-113.0,52.6L-112.2,53.0L-112.0,53.1L-111.0,53.6L-110.3,54.0L-110.0,54.1L-109.0,54.5L-108.0,54.7L-107.0,54.6L-106.0,54.2L-105.6,54.0L-105.0,53.7L-104.0,53.1L-103.8,53.0L-103.0,52.5L-102.3,52.0L-102.0,51.8L-101.0,51.0L-101.0,51.0L-100.0,50.0L-100.0,50.0L-99.1,49.0L-99.0,48.5L-98.9,48.0L-99.0,47.9L-99.9,47.0L-100.0,46.9L-101.0,46.5L-102.0,46.1L-102.4,46.0L-103.0,45.9L-104.0,45.7L-105.0,45.5L-106.0,45.3L-107.0,45.2L-108.0,45.1L-109.0,45.0L-110.0,45.0L-111.0,45.0L-112.0,45.1L-113.0,45.2L-114.0,45.5L-115.0,45.9ZM20.0,35.8L21.0,35.5L22.0,35.3L23.0,35.3L24.0,35.5L25.0,35.8L25.4,36.0L26.0,36.3L27.0,36.9L27.2,37.0L28.0,37.4L29.0,38.0L29.1,38.0L30.0,38.3L31.0,38.7L32.0,39.0L32.0,39.0L33.0,39.3L34.0,39.6L35.0,40.0L35.0,40.0L36.0,40.6L36.5,41.0L37.0,41.5L37.5,42.0L38.0,43.0L37.9,44.0L37.7,45.0L37.4,46.0L37.2,47.0L37.0,47.3L36.6,48.0L36.0,48.5L35.3,49.0L35.0,49.1L34.0,49.6L33.0,49.9L32.5,50.0L32.0,50.1L31.0,50.3L30.0,50.5L29.0,50.7L28.0,50.8L27.0,50.8L26.0,50.9L25.0,50.9L24.0,50.9L23.0,50.9L22.0,50.9L21.2,51.0L21.0,51.0L20.0,51.1L19.0,51.2L18.0,51.2L17.0,51.2L16.0,51.2L15.0,51.1L14.0,51.0L13.8,51.0L13.0,50.9L12.0,50.9L11.0,50.9L10.0,50.9L9.0,50.8L8.0,50.8L7.0,50.8L6.0,50.7L5.0,50.5L4.0,50.3L3.0,50.0L3.0,50.0L2.0,49.5L1.1,49.0L1.0,49.0L0.0,48.3L-0.4,48.0L-1.0,47.3L-1.2,47.0L-1.0,46.3L-0.9,46.0L0.0,45.0L0.0,45.0L1.0,44.0L1.0,44.0L2.0,43.0L2.0,43.0L3.0,42.0L3.0,42.0L4.0,41.0L4.0,41.0L5.0,40.0L5.0,40.0L6.0,39.0L6.0,39.0L7.0,38.2L7.3,38.0L8.0,37.6L9.0,37.4L10.0,37.3L11.0,37.3L12.0,37.2L13.0,37.2L14.0,37.1L15.0,37.1L16.0,37.1L16.6,37.0L17.0,36.9L18.0,36.7L19.0,36.2L19.6,36.0ZM17.1,41.0L17.0,41.0L16.0,41.3L15.0,41.7L14.2,42.0L14.0,42.1L13.0,42.9L12.9,43.0L12.4,44.0L12.2,45.0L12.2,46.0L13.0,47.0L13.0,47.0L14.0,47.5L15.0,48.0L15.0,48.0L16.0,48.3L17.0,48.4L18.0,48.4L19.0,48.3L20.0,48.0L20.1,48.0L21.0,47.7L22.0,47.3L23.0,47.1L23.6,47.0L24.0,46.9L25.0,46.7L26.0,46.4L26.9,46.0L27.0,45.9L27.5,45.0L27.7,44.0L27.3,43.0L27.0,42.8L26.0,42.0L26.0,42.0L25.0,41.4L24.4,41.0L24.0,40.8L23.0,40.4L22.0,40.3L21.0,40.4L20.0,40.5L19.0,40.7L18.0,40.8ZM77.0,36.7L78.0,36.7L78.9,37.0L79.0,37.0L80.0,37.7L80.4,38.0L81.0,38.5L81.6,39.0L82.0,39.3L83.0,40.0L83.1,40.0L84.0,40.4L85.0,40.9L85.3,41.0L86.0,41.5L86.8,42.0L87.0,42.3L87.9,43.0L88.0,43.3L88.9,44.0L89.0,44.5L89.8,45.0L89.0,45.2L88.3,46.0L88.0,46.0L87.0,46.4L86.0,46.7L85.0,47.0L84.9,47.0L84.0,47.1L83.0,47.1L82.3,47.0L82.0,47.0L81.0,46.7L80.0,46.6L79.0,46.4L78.0,46.3L77.0,46.0L77.0,46.0L76.0,45.5L75.5,45.0L75.0,44.1L74.9,44.0L74.7,43.0L74.6,42.0L74.6,41.0L74.6,40.0L74.8,39.0L75.0,38.3L75.1,38.0L76.0,37.1L76.3,37.0ZM77.6,42.0L78.0,42.6L78.6,42.0L78.0,41.5ZM-178.0,40.7L-177.0,40.6L-176.3,41.0L-176.0,41.2L-175.5,42.0L-175.1,43.0L-175.0,44.0L-175.0,45.0L-175.0,46.0L-175.0,47.0L-175.0,48.0L-175.0,49.0L-175.0,50.0L-175.0,50.1L-175.0,51.0L-174.9,52.0L-174.6,53.0L-174.0,53.8L-173.9,54.0L-173.0,54.7L-172.5,55.0L-172.0,55.3L-171.1,56.0L-171.0,56.1L-170.3,57.0L-170.0,57.5L-169.7,58.0L-169.0,58.9L-168.9,59.0L-168.0,59.7L-167.5,60.0L-167.0,60.3L-166.1,61.0L-166.0,61.2L-165.4,62.0L-165.1,63.0L-165.0,64.0L-165.0,65.0L-165.0,66.0L-165.0,67.0L-165.0,68.0L-165.0,69.0L-165.0,70.0L-165.0,71.0L-165.0,72.0L-165.0,73.0L-165.0,74.0L-165.0,75.0L-165.0,76.0L-165.0,77.0L-165.0,78.0L-165.0,79.0L-165.0,80.0L-165.0,81.0L-165.0,82.0L-165.0,83.0L-165.0,84.0L-165.0,85.0L-165.0,86.0L-165.0,87.0L-165.0,88.0L-165.0,89.0L-165.0,90.0L-166.0,90.0L-167.0,90.0L-168.0,90.0L-169.0,90.0L-170.0,90.0L-171.0,90.0L-172.0,90.0L-173.0,90.0L-174.0,90.0L-175.0,90.0L-176.0,90.0L-177.0,90.0L-178.0,90.0L-179.0,90.0L-180.0,90.0L-180.0,89.0L-180.0,88.0L-180.0,87.0L-180.0,86.0L-180.0,85.0L-180.0,84.0L-180.0,83.0L-180.0,82.0L-180.0,81.0L-180.0,80.0L-180.0,79.0L-180.0,78.0L-180.0,77.0L-180.0,76.0L-180.0,75.0L-180.0,74.0L-180.0,73.0L-180.0,72.0L-180.0,71.0L-180.0,70.0L-180.0,69.0L-180.0,68.0L-180.0,67.0L-180.0,66.0L-180.0,65.0L-180.0,64.0L-180.0,63.9L-179.8,63.0L-179.7,62.0L-179.6,61.0L-179.6,60.0L-179.6,59.0L-179.6,58.0L-179.6,57.0L-179.6,56.0L-179.6,55.0L-179.6,54.0L-179.6,53.0L-179.6,52.0L-179.6,51.0L-179.6,50.0L-179.6,49.0L-179.6,48.0L-179.6,47.0L-179.6,46.0L-179.6,45.0L-179.6,44.0L-179.5,43.0L-179.1,42.0L-179.0,41.8L-178.3,41.0ZM94.0,43.0L95.0,42.8L96.0,42.7L97.0,42.6L98.0,42.6L99.0,42.6L100.0,42.7L101.0,42.8L102.0,42.9L102.3,43.0L103.0,43.2L104.0,43.7L104.6,44.0L105.0,44.2L106.0,44.6L107.0,44.9L107.5,45.0L108.0,45.2L109.0,45.5L110.0,45.9L110.2,46.0L111.0,46.6L111.6,47.0L111.8,48.0L111.0,48.9L110.9,49.0L110.0,49.5L109.0,50.0L108.9,50.0L108.0,50.3L107.0,50.4L106.0,50.4L105.0,50.4L104.0,50.4L103.0,50.4L102.0,50.4L101.0,50.4L100.0,50.4L99.0,50.4L98.0,50.4L97.0,50.2L96.1,50.0L96.0,50.0L95.0,49.6L94.0,49.0L94.0,49.0L93.0,48.1L92.9,48.0L92.0,47.0L92.0,47.0L91.1,46.0L91.0,45.5L90.2,45.0L91.0,44.7L91.4,44.0L92.0,43.9L93.0,43.4L94.0,43.0ZM-147.0,62.9L-146.0,62.8L-145.6,63.0L-145.0,64.0L-145.0,65.0L-145.0,66.0L-145.0,67.0L-145.0,68.0L-145.0,69.0L-145.0,70.0L-145.0,71.0L-145.0,72.0L-145.0,73.0L-145.0,74.0L-145.0,75.0L-145.0,76.0L-145.0,77.0L-145.0,78.0L-145.0,79.0L-145.0,80.0L-145.0,81.0L-145.0,82.0L-145.0,83.0L-145.0,84.0L-145.0,85.0L-145.0,86.0L-145.0,87.0L-145.0,88.0L-145.0,89.0L-145.0,90.0L-146.0,90.0L-147.0,90.0L-148.0,90.0L-149.0,90.0L-150.0,90.0L-150.0,89.0L-150.0,88.0L-150.0,87.0L-150.0,86.0L-150.0,85.0L-150.0,84.0L-150.0,83.0L-150.0,82.0L-150.0,81.0L-150.0,80.0L-150.0,79.0L-150.0,78.0L-150.0,77.0L-150.0,76.0L-150.0,75.0L-150.0,74.0L-150.0,73.0L-150.0,72.0L-150.0,71.0L-150.0,70.0L-150.0,69.0L-149.9,68.0L-149.8,67.0L-149.5,66.0L-149.1,65.0L-149.0,64.8L-148.5,64.0L-148.0,63.4L-147.2,63.0ZM180.0,68.9L180.0,69.0L180.0,70.0L180.0,71.0L180.0,72.0L180.0,73.0L180.0,74.0L180.0,75.0L180.0,76.0L180.0,77.0L180.0,78.0L180.0,79.0L180.0,80.0L180.0,81.0L180.0,82.0L180.0,83.0L180.0,84.0L180.0,85.0L180.0,86.0L180.0,87.0L180.0,88.0L180.0,89.0L180.0,90.0L180.0,90.0L180.0,89.0L180.0,88.0L180.0,87.0L180.0,86.0L180.0,85.0L180.0,84.0L180.0,83.0L180.0,82.0L180.0,81.0L180.0,80.0L180.0,79.0L180.0,78.0L180.0,77.0L180.0,76.0L180.0,75.0L180.0,74.0L180.0,73.0L180.0,72.0L180.0,71.0L180.0,70.0L180.0,69.0ZM58.0,70.0L59.0,69.9L60.0,69.9L61.0,69.9L61.9,70.0L62.0,70.0L63.0,70.3L64.0,71.0L64.0,71.0L64.9,72.0L65.0,72.2L65.6,73.0L66.0,73.4L66.9,74.0L67.0,74.1L68.0,74.4L69.0,74.5L70.0,74.5L71.0,74.5L72.0,74.5L73.0,74.5L74.0,74.5L75.0,74.5L76.0,74.5L77.0,74.6L78.0,74.8L78.3,75.0L79.0,75.4L79.6,76.0L80.0,76.7L80.2,77.0L80.4,78.0L80.5,79.0L80.5,80.0L80.5,81.0L80.7,82.0L81.0,82.9L81.1,83.0L82.0,83.8L83.0,83.8L84.0,83.0L84.0,83.0L84.7,82.0L85.0,81.5L85.4,81.0L86.0,80.4L86.5,80.0L87.0,79.7L88.0,79.1L88.1,79.0L89.0,78.1L89.1,78.0L89.7,77.0L90.0,76.5L90.4,76.0L91.0,75.4L91.7,75.0L92.0,74.8L93.0,74.6L94.0,74.5L95.0,74.5L96.0,74.5L97.0,74.5L98.0,74.5L99.0,74.6L100.0,74.7L101.0,74.7L102.0,74.8L103.0,74.8L104.0,74.9L105.0,74.9L106.0,74.9L107.0,75.0L107.1,75.0L108.0,75.3L109.0,75.9L109.1,76.0L109.9,77.0L110.0,77.1L110.6,78.0L111.0,78.4L111.9,79.0L112.0,79.0L113.0,79.3L114.0,79.3L115.0,79.2L116.0,79.2L117.0,79.1L118.0,79.2L119.0,79.6L119.5,80.0L120.0,80.5L120.4,81.0L120.8,82.0L121.0,83.0L121.0,83.4L121.0,84.0L121.1,85.0L121.1,86.0L121.1,87.0L121.1,88.0L121.1,89.0L121.1,90.0L121.0,90.0L120.0,90.0L119.2,90.0L119.2,89.0L119.2,88.0L119.2,87.0L119.2,86.0L119.2,85.0L119.2,84.0L119.1,83.0L119.0,82.8L118.6,82.0L118.0,81.4L117.1,81.0L117.0,81.0L116.0,80.9L115.0,80.9L114.0,81.0L113.0,80.9L112.0,80.8L111.0,80.5L110.1,80.0L110.0,79.9L109.1,79.0L109.0,78.9L108.3,78.0L108.0,77.6L107.1,77.0L107.0,77.0L106.0,76.8L105.0,76.8L104.0,76.8L103.0,76.7L102.0,76.7L101.0,76.5L100.0,76.4L99.0,76.3L98.0,76.1L97.0,76.1L96.0,76.1L95.0,76.1L94.0,76.1L93.0,76.2L92.0,76.7L91.7,77.0L91.0,77.9L91.0,78.0L90.4,79.0L90.0,79.5L89.5,80.0L89.0,80.4L88.0,81.0L87.9,81.0L87.0,81.7L86.7,82.0L86.0,82.9L86.0,83.0L85.4,84.0L85.0,84.5L84.5,85.0L84.0,85.3L83.0,85.7L82.0,85.7L81.0,85.3L80.5,85.0L80.0,84.5L79.6,84.0L79.2,83.0L79.0,82.0L79.0,81.6L79.0,81.0L78.9,80.0L78.9,79.0L78.8,78.0L78.2,77.0L78.0,76.8L77.0,76.2L76.0,76.1L75.0,76.1L74.0,76.1L73.0,76.1L72.0,76.1L71.0,76.1L70.0,76.0L69.0,76.0L68.3,76.0L68.0,76.0L67.0,75.8L66.0,75.5L65.1,75.0L65.0,74.9L64.1,74.0L64.0,73.9L63.3,73.0L63.0,72.7L62.0,72.0L62.0,72.0L61.0,71.8L60.0,71.8L59.0,71.8L58.0,72.0L57.9,72.0L57.0,72.6L56.7,73.0L56.0,73.9L55.9,74.0L55.0,74.9L54.9,75.0L54.0,75.5L53.0,76.0L53.0,76.0L52.0,76.7L51.7,77.0L51.0,77.9L51.0,78.0L50.4,79.0L50.0,79.5L49.5,80.0L49.0,80.4L48.0,81.0L47.9,81.0L47.0,81.7L46.7,82.0L46.2,83.0L46.1,84.0L46.1,85.0L46.1,86.0L46.1,87.0L46.1,88.0L46.1,89.0L46.1,90.0L46.0,90.0L45.0,90.0L44.6,90.0L44.6,89.0L44.6,88.0L44.6,87.0L44.6,86.0L44.6,85.0L44.6,84.0L44.6,83.0L44.9,82.0L45.0,81.7L45.4,81.0L46.0,80.4L46.5,80.0L47.0,79.7L48.0,79.1L48.1,79.0L49.0,78.1L49.1,78.0L49.7,77.0L50.0,76.5L50.4,76.0L51.0,75.4L51.5,75.0L52.0,74.7L53.0,74.2L53.2,74.0L54.0,73.4L54.4,73.0L55.0,72.1L55.1,72.0L55.9,71.0L56.0,70.9L57.0,70.3L57.9,70.0ZM-72.0,71.7L-71.0,71.6L-70.0,71.6L-69.0,71.7L-68.6,72.0L-69.0,72.5L-70.0,72.8L-70.6,73.0L-71.0,73.0L-72.0,73.0L-72.0,73.0L-72.9,72.0Z" fill="#f03a26" stroke="#f03a26" stroke-width="0.15"/><path d="M18.0,40.8L19.0,40.7L20.0,40.5L21.0,40.4L22.0,40.3L23.0,40.4L24.0,40.8L24.4,41.0L25.0,41.4L26.0,42.0L26.0,42.0L27.0,42.8L27.3,43.0L27.7,44.0L27.5,45.0L27.0,45.9L26.9,46.0L26.0,46.4L25.0,46.7L24.0,46.9L23.6,47.0L23.0,47.1L22.0,47.3L21.0,47.7L20.1,48.0L20.0,48.0L19.0,48.3L18.0,48.4L17.0,48.4L16.0,48.3L15.0,48.0L15.0,48.0L14.0,47.5L13.0,47.0L13.0,47.0L12.2,46.0L12.2,45.0L12.4,44.0L12.9,43.0L13.0,42.9L14.0,42.1L14.2,42.0L15.0,41.7L16.0,41.3L17.0,41.0L17.1,41.0ZM78.0,41.5L78.6,42.0L78.0,42.6L77.6,42.0ZM-115.0,45.9L-114.0,45.5L-113.0,45.2L-112.0,45.1L-111.0,45.0L-110.0,45.0L-109.0,45.0L-108.0,45.1L-107.0,45.2L-106.0,45.3L-105.0,45.5L-104.0,45.7L-103.0,45.9L-102.4,46.0L-102.0,46.1L-101.0,46.5L-100.0,46.9L-99.9,47.0L-99.0,47.9L-98.9,48.0L-99.0,48.5L-99.1,49.0L-100.0,50.0L-100.0,50.0L-101.0,51.0L-101.0,51.0L-102.0,51.8L-102.3,52.0L-103.0,52.5L-103.8,53.0L-104.0,53.1L-105.0,53.7L-105.6,54.0L-106.0,54.2L-107.0,54.6L-108.0,54.7L-109.0,54.5L-110.0,54.1L-110.3,54.0L-111.0,53.6L-112.0,53.1L-112.2,53.0L-113.0,52.6L-114.0,52.4L-115.0,52.2L-115.8,52.0L-116.0,51.9L-116.9,51.0L-117.0,50.8L-117.2,50.0L-117.3,49.0L-117.2,48.0L-117.0,47.7L-116.6,47.0L-116.0,46.5L-115.3,46.0ZM58.0,72.0L59.0,71.8L60.0,71.8L61.0,71.8L62.0,72.0L62.0,72.0L63.0,72.7L63.3,73.0L64.0,73.9L64.1,74.0L65.0,74.9L65.1,75.0L66.0,75.5L67.0,75.8L68.0,76.0L68.3,76.0L69.0,76.0L70.0,76.0L71.0,76.1L72.0,76.1L73.0,76.1L74.0,76.1L75.0,76.1L76.0,76.1L77.0,76.2L78.0,76.8L78.2,77.0L78.8,78.0L78.9,79.0L78.9,80.0L79.0,81.0L79.0,81.6L79.0,82.0L79.2,83.0L79.6,84.0L80.0,84.5L80.5,85.0L81.0,85.3L82.0,85.7L83.0,85.7L84.0,85.3L84.5,85.0L85.0,84.5L85.4,84.0L86.0,83.0L86.0,82.9L86.7,82.0L87.0,81.7L87.9,81.0L88.0,81.0L89.0,80.4L89.5,80.0L90.0,79.5L90.4,79.0L91.0,78.0L91.0,77.9L91.7,77.0L92.0,76.7L93.0,76.2L94.0,76.1L95.0,76.1L96.0,76.1L97.0,76.1L98.0,76.1L99.0,76.3L100.0,76.4L101.0,76.5L102.0,76.7L103.0,76.7L104.0,76.8L105.0,76.8L106.0,76.8L107.0,77.0L107.1,77.0L108.0,77.6L108.3,78.0L109.0,78.9L109.1,79.0L110.0,79.9L110.1,80.0L111.0,80.5L112.0,80.8L113.0,80.9L114.0,81.0L115.0,80.9L116.0,80.9L117.0,81.0L117.1,81.0L118.0,81.4L118.6,82.0L119.0,82.8L119.1,83.0L119.2,84.0L119.2,85.0L119.2,86.0L119.2,87.0L119.2,88.0L119.2,89.0L119.2,90.0L119.0,90.0L118.0,90.0L117.0,90.0L116.0,90.0L115.0,90.0L114.0,90.0L113.0,90.0L112.0,90.0L111.0,90.0L110.0,90.0L109.0,90.0L108.0,90.0L107.0,90.0L106.0,90.0L105.0,90.0L104.0,90.0L103.0,90.0L102.0,90.0L101.0,90.0L100.0,90.0L99.0,90.0L98.0,90.0L97.0,90.0L96.0,90.0L95.0,90.0L94.0,90.0L93.0,90.0L92.0,90.0L91.0,90.0L90.0,90.0L89.0,90.0L88.0,90.0L87.0,90.0L86.0,90.0L85.0,90.0L84.0,90.0L83.0,90.0L82.0,90.0L81.0,90.0L80.0,90.0L79.0,90.0L78.0,90.0L77.0,90.0L76.0,90.0L75.0,90.0L74.0,90.0L73.0,90.0L72.0,90.0L71.0,90.0L70.0,90.0L69.0,90.0L68.0,90.0L67.0,90.0L66.0,90.0L65.0,90.0L64.0,90.0L63.0,90.0L62.0,90.0L61.0,90.0L60.0,90.0L59.0,90.0L58.0,90.0L57.0,90.0L56.0,90.0L55.0,90.0L54.0,90.0L53.0,90.0L52.0,90.0L51.0,90.0L50.0,90.0L49.0,90.0L48.0,90.0L47.0,90.0L46.1,90.0L46.1,89.0L46.1,88.0L46.1,87.0L46.1,86.0L46.1,85.0L46.1,84.0L46.2,83.0L46.7,82.0L47.0,81.7L47.9,81.0L48.0,81.0L49.0,80.4L49.5,80.0L50.0,79.5L50.4,79.0L51.0,78.0L51.0,77.9L51.7,77.0L52.0,76.7L53.0,76.0L53.0,76.0L54.0,75.5L54.9,75.0L55.0,74.9L55.9,74.0L56.0,73.9L56.7,73.0L57.0,72.6L57.9,72.0Z" fill="#d62428" stroke="#d62428" stroke-width="0.15"/><rect x="-180" y="-60" width="360" height="150" fill="url(#hatch)" clip-path="url(#hclip)"/></g><use href="#water" fill="#fff"/><use href="#bord" fill="none" stroke="#1a1a1a" stroke-width="0.374" stroke-opacity="0.85"/><use href="#land" fill="none" stroke="#111" stroke-width="0.490"/><use href="#water" fill="none" stroke="#111" stroke-width="0.490"/></g></g><rect x="41.15" y="19.30" width="393.65" height="164.10" fill="none" stroke="#3a3a3a" stroke-width="0.9"/><line x1="38.15" y1="30.24" x2="41.15" y2="30.24" stroke="#3a3a3a" stroke-width="0.8"/><text x="34.35" y="33.14" text-anchor="end" class="tk">80</text><line x1="38.15" y1="52.11" x2="41.15" y2="52.11" stroke="#3a3a3a" stroke-width="0.8"/><text x="34.35" y="55.01" text-anchor="end" class="tk">60</text><line x1="38.15" y1="73.99" x2="41.15" y2="73.99" stroke="#3a3a3a" stroke-width="0.8"/><text x="34.35" y="76.89" text-anchor="end" class="tk">40</text><line x1="38.15" y1="95.87" x2="41.15" y2="95.87" stroke="#3a3a3a" stroke-width="0.8"/><text x="34.35" y="98.77" text-anchor="end" class="tk">20</text><line x1="38.15" y1="117.74" x2="41.15" y2="117.74" stroke="#3a3a3a" stroke-width="0.8"/><text x="34.35" y="120.64" text-anchor="end" class="tk">0</text><line x1="38.15" y1="139.62" x2="41.15" y2="139.62" stroke="#3a3a3a" stroke-width="0.8"/><text x="34.35" y="142.52" text-anchor="end" class="tk">−20</text><line x1="38.15" y1="161.49" x2="41.15" y2="161.49" stroke="#3a3a3a" stroke-width="0.8"/><text x="34.35" y="164.39" text-anchor="end" class="tk">−40</text><line x1="38.15" y1="183.37" x2="41.15" y2="183.37" stroke="#3a3a3a" stroke-width="0.8"/><text x="34.35" y="186.27" text-anchor="end" class="tk">−60</text><rect x="40.50" y="219.30" width="394.00" height="164.60" fill="none" stroke="#3a3a3a" stroke-width="0.9"/><line x1="37.50" y1="230.27" x2="40.50" y2="230.27" stroke="#3a3a3a" stroke-width="0.8"/><text x="33.70" y="233.17" text-anchor="end" class="tk">80</text><line x1="37.50" y1="252.20" x2="40.50" y2="252.20" stroke="#3a3a3a" stroke-width="0.8"/><text x="33.70" y="255.10" text-anchor="end" class="tk">60</text><line x1="37.50" y1="274.14" x2="40.50" y2="274.14" stroke="#3a3a3a" stroke-width="0.8"/><text x="33.70" y="277.04" text-anchor="end" class="tk">40</text><line x1="37.50" y1="296.08" x2="40.50" y2="296.08" stroke="#3a3a3a" stroke-width="0.8"/><text x="33.70" y="298.98" text-anchor="end" class="tk">20</text><line x1="37.50" y1="318.01" x2="40.50" y2="318.01" stroke="#3a3a3a" stroke-width="0.8"/><text x="33.70" y="320.91" text-anchor="end" class="tk">0</text><line x1="37.50" y1="339.95" x2="40.50" y2="339.95" stroke="#3a3a3a" stroke-width="0.8"/><text x="33.70" y="342.85" text-anchor="end" class="tk">−20</text><line x1="37.50" y1="361.88" x2="40.50" y2="361.88" stroke="#3a3a3a" stroke-width="0.8"/><text x="33.70" y="364.78" text-anchor="end" class="tk">−40</text><line x1="37.50" y1="383.82" x2="40.50" y2="383.82" stroke="#3a3a3a" stroke-width="0.8"/><text x="33.70" y="386.72" text-anchor="end" class="tk">−60</text><rect x="38.44" y="418.60" width="401.46" height="167.60" fill="none" stroke="#3a3a3a" stroke-width="0.9"/><line x1="35.44" y1="429.12" x2="38.44" y2="429.12" stroke="#3a3a3a" stroke-width="0.8"/><text x="31.64" y="432.52" text-anchor="end" class="tk2">80</text><line x1="35.44" y1="451.56" x2="38.44" y2="451.56" stroke="#3a3a3a" stroke-width="0.8"/><text x="31.64" y="454.96" text-anchor="end" class="tk2">60</text><line x1="35.44" y1="474.00" x2="38.44" y2="474.00" stroke="#3a3a3a" stroke-width="0.8"/><text x="31.64" y="477.40" text-anchor="end" class="tk2">40</text><line x1="35.44" y1="496.44" x2="38.44" y2="496.44" stroke="#3a3a3a" stroke-width="0.8"/><text x="31.64" y="499.84" text-anchor="end" class="tk2">20</text><line x1="35.44" y1="518.88" x2="38.44" y2="518.88" stroke="#3a3a3a" stroke-width="0.8"/><text x="31.64" y="522.28" text-anchor="end" class="tk2">0</text><line x1="35.44" y1="541.32" x2="38.44" y2="541.32" stroke="#3a3a3a" stroke-width="0.8"/><text x="31.64" y="544.72" text-anchor="end" class="tk2">−20</text><line x1="35.44" y1="563.76" x2="38.44" y2="563.76" stroke="#3a3a3a" stroke-width="0.8"/><text x="31.64" y="567.16" text-anchor="end" class="tk2">−40</text><line x1="35.44" y1="586.20" x2="38.44" y2="586.20" stroke="#3a3a3a" stroke-width="0.8"/><text x="31.64" y="589.60" text-anchor="end" class="tk2">−60</text><line x1="72.10" y1="586.20" x2="72.10" y2="589.20" stroke="#3a3a3a" stroke-width="0.8"/><text x="72.10" y="599.10" text-anchor="middle" class="tk2">−150</text><line x1="128.20" y1="586.20" x2="128.20" y2="589.20" stroke="#3a3a3a" stroke-width="0.8"/><text x="128.20" y="599.10" text-anchor="middle" class="tk2">−100</text><line x1="184.30" y1="586.20" x2="184.30" y2="589.20" stroke="#3a3a3a" stroke-width="0.8"/><text x="184.30" y="599.10" text-anchor="middle" class="tk2">−50</text><line x1="240.40" y1="586.20" x2="240.40" y2="589.20" stroke="#3a3a3a" stroke-width="0.8"/><text x="240.40" y="599.10" text-anchor="middle" class="tk2">0</text><line x1="296.50" y1="586.20" x2="296.50" y2="589.20" stroke="#3a3a3a" stroke-width="0.8"/><text x="296.50" y="599.10" text-anchor="middle" class="tk2">50</text><line x1="352.60" y1="586.20" x2="352.60" y2="589.20" stroke="#3a3a3a" stroke-width="0.8"/><text x="352.60" y="599.10" text-anchor="middle" class="tk2">100</text><line x1="408.70" y1="586.20" x2="408.70" y2="589.20" stroke="#3a3a3a" stroke-width="0.8"/><text x="408.70" y="599.10" text-anchor="middle" class="tk2">150</text><polygon points="123.30,63.14 183.58,63.14 155.08,83.96 161.66,90.54 138.64,90.54 123.30,81.77" fill="none" stroke="#000" stroke-width="2" stroke-linejoin="miter"/><polygon points="139.74,90.54 161.66,90.54 175.91,104.24 157.28,104.24 147.41,115.20 124.94,99.86" fill="none" stroke="#000" stroke-width="2" stroke-linejoin="miter"/><polygon points="160.02,104.79 179.74,104.79 184.68,117.94 201.12,117.94 201.12,139.86 178.10,160.68 162.76,160.68 164.95,137.67 160.02,133.28" fill="none" stroke="#000" stroke-width="2" stroke-linejoin="miter"/><polygon points="228.52,68.62 282.77,68.62 282.77,84.51 275.64,84.51 286.28,102.05 255.37,102.05 248.90,117.17 216.79,109.61 216.79,84.73 228.52,84.73" fill="none" stroke="#000" stroke-width="2" stroke-linejoin="miter"/><polygon points="276.19,85.06 294.71,85.06 305.46,91.64 286.93,103.69" fill="none" stroke="#000" stroke-width="2" stroke-linejoin="miter"/><polygon points="305.24,84.51 336.47,89.44 349.08,85.06 349.08,77.39 358.94,77.39 367.71,68.62 406.07,68.62 384.15,89.44 384.15,112.46 408.26,127.80 341.95,128.35 341.95,93.83 337.02,93.83 327.16,109.17 322.77,109.17 311.81,90.54 305.24,90.54" fill="none" stroke="#000" stroke-width="2" stroke-linejoin="miter"/><polygon points="360.04,128.90 410.45,128.90 410.45,172.74 360.04,156.30" fill="none" stroke="#000" stroke-width="2" stroke-linejoin="miter"/><text x="146.54" y="76.46" text-anchor="middle" class="bx">EUS</text><text x="149.38" y="102.77" text-anchor="middle" class="bx">CAM</text><text x="178.10" y="137.18" text-anchor="middle" class="bx">ESA</text><text x="248.90" y="91.92" text-anchor="middle" class="bx">MNAF</text><text x="291.21" y="95.75" text-anchor="middle" class="bx">ARP</text><text x="362.45" y="101.56" text-anchor="middle" class="bx">ESEA</text><text x="386.45" y="149.46" text-anchor="middle" class="bx">AU</text><rect x="479.1" y="135.30" width="45.2" height="27.70" fill="#e0201a"/><rect x="479.1" y="162.80" width="45.2" height="27.70" fill="#e46428"/><rect x="479.1" y="190.30" width="45.2" height="27.70" fill="#e5903a"/><rect x="479.1" y="217.80" width="45.2" height="27.70" fill="#e5be50"/><rect x="479.1" y="245.30" width="45.2" height="27.70" fill="#ecf860"/><rect x="479.1" y="272.80" width="45.2" height="27.70" fill="#90d28c"/><rect x="479.1" y="135.3" width="45.2" height="165.0" fill="none" stroke="#3a3a3a" stroke-width="0.9"/><line x1="524.3000000000001" y1="135.30" x2="527.3000000000001" y2="135.30" stroke="#3a3a3a" stroke-width="0.8"/><line x1="524.3000000000001" y1="162.80" x2="527.3000000000001" y2="162.80" stroke="#3a3a3a" stroke-width="0.8"/><line x1="524.3000000000001" y1="190.30" x2="527.3000000000001" y2="190.30" stroke="#3a3a3a" stroke-width="0.8"/><line x1="524.3000000000001" y1="217.80" x2="527.3000000000001" y2="217.80" stroke="#3a3a3a" stroke-width="0.8"/><line x1="524.3000000000001" y1="245.30" x2="527.3000000000001" y2="245.30" stroke="#3a3a3a" stroke-width="0.8"/><line x1="524.3000000000001" y1="272.80" x2="527.3000000000001" y2="272.80" stroke="#3a3a3a" stroke-width="0.8"/><line x1="524.3000000000001" y1="300.30" x2="527.3000000000001" y2="300.30" stroke="#3a3a3a" stroke-width="0.8"/><text x="527.8" y="153.15" class="lg">state of emergency</text><text x="527.8" y="176.25" class="lg">everyone feels severe stress</text><text x="574.3" y="185.85" class="lg">29~32<tspan dx="1.3" dy="-3.1" font-size="7.4">∘</tspan><tspan dx="0.4" dy="3.1">C</tspan></text><text x="527.8" y="203.75" class="lg">most of the population in discomfort</text><text x="574.3" y="213.35" class="lg">27~29<tspan dx="1.3" dy="-3.1" font-size="7.4">∘</tspan><tspan dx="0.4" dy="3.1">C</tspan></text><text x="527.8" y="231.25" class="lg">&gt;50% of population in discomfort</text><text x="574.3" y="240.85" class="lg">24~27<tspan dx="1.3" dy="-3.1" font-size="7.4">∘</tspan><tspan dx="0.4" dy="3.1">C</tspan></text><text x="527.8" y="258.75" class="lg">&lt;50% of population in discomfort</text><text x="574.3" y="268.35" class="lg">21~24<tspan dx="1.3" dy="-3.1" font-size="7.4">∘</tspan><tspan dx="0.4" dy="3.1">C</tspan></text><text x="527.8" y="290.65" class="lg">no discomfort</text><rect x="486.3" y="425.70" width="46.9" height="19.27" fill="#9b1630"/><rect x="486.3" y="444.77" width="46.9" height="19.27" fill="#d62428"/><rect x="486.3" y="463.85" width="46.9" height="19.27" fill="#f03a26"/><rect x="486.3" y="482.92" width="46.9" height="19.27" fill="#f26e3a"/><rect x="486.3" y="502.00" width="46.9" height="19.27" fill="#eca050"/><rect x="486.3" y="521.07" width="46.9" height="19.27" fill="#ecc66c"/><rect x="486.3" y="540.15" width="46.9" height="19.27" fill="#f0e48c"/><rect x="486.3" y="559.22" width="46.9" height="19.27" fill="#f4f6c0"/><polygon points="486.3,426.09999999999997 486.3,425.7 509.75,418.09999999999997 533.2,425.7 533.2,426.09999999999997" fill="#80142a"/><polygon points="486.3,577.9 486.3,578.3 509.75,586.1999999999999 533.2,578.3 533.2,577.9" fill="#f6f9c6"/><polygon points="486.3,425.7 509.75,418.09999999999997 533.2,425.7 533.2,578.3 509.75,586.1999999999999 486.3,578.3" fill="none" stroke="#3a3a3a" stroke-width="0.8"/><line x1="533.2" y1="425.70" x2="536.2" y2="425.70" stroke="#3a3a3a" stroke-width="0.8"/><text x="539.4" y="429.90" class="tk2">3.6</text><line x1="533.2" y1="463.85" x2="536.2" y2="463.85" stroke="#3a3a3a" stroke-width="0.8"/><text x="539.4" y="468.05" class="tk2">3.0</text><line x1="533.2" y1="502.00" x2="536.2" y2="502.00" stroke="#3a3a3a" stroke-width="0.8"/><text x="539.4" y="506.20" class="tk2">2.4</text><line x1="533.2" y1="540.15" x2="536.2" y2="540.15" stroke="#3a3a3a" stroke-width="0.8"/><text x="539.4" y="544.35" class="tk2">1.8</text><line x1="533.2" y1="578.30" x2="536.2" y2="578.30" stroke="#3a3a3a" stroke-width="0.8"/><text x="539.4" y="582.50" class="tk2">1.2</text><text x="499.3" y="416.4" class="lg2">(<tspan dx="1.3" dy="-3.4" font-size="8.6">∘</tspan><tspan dx="1.3" dy="3.6">C)</tspan></text><text x="41.5" y="9.3" class="pl">a</text><text x="242.5" y="9.7" text-anchor="middle" class="ti">PRE Moist Heat Severity</text><text x="40.8" y="209.3" class="pl">b</text><text x="239.4" y="209.4" text-anchor="middle" class="ti">FUT Moist Heat Severity</text><text x="38.8" y="408" class="pl">c</text><text x="248" y="407.9" text-anchor="middle" class="ti" style="font-size:10.5px">Moist Heat Increases</text><text transform="translate(10.6,299.9) rotate(-90)" text-anchor="middle" class="ax">Latitude</text><text x="239" y="617.9" text-anchor="middle" class="ax">Longitude</text></svg></body></html>
